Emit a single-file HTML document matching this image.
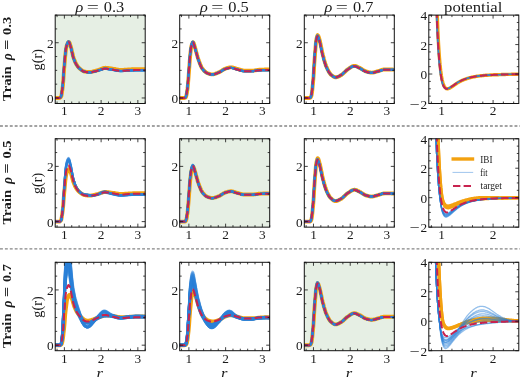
<!DOCTYPE html>
<html><head><meta charset="utf-8"><title>g(r) comparison</title><style>
html,body{margin:0;padding:0;background:#fff;}
body{width:520px;height:377px;overflow:hidden;}
svg{display:block;}
text{font-family:'Liberation Serif', 'DejaVu Serif', serif;fill:#1a1a1a;}
.tl{font-size:13px;}
.tt{font-size:13.5px;}
.rl{font-size:13px;font-weight:bold;}
.yl{font-size:12.5px;}
.xl{font-size:13.5px;font-style:italic;}
.lg{font-size:9px;}
</style></head><body>
<svg width="520" height="377" viewBox="0 0 520 377">
<defs>
<clipPath id="c00"><rect x="55.20" y="15.10" width="90.00" height="88.40"/></clipPath>
<clipPath id="c01"><rect x="179.70" y="15.10" width="90.00" height="88.40"/></clipPath>
<clipPath id="c02"><rect x="304.30" y="15.10" width="90.00" height="88.40"/></clipPath>
<clipPath id="c03"><rect x="428.80" y="15.10" width="90.00" height="88.40"/></clipPath>
<clipPath id="c10"><rect x="55.20" y="138.75" width="90.00" height="88.40"/></clipPath>
<clipPath id="c11"><rect x="179.70" y="138.75" width="90.00" height="88.40"/></clipPath>
<clipPath id="c12"><rect x="304.30" y="138.75" width="90.00" height="88.40"/></clipPath>
<clipPath id="c13"><rect x="428.80" y="138.75" width="90.00" height="88.40"/></clipPath>
<clipPath id="c20"><rect x="55.20" y="262.30" width="90.00" height="88.40"/></clipPath>
<clipPath id="c21"><rect x="179.70" y="262.30" width="90.00" height="88.40"/></clipPath>
<clipPath id="c22"><rect x="304.30" y="262.30" width="90.00" height="88.40"/></clipPath>
<clipPath id="c23"><rect x="428.80" y="262.30" width="90.00" height="88.40"/></clipPath>
</defs>
<rect width="520" height="377" fill="#fff"/>
<rect x="55.20" y="15.10" width="90.00" height="88.40" fill="#e6efe4"/>
<g clip-path="url(#c00)" fill="none" stroke-linejoin="round">
<path d="M53.4 98.0L53.9 98.0 54.5 98.0 55.1 98.0 55.6 98.0 56.2 98.0 56.8 98.0 57.3 98.0 57.9 98.0 58.4 98.0 59.0 98.0 59.6 97.9 60.1 97.7 60.7 97.3 61.3 96.3 61.8 93.4 62.4 89.4 63.0 84.7 63.5 77.5 64.1 69.3 64.7 62.4 65.2 56.2 65.8 50.6 66.4 47.0 66.9 45.1 67.5 43.6 68.1 42.5 68.6 41.9 69.2 42.2 69.8 43.4 70.3 45.1 70.9 46.8 71.4 48.9 72.0 51.4 72.6 54.0 73.1 56.3 73.7 58.1 74.3 59.7 74.8 61.1 75.4 62.5 76.0 63.6 76.5 64.6 77.1 65.5 77.7 66.3 78.2 67.0 78.8 67.7 79.4 68.2 79.9 68.7 80.5 69.2 81.1 69.6 81.6 70.1 82.2 70.5 82.8 70.8 83.3 71.1 83.9 71.4 84.4 71.5 85.0 71.6 85.6 71.7 86.1 71.8 86.7 71.9 87.3 71.9 87.8 72.0 88.4 72.0 89.0 72.0 89.5 72.0 90.1 72.0 90.7 72.0 91.2 71.9 91.8 71.8 92.4 71.7 92.9 71.5 93.5 71.4 94.1 71.2 94.6 71.1 95.2 70.9 95.7 70.7 96.3 70.6 96.9 70.4 97.4 70.3 98.0 70.1 98.6 69.9 99.1 69.7 99.7 69.5 100.3 69.2 100.8 69.0 101.4 68.8 102.0 68.6 102.5 68.4 103.1 68.2 103.7 68.0 104.2 67.9 104.8 67.9 105.4 67.8 105.9 67.8 106.5 67.9 107.1 67.9 107.6 67.9 108.2 68.0 108.7 68.1 109.3 68.1 109.9 68.2 110.4 68.3 111.0 68.4 111.6 68.5 112.1 68.6 112.7 68.7 113.3 68.8 113.8 68.9 114.4 68.9 115.0 69.0 115.5 69.2 116.1 69.3 116.7 69.4 117.2 69.5 117.8 69.6 118.4 69.7 118.9 69.8 119.5 69.9 120.1 69.9 120.6 70.0 121.2 70.0 121.7 69.9 122.3 69.9 122.9 69.9 123.4 69.9 124.0 69.8 124.6 69.8 125.1 69.8 125.7 69.7 126.3 69.7 126.8 69.6 127.4 69.6 128.0 69.5 128.5 69.5 129.1 69.4 129.7 69.4 130.2 69.4 130.8 69.4 131.4 69.3 131.9 69.3 132.5 69.3 133.0 69.2 133.6 69.2 134.2 69.2 134.7 69.2 135.3 69.1 135.9 69.1 136.4 69.1 137.0 69.1 137.6 69.1 138.1 69.1 138.7 69.1 139.3 69.1 139.8 69.1 140.4 69.1 141.0 69.1 141.5 69.1 142.1 69.1 142.7 69.1 143.2 69.2 143.8 69.2 144.4 69.2 144.9 69.2 145.5 69.2 146.0 69.3 146.6 69.3 147.2 69.3 147.7 69.3 148.3 69.4 148.9 69.4" stroke="#f3a10f" stroke-width="3.9"/>
<path d="M53.4 98.0L53.9 98.0 54.5 98.0 55.1 98.0 55.6 98.0 56.2 98.0 56.8 98.0 57.3 98.0 57.9 98.0 58.4 98.0 59.0 98.0 59.6 97.8 60.1 97.5 60.7 97.0 61.3 94.9 61.8 91.4 62.4 87.1 63.0 81.1 63.5 73.2 64.1 65.5 64.7 59.3 65.2 53.3 65.8 48.7 66.4 46.3 66.9 44.6 67.5 43.3 68.1 42.5 68.6 42.3 69.2 43.1 69.8 44.6 70.3 46.3 70.9 48.1 71.4 50.4 72.0 53.0 72.6 55.4 73.1 57.4 73.7 59.1 74.3 60.6 74.8 62.0 75.4 63.2 76.0 64.2 76.5 65.2 77.1 66.0 77.7 66.8 78.2 67.4 78.8 68.0 79.4 68.5 79.9 69.0 80.5 69.5 81.1 70.0 81.6 70.4 82.2 70.8 82.8 71.1 83.3 71.4 83.9 71.6 84.4 71.7 85.0 71.9 85.6 72.0 86.1 72.0 86.7 72.1 87.3 72.2 87.8 72.3 88.4 72.3 89.0 72.3 89.5 72.3 90.1 72.3 90.7 72.3 91.2 72.2 91.8 72.1 92.4 72.0 92.9 71.9 93.5 71.8 94.1 71.7 94.6 71.5 95.2 71.4 95.7 71.3 96.3 71.1 96.9 71.0 97.4 70.9 98.0 70.7 98.6 70.6 99.1 70.4 99.7 70.2 100.3 70.0 100.8 69.8 101.4 69.6 102.0 69.4 102.5 69.3 103.1 69.1 103.7 69.0 104.2 69.0 104.8 68.9 105.4 69.0 105.9 69.0 106.5 69.0 107.1 69.1 107.6 69.2 108.2 69.2 108.7 69.3 109.3 69.4 109.9 69.5 110.4 69.6 111.0 69.7 111.6 69.8 112.1 69.9 112.7 70.0 113.3 70.1 113.8 70.2 114.4 70.3 115.0 70.4 115.5 70.5 116.1 70.6 116.7 70.7 117.2 70.8 117.8 70.9 118.4 71.0 118.9 71.1 119.5 71.1 120.1 71.2 120.6 71.2 121.2 71.2 121.7 71.2 122.3 71.1 122.9 71.1 123.4 71.1 124.0 71.0 124.6 71.0 125.1 71.0 125.7 70.9 126.3 70.9 126.8 70.8 127.4 70.8 128.0 70.7 128.5 70.7 129.1 70.7 129.7 70.6 130.2 70.6 130.8 70.6 131.4 70.6 131.9 70.5 132.5 70.5 133.0 70.5 133.6 70.4 134.2 70.4 134.7 70.4 135.3 70.4 135.9 70.4 136.4 70.4 137.0 70.4 137.6 70.4 138.1 70.4 138.7 70.4 139.3 70.4 139.8 70.4 140.4 70.4 141.0 70.4 141.5 70.4 142.1 70.4 142.7 70.4 143.2 70.4 143.8 70.4 144.4 70.4 144.9 70.5 145.5 70.5 146.0 70.5 146.6 70.5 147.2 70.6 147.7 70.6 148.3 70.6 148.9 70.7" stroke="#2a7fd8" stroke-width="2.2" stroke-opacity="0.5"/>
<path d="M53.4 98.0L53.9 98.0 54.5 98.0 55.1 98.0 55.6 98.0 56.2 98.0 56.8 98.0 57.3 98.0 57.9 98.0 58.4 98.0 59.0 98.0 59.6 97.9 60.1 97.6 60.7 97.2 61.3 95.7 61.8 92.4 62.4 88.2 63.0 83.0 63.5 75.3 64.1 67.3 64.7 60.8 65.2 54.7 65.8 49.6 66.4 46.7 66.9 44.9 67.5 43.5 68.1 42.5 68.6 42.1 69.2 42.6 69.8 44.0 70.3 45.7 70.9 47.5 71.4 49.7 72.0 52.2 72.6 54.7 73.1 56.9 73.7 58.6 74.3 60.1 74.8 61.6 75.4 62.8 76.0 63.9 76.5 64.9 77.1 65.8 77.7 66.6 78.2 67.2 78.8 67.9 79.4 68.4 79.9 68.9 80.5 69.4 81.1 69.8 81.6 70.3 82.2 70.7 82.8 71.0 83.3 71.3 83.9 71.5 84.4 71.7 85.0 71.8 85.6 71.9 86.1 72.0 86.7 72.1 87.3 72.2 87.8 72.2 88.4 72.3 89.0 72.3 89.5 72.3 90.1 72.3 90.7 72.3 91.2 72.2 91.8 72.2 92.4 72.1 92.9 72.0 93.5 71.8 94.1 71.7 94.6 71.6 95.2 71.4 95.7 71.3 96.3 71.2 96.9 71.0 97.4 70.9 98.0 70.8 98.6 70.6 99.1 70.4 99.7 70.2 100.3 70.0 100.8 69.8 101.4 69.6 102.0 69.4 102.5 69.3 103.1 69.1 103.7 69.0 104.2 68.9 104.8 68.9 105.4 68.9 105.9 68.9 106.5 69.0 107.1 69.0 107.6 69.1 108.2 69.2 108.7 69.3 109.3 69.3 109.9 69.4 110.4 69.5 111.0 69.6 111.6 69.7 112.1 69.8 112.7 69.9 113.3 70.0 113.8 70.1 114.4 70.2 115.0 70.3 115.5 70.4 116.1 70.5 116.7 70.6 117.2 70.7 117.8 70.8 118.4 70.9 118.9 71.0 119.5 71.1 120.1 71.1 120.6 71.1 121.2 71.1 121.7 71.1 122.3 71.1 122.9 71.1 123.4 71.0 124.0 71.0 124.6 71.0 125.1 70.9 125.7 70.9 126.3 70.8 126.8 70.8 127.4 70.8 128.0 70.7 128.5 70.7 129.1 70.6 129.7 70.6 130.2 70.6 130.8 70.5 131.4 70.5 131.9 70.5 132.5 70.5 133.0 70.4 133.6 70.4 134.2 70.4 134.7 70.4 135.3 70.3 135.9 70.3 136.4 70.3 137.0 70.3 137.6 70.3 138.1 70.3 138.7 70.3 139.3 70.3 139.8 70.3 140.4 70.3 141.0 70.3 141.5 70.3 142.1 70.4 142.7 70.4 143.2 70.4 143.8 70.4 144.4 70.4 144.9 70.4 145.5 70.4 146.0 70.5 146.6 70.5 147.2 70.5 147.7 70.6 148.3 70.6 148.9 70.6" stroke="#2a7fd8" stroke-width="2.2" stroke-opacity="0.5"/>
<path d="M53.4 98.0L53.9 98.0 54.5 98.0 55.1 98.0 55.6 98.0 56.2 98.0 56.8 98.0 57.3 98.0 57.9 98.0 58.4 98.0 59.0 98.0 59.6 97.9 60.1 97.6 60.7 97.2 61.3 95.6 61.8 92.3 62.4 88.1 63.0 82.8 63.5 75.0 64.1 67.0 64.7 60.6 65.2 54.4 65.8 49.3 66.4 46.5 66.9 44.7 67.5 43.3 68.1 42.3 68.6 42.0 69.2 42.5 69.8 43.9 70.3 45.6 70.9 47.4 71.4 49.6 72.0 52.2 72.6 54.7 73.1 56.9 73.7 58.6 74.3 60.1 74.8 61.6 75.4 62.8 76.0 64.0 76.5 64.9 77.1 65.8 77.7 66.6 78.2 67.3 78.8 67.9 79.4 68.4 79.9 68.9 80.5 69.4 81.1 69.8 81.6 70.3 82.2 70.7 82.8 71.0 83.3 71.3 83.9 71.6 84.4 71.7 85.0 71.8 85.6 71.9 86.1 72.0 86.7 72.1 87.3 72.2 87.8 72.2 88.4 72.3 89.0 72.3 89.5 72.3 90.1 72.3 90.7 72.3 91.2 72.2 91.8 72.1 92.4 72.1 92.9 71.9 93.5 71.8 94.1 71.7 94.6 71.5 95.2 71.4 95.7 71.3 96.3 71.1 96.9 71.0 97.4 70.9 98.0 70.7 98.6 70.5 99.1 70.4 99.7 70.2 100.3 70.0 100.8 69.8 101.4 69.6 102.0 69.4 102.5 69.2 103.1 69.1 103.7 69.0 104.2 68.9 104.8 68.9 105.4 68.9 105.9 68.9 106.5 68.9 107.1 69.0 107.6 69.1 108.2 69.1 108.7 69.2 109.3 69.3 109.9 69.4 110.4 69.5 111.0 69.6 111.6 69.7 112.1 69.8 112.7 69.9 113.3 70.0 113.8 70.1 114.4 70.2 115.0 70.3 115.5 70.4 116.1 70.5 116.7 70.6 117.2 70.7 117.8 70.8 118.4 70.9 118.9 71.0 119.5 71.0 120.1 71.1 120.6 71.1 121.2 71.1 121.7 71.1 122.3 71.1 122.9 71.0 123.4 71.0 124.0 71.0 124.6 70.9 125.1 70.9 125.7 70.8 126.3 70.8 126.8 70.8 127.4 70.7 128.0 70.7 128.5 70.6 129.1 70.6 129.7 70.6 130.2 70.5 130.8 70.5 131.4 70.5 131.9 70.5 132.5 70.4 133.0 70.4 133.6 70.4 134.2 70.3 134.7 70.3 135.3 70.3 135.9 70.3 136.4 70.3 137.0 70.3 137.6 70.3 138.1 70.3 138.7 70.3 139.3 70.3 139.8 70.3 140.4 70.3 141.0 70.3 141.5 70.3 142.1 70.3 142.7 70.3 143.2 70.3 143.8 70.3 144.4 70.4 144.9 70.4 145.5 70.4 146.0 70.4 146.6 70.5 147.2 70.5 147.7 70.5 148.3 70.5 148.9 70.6" stroke="#2a7fd8" stroke-width="2.2" stroke-opacity="0.5"/>
<path d="M53.4 98.0L53.9 98.0 54.5 98.0 55.1 98.0 55.6 98.0 56.2 98.0 56.8 98.0 57.3 98.0 57.9 98.0 58.4 98.0 59.0 98.0 59.6 97.9 60.1 97.6 60.7 97.1 61.3 95.5 61.8 92.2 62.4 88.0 63.0 82.6 63.5 74.7 64.1 66.7 64.7 60.3 65.2 54.1 65.8 49.1 66.4 46.3 66.9 44.5 67.5 43.1 68.1 42.1 68.6 41.8 69.2 42.4 69.8 43.8 70.3 45.6 70.9 47.3 71.4 49.6 72.0 52.2 72.6 54.7 73.1 56.9 73.7 58.6 74.3 60.1 74.8 61.6 75.4 62.9 76.0 64.0 76.5 64.9 77.1 65.8 77.7 66.6 78.2 67.3 78.8 67.9 79.4 68.4 79.9 68.9 80.5 69.4 81.1 69.9 81.6 70.3 82.2 70.7 82.8 71.0 83.3 71.3 83.9 71.6 84.4 71.7 85.0 71.8 85.6 71.9 86.1 72.0 86.7 72.1 87.3 72.2 87.8 72.2 88.4 72.3 89.0 72.3 89.5 72.3 90.1 72.3 90.7 72.3 91.2 72.2 91.8 72.1 92.4 72.0 92.9 71.9 93.5 71.8 94.1 71.7 94.6 71.5 95.2 71.4 95.7 71.3 96.3 71.1 96.9 71.0 97.4 70.9 98.0 70.7 98.6 70.5 99.1 70.3 99.7 70.1 100.3 69.9 100.8 69.7 101.4 69.5 102.0 69.3 102.5 69.2 103.1 69.0 103.7 68.9 104.2 68.9 104.8 68.8 105.4 68.8 105.9 68.9 106.5 68.9 107.1 68.9 107.6 69.0 108.2 69.1 108.7 69.2 109.3 69.3 109.9 69.4 110.4 69.5 111.0 69.6 111.6 69.7 112.1 69.8 112.7 69.8 113.3 69.9 113.8 70.0 114.4 70.1 115.0 70.2 115.5 70.3 116.1 70.4 116.7 70.6 117.2 70.7 117.8 70.8 118.4 70.9 118.9 70.9 119.5 71.0 120.1 71.0 120.6 71.1 121.2 71.1 121.7 71.0 122.3 71.0 122.9 71.0 123.4 71.0 124.0 70.9 124.6 70.9 125.1 70.9 125.7 70.8 126.3 70.8 126.8 70.7 127.4 70.7 128.0 70.6 128.5 70.6 129.1 70.6 129.7 70.5 130.2 70.5 130.8 70.5 131.4 70.4 131.9 70.4 132.5 70.4 133.0 70.4 133.6 70.3 134.2 70.3 134.7 70.3 135.3 70.3 135.9 70.2 136.4 70.2 137.0 70.2 137.6 70.2 138.1 70.2 138.7 70.2 139.3 70.2 139.8 70.2 140.4 70.2 141.0 70.3 141.5 70.3 142.1 70.3 142.7 70.3 143.2 70.3 143.8 70.3 144.4 70.3 144.9 70.3 145.5 70.4 146.0 70.4 146.6 70.4 147.2 70.4 147.7 70.5 148.3 70.5 148.9 70.5" stroke="#2a7fd8" stroke-width="2.2" stroke-opacity="0.5"/>
<path d="M53.4 98.0L53.9 98.0 54.5 98.0 55.1 98.0 55.6 98.0 56.2 98.0 56.8 98.0 57.3 98.0 57.9 98.0 58.4 98.0 59.0 98.0 59.6 97.9 60.1 97.6 60.7 97.1 61.3 95.4 61.8 92.1 62.4 87.9 63.0 82.3 63.5 74.4 64.1 66.4 64.7 60.0 65.2 53.8 65.8 48.8 66.4 46.1 66.9 44.3 67.5 42.8 68.1 41.9 68.6 41.6 69.2 42.3 69.8 43.7 70.3 45.5 70.9 47.3 71.4 49.6 72.0 52.2 72.6 54.8 73.1 56.9 73.7 58.6 74.3 60.2 74.8 61.6 75.4 62.9 76.0 64.0 76.5 64.9 77.1 65.8 77.7 66.6 78.2 67.3 78.8 67.9 79.4 68.4 79.9 68.9 80.5 69.4 81.1 69.9 81.6 70.3 82.2 70.7 82.8 71.0 83.3 71.3 83.9 71.6 84.4 71.7 85.0 71.8 85.6 71.9 86.1 72.0 86.7 72.1 87.3 72.2 87.8 72.2 88.4 72.3 89.0 72.3 89.5 72.3 90.1 72.3 90.7 72.3 91.2 72.2 91.8 72.1 92.4 72.0 92.9 71.9 93.5 71.8 94.1 71.7 94.6 71.5 95.2 71.4 95.7 71.2 96.3 71.1 96.9 71.0 97.4 70.8 98.0 70.7 98.6 70.5 99.1 70.3 99.7 70.1 100.3 69.9 100.8 69.7 101.4 69.5 102.0 69.3 102.5 69.1 103.1 69.0 103.7 68.9 104.2 68.8 104.8 68.8 105.4 68.8 105.9 68.8 106.5 68.9 107.1 68.9 107.6 69.0 108.2 69.0 108.7 69.1 109.3 69.2 109.9 69.3 110.4 69.4 111.0 69.5 111.6 69.6 112.1 69.7 112.7 69.8 113.3 69.9 113.8 70.0 114.4 70.1 115.0 70.2 115.5 70.3 116.1 70.4 116.7 70.5 117.2 70.6 117.8 70.7 118.4 70.8 118.9 70.9 119.5 71.0 120.1 71.0 120.6 71.0 121.2 71.0 121.7 71.0 122.3 71.0 122.9 71.0 123.4 70.9 124.0 70.9 124.6 70.9 125.1 70.8 125.7 70.8 126.3 70.7 126.8 70.7 127.4 70.6 128.0 70.6 128.5 70.5 129.1 70.5 129.7 70.5 130.2 70.5 130.8 70.4 131.4 70.4 131.9 70.4 132.5 70.3 133.0 70.3 133.6 70.3 134.2 70.3 134.7 70.2 135.3 70.2 135.9 70.2 136.4 70.2 137.0 70.2 137.6 70.2 138.1 70.2 138.7 70.2 139.3 70.2 139.8 70.2 140.4 70.2 141.0 70.2 141.5 70.2 142.1 70.2 142.7 70.2 143.2 70.3 143.8 70.3 144.4 70.3 144.9 70.3 145.5 70.3 146.0 70.3 146.6 70.4 147.2 70.4 147.7 70.4 148.3 70.5 148.9 70.5" stroke="#2a7fd8" stroke-width="2.2" stroke-opacity="0.5"/>
<path d="M53.4 98.0L53.9 98.0 54.5 98.0 55.1 98.0 55.6 98.0 56.2 98.0 56.8 98.0 57.3 98.0 57.9 98.0 58.4 98.0 59.0 98.0 59.6 97.9 60.1 97.6 60.7 97.1 61.3 95.4 61.8 92.0 62.4 87.8 63.0 82.1 63.5 74.1 64.1 66.1 64.7 59.7 65.2 53.5 65.8 48.5 66.4 45.9 66.9 44.1 67.5 42.6 68.1 41.7 68.6 41.4 69.2 42.1 69.8 43.6 70.3 45.4 70.9 47.2 71.4 49.6 72.0 52.2 72.6 54.8 73.1 56.9 73.7 58.6 74.3 60.2 74.8 61.6 75.4 62.9 76.0 64.0 76.5 64.9 77.1 65.8 77.7 66.6 78.2 67.3 78.8 67.9 79.4 68.4 79.9 68.9 80.5 69.4 81.1 69.9 81.6 70.3 82.2 70.7 82.8 71.1 83.3 71.3 83.9 71.6 84.4 71.7 85.0 71.8 85.6 71.9 86.1 72.0 86.7 72.1 87.3 72.2 87.8 72.2 88.4 72.3 89.0 72.3 89.5 72.3 90.1 72.3 90.7 72.3 91.2 72.2 91.8 72.1 92.4 72.0 92.9 71.9 93.5 71.8 94.1 71.6 94.6 71.5 95.2 71.4 95.7 71.2 96.3 71.1 96.9 70.9 97.4 70.8 98.0 70.6 98.6 70.5 99.1 70.3 99.7 70.1 100.3 69.8 100.8 69.6 101.4 69.4 102.0 69.3 102.5 69.1 103.1 69.0 103.7 68.8 104.2 68.8 104.8 68.7 105.4 68.7 105.9 68.8 106.5 68.8 107.1 68.9 107.6 68.9 108.2 69.0 108.7 69.1 109.3 69.2 109.9 69.3 110.4 69.4 111.0 69.5 111.6 69.6 112.1 69.7 112.7 69.8 113.3 69.9 113.8 69.9 114.4 70.0 115.0 70.1 115.5 70.3 116.1 70.4 116.7 70.5 117.2 70.6 117.8 70.7 118.4 70.8 118.9 70.9 119.5 70.9 120.1 71.0 120.6 71.0 121.2 71.0 121.7 71.0 122.3 71.0 122.9 70.9 123.4 70.9 124.0 70.9 124.6 70.8 125.1 70.8 125.7 70.7 126.3 70.7 126.8 70.6 127.4 70.6 128.0 70.5 128.5 70.5 129.1 70.5 129.7 70.4 130.2 70.4 130.8 70.4 131.4 70.4 131.9 70.3 132.5 70.3 133.0 70.3 133.6 70.2 134.2 70.2 134.7 70.2 135.3 70.2 135.9 70.2 136.4 70.2 137.0 70.2 137.6 70.2 138.1 70.2 138.7 70.2 139.3 70.2 139.8 70.2 140.4 70.2 141.0 70.2 141.5 70.2 142.1 70.2 142.7 70.2 143.2 70.2 143.8 70.2 144.4 70.2 144.9 70.3 145.5 70.3 146.0 70.3 146.6 70.3 147.2 70.4 147.7 70.4 148.3 70.4 148.9 70.5" stroke="#2a7fd8" stroke-width="2.2" stroke-opacity="0.5"/>
<path d="M53.4 98.0L53.9 98.0 54.5 98.0 55.1 98.0 55.6 98.0 56.2 98.0 56.8 98.0 57.3 98.0 57.9 98.0 58.4 98.0 59.0 98.0 59.6 97.9 60.1 97.6 60.7 97.1 61.3 95.3 61.8 91.9 62.4 87.7 63.0 81.9 63.5 73.8 64.1 65.9 64.7 59.4 65.2 53.2 65.8 48.3 66.4 45.6 66.9 43.8 67.5 42.4 68.1 41.5 68.6 41.3 69.2 42.0 69.8 43.5 70.3 45.3 70.9 47.2 71.4 49.6 72.0 52.2 72.6 54.8 73.1 56.9 73.7 58.6 74.3 60.2 74.8 61.6 75.4 62.9 76.0 64.0 76.5 64.9 77.1 65.8 77.7 66.6 78.2 67.3 78.8 67.9 79.4 68.4 79.9 68.9 80.5 69.4 81.1 69.9 81.6 70.3 82.2 70.7 82.8 71.1 83.3 71.4 83.9 71.6 84.4 71.7 85.0 71.8 85.6 71.9 86.1 72.0 86.7 72.1 87.3 72.2 87.8 72.2 88.4 72.3 89.0 72.3 89.5 72.3 90.1 72.3 90.7 72.3 91.2 72.2 91.8 72.1 92.4 72.0 92.9 71.9 93.5 71.8 94.1 71.6 94.6 71.5 95.2 71.3 95.7 71.2 96.3 71.1 96.9 70.9 97.4 70.8 98.0 70.6 98.6 70.4 99.1 70.2 99.7 70.0 100.3 69.8 100.8 69.6 101.4 69.4 102.0 69.2 102.5 69.1 103.1 68.9 103.7 68.8 104.2 68.7 104.8 68.7 105.4 68.7 105.9 68.7 106.5 68.8 107.1 68.8 107.6 68.9 108.2 69.0 108.7 69.1 109.3 69.1 109.9 69.2 110.4 69.3 111.0 69.4 111.6 69.5 112.1 69.6 112.7 69.7 113.3 69.8 113.8 69.9 114.4 70.0 115.0 70.1 115.5 70.2 116.1 70.3 116.7 70.4 117.2 70.6 117.8 70.7 118.4 70.8 118.9 70.8 119.5 70.9 120.1 70.9 120.6 70.9 121.2 70.9 121.7 70.9 122.3 70.9 122.9 70.9 123.4 70.9 124.0 70.8 124.6 70.8 125.1 70.7 125.7 70.7 126.3 70.6 126.8 70.6 127.4 70.6 128.0 70.5 128.5 70.5 129.1 70.4 129.7 70.4 130.2 70.4 130.8 70.3 131.4 70.3 131.9 70.3 132.5 70.3 133.0 70.2 133.6 70.2 134.2 70.2 134.7 70.2 135.3 70.1 135.9 70.1 136.4 70.1 137.0 70.1 137.6 70.1 138.1 70.1 138.7 70.1 139.3 70.1 139.8 70.1 140.4 70.1 141.0 70.1 141.5 70.1 142.1 70.1 142.7 70.2 143.2 70.2 143.8 70.2 144.4 70.2 144.9 70.2 145.5 70.2 146.0 70.3 146.6 70.3 147.2 70.3 147.7 70.4 148.3 70.4 148.9 70.4" stroke="#2a7fd8" stroke-width="2.2" stroke-opacity="0.5"/>
<path d="M53.4 98.0L53.9 98.0 54.5 98.0 55.1 98.0 55.6 98.0 56.2 98.0 56.8 98.0 57.3 98.0 57.9 98.0 58.4 98.0 59.0 98.0 59.6 97.9 60.1 97.6 60.7 97.1 61.3 95.2 61.8 91.8 62.4 87.5 63.0 81.6 63.5 73.5 64.1 65.6 64.7 59.1 65.2 52.9 65.8 48.0 66.4 45.4 66.9 43.6 67.5 42.2 68.1 41.3 68.6 41.1 69.2 41.9 69.8 43.4 70.3 45.3 70.9 47.1 71.4 49.5 72.0 52.2 72.6 54.8 73.1 56.9 73.7 58.6 74.3 60.2 74.8 61.6 75.4 62.9 76.0 64.0 76.5 65.0 77.1 65.8 77.7 66.6 78.2 67.3 78.8 67.9 79.4 68.4 79.9 68.9 80.5 69.4 81.1 69.9 81.6 70.3 82.2 70.7 82.8 71.1 83.3 71.4 83.9 71.6 84.4 71.7 85.0 71.9 85.6 72.0 86.1 72.0 86.7 72.1 87.3 72.2 87.8 72.2 88.4 72.3 89.0 72.3 89.5 72.3 90.1 72.3 90.7 72.3 91.2 72.2 91.8 72.1 92.4 72.0 92.9 71.9 93.5 71.7 94.1 71.6 94.6 71.5 95.2 71.3 95.7 71.2 96.3 71.0 96.9 70.9 97.4 70.8 98.0 70.6 98.6 70.4 99.1 70.2 99.7 70.0 100.3 69.8 100.8 69.6 101.4 69.4 102.0 69.2 102.5 69.0 103.1 68.9 103.7 68.8 104.2 68.7 104.8 68.7 105.4 68.7 105.9 68.7 106.5 68.7 107.1 68.8 107.6 68.9 108.2 68.9 108.7 69.0 109.3 69.1 109.9 69.2 110.4 69.3 111.0 69.4 111.6 69.5 112.1 69.6 112.7 69.7 113.3 69.8 113.8 69.9 114.4 70.0 115.0 70.1 115.5 70.2 116.1 70.3 116.7 70.4 117.2 70.5 117.8 70.6 118.4 70.7 118.9 70.8 119.5 70.9 120.1 70.9 120.6 70.9 121.2 70.9 121.7 70.9 122.3 70.9 122.9 70.9 123.4 70.8 124.0 70.8 124.6 70.7 125.1 70.7 125.7 70.7 126.3 70.6 126.8 70.6 127.4 70.5 128.0 70.5 128.5 70.4 129.1 70.4 129.7 70.4 130.2 70.3 130.8 70.3 131.4 70.3 131.9 70.2 132.5 70.2 133.0 70.2 133.6 70.2 134.2 70.1 134.7 70.1 135.3 70.1 135.9 70.1 136.4 70.1 137.0 70.1 137.6 70.1 138.1 70.1 138.7 70.1 139.3 70.1 139.8 70.1 140.4 70.1 141.0 70.1 141.5 70.1 142.1 70.1 142.7 70.1 143.2 70.1 143.8 70.1 144.4 70.2 144.9 70.2 145.5 70.2 146.0 70.2 146.6 70.3 147.2 70.3 147.7 70.3 148.3 70.4 148.9 70.4" stroke="#2a7fd8" stroke-width="2.2" stroke-opacity="0.5"/>
<path d="M53.4 98.0L53.9 98.0 54.5 98.0 55.1 98.0 55.6 98.0 56.2 98.0 56.8 98.0 57.3 98.0 57.9 98.0 58.4 98.0 59.0 98.0 59.6 97.9 60.1 97.6 60.7 97.2 61.3 95.7 61.8 92.5 62.4 88.3 63.0 83.0 63.5 75.3 64.1 67.3 64.7 60.8 65.2 54.6 65.8 49.5 66.4 46.5 66.9 44.7 67.5 43.3 68.1 42.3 68.6 41.9 69.2 42.4 69.8 43.8 70.3 45.5 70.9 47.3 71.4 49.5 72.0 52.1 72.6 54.6 73.1 56.8 73.7 58.5 74.3 60.1 74.8 61.5 75.4 62.8 76.0 63.9 76.5 64.9 77.1 65.7 77.7 66.5 78.2 67.2 78.8 67.8 79.4 68.4 79.9 68.9 80.5 69.4 81.1 69.8 81.6 70.2 82.2 70.6 82.8 71.0 83.3 71.3 83.9 71.5 84.4 71.7 85.0 71.8 85.6 71.9 86.1 72.0 86.7 72.1 87.3 72.1 87.8 72.2 88.4 72.2 89.0 72.3 89.5 72.3 90.1 72.3 90.7 72.2 91.2 72.2 91.8 72.1 92.4 72.0 92.9 71.9 93.5 71.7 94.1 71.6 94.6 71.5 95.2 71.3 95.7 71.2 96.3 71.0 96.9 70.9 97.4 70.8 98.0 70.6 98.6 70.4 99.1 70.2 99.7 70.0 100.3 69.8 100.8 69.6 101.4 69.4 102.0 69.2 102.5 69.1 103.1 68.9 103.7 68.8 104.2 68.7 104.8 68.7 105.4 68.7 105.9 68.7 106.5 68.8 107.1 68.8 107.6 68.9 108.2 68.9 108.7 69.0 109.3 69.1 109.9 69.2 110.4 69.3 111.0 69.4 111.6 69.5 112.1 69.6 112.7 69.7 113.3 69.8 113.8 69.9 114.4 69.9 115.0 70.1 115.5 70.2 116.1 70.3 116.7 70.4 117.2 70.5 117.8 70.6 118.4 70.7 118.9 70.8 119.5 70.8 120.1 70.9 120.6 70.9 121.2 70.9 121.7 70.9 122.3 70.9 122.9 70.8 123.4 70.8 124.0 70.8 124.6 70.7 125.1 70.7 125.7 70.7 126.3 70.6 126.8 70.6 127.4 70.5 128.0 70.5 128.5 70.4 129.1 70.4 129.7 70.4 130.2 70.3 130.8 70.3 131.4 70.3 131.9 70.3 132.5 70.2 133.0 70.2 133.6 70.2 134.2 70.1 134.7 70.1 135.3 70.1 135.9 70.1 136.4 70.1 137.0 70.1 137.6 70.1 138.1 70.1 138.7 70.1 139.3 70.1 139.8 70.1 140.4 70.1 141.0 70.1 141.5 70.1 142.1 70.1 142.7 70.1 143.2 70.1 143.8 70.1 144.4 70.2 144.9 70.2 145.5 70.2 146.0 70.2 146.6 70.3 147.2 70.3 147.7 70.3 148.3 70.3 148.9 70.4" stroke="#c8234f" stroke-width="2" stroke-dasharray="7.4 3.2"/>
</g>
<path d="M64.38 103.50 v-3.50 M64.38 15.10 v3.50 M101.12 103.50 v-3.50 M101.12 15.10 v3.50 M137.85 103.50 v-3.50 M137.85 15.10 v3.50 M57.04 103.50 v-2.00 M57.04 15.10 v2.00 M71.73 103.50 v-2.00 M71.73 15.10 v2.00 M79.08 103.50 v-2.00 M79.08 15.10 v2.00 M86.42 103.50 v-2.00 M86.42 15.10 v2.00 M93.77 103.50 v-2.00 M93.77 15.10 v2.00 M108.47 103.50 v-2.00 M108.47 15.10 v2.00 M115.81 103.50 v-2.00 M115.81 15.10 v2.00 M123.16 103.50 v-2.00 M123.16 15.10 v2.00 M130.51 103.50 v-2.00 M130.51 15.10 v2.00 M145.20 103.50 v-2.00 M145.20 15.10 v2.00 M55.20 97.97 h3.50 M145.20 97.97 h-3.50 M55.20 42.73 h3.50 M145.20 42.73 h-3.50 M55.20 84.16 h2.00 M145.20 84.16 h-2.00 M55.20 70.35 h2.00 M145.20 70.35 h-2.00 M55.20 56.54 h2.00 M145.20 56.54 h-2.00 M55.20 28.91 h2.00 M145.20 28.91 h-2.00 M55.20 15.10 h2.00 M145.20 15.10 h-2.00" stroke="#111" stroke-width="0.8" fill="none"/>
<rect x="55.20" y="15.10" width="90.00" height="88.40" fill="none" stroke="#111" stroke-width="1"/>
<text x="64.38" y="115.30" text-anchor="middle" font-size="13.3">1</text>
<text x="101.12" y="115.30" text-anchor="middle" font-size="13.3">2</text>
<text x="137.85" y="115.30" text-anchor="middle" font-size="13.3">3</text>
<text x="53.60" y="102.97" text-anchor="end" font-size="13.3">0</text>
<text x="53.60" y="47.73" text-anchor="end" font-size="13.3">2</text>
<g clip-path="url(#c01)" fill="none" stroke-linejoin="round">
<path d="M177.9 98.0L178.4 98.0 179.0 98.0 179.6 98.0 180.1 98.0 180.7 98.0 181.3 98.0 181.8 98.0 182.4 98.0 182.9 98.0 183.5 98.0 184.1 98.0 184.6 97.9 185.2 97.7 185.8 97.2 186.3 95.9 186.9 92.9 187.5 88.8 188.0 83.8 188.6 76.4 189.2 68.3 189.7 61.3 190.3 54.4 190.9 49.1 191.4 46.3 192.0 44.1 192.6 42.6 193.1 42.2 193.7 43.1 194.3 44.9 194.8 46.9 195.4 48.7 195.9 50.7 196.5 52.9 197.1 55.0 197.6 57.0 198.2 58.9 198.8 60.5 199.3 62.0 199.9 63.5 200.5 65.0 201.0 66.3 201.6 67.4 202.2 68.4 202.7 69.1 203.3 69.8 203.9 70.5 204.4 71.1 205.0 71.6 205.6 72.1 206.1 72.5 206.7 72.8 207.3 73.1 207.8 73.3 208.4 73.5 208.9 73.7 209.5 73.9 210.1 74.1 210.6 74.2 211.2 74.3 211.8 74.4 212.3 74.4 212.9 74.4 213.5 74.3 214.0 74.2 214.6 74.0 215.2 73.8 215.7 73.6 216.3 73.4 216.9 73.2 217.4 73.0 218.0 72.7 218.6 72.5 219.1 72.2 219.7 72.0 220.2 71.7 220.8 71.3 221.4 71.0 221.9 70.6 222.5 70.2 223.1 69.8 223.6 69.5 224.2 69.1 224.8 68.9 225.3 68.6 225.9 68.5 226.5 68.3 227.0 68.1 227.6 67.9 228.2 67.8 228.7 67.6 229.3 67.5 229.9 67.4 230.4 67.4 231.0 67.3 231.6 67.4 232.1 67.4 232.7 67.5 233.2 67.7 233.8 67.8 234.4 68.0 234.9 68.2 235.5 68.4 236.1 68.6 236.6 68.8 237.2 68.9 237.8 69.1 238.3 69.2 238.9 69.4 239.5 69.6 240.0 69.7 240.6 69.9 241.2 70.1 241.7 70.2 242.3 70.4 242.9 70.5 243.4 70.6 244.0 70.6 244.6 70.6 245.1 70.6 245.7 70.6 246.2 70.6 246.8 70.6 247.4 70.6 247.9 70.6 248.5 70.6 249.1 70.6 249.6 70.6 250.2 70.6 250.8 70.6 251.3 70.6 251.9 70.6 252.5 70.6 253.0 70.6 253.6 70.6 254.2 70.5 254.7 70.4 255.3 70.3 255.9 70.2 256.4 70.2 257.0 70.1 257.5 70.0 258.1 69.9 258.7 69.8 259.2 69.8 259.8 69.8 260.4 69.7 260.9 69.7 261.5 69.7 262.1 69.6 262.6 69.6 263.2 69.6 263.8 69.6 264.3 69.6 264.9 69.5 265.5 69.5 266.0 69.5 266.6 69.5 267.2 69.5 267.7 69.5 268.3 69.5 268.9 69.5 269.4 69.6 270.0 69.6 270.5 69.6 271.1 69.6 271.7 69.6 272.2 69.7 272.8 69.7 273.4 69.7" stroke="#f3a10f" stroke-width="3.9"/>
<path d="M177.9 98.0L178.4 98.0 179.0 98.0 179.6 98.0 180.1 98.0 180.7 98.0 181.3 98.0 181.8 98.0 182.4 98.0 182.9 98.0 183.5 98.0 184.1 98.0 184.6 97.8 185.2 97.5 185.8 96.8 186.3 94.4 186.9 90.7 187.5 86.4 188.0 80.1 188.6 72.1 189.2 64.5 189.7 57.8 190.3 51.6 190.9 47.9 191.4 45.4 192.0 43.6 192.6 42.6 193.1 42.9 193.7 44.3 194.3 46.3 194.8 48.2 195.4 50.0 195.9 52.1 196.5 54.2 197.1 56.2 197.6 58.2 198.2 59.8 198.8 61.4 199.3 62.9 199.9 64.4 200.5 65.7 201.0 66.9 201.6 67.9 202.2 68.8 202.7 69.5 203.3 70.2 203.9 70.8 204.4 71.4 205.0 71.9 205.6 72.3 206.1 72.7 206.7 73.0 207.3 73.2 207.8 73.5 208.4 73.7 208.9 73.9 209.5 74.1 210.1 74.2 210.6 74.3 211.2 74.4 211.8 74.5 212.3 74.4 212.9 74.4 213.5 74.3 214.0 74.2 214.6 74.0 215.2 73.9 215.7 73.7 216.3 73.5 216.9 73.2 217.4 73.0 218.0 72.8 218.6 72.6 219.1 72.3 219.7 72.1 220.2 71.7 220.8 71.4 221.4 71.0 221.9 70.7 222.5 70.3 223.1 70.0 223.6 69.7 224.2 69.4 224.8 69.1 225.3 69.0 225.9 68.8 226.5 68.6 227.0 68.5 227.6 68.3 228.2 68.2 228.7 68.1 229.3 68.0 229.9 67.9 230.4 67.9 231.0 67.9 231.6 67.9 232.1 68.0 232.7 68.2 233.2 68.3 233.8 68.5 234.4 68.7 234.9 68.9 235.5 69.1 236.1 69.3 236.6 69.4 237.2 69.6 237.8 69.7 238.3 69.9 238.9 70.1 239.5 70.2 240.0 70.4 240.6 70.5 241.2 70.7 241.7 70.8 242.3 71.0 242.9 71.1 243.4 71.1 244.0 71.2 244.6 71.2 245.1 71.2 245.7 71.2 246.2 71.2 246.8 71.2 247.4 71.2 247.9 71.2 248.5 71.2 249.1 71.2 249.6 71.2 250.2 71.2 250.8 71.2 251.3 71.2 251.9 71.2 252.5 71.1 253.0 71.1 253.6 71.1 254.2 71.0 254.7 70.9 255.3 70.8 255.9 70.7 256.4 70.7 257.0 70.6 257.5 70.5 258.1 70.4 258.7 70.4 259.2 70.3 259.8 70.3 260.4 70.3 260.9 70.2 261.5 70.2 262.1 70.2 262.6 70.2 263.2 70.1 263.8 70.1 264.3 70.1 264.9 70.1 265.5 70.1 266.0 70.1 266.6 70.1 267.2 70.1 267.7 70.1 268.3 70.1 268.9 70.1 269.4 70.1 270.0 70.1 270.5 70.2 271.1 70.2 271.7 70.2 272.2 70.2 272.8 70.3 273.4 70.3" stroke="#2a7fd8" stroke-width="2.2" stroke-opacity="0.5"/>
<path d="M177.9 98.0L178.4 98.0 179.0 98.0 179.6 98.0 180.1 98.0 180.7 98.0 181.3 98.0 181.8 98.0 182.4 98.0 182.9 98.0 183.5 98.0 184.1 98.0 184.6 97.9 185.2 97.6 185.8 97.1 186.3 95.2 186.9 91.8 187.5 87.6 188.0 82.0 188.6 74.2 189.2 66.3 189.7 59.5 190.3 53.0 190.9 48.4 191.4 45.9 192.0 43.8 192.6 42.6 193.1 42.5 193.7 43.7 194.3 45.6 194.8 47.6 195.4 49.4 195.9 51.4 196.5 53.5 197.1 55.6 197.6 57.6 198.2 59.4 198.8 60.9 199.3 62.5 199.9 64.0 200.5 65.3 201.0 66.6 201.6 67.7 202.2 68.6 202.7 69.3 203.3 70.0 203.9 70.7 204.4 71.2 205.0 71.8 205.6 72.2 206.1 72.6 206.7 72.9 207.3 73.2 207.8 73.4 208.4 73.6 208.9 73.8 209.5 74.0 210.1 74.2 210.6 74.3 211.2 74.4 211.8 74.5 212.3 74.5 212.9 74.4 213.5 74.4 214.0 74.2 214.6 74.1 215.2 73.9 215.7 73.7 216.3 73.5 216.9 73.3 217.4 73.1 218.0 72.9 218.6 72.6 219.1 72.4 219.7 72.1 220.2 71.8 220.8 71.5 221.4 71.1 221.9 70.8 222.5 70.4 223.1 70.1 223.6 69.7 224.2 69.4 224.8 69.2 225.3 69.0 225.9 68.8 226.5 68.7 227.0 68.5 227.6 68.4 228.2 68.2 228.7 68.1 229.3 68.0 229.9 67.9 230.4 67.9 231.0 67.9 231.6 67.9 232.1 68.0 232.7 68.1 233.2 68.3 233.8 68.4 234.4 68.6 234.9 68.8 235.5 69.0 236.1 69.2 236.6 69.4 237.2 69.5 237.8 69.7 238.3 69.8 238.9 70.0 239.5 70.2 240.0 70.3 240.6 70.5 241.2 70.7 241.7 70.8 242.3 70.9 242.9 71.0 243.4 71.1 244.0 71.2 244.6 71.2 245.1 71.2 245.7 71.2 246.2 71.2 246.8 71.2 247.4 71.2 247.9 71.2 248.5 71.2 249.1 71.2 249.6 71.2 250.2 71.2 250.8 71.2 251.3 71.2 251.9 71.2 252.5 71.2 253.0 71.1 253.6 71.1 254.2 71.0 254.7 70.9 255.3 70.8 255.9 70.8 256.4 70.7 257.0 70.6 257.5 70.5 258.1 70.4 258.7 70.4 259.2 70.3 259.8 70.3 260.4 70.3 260.9 70.3 261.5 70.2 262.1 70.2 262.6 70.2 263.2 70.1 263.8 70.1 264.3 70.1 264.9 70.1 265.5 70.1 266.0 70.1 266.6 70.1 267.2 70.1 267.7 70.1 268.3 70.1 268.9 70.1 269.4 70.1 270.0 70.1 270.5 70.2 271.1 70.2 271.7 70.2 272.2 70.2 272.8 70.3 273.4 70.3" stroke="#2a7fd8" stroke-width="2.2" stroke-opacity="0.5"/>
<path d="M177.9 98.0L178.4 98.0 179.0 98.0 179.6 98.0 180.1 98.0 180.7 98.0 181.3 98.0 181.8 98.0 182.4 98.0 182.9 98.0 183.5 98.0 184.1 98.0 184.6 97.9 185.2 97.6 185.8 97.1 186.3 95.2 186.9 91.7 187.5 87.4 188.0 81.8 188.6 73.9 189.2 66.0 189.7 59.2 190.3 52.6 190.9 48.2 191.4 45.7 192.0 43.6 192.6 42.4 193.1 42.4 193.7 43.6 194.3 45.5 194.8 47.5 195.4 49.4 195.9 51.4 196.5 53.5 197.1 55.6 197.6 57.6 198.2 59.4 198.8 60.9 199.3 62.5 199.9 64.0 200.5 65.4 201.0 66.6 201.6 67.7 202.2 68.6 202.7 69.3 203.3 70.0 203.9 70.7 204.4 71.3 205.0 71.8 205.6 72.2 206.1 72.6 206.7 73.0 207.3 73.2 207.8 73.4 208.4 73.7 208.9 73.9 209.5 74.0 210.1 74.2 210.6 74.3 211.2 74.4 211.8 74.5 212.3 74.5 212.9 74.4 213.5 74.4 214.0 74.3 214.6 74.1 215.2 73.9 215.7 73.7 216.3 73.5 216.9 73.3 217.4 73.1 218.0 72.9 218.6 72.6 219.1 72.4 219.7 72.1 220.2 71.8 220.8 71.5 221.4 71.1 221.9 70.8 222.5 70.4 223.1 70.1 223.6 69.7 224.2 69.4 224.8 69.2 225.3 69.0 225.9 68.8 226.5 68.7 227.0 68.5 227.6 68.3 228.2 68.2 228.7 68.1 229.3 68.0 229.9 67.9 230.4 67.9 231.0 67.9 231.6 67.9 232.1 68.0 232.7 68.1 233.2 68.3 233.8 68.4 234.4 68.6 234.9 68.8 235.5 69.0 236.1 69.2 236.6 69.4 237.2 69.5 237.8 69.7 238.3 69.8 238.9 70.0 239.5 70.2 240.0 70.4 240.6 70.5 241.2 70.7 241.7 70.8 242.3 70.9 242.9 71.0 243.4 71.1 244.0 71.2 244.6 71.2 245.1 71.2 245.7 71.2 246.2 71.2 246.8 71.2 247.4 71.2 247.9 71.2 248.5 71.2 249.1 71.2 249.6 71.2 250.2 71.2 250.8 71.2 251.3 71.2 251.9 71.2 252.5 71.2 253.0 71.1 253.6 71.1 254.2 71.0 254.7 70.9 255.3 70.8 255.9 70.8 256.4 70.7 257.0 70.6 257.5 70.5 258.1 70.4 258.7 70.4 259.2 70.3 259.8 70.3 260.4 70.3 260.9 70.3 261.5 70.2 262.1 70.2 262.6 70.2 263.2 70.1 263.8 70.1 264.3 70.1 264.9 70.1 265.5 70.1 266.0 70.1 266.6 70.1 267.2 70.1 267.7 70.1 268.3 70.1 268.9 70.1 269.4 70.1 270.0 70.1 270.5 70.2 271.1 70.2 271.7 70.2 272.2 70.2 272.8 70.3 273.4 70.3" stroke="#2a7fd8" stroke-width="2.2" stroke-opacity="0.5"/>
<path d="M177.9 98.0L178.4 98.0 179.0 98.0 179.6 98.0 180.1 98.0 180.7 98.0 181.3 98.0 181.8 98.0 182.4 98.0 182.9 98.0 183.5 98.0 184.1 98.0 184.6 97.9 185.2 97.6 185.8 97.0 186.3 95.1 186.9 91.6 187.5 87.3 188.0 81.5 188.6 73.7 189.2 65.7 189.7 58.9 190.3 52.3 190.9 48.0 191.4 45.4 192.0 43.4 192.6 42.2 193.1 42.2 193.7 43.5 194.3 45.5 194.8 47.5 195.4 49.3 195.9 51.4 196.5 53.5 197.1 55.6 197.6 57.6 198.2 59.4 198.8 61.0 199.3 62.5 199.9 64.0 200.5 65.4 201.0 66.6 201.6 67.7 202.2 68.6 202.7 69.4 203.3 70.1 203.9 70.7 204.4 71.3 205.0 71.8 205.6 72.3 206.1 72.7 206.7 73.0 207.3 73.2 207.8 73.5 208.4 73.7 208.9 73.9 209.5 74.1 210.1 74.2 210.6 74.4 211.2 74.4 211.8 74.5 212.3 74.5 212.9 74.5 213.5 74.4 214.0 74.3 214.6 74.1 215.2 73.9 215.7 73.7 216.3 73.5 216.9 73.3 217.4 73.1 218.0 72.9 218.6 72.6 219.1 72.4 219.7 72.1 220.2 71.8 220.8 71.5 221.4 71.1 221.9 70.8 222.5 70.4 223.1 70.0 223.6 69.7 224.2 69.4 224.8 69.2 225.3 69.0 225.9 68.8 226.5 68.6 227.0 68.5 227.6 68.3 228.2 68.2 228.7 68.1 229.3 68.0 229.9 67.9 230.4 67.9 231.0 67.9 231.6 67.9 232.1 68.0 232.7 68.1 233.2 68.3 233.8 68.4 234.4 68.6 234.9 68.8 235.5 69.0 236.1 69.2 236.6 69.4 237.2 69.5 237.8 69.7 238.3 69.9 238.9 70.0 239.5 70.2 240.0 70.4 240.6 70.5 241.2 70.7 241.7 70.8 242.3 70.9 242.9 71.0 243.4 71.1 244.0 71.2 244.6 71.2 245.1 71.2 245.7 71.2 246.2 71.2 246.8 71.2 247.4 71.2 247.9 71.2 248.5 71.2 249.1 71.2 249.6 71.2 250.2 71.2 250.8 71.2 251.3 71.2 251.9 71.2 252.5 71.2 253.0 71.1 253.6 71.1 254.2 71.0 254.7 70.9 255.3 70.8 255.9 70.8 256.4 70.7 257.0 70.6 257.5 70.5 258.1 70.4 258.7 70.4 259.2 70.3 259.8 70.3 260.4 70.3 260.9 70.3 261.5 70.2 262.1 70.2 262.6 70.2 263.2 70.1 263.8 70.1 264.3 70.1 264.9 70.1 265.5 70.1 266.0 70.1 266.6 70.1 267.2 70.1 267.7 70.1 268.3 70.1 268.9 70.1 269.4 70.1 270.0 70.1 270.5 70.2 271.1 70.2 271.7 70.2 272.2 70.2 272.8 70.3 273.4 70.3" stroke="#2a7fd8" stroke-width="2.2" stroke-opacity="0.5"/>
<path d="M177.9 98.0L178.4 98.0 179.0 98.0 179.6 98.0 180.1 98.0 180.7 98.0 181.3 98.0 181.8 98.0 182.4 98.0 182.9 98.0 183.5 98.0 184.1 98.0 184.6 97.9 185.2 97.6 185.8 97.0 186.3 95.0 186.9 91.5 187.5 87.2 188.0 81.3 188.6 73.4 189.2 65.4 189.7 58.6 190.3 52.0 190.9 47.8 191.4 45.2 192.0 43.2 192.6 42.0 193.1 42.1 193.7 43.4 194.3 45.4 194.8 47.4 195.4 49.3 195.9 51.3 196.5 53.5 197.1 55.6 197.6 57.6 198.2 59.4 198.8 61.0 199.3 62.5 199.9 64.0 200.5 65.4 201.0 66.7 201.6 67.8 202.2 68.6 202.7 69.4 203.3 70.1 203.9 70.7 204.4 71.3 205.0 71.8 205.6 72.3 206.1 72.7 206.7 73.0 207.3 73.3 207.8 73.5 208.4 73.7 208.9 73.9 209.5 74.1 210.1 74.2 210.6 74.4 211.2 74.5 211.8 74.5 212.3 74.5 212.9 74.5 213.5 74.4 214.0 74.3 214.6 74.1 215.2 74.0 215.7 73.8 216.3 73.5 216.9 73.3 217.4 73.1 218.0 72.9 218.6 72.6 219.1 72.4 219.7 72.1 220.2 71.8 220.8 71.5 221.4 71.1 221.9 70.7 222.5 70.4 223.1 70.0 223.6 69.7 224.2 69.4 224.8 69.2 225.3 69.0 225.9 68.8 226.5 68.6 227.0 68.5 227.6 68.3 228.2 68.2 228.7 68.1 229.3 68.0 229.9 67.9 230.4 67.9 231.0 67.8 231.6 67.9 232.1 68.0 232.7 68.1 233.2 68.3 233.8 68.4 234.4 68.6 234.9 68.8 235.5 69.0 236.1 69.2 236.6 69.4 237.2 69.5 237.8 69.7 238.3 69.9 238.9 70.0 239.5 70.2 240.0 70.4 240.6 70.5 241.2 70.7 241.7 70.8 242.3 70.9 242.9 71.1 243.4 71.1 244.0 71.2 244.6 71.2 245.1 71.2 245.7 71.2 246.2 71.2 246.8 71.2 247.4 71.2 247.9 71.2 248.5 71.2 249.1 71.2 249.6 71.2 250.2 71.2 250.8 71.2 251.3 71.2 251.9 71.2 252.5 71.2 253.0 71.1 253.6 71.1 254.2 71.0 254.7 70.9 255.3 70.8 255.9 70.8 256.4 70.7 257.0 70.6 257.5 70.5 258.1 70.4 258.7 70.4 259.2 70.3 259.8 70.3 260.4 70.3 260.9 70.2 261.5 70.2 262.1 70.2 262.6 70.2 263.2 70.1 263.8 70.1 264.3 70.1 264.9 70.1 265.5 70.1 266.0 70.1 266.6 70.1 267.2 70.1 267.7 70.1 268.3 70.1 268.9 70.1 269.4 70.1 270.0 70.1 270.5 70.2 271.1 70.2 271.7 70.2 272.2 70.2 272.8 70.3 273.4 70.3" stroke="#2a7fd8" stroke-width="2.2" stroke-opacity="0.5"/>
<path d="M177.9 98.0L178.4 98.0 179.0 98.0 179.6 98.0 180.1 98.0 180.7 98.0 181.3 98.0 181.8 98.0 182.4 98.0 182.9 98.0 183.5 98.0 184.1 98.0 184.6 97.9 185.2 97.6 185.8 97.0 186.3 94.9 186.9 91.4 187.5 87.1 188.0 81.1 188.6 73.1 189.2 65.1 189.7 58.3 190.3 51.7 190.9 47.5 191.4 45.0 192.0 43.0 192.6 41.8 193.1 42.0 193.7 43.3 194.3 45.3 194.8 47.3 195.4 49.2 195.9 51.3 196.5 53.5 197.1 55.6 197.6 57.6 198.2 59.4 198.8 61.0 199.3 62.6 199.9 64.0 200.5 65.4 201.0 66.7 201.6 67.8 202.2 68.7 202.7 69.4 203.3 70.1 203.9 70.7 204.4 71.3 205.0 71.9 205.6 72.3 206.1 72.7 206.7 73.0 207.3 73.3 207.8 73.5 208.4 73.7 208.9 73.9 209.5 74.1 210.1 74.3 210.6 74.4 211.2 74.5 211.8 74.5 212.3 74.5 212.9 74.5 213.5 74.4 214.0 74.3 214.6 74.1 215.2 74.0 215.7 73.8 216.3 73.5 216.9 73.3 217.4 73.1 218.0 72.9 218.6 72.6 219.1 72.4 219.7 72.1 220.2 71.8 220.8 71.5 221.4 71.1 221.9 70.7 222.5 70.4 223.1 70.0 223.6 69.7 224.2 69.4 224.8 69.1 225.3 68.9 225.9 68.8 226.5 68.6 227.0 68.5 227.6 68.3 228.2 68.2 228.7 68.1 229.3 68.0 229.9 67.9 230.4 67.8 231.0 67.8 231.6 67.9 232.1 68.0 232.7 68.1 233.2 68.3 233.8 68.4 234.4 68.6 234.9 68.8 235.5 69.0 236.1 69.2 236.6 69.4 237.2 69.5 237.8 69.7 238.3 69.9 238.9 70.0 239.5 70.2 240.0 70.4 240.6 70.5 241.2 70.7 241.7 70.8 242.3 71.0 242.9 71.1 243.4 71.1 244.0 71.2 244.6 71.2 245.1 71.2 245.7 71.2 246.2 71.2 246.8 71.2 247.4 71.2 247.9 71.2 248.5 71.2 249.1 71.2 249.6 71.2 250.2 71.2 250.8 71.2 251.3 71.2 251.9 71.2 252.5 71.2 253.0 71.1 253.6 71.1 254.2 71.0 254.7 70.9 255.3 70.8 255.9 70.8 256.4 70.7 257.0 70.6 257.5 70.5 258.1 70.4 258.7 70.4 259.2 70.3 259.8 70.3 260.4 70.3 260.9 70.2 261.5 70.2 262.1 70.2 262.6 70.2 263.2 70.1 263.8 70.1 264.3 70.1 264.9 70.1 265.5 70.1 266.0 70.1 266.6 70.1 267.2 70.1 267.7 70.1 268.3 70.1 268.9 70.1 269.4 70.1 270.0 70.1 270.5 70.2 271.1 70.2 271.7 70.2 272.2 70.2 272.8 70.3 273.4 70.3" stroke="#2a7fd8" stroke-width="2.2" stroke-opacity="0.5"/>
<path d="M177.9 98.0L178.4 98.0 179.0 98.0 179.6 98.0 180.1 98.0 180.7 98.0 181.3 98.0 181.8 98.0 182.4 98.0 182.9 98.0 183.5 98.0 184.1 98.0 184.6 97.9 185.2 97.5 185.8 97.0 186.3 94.8 186.9 91.3 187.5 87.0 188.0 80.8 188.6 72.8 189.2 64.9 189.7 57.9 190.3 51.4 190.9 47.3 191.4 44.7 192.0 42.7 192.6 41.7 193.1 41.8 193.7 43.2 194.3 45.3 194.8 47.3 195.4 49.2 195.9 51.3 196.5 53.5 197.1 55.6 197.6 57.6 198.2 59.4 198.8 61.0 199.3 62.6 199.9 64.1 200.5 65.5 201.0 66.7 201.6 67.8 202.2 68.7 202.7 69.4 203.3 70.1 203.9 70.8 204.4 71.4 205.0 71.9 205.6 72.3 206.1 72.7 206.7 73.0 207.3 73.3 207.8 73.5 208.4 73.7 208.9 73.9 209.5 74.1 210.1 74.3 210.6 74.4 211.2 74.5 211.8 74.5 212.3 74.5 212.9 74.5 213.5 74.4 214.0 74.3 214.6 74.1 215.2 74.0 215.7 73.8 216.3 73.6 216.9 73.3 217.4 73.1 218.0 72.9 218.6 72.6 219.1 72.4 219.7 72.1 220.2 71.8 220.8 71.5 221.4 71.1 221.9 70.7 222.5 70.4 223.1 70.0 223.6 69.7 224.2 69.4 224.8 69.1 225.3 68.9 225.9 68.8 226.5 68.6 227.0 68.4 227.6 68.3 228.2 68.2 228.7 68.0 229.3 67.9 229.9 67.9 230.4 67.8 231.0 67.8 231.6 67.9 232.1 68.0 232.7 68.1 233.2 68.3 233.8 68.4 234.4 68.6 234.9 68.8 235.5 69.0 236.1 69.2 236.6 69.4 237.2 69.5 237.8 69.7 238.3 69.9 238.9 70.0 239.5 70.2 240.0 70.4 240.6 70.5 241.2 70.7 241.7 70.8 242.3 71.0 242.9 71.1 243.4 71.1 244.0 71.2 244.6 71.2 245.1 71.2 245.7 71.2 246.2 71.2 246.8 71.2 247.4 71.2 247.9 71.2 248.5 71.2 249.1 71.2 249.6 71.2 250.2 71.2 250.8 71.2 251.3 71.2 251.9 71.2 252.5 71.2 253.0 71.1 253.6 71.1 254.2 71.0 254.7 70.9 255.3 70.8 255.9 70.8 256.4 70.7 257.0 70.6 257.5 70.5 258.1 70.4 258.7 70.4 259.2 70.3 259.8 70.3 260.4 70.3 260.9 70.2 261.5 70.2 262.1 70.2 262.6 70.2 263.2 70.1 263.8 70.1 264.3 70.1 264.9 70.1 265.5 70.1 266.0 70.1 266.6 70.1 267.2 70.1 267.7 70.1 268.3 70.1 268.9 70.1 269.4 70.1 270.0 70.1 270.5 70.2 271.1 70.2 271.7 70.2 272.2 70.2 272.8 70.3 273.4 70.3" stroke="#2a7fd8" stroke-width="2.2" stroke-opacity="0.5"/>
<path d="M177.9 98.0L178.4 98.0 179.0 98.0 179.6 98.0 180.1 98.0 180.7 98.0 181.3 98.0 181.8 98.0 182.4 98.0 182.9 98.0 183.5 98.0 184.1 98.0 184.6 97.9 185.2 97.5 185.8 96.9 186.3 94.8 186.9 91.1 187.5 86.8 188.0 80.6 188.6 72.5 189.2 64.6 189.7 57.6 190.3 51.1 190.9 47.1 191.4 44.5 192.0 42.5 192.6 41.5 193.1 41.7 193.7 43.2 194.3 45.2 194.8 47.2 195.4 49.1 195.9 51.3 196.5 53.5 197.1 55.6 197.6 57.6 198.2 59.4 198.8 61.0 199.3 62.6 199.9 64.1 200.5 65.5 201.0 66.8 201.6 67.8 202.2 68.7 202.7 69.5 203.3 70.2 203.9 70.8 204.4 71.4 205.0 71.9 205.6 72.4 206.1 72.8 206.7 73.1 207.3 73.3 207.8 73.5 208.4 73.8 208.9 74.0 209.5 74.2 210.1 74.3 210.6 74.4 211.2 74.5 211.8 74.6 212.3 74.6 212.9 74.5 213.5 74.4 214.0 74.3 214.6 74.2 215.2 74.0 215.7 73.8 216.3 73.6 216.9 73.3 217.4 73.1 218.0 72.9 218.6 72.6 219.1 72.4 219.7 72.1 220.2 71.8 220.8 71.5 221.4 71.1 221.9 70.7 222.5 70.3 223.1 70.0 223.6 69.7 224.2 69.4 224.8 69.1 225.3 68.9 225.9 68.8 226.5 68.6 227.0 68.4 227.6 68.3 228.2 68.1 228.7 68.0 229.3 67.9 229.9 67.9 230.4 67.8 231.0 67.8 231.6 67.9 232.1 68.0 232.7 68.1 233.2 68.2 233.8 68.4 234.4 68.6 234.9 68.8 235.5 69.0 236.1 69.2 236.6 69.4 237.2 69.5 237.8 69.7 238.3 69.9 238.9 70.0 239.5 70.2 240.0 70.4 240.6 70.5 241.2 70.7 241.7 70.8 242.3 71.0 242.9 71.1 243.4 71.1 244.0 71.2 244.6 71.2 245.1 71.2 245.7 71.2 246.2 71.2 246.8 71.2 247.4 71.2 247.9 71.2 248.5 71.2 249.1 71.2 249.6 71.2 250.2 71.2 250.8 71.2 251.3 71.2 251.9 71.2 252.5 71.2 253.0 71.1 253.6 71.1 254.2 71.0 254.7 70.9 255.3 70.8 255.9 70.8 256.4 70.7 257.0 70.6 257.5 70.5 258.1 70.4 258.7 70.4 259.2 70.3 259.8 70.3 260.4 70.3 260.9 70.2 261.5 70.2 262.1 70.2 262.6 70.2 263.2 70.1 263.8 70.1 264.3 70.1 264.9 70.1 265.5 70.1 266.0 70.1 266.6 70.1 267.2 70.1 267.7 70.1 268.3 70.1 268.9 70.1 269.4 70.1 270.0 70.1 270.5 70.2 271.1 70.2 271.7 70.2 272.2 70.2 272.8 70.3 273.4 70.3" stroke="#2a7fd8" stroke-width="2.2" stroke-opacity="0.5"/>
<path d="M177.9 98.0L178.4 98.0 179.0 98.0 179.6 98.0 180.1 98.0 180.7 98.0 181.3 98.0 181.8 98.0 182.4 98.0 182.9 98.0 183.5 98.0 184.1 98.0 184.6 97.9 185.2 97.6 185.8 97.1 186.3 95.3 186.9 91.9 187.5 87.6 188.0 82.0 188.6 74.3 189.2 66.3 189.7 59.5 190.3 52.8 190.9 48.3 191.4 45.7 192.0 43.6 192.6 42.4 193.1 42.3 193.7 43.5 194.3 45.4 194.8 47.4 195.4 49.2 195.9 51.3 196.5 53.4 197.1 55.5 197.6 57.5 198.2 59.3 198.8 60.9 199.3 62.4 199.9 63.9 200.5 65.3 201.0 66.6 201.6 67.7 202.2 68.6 202.7 69.3 203.3 70.0 203.9 70.7 204.4 71.2 205.0 71.8 205.6 72.2 206.1 72.6 206.7 73.0 207.3 73.2 207.8 73.4 208.4 73.7 208.9 73.9 209.5 74.0 210.1 74.2 210.6 74.3 211.2 74.4 211.8 74.5 212.3 74.5 212.9 74.5 213.5 74.4 214.0 74.3 214.6 74.1 215.2 73.9 215.7 73.8 216.3 73.5 216.9 73.3 217.4 73.1 218.0 72.9 218.6 72.6 219.1 72.4 219.7 72.2 220.2 71.8 220.8 71.5 221.4 71.1 221.9 70.8 222.5 70.4 223.1 70.1 223.6 69.7 224.2 69.4 224.8 69.2 225.3 69.0 225.9 68.8 226.5 68.7 227.0 68.5 227.6 68.4 228.2 68.2 228.7 68.1 229.3 68.0 229.9 67.9 230.4 67.9 231.0 67.9 231.6 67.9 232.1 68.0 232.7 68.1 233.2 68.3 233.8 68.4 234.4 68.6 234.9 68.8 235.5 69.0 236.1 69.2 236.6 69.4 237.2 69.5 237.8 69.7 238.3 69.8 238.9 70.0 239.5 70.2 240.0 70.3 240.6 70.5 241.2 70.7 241.7 70.8 242.3 70.9 242.9 71.0 243.4 71.1 244.0 71.2 244.6 71.2 245.1 71.2 245.7 71.2 246.2 71.2 246.8 71.2 247.4 71.2 247.9 71.2 248.5 71.2 249.1 71.2 249.6 71.2 250.2 71.2 250.8 71.2 251.3 71.2 251.9 71.2 252.5 71.2 253.0 71.1 253.6 71.1 254.2 71.0 254.7 70.9 255.3 70.9 255.9 70.8 256.4 70.7 257.0 70.6 257.5 70.5 258.1 70.4 258.7 70.4 259.2 70.3 259.8 70.3 260.4 70.3 260.9 70.3 261.5 70.2 262.1 70.2 262.6 70.2 263.2 70.1 263.8 70.1 264.3 70.1 264.9 70.1 265.5 70.1 266.0 70.1 266.6 70.1 267.2 70.1 267.7 70.1 268.3 70.1 268.9 70.1 269.4 70.1 270.0 70.1 270.5 70.2 271.1 70.2 271.7 70.2 272.2 70.2 272.8 70.3 273.4 70.3" stroke="#c8234f" stroke-width="2" stroke-dasharray="7.4 3.2"/>
</g>
<path d="M188.88 103.50 v-3.50 M188.88 15.10 v3.50 M225.62 103.50 v-3.50 M225.62 15.10 v3.50 M262.35 103.50 v-3.50 M262.35 15.10 v3.50 M181.54 103.50 v-2.00 M181.54 15.10 v2.00 M196.23 103.50 v-2.00 M196.23 15.10 v2.00 M203.58 103.50 v-2.00 M203.58 15.10 v2.00 M210.92 103.50 v-2.00 M210.92 15.10 v2.00 M218.27 103.50 v-2.00 M218.27 15.10 v2.00 M232.97 103.50 v-2.00 M232.97 15.10 v2.00 M240.31 103.50 v-2.00 M240.31 15.10 v2.00 M247.66 103.50 v-2.00 M247.66 15.10 v2.00 M255.01 103.50 v-2.00 M255.01 15.10 v2.00 M269.70 103.50 v-2.00 M269.70 15.10 v2.00 M179.70 97.97 h3.50 M269.70 97.97 h-3.50 M179.70 42.73 h3.50 M269.70 42.73 h-3.50 M179.70 84.16 h2.00 M269.70 84.16 h-2.00 M179.70 70.35 h2.00 M269.70 70.35 h-2.00 M179.70 56.54 h2.00 M269.70 56.54 h-2.00 M179.70 28.91 h2.00 M269.70 28.91 h-2.00 M179.70 15.10 h2.00 M269.70 15.10 h-2.00" stroke="#111" stroke-width="0.8" fill="none"/>
<rect x="179.70" y="15.10" width="90.00" height="88.40" fill="none" stroke="#111" stroke-width="1"/>
<text x="188.88" y="115.30" text-anchor="middle" font-size="13.3">1</text>
<text x="225.62" y="115.30" text-anchor="middle" font-size="13.3">2</text>
<text x="262.35" y="115.30" text-anchor="middle" font-size="13.3">3</text>
<text x="178.10" y="102.97" text-anchor="end" font-size="13.3">0</text>
<text x="178.10" y="47.73" text-anchor="end" font-size="13.3">2</text>
<g clip-path="url(#c02)" fill="none" stroke-linejoin="round">
<path d="M302.5 98.0L303.0 98.0 303.6 98.0 304.2 98.0 304.7 98.0 305.3 98.0 305.9 98.0 306.4 98.0 307.0 98.0 307.5 98.0 308.1 98.0 308.7 98.0 309.2 98.0 309.8 97.9 310.4 97.7 310.9 97.1 311.5 95.5 312.1 91.8 312.6 86.8 313.2 80.9 313.8 72.6 314.3 63.4 314.9 55.5 315.5 47.8 316.0 41.7 316.6 38.4 317.2 36.0 317.7 35.1 318.3 35.9 318.9 37.5 319.4 39.4 320.0 41.4 320.5 43.9 321.1 46.7 321.7 49.6 322.2 52.3 322.8 54.8 323.4 56.9 323.9 59.0 324.5 61.1 325.1 63.0 325.6 64.7 326.2 66.3 326.8 67.6 327.3 68.8 327.9 70.0 328.5 71.1 329.0 72.1 329.6 73.0 330.2 73.8 330.7 74.4 331.3 74.9 331.9 75.4 332.4 75.8 333.0 76.3 333.5 76.6 334.1 76.9 334.7 77.2 335.2 77.3 335.8 77.3 336.4 77.3 336.9 77.1 337.5 77.0 338.1 76.7 338.6 76.5 339.2 76.2 339.8 75.9 340.3 75.5 340.9 75.2 341.5 74.9 342.0 74.5 342.6 74.1 343.2 73.6 343.7 73.0 344.3 72.5 344.8 71.9 345.4 71.4 346.0 70.8 346.5 70.3 347.1 69.8 347.7 69.4 348.2 69.0 348.8 68.6 349.4 68.2 349.9 67.8 350.5 67.4 351.1 67.1 351.6 66.7 352.2 66.4 352.8 66.2 353.3 66.0 353.9 65.9 354.5 65.9 355.0 65.9 355.6 66.0 356.2 66.2 356.7 66.4 357.3 66.7 357.8 67.0 358.4 67.3 359.0 67.5 359.5 67.8 360.1 68.1 360.7 68.4 361.2 68.7 361.8 69.1 362.4 69.5 362.9 69.8 363.5 70.2 364.1 70.5 364.6 70.8 365.2 71.1 365.8 71.4 366.3 71.5 366.9 71.7 367.5 71.9 368.0 72.0 368.6 72.2 369.2 72.3 369.7 72.4 370.3 72.5 370.8 72.6 371.4 72.6 372.0 72.6 372.5 72.6 373.1 72.5 373.7 72.4 374.2 72.3 374.8 72.1 375.4 71.9 375.9 71.8 376.5 71.6 377.1 71.4 377.6 71.3 378.2 71.1 378.8 71.0 379.3 70.8 379.9 70.6 380.5 70.4 381.0 70.2 381.6 70.0 382.1 69.9 382.7 69.7 383.3 69.6 383.8 69.5 384.4 69.5 385.0 69.5 385.5 69.5 386.1 69.5 386.7 69.5 387.2 69.5 387.8 69.5 388.4 69.5 388.9 69.5 389.5 69.5 390.1 69.5 390.6 69.5 391.2 69.5 391.8 69.5 392.3 69.5 392.9 69.6 393.5 69.6 394.0 69.6 394.6 69.7 395.1 69.7 395.7 69.8 396.3 69.8 396.8 69.8 397.4 69.9 398.0 70.0" stroke="#f3a10f" stroke-width="3.9"/>
<path d="M302.5 98.0L303.0 98.0 303.6 98.0 304.2 98.0 304.7 98.0 305.3 98.0 305.9 98.0 306.4 98.0 307.0 98.0 307.5 98.0 308.1 98.0 308.7 98.0 309.2 98.0 309.8 97.8 310.4 97.3 310.9 96.5 311.5 93.6 312.1 89.0 312.6 83.7 313.2 76.7 313.8 67.9 314.3 59.4 314.9 52.1 315.5 45.3 316.0 41.1 316.6 38.4 317.2 36.8 317.7 36.8 318.3 38.1 318.9 39.8 319.4 41.6 320.0 43.8 320.5 46.3 321.1 49.0 321.7 51.8 322.2 54.3 322.8 56.4 323.4 58.5 323.9 60.5 324.5 62.4 325.1 64.1 325.6 65.7 326.2 67.1 326.8 68.3 327.3 69.5 327.9 70.6 328.5 71.6 329.0 72.5 329.6 73.3 330.2 74.0 330.7 74.6 331.3 75.0 331.9 75.5 332.4 75.9 333.0 76.3 333.5 76.7 334.1 76.9 334.7 77.1 335.2 77.2 335.8 77.2 336.4 77.1 336.9 76.9 337.5 76.7 338.1 76.5 338.6 76.2 339.2 75.9 339.8 75.6 340.3 75.3 340.9 75.0 341.5 74.7 342.0 74.3 342.6 73.8 343.2 73.3 343.7 72.8 344.3 72.3 344.8 71.7 345.4 71.2 346.0 70.7 346.5 70.2 347.1 69.8 347.7 69.4 348.2 69.1 348.8 68.7 349.4 68.3 349.9 67.9 350.5 67.6 351.1 67.2 351.6 66.9 352.2 66.7 352.8 66.5 353.3 66.3 353.9 66.3 354.5 66.3 355.0 66.4 355.6 66.5 356.2 66.7 356.7 66.9 357.3 67.2 357.8 67.5 358.4 67.8 359.0 68.0 359.5 68.3 360.1 68.6 360.7 68.9 361.2 69.2 361.8 69.6 362.4 69.9 362.9 70.3 363.5 70.6 364.1 71.0 364.6 71.2 365.2 71.5 365.8 71.7 366.3 71.8 366.9 72.0 367.5 72.2 368.0 72.3 368.6 72.5 369.2 72.6 369.7 72.7 370.3 72.7 370.8 72.8 371.4 72.8 372.0 72.8 372.5 72.7 373.1 72.6 373.7 72.5 374.2 72.4 374.8 72.2 375.4 72.1 375.9 71.9 376.5 71.7 377.1 71.6 377.6 71.4 378.2 71.3 378.8 71.1 379.3 71.0 379.9 70.8 380.5 70.6 381.0 70.4 381.6 70.2 382.1 70.1 382.7 70.0 383.3 69.9 383.8 69.8 384.4 69.8 385.0 69.8 385.5 69.8 386.1 69.8 386.7 69.8 387.2 69.8 387.8 69.8 388.4 69.8 388.9 69.8 389.5 69.8 390.1 69.8 390.6 69.8 391.2 69.8 391.8 69.8 392.3 69.9 392.9 69.9 393.5 69.9 394.0 69.9 394.6 70.0 395.1 70.0 395.7 70.1 396.3 70.1 396.8 70.2 397.4 70.2 398.0 70.3" stroke="#2a7fd8" stroke-width="2.2" stroke-opacity="0.5"/>
<path d="M302.5 98.0L303.0 98.0 303.6 98.0 304.2 98.0 304.7 98.0 305.3 98.0 305.9 98.0 306.4 98.0 307.0 98.0 307.5 98.0 308.1 98.0 308.7 98.0 309.2 98.0 309.8 97.9 310.4 97.5 310.9 96.8 311.5 94.6 312.1 90.3 312.6 85.2 313.2 78.8 313.8 70.2 314.3 61.4 314.9 54.0 315.5 46.8 316.0 41.7 316.6 38.8 317.2 36.8 317.7 36.5 318.3 37.5 318.9 39.1 319.4 40.9 320.0 43.0 320.5 45.5 321.1 48.2 321.7 51.0 322.2 53.6 322.8 55.8 323.4 57.9 323.9 59.9 324.5 61.8 325.1 63.7 325.6 65.3 326.2 66.7 326.8 68.0 327.3 69.2 327.9 70.3 328.5 71.4 329.0 72.3 329.6 73.2 330.2 73.9 330.7 74.4 331.3 74.9 331.9 75.4 332.4 75.9 333.0 76.3 333.5 76.6 334.1 76.9 334.7 77.1 335.2 77.2 335.8 77.2 336.4 77.1 336.9 77.0 337.5 76.8 338.1 76.6 338.6 76.3 339.2 76.0 339.8 75.7 340.3 75.4 340.9 75.1 341.5 74.8 342.0 74.4 342.6 73.9 343.2 73.5 343.7 72.9 344.3 72.4 344.8 71.9 345.4 71.3 346.0 70.8 346.5 70.3 347.1 69.9 347.7 69.5 348.2 69.1 348.8 68.8 349.4 68.4 349.9 68.0 350.5 67.6 351.1 67.3 351.6 67.0 352.2 66.7 352.8 66.5 353.3 66.3 353.9 66.2 354.5 66.2 355.0 66.3 355.6 66.4 356.2 66.6 356.7 66.9 357.3 67.1 357.8 67.4 358.4 67.7 359.0 68.0 359.5 68.2 360.1 68.5 360.7 68.8 361.2 69.1 361.8 69.5 362.4 69.8 362.9 70.2 363.5 70.5 364.1 70.9 364.6 71.2 365.2 71.4 365.8 71.6 366.3 71.8 366.9 72.0 367.5 72.1 368.0 72.3 368.6 72.4 369.2 72.6 369.7 72.7 370.3 72.7 370.8 72.8 371.4 72.8 372.0 72.8 372.5 72.8 373.1 72.7 373.7 72.6 374.2 72.4 374.8 72.3 375.4 72.1 375.9 71.9 376.5 71.8 377.1 71.6 377.6 71.5 378.2 71.3 378.8 71.2 379.3 71.0 379.9 70.8 380.5 70.6 381.0 70.4 381.6 70.3 382.1 70.1 382.7 70.0 383.3 69.9 383.8 69.8 384.4 69.8 385.0 69.8 385.5 69.8 386.1 69.8 386.7 69.8 387.2 69.8 387.8 69.8 388.4 69.8 388.9 69.8 389.5 69.8 390.1 69.8 390.6 69.8 391.2 69.8 391.8 69.8 392.3 69.8 392.9 69.9 393.5 69.9 394.0 69.9 394.6 70.0 395.1 70.0 395.7 70.1 396.3 70.1 396.8 70.1 397.4 70.2 398.0 70.2" stroke="#2a7fd8" stroke-width="2.2" stroke-opacity="0.5"/>
<path d="M302.5 98.0L303.0 98.0 303.6 98.0 304.2 98.0 304.7 98.0 305.3 98.0 305.9 98.0 306.4 98.0 307.0 98.0 307.5 98.0 308.1 98.0 308.7 98.0 309.2 98.0 309.8 97.9 310.4 97.5 310.9 96.8 311.5 94.5 312.1 90.2 312.6 85.0 313.2 78.5 313.8 69.9 314.3 61.1 314.9 53.6 315.5 46.4 316.0 41.4 316.6 38.5 317.2 36.6 317.7 36.3 318.3 37.3 318.9 39.0 319.4 40.8 320.0 42.9 320.5 45.4 321.1 48.2 321.7 51.0 322.2 53.6 322.8 55.8 323.4 57.9 323.9 59.9 324.5 61.9 325.1 63.7 325.6 65.3 326.2 66.8 326.8 68.0 327.3 69.2 327.9 70.4 328.5 71.4 329.0 72.4 329.6 73.2 330.2 73.9 330.7 74.5 331.3 75.0 331.9 75.4 332.4 75.9 333.0 76.3 333.5 76.6 334.1 76.9 334.7 77.1 335.2 77.2 335.8 77.2 336.4 77.2 336.9 77.0 337.5 76.8 338.1 76.6 338.6 76.3 339.2 76.0 339.8 75.7 340.3 75.4 340.9 75.1 341.5 74.8 342.0 74.4 342.6 73.9 343.2 73.4 343.7 72.9 344.3 72.4 344.8 71.8 345.4 71.3 346.0 70.8 346.5 70.3 347.1 69.9 347.7 69.5 348.2 69.1 348.8 68.7 349.4 68.4 349.9 68.0 350.5 67.6 351.1 67.3 351.6 67.0 352.2 66.7 352.8 66.5 353.3 66.3 353.9 66.2 354.5 66.2 355.0 66.3 355.6 66.4 356.2 66.6 356.7 66.9 357.3 67.1 357.8 67.4 358.4 67.7 359.0 68.0 359.5 68.2 360.1 68.5 360.7 68.8 361.2 69.1 361.8 69.5 362.4 69.9 362.9 70.2 363.5 70.6 364.1 70.9 364.6 71.2 365.2 71.4 365.8 71.7 366.3 71.8 366.9 72.0 367.5 72.1 368.0 72.3 368.6 72.4 369.2 72.6 369.7 72.7 370.3 72.8 370.8 72.8 371.4 72.8 372.0 72.8 372.5 72.8 373.1 72.7 373.7 72.6 374.2 72.4 374.8 72.3 375.4 72.1 375.9 71.9 376.5 71.8 377.1 71.6 377.6 71.5 378.2 71.3 378.8 71.2 379.3 71.0 379.9 70.8 380.5 70.6 381.0 70.4 381.6 70.3 382.1 70.1 382.7 70.0 383.3 69.9 383.8 69.8 384.4 69.8 385.0 69.8 385.5 69.8 386.1 69.8 386.7 69.8 387.2 69.8 387.8 69.8 388.4 69.8 388.9 69.8 389.5 69.8 390.1 69.8 390.6 69.8 391.2 69.8 391.8 69.8 392.3 69.8 392.9 69.9 393.5 69.9 394.0 69.9 394.6 70.0 395.1 70.0 395.7 70.1 396.3 70.1 396.8 70.1 397.4 70.2 398.0 70.2" stroke="#2a7fd8" stroke-width="2.2" stroke-opacity="0.5"/>
<path d="M302.5 98.0L303.0 98.0 303.6 98.0 304.2 98.0 304.7 98.0 305.3 98.0 305.9 98.0 306.4 98.0 307.0 98.0 307.5 98.0 308.1 98.0 308.7 98.0 309.2 98.0 309.8 97.9 310.4 97.5 310.9 96.8 311.5 94.4 312.1 90.1 312.6 84.9 313.2 78.3 313.8 69.5 314.3 60.7 314.9 53.2 315.5 46.0 316.0 41.2 316.6 38.3 317.2 36.3 317.7 36.1 318.3 37.2 318.9 38.9 319.4 40.7 320.0 42.8 320.5 45.4 321.1 48.2 321.7 50.9 322.2 53.6 322.8 55.8 323.4 57.9 323.9 59.9 324.5 61.9 325.1 63.7 325.6 65.4 326.2 66.8 326.8 68.1 327.3 69.3 327.9 70.4 328.5 71.4 329.0 72.4 329.6 73.2 330.2 74.0 330.7 74.5 331.3 75.0 331.9 75.5 332.4 75.9 333.0 76.3 333.5 76.7 334.1 77.0 334.7 77.2 335.2 77.3 335.8 77.3 336.4 77.2 336.9 77.0 337.5 76.9 338.1 76.6 338.6 76.3 339.2 76.0 339.8 75.7 340.3 75.4 340.9 75.1 341.5 74.8 342.0 74.4 342.6 73.9 343.2 73.4 343.7 72.9 344.3 72.4 344.8 71.8 345.4 71.3 346.0 70.8 346.5 70.3 347.1 69.9 347.7 69.5 348.2 69.1 348.8 68.7 349.4 68.3 349.9 68.0 350.5 67.6 351.1 67.2 351.6 66.9 352.2 66.7 352.8 66.4 353.3 66.3 353.9 66.2 354.5 66.2 355.0 66.3 355.6 66.4 356.2 66.6 356.7 66.8 357.3 67.1 357.8 67.4 358.4 67.7 359.0 68.0 359.5 68.2 360.1 68.5 360.7 68.8 361.2 69.2 361.8 69.5 362.4 69.9 362.9 70.2 363.5 70.6 364.1 70.9 364.6 71.2 365.2 71.5 365.8 71.7 366.3 71.8 366.9 72.0 367.5 72.2 368.0 72.3 368.6 72.5 369.2 72.6 369.7 72.7 370.3 72.8 370.8 72.8 371.4 72.8 372.0 72.8 372.5 72.8 373.1 72.7 373.7 72.6 374.2 72.4 374.8 72.3 375.4 72.1 375.9 72.0 376.5 71.8 377.1 71.6 377.6 71.5 378.2 71.3 378.8 71.2 379.3 71.0 379.9 70.8 380.5 70.6 381.0 70.4 381.6 70.3 382.1 70.1 382.7 70.0 383.3 69.9 383.8 69.8 384.4 69.8 385.0 69.8 385.5 69.8 386.1 69.8 386.7 69.8 387.2 69.8 387.8 69.8 388.4 69.8 388.9 69.8 389.5 69.8 390.1 69.8 390.6 69.8 391.2 69.8 391.8 69.8 392.3 69.8 392.9 69.9 393.5 69.9 394.0 69.9 394.6 70.0 395.1 70.0 395.7 70.1 396.3 70.1 396.8 70.1 397.4 70.2 398.0 70.2" stroke="#2a7fd8" stroke-width="2.2" stroke-opacity="0.5"/>
<path d="M302.5 98.0L303.0 98.0 303.6 98.0 304.2 98.0 304.7 98.0 305.3 98.0 305.9 98.0 306.4 98.0 307.0 98.0 307.5 98.0 308.1 98.0 308.7 98.0 309.2 98.0 309.8 97.9 310.4 97.4 310.9 96.7 311.5 94.3 312.1 89.9 312.6 84.7 313.2 78.0 313.8 69.2 314.3 60.4 314.9 52.9 315.5 45.7 316.0 40.9 316.6 38.0 317.2 36.1 317.7 35.9 318.3 37.0 318.9 38.8 319.4 40.6 320.0 42.8 320.5 45.3 321.1 48.1 321.7 50.9 322.2 53.6 322.8 55.8 323.4 57.9 323.9 60.0 324.5 61.9 325.1 63.8 325.6 65.4 326.2 66.8 326.8 68.1 327.3 69.3 327.9 70.4 328.5 71.5 329.0 72.4 329.6 73.3 330.2 74.0 330.7 74.6 331.3 75.0 331.9 75.5 332.4 76.0 333.0 76.4 333.5 76.7 334.1 77.0 334.7 77.2 335.2 77.3 335.8 77.3 336.4 77.2 336.9 77.1 337.5 76.9 338.1 76.6 338.6 76.4 339.2 76.1 339.8 75.7 340.3 75.4 340.9 75.1 341.5 74.8 342.0 74.4 342.6 73.9 343.2 73.4 343.7 72.9 344.3 72.4 344.8 71.8 345.4 71.3 346.0 70.8 346.5 70.3 347.1 69.8 347.7 69.5 348.2 69.1 348.8 68.7 349.4 68.3 349.9 67.9 350.5 67.6 351.1 67.2 351.6 66.9 352.2 66.6 352.8 66.4 353.3 66.3 353.9 66.2 354.5 66.2 355.0 66.3 355.6 66.4 356.2 66.6 356.7 66.8 357.3 67.1 357.8 67.4 358.4 67.7 359.0 68.0 359.5 68.2 360.1 68.5 360.7 68.8 361.2 69.2 361.8 69.5 362.4 69.9 362.9 70.2 363.5 70.6 364.1 70.9 364.6 71.2 365.2 71.5 365.8 71.7 366.3 71.8 366.9 72.0 367.5 72.2 368.0 72.3 368.6 72.5 369.2 72.6 369.7 72.7 370.3 72.8 370.8 72.8 371.4 72.9 372.0 72.8 372.5 72.8 373.1 72.7 373.7 72.6 374.2 72.4 374.8 72.3 375.4 72.1 375.9 72.0 376.5 71.8 377.1 71.6 377.6 71.5 378.2 71.3 378.8 71.2 379.3 71.0 379.9 70.8 380.5 70.6 381.0 70.4 381.6 70.3 382.1 70.1 382.7 70.0 383.3 69.9 383.8 69.8 384.4 69.8 385.0 69.8 385.5 69.8 386.1 69.8 386.7 69.8 387.2 69.8 387.8 69.8 388.4 69.8 388.9 69.8 389.5 69.8 390.1 69.8 390.6 69.8 391.2 69.8 391.8 69.8 392.3 69.8 392.9 69.9 393.5 69.9 394.0 69.9 394.6 70.0 395.1 70.0 395.7 70.1 396.3 70.1 396.8 70.1 397.4 70.2 398.0 70.2" stroke="#2a7fd8" stroke-width="2.2" stroke-opacity="0.5"/>
<path d="M302.5 98.0L303.0 98.0 303.6 98.0 304.2 98.0 304.7 98.0 305.3 98.0 305.9 98.0 306.4 98.0 307.0 98.0 307.5 98.0 308.1 98.0 308.7 98.0 309.2 98.0 309.8 97.9 310.4 97.4 310.9 96.7 311.5 94.2 312.1 89.8 312.6 84.5 313.2 77.7 313.8 68.8 314.3 60.0 314.9 52.5 315.5 45.3 316.0 40.6 316.6 37.7 317.2 35.8 317.7 35.7 318.3 36.9 318.9 38.6 319.4 40.5 320.0 42.7 320.5 45.3 321.1 48.1 321.7 50.9 322.2 53.6 322.8 55.8 323.4 57.9 323.9 60.0 324.5 62.0 325.1 63.8 325.6 65.4 326.2 66.9 326.8 68.1 327.3 69.3 327.9 70.5 328.5 71.5 329.0 72.5 329.6 73.3 330.2 74.0 330.7 74.6 331.3 75.1 331.9 75.6 332.4 76.0 333.0 76.4 333.5 76.8 334.1 77.0 334.7 77.2 335.2 77.3 335.8 77.3 336.4 77.2 336.9 77.1 337.5 76.9 338.1 76.6 338.6 76.4 339.2 76.1 339.8 75.8 340.3 75.4 340.9 75.1 341.5 74.8 342.0 74.4 342.6 73.9 343.2 73.4 343.7 72.9 344.3 72.4 344.8 71.8 345.4 71.3 346.0 70.7 346.5 70.3 347.1 69.8 347.7 69.4 348.2 69.1 348.8 68.7 349.4 68.3 349.9 67.9 350.5 67.5 351.1 67.2 351.6 66.9 352.2 66.6 352.8 66.4 353.3 66.2 353.9 66.2 354.5 66.2 355.0 66.2 355.6 66.4 356.2 66.6 356.7 66.8 357.3 67.1 357.8 67.4 358.4 67.7 359.0 68.0 359.5 68.2 360.1 68.5 360.7 68.8 361.2 69.2 361.8 69.5 362.4 69.9 362.9 70.3 363.5 70.6 364.1 70.9 364.6 71.2 365.2 71.5 365.8 71.7 366.3 71.9 366.9 72.0 367.5 72.2 368.0 72.3 368.6 72.5 369.2 72.6 369.7 72.7 370.3 72.8 370.8 72.8 371.4 72.9 372.0 72.8 372.5 72.8 373.1 72.7 373.7 72.6 374.2 72.4 374.8 72.3 375.4 72.1 375.9 72.0 376.5 71.8 377.1 71.6 377.6 71.5 378.2 71.3 378.8 71.2 379.3 71.0 379.9 70.8 380.5 70.6 381.0 70.4 381.6 70.3 382.1 70.1 382.7 70.0 383.3 69.9 383.8 69.8 384.4 69.8 385.0 69.8 385.5 69.8 386.1 69.8 386.7 69.8 387.2 69.8 387.8 69.8 388.4 69.8 388.9 69.8 389.5 69.8 390.1 69.8 390.6 69.8 391.2 69.8 391.8 69.8 392.3 69.8 392.9 69.9 393.5 69.9 394.0 69.9 394.6 70.0 395.1 70.0 395.7 70.1 396.3 70.1 396.8 70.1 397.4 70.2 398.0 70.3" stroke="#2a7fd8" stroke-width="2.2" stroke-opacity="0.5"/>
<path d="M302.5 98.0L303.0 98.0 303.6 98.0 304.2 98.0 304.7 98.0 305.3 98.0 305.9 98.0 306.4 98.0 307.0 98.0 307.5 98.0 308.1 98.0 308.7 98.0 309.2 98.0 309.8 97.9 310.4 97.4 310.9 96.7 311.5 94.1 312.1 89.6 312.6 84.4 313.2 77.4 313.8 68.5 314.3 59.7 314.9 52.1 315.5 44.9 316.0 40.3 316.6 37.4 317.2 35.5 317.7 35.5 318.3 36.7 318.9 38.5 319.4 40.4 320.0 42.6 320.5 45.3 321.1 48.1 321.7 50.9 322.2 53.6 322.8 55.8 323.4 57.9 323.9 60.0 324.5 62.0 325.1 63.8 325.6 65.5 326.2 66.9 326.8 68.2 327.3 69.4 327.9 70.5 328.5 71.6 329.0 72.5 329.6 73.4 330.2 74.1 330.7 74.6 331.3 75.1 331.9 75.6 332.4 76.0 333.0 76.4 333.5 76.8 334.1 77.1 334.7 77.3 335.2 77.3 335.8 77.3 336.4 77.2 336.9 77.1 337.5 76.9 338.1 76.7 338.6 76.4 339.2 76.1 339.8 75.8 340.3 75.4 340.9 75.1 341.5 74.8 342.0 74.4 342.6 73.9 343.2 73.4 343.7 72.9 344.3 72.3 344.8 71.8 345.4 71.2 346.0 70.7 346.5 70.2 347.1 69.8 347.7 69.4 348.2 69.0 348.8 68.7 349.4 68.3 349.9 67.9 350.5 67.5 351.1 67.2 351.6 66.9 352.2 66.6 352.8 66.4 353.3 66.2 353.9 66.1 354.5 66.1 355.0 66.2 355.6 66.4 356.2 66.6 356.7 66.8 357.3 67.1 357.8 67.4 358.4 67.7 359.0 68.0 359.5 68.2 360.1 68.5 360.7 68.8 361.2 69.2 361.8 69.5 362.4 69.9 362.9 70.3 363.5 70.6 364.1 70.9 364.6 71.2 365.2 71.5 365.8 71.7 366.3 71.9 366.9 72.0 367.5 72.2 368.0 72.4 368.6 72.5 369.2 72.6 369.7 72.7 370.3 72.8 370.8 72.9 371.4 72.9 372.0 72.9 372.5 72.8 373.1 72.7 373.7 72.6 374.2 72.4 374.8 72.3 375.4 72.1 375.9 72.0 376.5 71.8 377.1 71.6 377.6 71.5 378.2 71.3 378.8 71.2 379.3 71.0 379.9 70.8 380.5 70.6 381.0 70.4 381.6 70.2 382.1 70.1 382.7 70.0 383.3 69.9 383.8 69.8 384.4 69.8 385.0 69.8 385.5 69.8 386.1 69.8 386.7 69.8 387.2 69.8 387.8 69.8 388.4 69.8 388.9 69.8 389.5 69.8 390.1 69.8 390.6 69.8 391.2 69.8 391.8 69.8 392.3 69.8 392.9 69.9 393.5 69.9 394.0 69.9 394.6 70.0 395.1 70.0 395.7 70.1 396.3 70.1 396.8 70.1 397.4 70.2 398.0 70.3" stroke="#2a7fd8" stroke-width="2.2" stroke-opacity="0.5"/>
<path d="M302.5 98.0L303.0 98.0 303.6 98.0 304.2 98.0 304.7 98.0 305.3 98.0 305.9 98.0 306.4 98.0 307.0 98.0 307.5 98.0 308.1 98.0 308.7 98.0 309.2 98.0 309.8 97.8 310.4 97.4 310.9 96.6 311.5 94.0 312.1 89.5 312.6 84.2 313.2 77.2 313.8 68.1 314.3 59.3 314.9 51.7 315.5 44.5 316.0 40.0 316.6 37.1 317.2 35.3 317.7 35.3 318.3 36.6 318.9 38.4 319.4 40.3 320.0 42.5 320.5 45.2 321.1 48.1 321.7 50.9 322.2 53.6 322.8 55.8 323.4 58.0 323.9 60.0 324.5 62.0 325.1 63.9 325.6 65.5 326.2 66.9 326.8 68.2 327.3 69.4 327.9 70.6 328.5 71.6 329.0 72.6 329.6 73.4 330.2 74.1 330.7 74.7 331.3 75.2 331.9 75.6 332.4 76.1 333.0 76.5 333.5 76.8 334.1 77.1 334.7 77.3 335.2 77.4 335.8 77.4 336.4 77.3 336.9 77.1 337.5 76.9 338.1 76.7 338.6 76.4 339.2 76.1 339.8 75.8 340.3 75.5 340.9 75.1 341.5 74.8 342.0 74.4 342.6 73.9 343.2 73.4 343.7 72.9 344.3 72.3 344.8 71.8 345.4 71.2 346.0 70.7 346.5 70.2 347.1 69.8 347.7 69.4 348.2 69.0 348.8 68.6 349.4 68.2 349.9 67.9 350.5 67.5 351.1 67.1 351.6 66.8 352.2 66.6 352.8 66.3 353.3 66.2 353.9 66.1 354.5 66.1 355.0 66.2 355.6 66.4 356.2 66.6 356.7 66.8 357.3 67.1 357.8 67.4 358.4 67.7 359.0 68.0 359.5 68.2 360.1 68.5 360.7 68.8 361.2 69.2 361.8 69.6 362.4 69.9 362.9 70.3 363.5 70.6 364.1 71.0 364.6 71.3 365.2 71.5 365.8 71.7 366.3 71.9 366.9 72.1 367.5 72.2 368.0 72.4 368.6 72.5 369.2 72.6 369.7 72.7 370.3 72.8 370.8 72.9 371.4 72.9 372.0 72.9 372.5 72.8 373.1 72.7 373.7 72.6 374.2 72.4 374.8 72.3 375.4 72.1 375.9 72.0 376.5 71.8 377.1 71.6 377.6 71.5 378.2 71.3 378.8 71.2 379.3 71.0 379.9 70.8 380.5 70.6 381.0 70.4 381.6 70.2 382.1 70.1 382.7 70.0 383.3 69.9 383.8 69.8 384.4 69.8 385.0 69.8 385.5 69.8 386.1 69.8 386.7 69.8 387.2 69.8 387.8 69.8 388.4 69.8 388.9 69.8 389.5 69.8 390.1 69.8 390.6 69.8 391.2 69.8 391.8 69.8 392.3 69.8 392.9 69.9 393.5 69.9 394.0 69.9 394.6 70.0 395.1 70.0 395.7 70.1 396.3 70.1 396.8 70.1 397.4 70.2 398.0 70.3" stroke="#2a7fd8" stroke-width="2.2" stroke-opacity="0.5"/>
<path d="M302.5 98.0L303.0 98.0 303.6 98.0 304.2 98.0 304.7 98.0 305.3 98.0 305.9 98.0 306.4 98.0 307.0 98.0 307.5 98.0 308.1 98.0 308.7 98.0 309.2 98.0 309.8 97.9 310.4 97.5 310.9 96.8 311.5 94.6 312.1 90.4 312.6 85.2 313.2 78.8 313.8 70.2 314.3 61.4 314.9 53.9 315.5 46.6 316.0 41.5 316.6 38.6 317.2 36.5 317.7 36.2 318.3 37.2 318.9 38.9 319.4 40.7 320.0 42.8 320.5 45.3 321.1 48.0 321.7 50.8 322.2 53.4 322.8 55.7 323.4 57.8 323.9 59.8 324.5 61.8 325.1 63.6 325.6 65.3 326.2 66.7 326.8 68.0 327.3 69.2 327.9 70.3 328.5 71.4 329.0 72.3 329.6 73.2 330.2 73.9 330.7 74.5 331.3 75.0 331.9 75.4 332.4 75.9 333.0 76.3 333.5 76.6 334.1 76.9 334.7 77.1 335.2 77.2 335.8 77.2 336.4 77.2 336.9 77.0 337.5 76.9 338.1 76.6 338.6 76.3 339.2 76.1 339.8 75.7 340.3 75.4 340.9 75.1 341.5 74.8 342.0 74.4 342.6 74.0 343.2 73.5 343.7 73.0 344.3 72.4 344.8 71.9 345.4 71.3 346.0 70.8 346.5 70.3 347.1 69.9 347.7 69.5 348.2 69.1 348.8 68.8 349.4 68.4 349.9 68.0 350.5 67.6 351.1 67.3 351.6 67.0 352.2 66.7 352.8 66.5 353.3 66.3 353.9 66.2 354.5 66.2 355.0 66.3 355.6 66.4 356.2 66.6 356.7 66.8 357.3 67.1 357.8 67.4 358.4 67.7 359.0 67.9 359.5 68.2 360.1 68.5 360.7 68.8 361.2 69.1 361.8 69.5 362.4 69.8 362.9 70.2 363.5 70.6 364.1 70.9 364.6 71.2 365.2 71.4 365.8 71.7 366.3 71.8 366.9 72.0 367.5 72.1 368.0 72.3 368.6 72.4 369.2 72.6 369.7 72.7 370.3 72.8 370.8 72.8 371.4 72.8 372.0 72.8 372.5 72.8 373.1 72.7 373.7 72.6 374.2 72.4 374.8 72.3 375.4 72.1 375.9 72.0 376.5 71.8 377.1 71.6 377.6 71.5 378.2 71.3 378.8 71.2 379.3 71.0 379.9 70.8 380.5 70.6 381.0 70.5 381.6 70.3 382.1 70.1 382.7 70.0 383.3 69.9 383.8 69.8 384.4 69.8 385.0 69.8 385.5 69.8 386.1 69.8 386.7 69.8 387.2 69.8 387.8 69.8 388.4 69.8 388.9 69.8 389.5 69.8 390.1 69.8 390.6 69.8 391.2 69.8 391.8 69.8 392.3 69.8 392.9 69.9 393.5 69.9 394.0 69.9 394.6 70.0 395.1 70.0 395.7 70.0 396.3 70.1 396.8 70.1 397.4 70.2 398.0 70.2" stroke="#c8234f" stroke-width="2" stroke-dasharray="7.4 3.2"/>
</g>
<path d="M313.48 103.50 v-3.50 M313.48 15.10 v3.50 M350.22 103.50 v-3.50 M350.22 15.10 v3.50 M386.95 103.50 v-3.50 M386.95 15.10 v3.50 M306.14 103.50 v-2.00 M306.14 15.10 v2.00 M320.83 103.50 v-2.00 M320.83 15.10 v2.00 M328.18 103.50 v-2.00 M328.18 15.10 v2.00 M335.52 103.50 v-2.00 M335.52 15.10 v2.00 M342.87 103.50 v-2.00 M342.87 15.10 v2.00 M357.57 103.50 v-2.00 M357.57 15.10 v2.00 M364.91 103.50 v-2.00 M364.91 15.10 v2.00 M372.26 103.50 v-2.00 M372.26 15.10 v2.00 M379.61 103.50 v-2.00 M379.61 15.10 v2.00 M394.30 103.50 v-2.00 M394.30 15.10 v2.00 M304.30 97.97 h3.50 M394.30 97.97 h-3.50 M304.30 42.73 h3.50 M394.30 42.73 h-3.50 M304.30 84.16 h2.00 M394.30 84.16 h-2.00 M304.30 70.35 h2.00 M394.30 70.35 h-2.00 M304.30 56.54 h2.00 M394.30 56.54 h-2.00 M304.30 28.91 h2.00 M394.30 28.91 h-2.00 M304.30 15.10 h2.00 M394.30 15.10 h-2.00" stroke="#111" stroke-width="0.8" fill="none"/>
<rect x="304.30" y="15.10" width="90.00" height="88.40" fill="none" stroke="#111" stroke-width="1"/>
<text x="313.48" y="115.30" text-anchor="middle" font-size="13.3">1</text>
<text x="350.22" y="115.30" text-anchor="middle" font-size="13.3">2</text>
<text x="386.95" y="115.30" text-anchor="middle" font-size="13.3">3</text>
<text x="302.70" y="102.97" text-anchor="end" font-size="13.3">0</text>
<text x="302.70" y="47.73" text-anchor="end" font-size="13.3">2</text>
<g clip-path="url(#c03)" fill="none" stroke-linejoin="round">
<path d="M434.5 -111.7L435.2 -68.5 435.8 -34.2 436.5 -7.0 437.2 14.6 437.9 31.7 438.6 45.2 439.3 55.8 440.0 64.2 440.7 70.7 441.4 75.7 442.1 79.6 442.8 82.5 443.5 84.7 444.2 86.3 444.9 87.4 445.6 88.1 446.2 88.5 446.9 88.7 447.6 88.8 448.3 88.6 449.0 88.4 449.7 88.1 450.4 87.7 451.1 87.2 451.8 86.8 452.5 86.3 453.2 85.8 453.9 85.4 454.6 84.9 455.3 84.4 456.0 83.9 456.7 83.5 457.3 83.0 458.0 82.6 458.7 82.2 459.4 81.8 460.1 81.4 460.8 81.1 461.5 80.7 462.2 80.4 462.9 80.1 463.6 79.8 464.3 79.5 465.0 79.3 465.7 79.0 466.4 78.8 467.1 78.5 467.8 78.3 468.4 78.1 469.1 77.9 469.8 77.7 470.5 77.6 471.2 77.4 471.9 77.2 472.6 77.1 473.3 76.9 474.0 76.8 474.7 76.7 475.4 76.6 476.1 76.4 476.8 76.3 477.5 76.2 478.2 76.1 478.9 76.0 479.5 75.9 480.2 75.9 480.9 75.8 481.6 75.7 482.3 75.6 483.0 75.6 483.7 75.5 484.4 75.4 485.1 75.4 485.8 75.3 486.5 75.3 487.2 75.2 487.9 75.2 488.6 75.1 489.3 75.1 490.0 75.0 490.6 75.0 491.3 75.0 492.0 74.9 492.7 74.9 493.4 74.9 494.1 74.8 494.8 74.8 495.5 74.8 496.2 74.7 496.9 74.7 497.6 74.7 498.3 74.7 499.0 74.6 499.7 74.6 500.4 74.6 501.1 74.6 501.7 74.5 502.4 74.5 503.1 74.5 503.8 74.5 504.5 74.5 505.2 74.5 505.9 74.4 506.6 74.4 507.3 74.4 508.0 74.4 508.7 74.4 509.4 74.4 510.1 74.4 510.8 74.4 511.5 74.3 512.2 74.3 512.8 74.3 513.5 74.3 514.2 74.3 514.9 74.3 515.6 74.3 516.3 74.3 517.0 74.3 517.7 74.3 518.4 74.3 519.1 74.3 519.8 74.2 520.5 74.2 521.2 74.2 521.9 74.2 522.6 74.2 523.2 74.2 523.9 74.2" stroke="#f3a10f" stroke-width="3.4"/>
<path d="M434.5 -56.1L435.2 -24.4 435.8 0.8 436.5 20.7 437.2 36.5 437.9 49.0 438.6 58.8 439.3 66.5 440.0 72.5 440.7 77.1 441.4 80.7 442.1 83.3 442.8 85.3 443.5 86.7 444.2 87.7 444.9 88.3 445.6 88.6 446.2 88.8 446.9 88.7 447.6 88.5 448.3 88.3 449.0 87.9 449.7 87.5 450.4 87.1 451.1 86.6 451.8 86.2 452.5 85.7 453.2 85.2 453.9 84.7 454.6 84.2 455.3 83.8 456.0 83.3 456.7 82.9 457.3 82.5 458.0 82.1 458.7 81.7 459.4 81.3 460.1 81.0 460.8 80.6 461.5 80.3 462.2 80.0 462.9 79.7 463.6 79.4 464.3 79.2 465.0 78.9 465.7 78.7 466.4 78.5 467.1 78.2 467.8 78.0 468.4 77.9 469.1 77.7 469.8 77.5 470.5 77.3 471.2 77.2 471.9 77.0 472.6 76.9 473.3 76.8 474.0 76.6 474.7 76.5 475.4 76.4 476.1 76.3 476.8 76.2 477.5 76.1 478.2 76.0 478.9 75.9 479.5 75.8 480.2 75.8 480.9 75.7 481.6 75.6 482.3 75.5 483.0 75.5 483.7 75.4 484.4 75.4 485.1 75.3 485.8 75.3 486.5 75.2 487.2 75.2 487.9 75.1 488.6 75.1 489.3 75.0 490.0 75.0 490.6 74.9 491.3 74.9 492.0 74.9 492.7 74.8 493.4 74.8 494.1 74.8 494.8 74.8 495.5 74.7 496.2 74.7 496.9 74.7 497.6 74.6 498.3 74.6 499.0 74.6 499.7 74.6 500.4 74.6 501.1 74.5 501.7 74.5 502.4 74.5 503.1 74.5 503.8 74.5 504.5 74.5 505.2 74.4 505.9 74.4 506.6 74.4 507.3 74.4 508.0 74.4 508.7 74.4 509.4 74.4 510.1 74.4 510.8 74.3 511.5 74.3 512.2 74.3 512.8 74.3 513.5 74.3 514.2 74.3 514.9 74.3 515.6 74.3 516.3 74.3 517.0 74.3 517.7 74.3 518.4 74.2 519.1 74.2 519.8 74.2 520.5 74.2 521.2 74.2 521.9 74.2 522.6 74.2 523.2 74.2 523.9 74.2" stroke="#2a7fd8" stroke-width="1.3" stroke-opacity="0.5"/>
<path d="M434.5 -64.2L435.2 -30.8 435.8 -4.3 436.5 16.7 437.2 33.3 437.9 46.5 438.6 56.8 439.3 65.0 440.0 71.3 440.7 76.2 441.4 80.0 442.1 82.8 442.8 84.9 443.5 86.4 444.2 87.5 444.9 88.2 445.6 88.6 446.2 88.8 446.9 88.7 447.6 88.6 448.3 88.3 449.0 88.0 449.7 87.6 450.4 87.2 451.1 86.7 451.8 86.3 452.5 85.8 453.2 85.3 453.9 84.8 454.6 84.3 455.3 83.9 456.0 83.4 456.7 83.0 457.3 82.6 458.0 82.2 458.7 81.8 459.4 81.4 460.1 81.0 460.8 80.7 461.5 80.4 462.2 80.1 462.9 79.8 463.6 79.5 464.3 79.2 465.0 79.0 465.7 78.7 466.4 78.5 467.1 78.3 467.8 78.1 468.4 77.9 469.1 77.7 469.8 77.5 470.5 77.4 471.2 77.2 471.9 77.1 472.6 76.9 473.3 76.8 474.0 76.7 474.7 76.5 475.4 76.4 476.1 76.3 476.8 76.2 477.5 76.1 478.2 76.0 478.9 75.9 479.5 75.9 480.2 75.8 480.9 75.7 481.6 75.6 482.3 75.6 483.0 75.5 483.7 75.4 484.4 75.4 485.1 75.3 485.8 75.3 486.5 75.2 487.2 75.2 487.9 75.1 488.6 75.1 489.3 75.0 490.0 75.0 490.6 75.0 491.3 74.9 492.0 74.9 492.7 74.8 493.4 74.8 494.1 74.8 494.8 74.8 495.5 74.7 496.2 74.7 496.9 74.7 497.6 74.7 498.3 74.6 499.0 74.6 499.7 74.6 500.4 74.6 501.1 74.5 501.7 74.5 502.4 74.5 503.1 74.5 503.8 74.5 504.5 74.5 505.2 74.4 505.9 74.4 506.6 74.4 507.3 74.4 508.0 74.4 508.7 74.4 509.4 74.4 510.1 74.4 510.8 74.3 511.5 74.3 512.2 74.3 512.8 74.3 513.5 74.3 514.2 74.3 514.9 74.3 515.6 74.3 516.3 74.3 517.0 74.3 517.7 74.3 518.4 74.2 519.1 74.2 519.8 74.2 520.5 74.2 521.2 74.2 521.9 74.2 522.6 74.2 523.2 74.2 523.9 74.2" stroke="#2a7fd8" stroke-width="1.3" stroke-opacity="0.5"/>
<path d="M434.5 -72.8L435.2 -37.6 435.8 -9.7 436.5 12.4 437.2 30.0 437.9 43.8 438.6 54.8 439.3 63.3 440.0 70.0 440.7 75.2 441.4 79.2 442.1 82.2 442.8 84.5 443.5 86.1 444.2 87.3 444.9 88.1 445.6 88.5 446.2 88.7 446.9 88.8 447.6 88.6 448.3 88.4 449.0 88.1 449.7 87.7 450.4 87.3 451.1 86.8 451.8 86.4 452.5 85.9 453.2 85.4 453.9 84.9 454.6 84.4 455.3 84.0 456.0 83.5 456.7 83.1 457.3 82.7 458.0 82.3 458.7 81.9 459.4 81.5 460.1 81.1 460.8 80.8 461.5 80.4 462.2 80.1 462.9 79.8 463.6 79.6 464.3 79.3 465.0 79.0 465.7 78.8 466.4 78.6 467.1 78.3 467.8 78.1 468.4 77.9 469.1 77.8 469.8 77.6 470.5 77.4 471.2 77.2 471.9 77.1 472.6 77.0 473.3 76.8 474.0 76.7 474.7 76.6 475.4 76.5 476.1 76.3 476.8 76.2 477.5 76.1 478.2 76.0 478.9 76.0 479.5 75.9 480.2 75.8 480.9 75.7 481.6 75.6 482.3 75.6 483.0 75.5 483.7 75.4 484.4 75.4 485.1 75.3 485.8 75.3 486.5 75.2 487.2 75.2 487.9 75.1 488.6 75.1 489.3 75.0 490.0 75.0 490.6 75.0 491.3 74.9 492.0 74.9 492.7 74.9 493.4 74.8 494.1 74.8 494.8 74.8 495.5 74.7 496.2 74.7 496.9 74.7 497.6 74.7 498.3 74.6 499.0 74.6 499.7 74.6 500.4 74.6 501.1 74.6 501.7 74.5 502.4 74.5 503.1 74.5 503.8 74.5 504.5 74.5 505.2 74.4 505.9 74.4 506.6 74.4 507.3 74.4 508.0 74.4 508.7 74.4 509.4 74.4 510.1 74.4 510.8 74.3 511.5 74.3 512.2 74.3 512.8 74.3 513.5 74.3 514.2 74.3 514.9 74.3 515.6 74.3 516.3 74.3 517.0 74.3 517.7 74.3 518.4 74.3 519.1 74.2 519.8 74.2 520.5 74.2 521.2 74.2 521.9 74.2 522.6 74.2 523.2 74.2 523.9 74.2" stroke="#2a7fd8" stroke-width="1.3" stroke-opacity="0.5"/>
<path d="M434.5 -81.8L435.2 -44.7 435.8 -15.4 436.5 8.0 437.2 26.4 437.9 41.0 438.6 52.5 439.3 61.6 440.0 68.7 440.7 74.2 441.4 78.4 442.1 81.6 442.8 84.0 443.5 85.8 444.2 87.1 444.9 87.9 445.6 88.4 446.2 88.7 446.9 88.8 447.6 88.7 448.3 88.5 449.0 88.2 449.7 87.8 450.4 87.4 451.1 86.9 451.8 86.5 452.5 86.0 453.2 85.5 453.9 85.0 454.6 84.6 455.3 84.1 456.0 83.6 456.7 83.2 457.3 82.8 458.0 82.3 458.7 81.9 459.4 81.6 460.1 81.2 460.8 80.9 461.5 80.5 462.2 80.2 462.9 79.9 463.6 79.6 464.3 79.3 465.0 79.1 465.7 78.8 466.4 78.6 467.1 78.4 467.8 78.2 468.4 78.0 469.1 77.8 469.8 77.6 470.5 77.4 471.2 77.3 471.9 77.1 472.6 77.0 473.3 76.8 474.0 76.7 474.7 76.6 475.4 76.5 476.1 76.4 476.8 76.3 477.5 76.2 478.2 76.1 478.9 76.0 479.5 75.9 480.2 75.8 480.9 75.7 481.6 75.7 482.3 75.6 483.0 75.5 483.7 75.5 484.4 75.4 485.1 75.3 485.8 75.3 486.5 75.2 487.2 75.2 487.9 75.1 488.6 75.1 489.3 75.0 490.0 75.0 490.6 75.0 491.3 74.9 492.0 74.9 492.7 74.9 493.4 74.8 494.1 74.8 494.8 74.8 495.5 74.7 496.2 74.7 496.9 74.7 497.6 74.7 498.3 74.6 499.0 74.6 499.7 74.6 500.4 74.6 501.1 74.6 501.7 74.5 502.4 74.5 503.1 74.5 503.8 74.5 504.5 74.5 505.2 74.5 505.9 74.4 506.6 74.4 507.3 74.4 508.0 74.4 508.7 74.4 509.4 74.4 510.1 74.4 510.8 74.3 511.5 74.3 512.2 74.3 512.8 74.3 513.5 74.3 514.2 74.3 514.9 74.3 515.6 74.3 516.3 74.3 517.0 74.3 517.7 74.3 518.4 74.3 519.1 74.2 519.8 74.2 520.5 74.2 521.2 74.2 521.9 74.2 522.6 74.2 523.2 74.2 523.9 74.2" stroke="#2a7fd8" stroke-width="1.3" stroke-opacity="0.5"/>
<path d="M434.5 -91.2L435.2 -52.3 435.8 -21.3 436.5 3.2 437.2 22.7 437.9 38.1 438.6 50.2 439.3 59.8 440.0 67.3 440.7 73.1 441.4 77.6 442.1 81.0 442.8 83.6 443.5 85.5 444.2 86.8 444.9 87.8 445.6 88.3 446.2 88.7 446.9 88.8 447.6 88.7 448.3 88.5 449.0 88.2 449.7 87.9 450.4 87.5 451.1 87.0 451.8 86.6 452.5 86.1 453.2 85.6 453.9 85.1 454.6 84.7 455.3 84.2 456.0 83.7 456.7 83.3 457.3 82.8 458.0 82.4 458.7 82.0 459.4 81.6 460.1 81.3 460.8 80.9 461.5 80.6 462.2 80.3 462.9 80.0 463.6 79.7 464.3 79.4 465.0 79.1 465.7 78.9 466.4 78.7 467.1 78.4 467.8 78.2 468.4 78.0 469.1 77.8 469.8 77.7 470.5 77.5 471.2 77.3 471.9 77.2 472.6 77.0 473.3 76.9 474.0 76.7 474.7 76.6 475.4 76.5 476.1 76.4 476.8 76.3 477.5 76.2 478.2 76.1 478.9 76.0 479.5 75.9 480.2 75.8 480.9 75.7 481.6 75.7 482.3 75.6 483.0 75.5 483.7 75.5 484.4 75.4 485.1 75.4 485.8 75.3 486.5 75.2 487.2 75.2 487.9 75.1 488.6 75.1 489.3 75.1 490.0 75.0 490.6 75.0 491.3 74.9 492.0 74.9 492.7 74.9 493.4 74.8 494.1 74.8 494.8 74.8 495.5 74.7 496.2 74.7 496.9 74.7 497.6 74.7 498.3 74.6 499.0 74.6 499.7 74.6 500.4 74.6 501.1 74.6 501.7 74.5 502.4 74.5 503.1 74.5 503.8 74.5 504.5 74.5 505.2 74.5 505.9 74.4 506.6 74.4 507.3 74.4 508.0 74.4 508.7 74.4 509.4 74.4 510.1 74.4 510.8 74.4 511.5 74.3 512.2 74.3 512.8 74.3 513.5 74.3 514.2 74.3 514.9 74.3 515.6 74.3 516.3 74.3 517.0 74.3 517.7 74.3 518.4 74.3 519.1 74.2 519.8 74.2 520.5 74.2 521.2 74.2 521.9 74.2 522.6 74.2 523.2 74.2 523.9 74.2" stroke="#2a7fd8" stroke-width="1.3" stroke-opacity="0.5"/>
<path d="M434.5 -84.9L435.2 -47.2 435.8 -17.3 436.5 6.4 437.2 25.2 437.9 40.1 438.6 51.8 439.3 61.0 440.0 68.2 440.7 73.8 441.4 78.1 442.1 81.4 442.8 83.9 443.5 85.7 444.2 87.0 444.9 87.9 445.6 88.4 446.2 88.7 446.9 88.8 447.6 88.7 448.3 88.5 449.0 88.2 449.7 87.8 450.4 87.4 451.1 87.0 451.8 86.5 452.5 86.0 453.2 85.6 453.9 85.1 454.6 84.6 455.3 84.1 456.0 83.7 456.7 83.2 457.3 82.8 458.0 82.4 458.7 82.0 459.4 81.6 460.1 81.2 460.8 80.9 461.5 80.5 462.2 80.2 462.9 79.9 463.6 79.6 464.3 79.4 465.0 79.1 465.7 78.9 466.4 78.6 467.1 78.4 467.8 78.2 468.4 78.0 469.1 77.8 469.8 77.6 470.5 77.5 471.2 77.3 471.9 77.1 472.6 77.0 473.3 76.9 474.0 76.7 474.7 76.6 475.4 76.5 476.1 76.4 476.8 76.3 477.5 76.2 478.2 76.1 478.9 76.0 479.5 75.9 480.2 75.8 480.9 75.7 481.6 75.7 482.3 75.6 483.0 75.5 483.7 75.5 484.4 75.4 485.1 75.3 485.8 75.3 486.5 75.2 487.2 75.2 487.9 75.1 488.6 75.1 489.3 75.1 490.0 75.0 490.6 75.0 491.3 74.9 492.0 74.9 492.7 74.9 493.4 74.8 494.1 74.8 494.8 74.8 495.5 74.7 496.2 74.7 496.9 74.7 497.6 74.7 498.3 74.6 499.0 74.6 499.7 74.6 500.4 74.6 501.1 74.6 501.7 74.5 502.4 74.5 503.1 74.5 503.8 74.5 504.5 74.5 505.2 74.5 505.9 74.4 506.6 74.4 507.3 74.4 508.0 74.4 508.7 74.4 509.4 74.4 510.1 74.4 510.8 74.4 511.5 74.3 512.2 74.3 512.8 74.3 513.5 74.3 514.2 74.3 514.9 74.3 515.6 74.3 516.3 74.3 517.0 74.3 517.7 74.3 518.4 74.3 519.1 74.2 519.8 74.2 520.5 74.2 521.2 74.2 521.9 74.2 522.6 74.2 523.2 74.2 523.9 74.2" stroke="#c8234f" stroke-width="2" stroke-dasharray="7.4 3.2"/>
</g>
<path d="M441.66 103.50 v-3.50 M441.66 15.10 v3.50 M493.09 103.50 v-3.50 M493.09 15.10 v3.50 M431.37 103.50 v-2.00 M431.37 15.10 v2.00 M451.94 103.50 v-2.00 M451.94 15.10 v2.00 M462.23 103.50 v-2.00 M462.23 15.10 v2.00 M472.51 103.50 v-2.00 M472.51 15.10 v2.00 M482.80 103.50 v-2.00 M482.80 15.10 v2.00 M503.37 103.50 v-2.00 M503.37 15.10 v2.00 M513.66 103.50 v-2.00 M513.66 15.10 v2.00 M428.80 103.50 h3.50 M518.80 103.50 h-3.50 M428.80 74.03 h3.50 M518.80 74.03 h-3.50 M428.80 44.57 h3.50 M518.80 44.57 h-3.50 M428.80 15.10 h3.50 M518.80 15.10 h-3.50 M428.80 96.13 h2.00 M518.80 96.13 h-2.00 M428.80 88.77 h2.00 M518.80 88.77 h-2.00 M428.80 81.40 h2.00 M518.80 81.40 h-2.00 M428.80 66.67 h2.00 M518.80 66.67 h-2.00 M428.80 59.30 h2.00 M518.80 59.30 h-2.00 M428.80 51.93 h2.00 M518.80 51.93 h-2.00 M428.80 37.20 h2.00 M518.80 37.20 h-2.00 M428.80 29.83 h2.00 M518.80 29.83 h-2.00 M428.80 22.47 h2.00 M518.80 22.47 h-2.00" stroke="#111" stroke-width="0.8" fill="none"/>
<rect x="428.80" y="15.10" width="90.00" height="88.40" fill="none" stroke="#111" stroke-width="1"/>
<text x="441.66" y="115.30" text-anchor="middle" font-size="13.3">1</text>
<text x="493.09" y="115.30" text-anchor="middle" font-size="13.3">2</text>
<text x="427.20" y="108.50" text-anchor="end" font-size="13.3">2</text>
<text x="409.41" y="108.50" font-size="13.30" textLength="10.07" lengthAdjust="spacingAndGlyphs">−</text>
<text x="427.20" y="79.03" text-anchor="end" font-size="13.3">0</text>
<text x="427.20" y="49.57" text-anchor="end" font-size="13.3">2</text>
<text x="427.20" y="20.10" text-anchor="end" font-size="13.3">4</text>
<g clip-path="url(#c10)" fill="none" stroke-linejoin="round">
<path d="M53.4 221.6L53.9 221.6 54.5 221.6 55.1 221.6 55.6 221.6 56.2 221.6 56.8 221.6 57.3 221.6 57.9 221.6 58.4 221.6 59.0 221.6 59.6 221.6 60.1 221.3 60.7 220.8 61.3 219.7 61.8 216.8 62.4 212.7 63.0 208.2 63.5 201.5 64.1 194.0 64.7 187.5 65.2 182.1 65.8 177.1 66.4 173.7 66.9 172.0 67.5 170.6 68.1 169.6 68.6 169.1 69.2 169.2 69.8 170.1 70.3 171.5 70.9 173.0 71.4 174.8 72.0 176.9 72.6 179.2 73.1 181.2 73.7 182.8 74.3 184.3 74.8 185.6 75.4 186.8 76.0 187.8 76.5 188.7 77.1 189.5 77.7 190.3 78.2 190.9 78.8 191.5 79.4 192.0 79.9 192.5 80.5 192.9 81.1 193.3 81.6 193.7 82.2 194.1 82.8 194.4 83.3 194.7 83.9 194.9 84.4 195.1 85.0 195.2 85.6 195.3 86.1 195.4 86.7 195.4 87.3 195.5 87.8 195.6 88.4 195.6 89.0 195.6 89.5 195.6 90.1 195.6 90.7 195.6 91.2 195.5 91.8 195.4 92.4 195.3 92.9 195.2 93.5 195.1 94.1 195.0 94.6 194.8 95.2 194.7 95.7 194.5 96.3 194.4 96.9 194.3 97.4 194.1 98.0 194.0 98.6 193.8 99.1 193.6 99.7 193.4 100.3 193.2 100.8 193.0 101.4 192.8 102.0 192.6 102.5 192.5 103.1 192.3 103.7 192.2 104.2 192.1 104.8 192.0 105.4 192.0 105.9 192.0 106.5 192.0 107.1 192.1 107.6 192.1 108.2 192.2 108.7 192.2 109.3 192.3 109.9 192.4 110.4 192.5 111.0 192.6 111.6 192.6 112.1 192.7 112.7 192.8 113.3 192.9 113.8 193.0 114.4 193.0 115.0 193.1 115.5 193.2 116.1 193.3 116.7 193.4 117.2 193.5 117.8 193.6 118.4 193.7 118.9 193.8 119.5 193.9 120.1 193.9 120.6 194.0 121.2 194.0 121.7 194.0 122.3 193.9 122.9 193.9 123.4 193.9 124.0 193.9 124.6 193.8 125.1 193.8 125.7 193.7 126.3 193.7 126.8 193.7 127.4 193.6 128.0 193.6 128.5 193.5 129.1 193.5 129.7 193.5 130.2 193.4 130.8 193.4 131.4 193.4 131.9 193.4 132.5 193.3 133.0 193.3 133.6 193.3 134.2 193.3 134.7 193.2 135.3 193.2 135.9 193.2 136.4 193.2 137.0 193.2 137.6 193.2 138.1 193.2 138.7 193.2 139.3 193.2 139.8 193.2 140.4 193.2 141.0 193.2 141.5 193.2 142.1 193.2 142.7 193.2 143.2 193.2 143.8 193.3 144.4 193.3 144.9 193.3 145.5 193.3 146.0 193.3 146.6 193.3 147.2 193.4 147.7 193.4 148.3 193.4 148.9 193.5" stroke="#f3a10f" stroke-width="3.9"/>
<path d="M53.4 221.6L53.9 221.6 54.5 221.6 55.1 221.6 55.6 221.6 56.2 221.6 56.8 221.6 57.3 221.6 57.9 221.6 58.4 221.6 59.0 221.6 59.6 221.5 60.1 221.3 60.7 221.0 61.3 219.3 61.8 216.1 62.4 211.9 63.0 205.8 63.5 197.1 64.1 188.5 64.7 181.3 65.2 174.3 65.8 168.8 66.4 165.9 66.9 163.9 67.5 162.3 68.1 161.3 68.6 161.0 69.2 162.0 69.8 163.8 70.3 165.9 70.9 168.1 71.4 170.8 72.0 173.9 72.6 176.8 73.1 179.1 73.7 181.1 74.3 182.8 74.8 184.4 75.4 185.8 76.0 187.0 76.5 188.1 77.1 189.0 77.7 189.9 78.2 190.6 78.8 191.2 79.4 191.8 79.9 192.3 80.5 192.8 81.1 193.3 81.6 193.7 82.2 194.1 82.8 194.4 83.3 194.7 83.9 194.9 84.4 195.0 85.0 195.1 85.6 195.2 86.1 195.3 86.7 195.4 87.3 195.4 87.8 195.5 88.4 195.6 89.0 195.7 89.5 195.8 90.1 195.8 90.7 195.8 91.2 195.8 91.8 195.8 92.4 195.8 92.9 195.7 93.5 195.7 94.1 195.6 94.6 195.5 95.2 195.4 95.7 195.3 96.3 195.2 96.9 195.0 97.4 194.9 98.0 194.8 98.6 194.6 99.1 194.4 99.7 194.1 100.3 193.9 100.8 193.7 101.4 193.5 102.0 193.3 102.5 193.1 103.1 193.0 103.7 192.9 104.2 192.8 104.8 192.8 105.4 192.9 105.9 192.9 106.5 193.0 107.1 193.1 107.6 193.2 108.2 193.4 108.7 193.5 109.3 193.6 109.9 193.8 110.4 193.9 111.0 194.0 111.6 194.1 112.1 194.3 112.7 194.4 113.3 194.5 113.8 194.6 114.4 194.7 115.0 194.8 115.5 194.9 116.1 195.1 116.7 195.2 117.2 195.3 117.8 195.4 118.4 195.5 118.9 195.6 119.5 195.6 120.1 195.7 120.6 195.7 121.2 195.7 121.7 195.7 122.3 195.7 122.9 195.6 123.4 195.6 124.0 195.6 124.6 195.5 125.1 195.5 125.7 195.4 126.3 195.4 126.8 195.3 127.4 195.3 128.0 195.2 128.5 195.2 129.1 195.1 129.7 195.1 130.2 195.1 130.8 195.1 131.4 195.0 131.9 195.0 132.5 195.0 133.0 194.9 133.6 194.9 134.2 194.9 134.7 194.9 135.3 194.8 135.9 194.8 136.4 194.8 137.0 194.8 137.6 194.8 138.1 194.8 138.7 194.8 139.3 194.8 139.8 194.8 140.4 194.8 141.0 194.8 141.5 194.8 142.1 194.9 142.7 194.9 143.2 194.9 143.8 194.9 144.4 194.9 144.9 194.9 145.5 195.0 146.0 195.0 146.6 195.0 147.2 195.0 147.7 195.1 148.3 195.1 148.9 195.2" stroke="#2a7fd8" stroke-width="2.2" stroke-opacity="0.5"/>
<path d="M53.4 221.6L53.9 221.6 54.5 221.6 55.1 221.6 55.6 221.6 56.2 221.6 56.8 221.6 57.3 221.6 57.9 221.6 58.4 221.6 59.0 221.6 59.6 221.6 60.1 221.4 60.7 221.1 61.3 219.9 61.8 217.1 62.4 213.1 63.0 207.8 63.5 199.5 64.1 190.5 64.7 183.1 65.2 175.9 65.8 169.7 66.4 166.2 66.9 164.0 67.5 162.2 68.1 161.0 68.6 160.6 69.2 161.2 69.8 162.9 70.3 165.0 70.9 167.1 71.4 169.8 72.0 172.8 72.6 175.9 73.1 178.4 73.7 180.4 74.3 182.2 74.8 183.9 75.4 185.4 76.0 186.6 76.5 187.7 77.1 188.7 77.7 189.5 78.2 190.3 78.8 190.9 79.4 191.4 79.9 191.8 80.5 192.3 81.1 192.7 81.6 193.1 82.2 193.4 82.8 193.7 83.3 193.9 83.9 194.0 84.4 194.1 85.0 194.1 85.6 194.2 86.1 194.2 86.7 194.3 87.3 194.4 87.8 194.5 88.4 194.6 89.0 194.8 89.5 194.9 90.1 195.0 90.7 195.1 91.2 195.2 91.8 195.2 92.4 195.3 92.9 195.3 93.5 195.3 94.1 195.2 94.6 195.2 95.2 195.1 95.7 195.0 96.3 194.9 96.9 194.7 97.4 194.5 98.0 194.3 98.6 194.1 99.1 193.8 99.7 193.5 100.3 193.1 100.8 192.8 101.4 192.5 102.0 192.2 102.5 192.0 103.1 191.8 103.7 191.7 104.2 191.6 104.8 191.6 105.4 191.7 105.9 191.8 106.5 192.0 107.1 192.2 107.6 192.4 108.2 192.6 108.7 192.9 109.3 193.1 109.9 193.3 110.4 193.5 111.0 193.7 111.6 193.9 112.1 194.0 112.7 194.2 113.3 194.3 113.8 194.4 114.4 194.6 115.0 194.7 115.5 194.8 116.1 194.9 116.7 195.1 117.2 195.2 117.8 195.3 118.4 195.4 118.9 195.5 119.5 195.5 120.1 195.6 120.6 195.6 121.2 195.6 121.7 195.6 122.3 195.6 122.9 195.6 123.4 195.5 124.0 195.5 124.6 195.4 125.1 195.4 125.7 195.4 126.3 195.3 126.8 195.3 127.4 195.2 128.0 195.2 128.5 195.1 129.1 195.1 129.7 195.0 130.2 195.0 130.8 195.0 131.4 195.0 131.9 194.9 132.5 194.9 133.0 194.9 133.6 194.8 134.2 194.8 134.7 194.8 135.3 194.8 135.9 194.7 136.4 194.7 137.0 194.7 137.6 194.7 138.1 194.7 138.7 194.7 139.3 194.7 139.8 194.7 140.4 194.7 141.0 194.7 141.5 194.8 142.1 194.8 142.7 194.8 143.2 194.8 143.8 194.8 144.4 194.8 144.9 194.8 145.5 194.9 146.0 194.9 146.6 194.9 147.2 195.0 147.7 195.0 148.3 195.0 148.9 195.1" stroke="#2a7fd8" stroke-width="2.2" stroke-opacity="0.5"/>
<path d="M53.4 221.6L53.9 221.6 54.5 221.6 55.1 221.6 55.6 221.6 56.2 221.6 56.8 221.6 57.3 221.6 57.9 221.6 58.4 221.6 59.0 221.6 59.6 221.6 60.1 221.4 60.7 221.1 61.3 219.9 61.8 217.0 62.4 213.0 63.0 207.6 63.5 199.2 64.1 190.2 64.7 182.7 65.2 175.4 65.8 169.2 66.4 165.7 66.9 163.5 67.5 161.8 68.1 160.6 68.6 160.1 69.2 160.8 69.8 162.5 70.3 164.7 70.9 166.9 71.4 169.6 72.0 172.7 72.6 175.8 73.1 178.3 73.7 180.3 74.3 182.2 74.8 183.9 75.4 185.3 76.0 186.6 76.5 187.7 77.1 188.7 77.7 189.5 78.2 190.3 78.8 190.9 79.4 191.4 79.9 191.9 80.5 192.3 81.1 192.8 81.6 193.2 82.2 193.5 82.8 193.8 83.3 194.0 83.9 194.2 84.4 194.2 85.0 194.3 85.6 194.3 86.1 194.4 86.7 194.5 87.3 194.6 87.8 194.7 88.4 194.8 89.0 194.9 89.5 195.0 90.1 195.1 90.7 195.2 91.2 195.3 91.8 195.3 92.4 195.3 92.9 195.3 93.5 195.3 94.1 195.3 94.6 195.2 95.2 195.1 95.7 195.0 96.3 194.9 96.9 194.7 97.4 194.6 98.0 194.3 98.6 194.1 99.1 193.8 99.7 193.5 100.3 193.2 100.8 192.9 101.4 192.6 102.0 192.3 102.5 192.1 103.1 191.9 103.7 191.7 104.2 191.7 104.8 191.7 105.4 191.8 105.9 191.9 106.5 192.1 107.1 192.2 107.6 192.4 108.2 192.6 108.7 192.9 109.3 193.1 109.9 193.3 110.4 193.5 111.0 193.7 111.6 193.8 112.1 194.0 112.7 194.1 113.3 194.2 113.8 194.4 114.4 194.5 115.0 194.6 115.5 194.7 116.1 194.9 116.7 195.0 117.2 195.1 117.8 195.2 118.4 195.3 118.9 195.4 119.5 195.5 120.1 195.5 120.6 195.5 121.2 195.5 121.7 195.5 122.3 195.5 122.9 195.5 123.4 195.5 124.0 195.4 124.6 195.4 125.1 195.3 125.7 195.3 126.3 195.2 126.8 195.2 127.4 195.1 128.0 195.1 128.5 195.0 129.1 195.0 129.7 195.0 130.2 194.9 130.8 194.9 131.4 194.9 131.9 194.8 132.5 194.8 133.0 194.8 133.6 194.8 134.2 194.7 134.7 194.7 135.3 194.7 135.9 194.7 136.4 194.7 137.0 194.6 137.6 194.6 138.1 194.6 138.7 194.6 139.3 194.7 139.8 194.7 140.4 194.7 141.0 194.7 141.5 194.7 142.1 194.7 142.7 194.7 143.2 194.7 143.8 194.7 144.4 194.7 144.9 194.8 145.5 194.8 146.0 194.8 146.6 194.8 147.2 194.9 147.7 194.9 148.3 194.9 148.9 195.0" stroke="#2a7fd8" stroke-width="2.2" stroke-opacity="0.5"/>
<path d="M53.4 221.6L53.9 221.6 54.5 221.6 55.1 221.6 55.6 221.6 56.2 221.6 56.8 221.6 57.3 221.6 57.9 221.6 58.4 221.6 59.0 221.6 59.6 221.6 60.1 221.4 60.7 221.1 61.3 219.9 61.8 217.0 62.4 213.0 63.0 207.4 63.5 198.9 64.1 189.8 64.7 182.3 65.2 174.9 65.8 168.7 66.4 165.3 66.9 163.1 67.5 161.3 68.1 160.1 68.6 159.7 69.2 160.5 69.8 162.2 70.3 164.4 70.9 166.6 71.4 169.4 72.0 172.6 72.6 175.7 73.1 178.2 73.7 180.3 74.3 182.1 74.8 183.8 75.4 185.3 76.0 186.6 76.5 187.7 77.1 188.7 77.7 189.5 78.2 190.3 78.8 190.9 79.4 191.4 79.9 191.9 80.5 192.4 81.1 192.8 81.6 193.2 82.2 193.6 82.8 193.9 83.3 194.1 83.9 194.3 84.4 194.4 85.0 194.4 85.6 194.5 86.1 194.5 86.7 194.6 87.3 194.7 87.8 194.8 88.4 194.9 89.0 195.0 89.5 195.1 90.1 195.2 90.7 195.3 91.2 195.3 91.8 195.4 92.4 195.4 92.9 195.4 93.5 195.3 94.1 195.3 94.6 195.2 95.2 195.1 95.7 195.0 96.3 194.9 96.9 194.7 97.4 194.6 98.0 194.4 98.6 194.1 99.1 193.8 99.7 193.5 100.3 193.2 100.8 192.9 101.4 192.6 102.0 192.4 102.5 192.1 103.1 191.9 103.7 191.8 104.2 191.8 104.8 191.8 105.4 191.8 105.9 192.0 106.5 192.1 107.1 192.3 107.6 192.4 108.2 192.6 108.7 192.8 109.3 193.0 109.9 193.2 110.4 193.4 111.0 193.6 111.6 193.8 112.1 193.9 112.7 194.0 113.3 194.2 113.8 194.3 114.4 194.4 115.0 194.5 115.5 194.7 116.1 194.8 116.7 194.9 117.2 195.0 117.8 195.1 118.4 195.3 118.9 195.3 119.5 195.4 120.1 195.5 120.6 195.5 121.2 195.5 121.7 195.5 122.3 195.4 122.9 195.4 123.4 195.4 124.0 195.3 124.6 195.3 125.1 195.3 125.7 195.2 126.3 195.2 126.8 195.1 127.4 195.1 128.0 195.0 128.5 195.0 129.1 194.9 129.7 194.9 130.2 194.9 130.8 194.8 131.4 194.8 131.9 194.8 132.5 194.7 133.0 194.7 133.6 194.7 134.2 194.6 134.7 194.6 135.3 194.6 135.9 194.6 136.4 194.6 137.0 194.6 137.6 194.6 138.1 194.6 138.7 194.6 139.3 194.6 139.8 194.6 140.4 194.6 141.0 194.6 141.5 194.6 142.1 194.6 142.7 194.6 143.2 194.6 143.8 194.6 144.4 194.7 144.9 194.7 145.5 194.7 146.0 194.7 146.6 194.8 147.2 194.8 147.7 194.8 148.3 194.9 148.9 194.9" stroke="#2a7fd8" stroke-width="2.2" stroke-opacity="0.5"/>
<path d="M53.4 221.6L53.9 221.6 54.5 221.6 55.1 221.6 55.6 221.6 56.2 221.6 56.8 221.6 57.3 221.6 57.9 221.6 58.4 221.6 59.0 221.6 59.6 221.6 60.1 221.4 60.7 221.1 61.3 219.8 61.8 216.9 62.4 212.9 63.0 207.2 63.5 198.6 64.1 189.5 64.7 181.9 65.2 174.4 65.8 168.3 66.4 164.9 66.9 162.6 67.5 160.8 68.1 159.6 68.6 159.3 69.2 160.1 69.8 161.9 70.3 164.1 70.9 166.4 71.4 169.3 72.0 172.5 72.6 175.6 73.1 178.1 73.7 180.2 74.3 182.1 74.8 183.8 75.4 185.3 76.0 186.6 76.5 187.7 77.1 188.7 77.7 189.5 78.2 190.3 78.8 190.9 79.4 191.5 79.9 192.0 80.5 192.5 81.1 192.9 81.6 193.3 82.2 193.7 82.8 194.0 83.3 194.2 83.9 194.4 84.4 194.5 85.0 194.6 85.6 194.6 86.1 194.7 86.7 194.8 87.3 194.9 87.8 195.0 88.4 195.1 89.0 195.2 89.5 195.3 90.1 195.3 90.7 195.4 91.2 195.4 91.8 195.5 92.4 195.4 92.9 195.4 93.5 195.4 94.1 195.3 94.6 195.2 95.2 195.1 95.7 195.0 96.3 194.9 96.9 194.7 97.4 194.6 98.0 194.4 98.6 194.1 99.1 193.8 99.7 193.6 100.3 193.3 100.8 193.0 101.4 192.7 102.0 192.4 102.5 192.2 103.1 192.0 103.7 191.9 104.2 191.8 104.8 191.8 105.4 191.9 105.9 192.0 106.5 192.1 107.1 192.3 107.6 192.5 108.2 192.6 108.7 192.8 109.3 193.0 109.9 193.2 110.4 193.4 111.0 193.5 111.6 193.7 112.1 193.8 112.7 194.0 113.3 194.1 113.8 194.2 114.4 194.3 115.0 194.5 115.5 194.6 116.1 194.7 116.7 194.8 117.2 195.0 117.8 195.1 118.4 195.2 118.9 195.3 119.5 195.3 120.1 195.4 120.6 195.4 121.2 195.4 121.7 195.4 122.3 195.4 122.9 195.3 123.4 195.3 124.0 195.3 124.6 195.2 125.1 195.2 125.7 195.1 126.3 195.1 126.8 195.0 127.4 195.0 128.0 194.9 128.5 194.9 129.1 194.8 129.7 194.8 130.2 194.8 130.8 194.7 131.4 194.7 131.9 194.7 132.5 194.6 133.0 194.6 133.6 194.6 134.2 194.6 134.7 194.5 135.3 194.5 135.9 194.5 136.4 194.5 137.0 194.5 137.6 194.5 138.1 194.5 138.7 194.5 139.3 194.5 139.8 194.5 140.4 194.5 141.0 194.5 141.5 194.5 142.1 194.5 142.7 194.5 143.2 194.5 143.8 194.6 144.4 194.6 144.9 194.6 145.5 194.6 146.0 194.7 146.6 194.7 147.2 194.7 147.7 194.8 148.3 194.8 148.9 194.8" stroke="#2a7fd8" stroke-width="2.2" stroke-opacity="0.5"/>
<path d="M53.4 221.6L53.9 221.6 54.5 221.6 55.1 221.6 55.6 221.6 56.2 221.6 56.8 221.6 57.3 221.6 57.9 221.6 58.4 221.6 59.0 221.6 59.6 221.6 60.1 221.4 60.7 221.1 61.3 219.8 61.8 216.9 62.4 212.8 63.0 207.0 63.5 198.3 64.1 189.1 64.7 181.5 65.2 174.0 65.8 167.8 66.4 164.4 66.9 162.1 67.5 160.3 68.1 159.2 68.6 158.8 69.2 159.7 69.8 161.6 70.3 163.8 70.9 166.1 71.4 169.1 72.0 172.3 72.6 175.5 73.1 178.1 73.7 180.1 74.3 182.0 74.8 183.7 75.4 185.2 76.0 186.5 76.5 187.7 77.1 188.7 77.7 189.5 78.2 190.3 78.8 191.0 79.4 191.5 79.9 192.0 80.5 192.5 81.1 193.0 81.6 193.4 82.2 193.8 82.8 194.1 83.3 194.3 83.9 194.5 84.4 194.6 85.0 194.7 85.6 194.8 86.1 194.8 86.7 194.9 87.3 195.0 87.8 195.1 88.4 195.2 89.0 195.3 89.5 195.4 90.1 195.4 90.7 195.5 91.2 195.5 91.8 195.5 92.4 195.5 92.9 195.5 93.5 195.4 94.1 195.3 94.6 195.2 95.2 195.1 95.7 195.0 96.3 194.9 96.9 194.7 97.4 194.6 98.0 194.4 98.6 194.1 99.1 193.9 99.7 193.6 100.3 193.3 100.8 193.0 101.4 192.7 102.0 192.5 102.5 192.3 103.1 192.1 103.7 192.0 104.2 191.9 104.8 191.9 105.4 192.0 105.9 192.1 106.5 192.2 107.1 192.3 107.6 192.5 108.2 192.6 108.7 192.8 109.3 193.0 109.9 193.2 110.4 193.3 111.0 193.5 111.6 193.6 112.1 193.8 112.7 193.9 113.3 194.0 113.8 194.1 114.4 194.3 115.0 194.4 115.5 194.5 116.1 194.6 116.7 194.8 117.2 194.9 117.8 195.0 118.4 195.1 118.9 195.2 119.5 195.3 120.1 195.3 120.6 195.3 121.2 195.3 121.7 195.3 122.3 195.3 122.9 195.3 123.4 195.2 124.0 195.2 124.6 195.1 125.1 195.1 125.7 195.0 126.3 195.0 126.8 194.9 127.4 194.9 128.0 194.8 128.5 194.8 129.1 194.8 129.7 194.7 130.2 194.7 130.8 194.7 131.4 194.6 131.9 194.6 132.5 194.6 133.0 194.5 133.6 194.5 134.2 194.5 134.7 194.5 135.3 194.4 135.9 194.4 136.4 194.4 137.0 194.4 137.6 194.4 138.1 194.4 138.7 194.4 139.3 194.4 139.8 194.4 140.4 194.4 141.0 194.4 141.5 194.4 142.1 194.4 142.7 194.5 143.2 194.5 143.8 194.5 144.4 194.5 144.9 194.5 145.5 194.6 146.0 194.6 146.6 194.6 147.2 194.6 147.7 194.7 148.3 194.7 148.9 194.8" stroke="#2a7fd8" stroke-width="2.2" stroke-opacity="0.5"/>
<path d="M53.4 221.6L53.9 221.6 54.5 221.6 55.1 221.6 55.6 221.6 56.2 221.6 56.8 221.6 57.3 221.6 57.9 221.6 58.4 221.6 59.0 221.6 59.6 221.6 60.1 221.4 60.7 221.1 61.3 219.7 61.8 216.8 62.4 212.7 63.0 206.8 63.5 198.0 64.1 188.8 64.7 181.1 65.2 173.5 65.8 167.3 66.4 164.0 66.9 161.7 67.5 159.9 68.1 158.7 68.6 158.4 69.2 159.3 69.8 161.3 70.3 163.6 70.9 165.9 71.4 168.9 72.0 172.2 72.6 175.4 73.1 178.0 73.7 180.1 74.3 182.0 74.8 183.7 75.4 185.2 76.0 186.5 76.5 187.6 77.1 188.7 77.7 189.6 78.2 190.3 78.8 191.0 79.4 191.5 79.9 192.1 80.5 192.6 81.1 193.1 81.6 193.5 82.2 193.9 82.8 194.2 83.3 194.5 83.9 194.7 84.4 194.8 85.0 194.8 85.6 194.9 86.1 195.0 86.7 195.1 87.3 195.2 87.8 195.3 88.4 195.3 89.0 195.4 89.5 195.5 90.1 195.6 90.7 195.6 91.2 195.6 91.8 195.6 92.4 195.6 92.9 195.5 93.5 195.4 94.1 195.4 94.6 195.3 95.2 195.1 95.7 195.0 96.3 194.9 96.9 194.7 97.4 194.6 98.0 194.4 98.6 194.2 99.1 193.9 99.7 193.6 100.3 193.3 100.8 193.1 101.4 192.8 102.0 192.6 102.5 192.4 103.1 192.2 103.7 192.1 104.2 192.0 104.8 192.0 105.4 192.0 105.9 192.1 106.5 192.2 107.1 192.4 107.6 192.5 108.2 192.6 108.7 192.8 109.3 193.0 109.9 193.1 110.4 193.3 111.0 193.4 111.6 193.6 112.1 193.7 112.7 193.8 113.3 193.9 113.8 194.1 114.4 194.2 115.0 194.3 115.5 194.4 116.1 194.6 116.7 194.7 117.2 194.8 117.8 194.9 118.4 195.0 118.9 195.1 119.5 195.2 120.1 195.2 120.6 195.3 121.2 195.3 121.7 195.2 122.3 195.2 122.9 195.2 123.4 195.2 124.0 195.1 124.6 195.1 125.1 195.0 125.7 195.0 126.3 194.9 126.8 194.9 127.4 194.8 128.0 194.8 128.5 194.7 129.1 194.7 129.7 194.6 130.2 194.6 130.8 194.6 131.4 194.5 131.9 194.5 132.5 194.5 133.0 194.5 133.6 194.4 134.2 194.4 134.7 194.4 135.3 194.3 135.9 194.3 136.4 194.3 137.0 194.3 137.6 194.3 138.1 194.3 138.7 194.3 139.3 194.3 139.8 194.3 140.4 194.3 141.0 194.3 141.5 194.3 142.1 194.4 142.7 194.4 143.2 194.4 143.8 194.4 144.4 194.4 144.9 194.4 145.5 194.5 146.0 194.5 146.6 194.5 147.2 194.6 147.7 194.6 148.3 194.6 148.9 194.7" stroke="#2a7fd8" stroke-width="2.2" stroke-opacity="0.5"/>
<path d="M53.4 221.6L53.9 221.6 54.5 221.6 55.1 221.6 55.6 221.6 56.2 221.6 56.8 221.6 57.3 221.6 57.9 221.6 58.4 221.6 59.0 221.6 59.6 221.6 60.1 221.4 60.7 221.1 61.3 219.7 61.8 216.7 62.4 212.7 63.0 206.6 63.5 197.7 64.1 188.4 64.7 180.6 65.2 173.0 65.8 166.8 66.4 163.5 66.9 161.2 67.5 159.4 68.1 158.2 68.6 158.0 69.2 159.0 69.8 160.9 70.3 163.3 70.9 165.7 71.4 168.7 72.0 172.1 72.6 175.3 73.1 177.9 73.7 180.0 74.3 181.9 74.8 183.7 75.4 185.2 76.0 186.5 76.5 187.6 77.1 188.7 77.7 189.6 78.2 190.3 78.8 191.0 79.4 191.6 79.9 192.1 80.5 192.6 81.1 193.1 81.6 193.6 82.2 194.0 82.8 194.3 83.3 194.6 83.9 194.8 84.4 194.9 85.0 195.0 85.6 195.1 86.1 195.1 86.7 195.2 87.3 195.3 87.8 195.4 88.4 195.5 89.0 195.6 89.5 195.6 90.1 195.7 90.7 195.7 91.2 195.7 91.8 195.7 92.4 195.6 92.9 195.6 93.5 195.5 94.1 195.4 94.6 195.3 95.2 195.1 95.7 195.0 96.3 194.9 96.9 194.7 97.4 194.6 98.0 194.4 98.6 194.2 99.1 193.9 99.7 193.7 100.3 193.4 100.8 193.1 101.4 192.9 102.0 192.6 102.5 192.4 103.1 192.3 103.7 192.2 104.2 192.1 104.8 192.1 105.4 192.1 105.9 192.2 106.5 192.3 107.1 192.4 107.6 192.5 108.2 192.6 108.7 192.8 109.3 192.9 109.9 193.1 110.4 193.2 111.0 193.4 111.6 193.5 112.1 193.6 112.7 193.8 113.3 193.9 113.8 194.0 114.4 194.1 115.0 194.2 115.5 194.4 116.1 194.5 116.7 194.6 117.2 194.7 117.8 194.9 118.4 195.0 118.9 195.1 119.5 195.1 120.1 195.2 120.6 195.2 121.2 195.2 121.7 195.2 122.3 195.1 122.9 195.1 123.4 195.1 124.0 195.0 124.6 195.0 125.1 194.9 125.7 194.9 126.3 194.8 126.8 194.8 127.4 194.7 128.0 194.7 128.5 194.6 129.1 194.6 129.7 194.6 130.2 194.5 130.8 194.5 131.4 194.5 131.9 194.4 132.5 194.4 133.0 194.4 133.6 194.3 134.2 194.3 134.7 194.3 135.3 194.3 135.9 194.3 136.4 194.2 137.0 194.2 137.6 194.2 138.1 194.2 138.7 194.2 139.3 194.2 139.8 194.2 140.4 194.2 141.0 194.3 141.5 194.3 142.1 194.3 142.7 194.3 143.2 194.3 143.8 194.3 144.4 194.3 144.9 194.4 145.5 194.4 146.0 194.4 146.6 194.4 147.2 194.5 147.7 194.5 148.3 194.6 148.9 194.6" stroke="#2a7fd8" stroke-width="2.2" stroke-opacity="0.5"/>
<path d="M53.4 221.6L53.9 221.6 54.5 221.6 55.1 221.6 55.6 221.6 56.2 221.6 56.8 221.6 57.3 221.6 57.9 221.6 58.4 221.6 59.0 221.6 59.6 221.5 60.1 221.3 60.7 220.8 61.3 219.3 61.8 216.1 62.4 212.0 63.0 206.7 63.5 199.0 64.1 190.9 64.7 184.4 65.2 178.3 65.8 173.1 66.4 170.2 66.9 168.4 67.5 166.9 68.1 165.9 68.6 165.5 69.2 166.1 69.8 167.4 70.3 169.2 70.9 170.9 71.4 173.2 72.0 175.7 72.6 178.3 73.1 180.4 73.7 182.1 74.3 183.7 74.8 185.2 75.4 186.4 76.0 187.6 76.5 188.5 77.1 189.4 77.7 190.2 78.2 190.9 78.8 191.5 79.4 192.0 79.9 192.5 80.5 193.0 81.1 193.5 81.6 193.9 82.2 194.3 82.8 194.6 83.3 194.9 83.9 195.2 84.4 195.3 85.0 195.5 85.6 195.6 86.1 195.6 86.7 195.7 87.3 195.8 87.8 195.9 88.4 195.9 89.0 195.9 89.5 195.9 90.1 195.9 90.7 195.9 91.2 195.8 91.8 195.7 92.4 195.6 92.9 195.5 93.5 195.4 94.1 195.3 94.6 195.1 95.2 195.0 95.7 194.8 96.3 194.7 96.9 194.6 97.4 194.4 98.0 194.3 98.6 194.1 99.1 193.9 99.7 193.7 100.3 193.5 100.8 193.3 101.4 193.1 102.0 192.9 102.5 192.7 103.1 192.6 103.7 192.5 104.2 192.4 104.8 192.3 105.4 192.3 105.9 192.4 106.5 192.4 107.1 192.5 107.6 192.5 108.2 192.6 108.7 192.7 109.3 192.8 109.9 192.9 110.4 193.0 111.0 193.0 111.6 193.1 112.1 193.2 112.7 193.3 113.3 193.4 113.8 193.5 114.4 193.6 115.0 193.7 115.5 193.8 116.1 193.9 116.7 194.0 117.2 194.1 117.8 194.2 118.4 194.3 118.9 194.4 119.5 194.5 120.1 194.5 120.6 194.6 121.2 194.6 121.7 194.5 122.3 194.5 122.9 194.5 123.4 194.5 124.0 194.4 124.6 194.4 125.1 194.3 125.7 194.3 126.3 194.3 126.8 194.2 127.4 194.2 128.0 194.1 128.5 194.1 129.1 194.0 129.7 194.0 130.2 194.0 130.8 194.0 131.4 193.9 131.9 193.9 132.5 193.9 133.0 193.8 133.6 193.8 134.2 193.8 134.7 193.8 135.3 193.8 135.9 193.7 136.4 193.7 137.0 193.7 137.6 193.7 138.1 193.7 138.7 193.7 139.3 193.7 139.8 193.7 140.4 193.7 141.0 193.7 141.5 193.8 142.1 193.8 142.7 193.8 143.2 193.8 143.8 193.8 144.4 193.8 144.9 193.8 145.5 193.9 146.0 193.9 146.6 193.9 147.2 193.9 147.7 194.0 148.3 194.0 148.9 194.0" stroke="#c8234f" stroke-width="2" stroke-dasharray="7.4 3.2"/>
</g>
<path d="M64.38 227.15 v-3.50 M64.38 138.75 v3.50 M101.12 227.15 v-3.50 M101.12 138.75 v3.50 M137.85 227.15 v-3.50 M137.85 138.75 v3.50 M57.04 227.15 v-2.00 M57.04 138.75 v2.00 M71.73 227.15 v-2.00 M71.73 138.75 v2.00 M79.08 227.15 v-2.00 M79.08 138.75 v2.00 M86.42 227.15 v-2.00 M86.42 138.75 v2.00 M93.77 227.15 v-2.00 M93.77 138.75 v2.00 M108.47 227.15 v-2.00 M108.47 138.75 v2.00 M115.81 227.15 v-2.00 M115.81 138.75 v2.00 M123.16 227.15 v-2.00 M123.16 138.75 v2.00 M130.51 227.15 v-2.00 M130.51 138.75 v2.00 M145.20 227.15 v-2.00 M145.20 138.75 v2.00 M55.20 221.62 h3.50 M145.20 221.62 h-3.50 M55.20 166.38 h3.50 M145.20 166.38 h-3.50 M55.20 207.81 h2.00 M145.20 207.81 h-2.00 M55.20 194.00 h2.00 M145.20 194.00 h-2.00 M55.20 180.19 h2.00 M145.20 180.19 h-2.00 M55.20 152.56 h2.00 M145.20 152.56 h-2.00 M55.20 138.75 h2.00 M145.20 138.75 h-2.00" stroke="#111" stroke-width="0.8" fill="none"/>
<rect x="55.20" y="138.75" width="90.00" height="88.40" fill="none" stroke="#111" stroke-width="1"/>
<text x="64.38" y="238.95" text-anchor="middle" font-size="13.3">1</text>
<text x="101.12" y="238.95" text-anchor="middle" font-size="13.3">2</text>
<text x="137.85" y="238.95" text-anchor="middle" font-size="13.3">3</text>
<text x="53.60" y="226.62" text-anchor="end" font-size="13.3">0</text>
<text x="53.60" y="171.38" text-anchor="end" font-size="13.3">2</text>
<rect x="179.70" y="138.75" width="90.00" height="88.40" fill="#e6efe4"/>
<g clip-path="url(#c11)" fill="none" stroke-linejoin="round">
<path d="M177.9 221.6L178.4 221.6 179.0 221.6 179.6 221.6 180.1 221.6 180.7 221.6 181.3 221.6 181.8 221.6 182.4 221.6 182.9 221.6 183.5 221.6 184.1 221.6 184.6 221.6 185.2 221.4 185.8 220.9 186.3 219.8 186.9 216.8 187.5 212.8 188.0 208.0 188.6 201.0 189.2 193.0 189.7 186.0 190.3 179.3 190.9 173.8 191.4 170.9 192.0 168.7 192.6 167.2 193.1 166.6 193.7 167.3 194.3 169.0 194.8 170.9 195.4 172.7 195.9 174.6 196.5 176.7 197.1 178.8 197.6 180.8 198.2 182.6 198.8 184.1 199.3 185.7 199.9 187.1 200.5 188.5 201.0 189.8 201.6 191.0 202.2 191.9 202.7 192.7 203.3 193.4 203.9 194.0 204.4 194.6 205.0 195.2 205.6 195.7 206.1 196.1 206.7 196.4 207.3 196.7 207.8 196.9 208.4 197.1 208.9 197.3 209.5 197.5 210.1 197.7 210.6 197.8 211.2 197.9 211.8 198.0 212.3 198.0 212.9 198.0 213.5 197.9 214.0 197.8 214.6 197.7 215.2 197.5 215.7 197.3 216.3 197.1 216.9 196.9 217.4 196.7 218.0 196.5 218.6 196.2 219.1 196.0 219.7 195.8 220.2 195.5 220.8 195.1 221.4 194.8 221.9 194.4 222.5 194.0 223.1 193.7 223.6 193.3 224.2 193.0 224.8 192.8 225.3 192.5 225.9 192.4 226.5 192.2 227.0 192.0 227.6 191.9 228.2 191.7 228.7 191.6 229.3 191.5 229.9 191.4 230.4 191.3 231.0 191.3 231.6 191.3 232.1 191.4 232.7 191.5 233.2 191.6 233.8 191.8 234.4 192.0 234.9 192.1 235.5 192.3 236.1 192.5 236.6 192.7 237.2 192.9 237.8 193.0 238.3 193.2 238.9 193.3 239.5 193.5 240.0 193.7 240.6 193.8 241.2 194.0 241.7 194.1 242.3 194.3 242.9 194.4 243.4 194.5 244.0 194.5 244.6 194.5 245.1 194.5 245.7 194.5 246.2 194.5 246.8 194.5 247.4 194.5 247.9 194.5 248.5 194.5 249.1 194.5 249.6 194.5 250.2 194.5 250.8 194.5 251.3 194.5 251.9 194.5 252.5 194.5 253.0 194.5 253.6 194.5 254.2 194.4 254.7 194.3 255.3 194.3 255.9 194.2 256.4 194.1 257.0 194.0 257.5 193.9 258.1 193.8 258.7 193.8 259.2 193.7 259.8 193.7 260.4 193.7 260.9 193.6 261.5 193.6 262.1 193.6 262.6 193.6 263.2 193.5 263.8 193.5 264.3 193.5 264.9 193.5 265.5 193.5 266.0 193.5 266.6 193.5 267.2 193.5 267.7 193.5 268.3 193.5 268.9 193.5 269.4 193.5 270.0 193.5 270.5 193.5 271.1 193.5 271.7 193.6 272.2 193.6 272.8 193.6 273.4 193.7" stroke="#f3a10f" stroke-width="3.9"/>
<path d="M177.9 221.6L178.4 221.6 179.0 221.6 179.6 221.6 180.1 221.6 180.7 221.6 181.3 221.6 181.8 221.6 182.4 221.6 182.9 221.6 183.5 221.6 184.1 221.6 184.6 221.5 185.2 221.1 185.8 220.4 186.3 218.1 186.9 214.4 187.5 210.0 188.0 203.7 188.6 195.8 189.2 188.2 189.7 181.5 190.3 175.2 190.9 171.5 191.4 169.1 192.0 167.2 192.6 166.3 193.1 166.5 193.7 168.0 194.3 169.9 194.8 171.8 195.4 173.7 195.9 175.7 196.5 177.8 197.1 179.9 197.6 181.8 198.2 183.5 198.8 185.0 199.3 186.6 199.9 188.0 200.5 189.3 201.0 190.6 201.6 191.6 202.2 192.4 202.7 193.2 203.3 193.8 203.9 194.5 204.4 195.0 205.0 195.5 205.6 196.0 206.1 196.3 206.7 196.6 207.3 196.9 207.8 197.1 208.4 197.3 208.9 197.5 209.5 197.7 210.1 197.9 210.6 198.0 211.2 198.1 211.8 198.1 212.3 198.1 212.9 198.1 213.5 198.0 214.0 197.8 214.6 197.7 215.2 197.5 215.7 197.3 216.3 197.1 216.9 196.9 217.4 196.7 218.0 196.4 218.6 196.2 219.1 196.0 219.7 195.7 220.2 195.4 220.8 195.1 221.4 194.7 221.9 194.3 222.5 194.0 223.1 193.6 223.6 193.3 224.2 193.0 224.8 192.8 225.3 192.6 225.9 192.4 226.5 192.3 227.0 192.1 227.6 192.0 228.2 191.9 228.7 191.7 229.3 191.6 229.9 191.6 230.4 191.5 231.0 191.5 231.6 191.6 232.1 191.7 232.7 191.8 233.2 192.0 233.8 192.1 234.4 192.3 234.9 192.5 235.5 192.7 236.1 192.9 236.6 193.1 237.2 193.2 237.8 193.4 238.3 193.5 238.9 193.7 239.5 193.9 240.0 194.0 240.6 194.2 241.2 194.3 241.7 194.5 242.3 194.6 242.9 194.7 243.4 194.8 244.0 194.8 244.6 194.8 245.1 194.8 245.7 194.8 246.2 194.8 246.8 194.8 247.4 194.8 247.9 194.8 248.5 194.8 249.1 194.8 249.6 194.8 250.2 194.8 250.8 194.8 251.3 194.8 251.9 194.8 252.5 194.8 253.0 194.8 253.6 194.7 254.2 194.6 254.7 194.6 255.3 194.5 255.9 194.4 256.4 194.3 257.0 194.2 257.5 194.1 258.1 194.1 258.7 194.0 259.2 194.0 259.8 194.0 260.4 193.9 260.9 193.9 261.5 193.9 262.1 193.8 262.6 193.8 263.2 193.8 263.8 193.8 264.3 193.8 264.9 193.7 265.5 193.7 266.0 193.7 266.6 193.7 267.2 193.7 267.7 193.7 268.3 193.7 268.9 193.8 269.4 193.8 270.0 193.8 270.5 193.8 271.1 193.8 271.7 193.9 272.2 193.9 272.8 193.9 273.4 194.0" stroke="#2a7fd8" stroke-width="2.2" stroke-opacity="0.5"/>
<path d="M177.9 221.6L178.4 221.6 179.0 221.6 179.6 221.6 180.1 221.6 180.7 221.6 181.3 221.6 181.8 221.6 182.4 221.6 182.9 221.6 183.5 221.6 184.1 221.6 184.6 221.6 185.2 221.2 185.8 220.7 186.3 218.9 186.9 215.5 187.5 211.2 188.0 205.7 188.6 197.9 189.2 190.0 189.7 183.2 190.3 176.6 190.9 172.1 191.4 169.5 192.0 167.4 192.6 166.2 193.1 166.1 193.7 167.3 194.3 169.2 194.8 171.2 195.4 173.0 195.9 175.0 196.5 177.2 197.1 179.3 197.6 181.2 198.2 183.0 198.8 184.6 199.3 186.1 199.9 187.6 200.5 189.0 201.0 190.2 201.6 191.3 202.2 192.2 202.7 193.0 203.3 193.7 203.9 194.3 204.4 194.9 205.0 195.4 205.6 195.9 206.1 196.3 206.7 196.6 207.3 196.8 207.8 197.1 208.4 197.3 208.9 197.5 209.5 197.7 210.1 197.8 210.6 198.0 211.2 198.1 211.8 198.1 212.3 198.1 212.9 198.1 213.5 198.0 214.0 197.9 214.6 197.8 215.2 197.6 215.7 197.4 216.3 197.2 216.9 197.0 217.4 196.7 218.0 196.5 218.6 196.3 219.1 196.1 219.7 195.8 220.2 195.5 220.8 195.2 221.4 194.8 221.9 194.4 222.5 194.1 223.1 193.7 223.6 193.4 224.2 193.1 224.8 192.8 225.3 192.6 225.9 192.5 226.5 192.3 227.0 192.2 227.6 192.0 228.2 191.9 228.7 191.8 229.3 191.7 229.9 191.6 230.4 191.5 231.0 191.5 231.6 191.6 232.1 191.6 232.7 191.8 233.2 191.9 233.8 192.1 234.4 192.3 234.9 192.5 235.5 192.7 236.1 192.9 236.6 193.0 237.2 193.2 237.8 193.3 238.3 193.5 238.9 193.7 239.5 193.8 240.0 194.0 240.6 194.2 241.2 194.3 241.7 194.5 242.3 194.6 242.9 194.7 243.4 194.8 244.0 194.8 244.6 194.8 245.1 194.8 245.7 194.8 246.2 194.8 246.8 194.8 247.4 194.8 247.9 194.8 248.5 194.8 249.1 194.8 249.6 194.8 250.2 194.8 250.8 194.8 251.3 194.8 251.9 194.8 252.5 194.8 253.0 194.8 253.6 194.7 254.2 194.7 254.7 194.6 255.3 194.5 255.9 194.4 256.4 194.3 257.0 194.2 257.5 194.2 258.1 194.1 258.7 194.0 259.2 194.0 259.8 194.0 260.4 193.9 260.9 193.9 261.5 193.9 262.1 193.8 262.6 193.8 263.2 193.8 263.8 193.8 264.3 193.8 264.9 193.7 265.5 193.7 266.0 193.7 266.6 193.7 267.2 193.7 267.7 193.7 268.3 193.7 268.9 193.8 269.4 193.8 270.0 193.8 270.5 193.8 271.1 193.8 271.7 193.9 272.2 193.9 272.8 193.9 273.4 194.0" stroke="#2a7fd8" stroke-width="2.2" stroke-opacity="0.5"/>
<path d="M177.9 221.6L178.4 221.6 179.0 221.6 179.6 221.6 180.1 221.6 180.7 221.6 181.3 221.6 181.8 221.6 182.4 221.6 182.9 221.6 183.5 221.6 184.1 221.6 184.6 221.5 185.2 221.2 185.8 220.7 186.3 218.8 186.9 215.4 187.5 211.1 188.0 205.4 188.6 197.6 189.2 189.7 189.7 182.8 190.3 176.2 190.9 171.8 191.4 169.2 192.0 167.2 192.6 166.0 193.1 165.9 193.7 167.2 194.3 169.1 194.8 171.1 195.4 172.9 195.9 175.0 196.5 177.1 197.1 179.2 197.6 181.2 198.2 183.0 198.8 184.6 199.3 186.1 199.9 187.6 200.5 189.0 201.0 190.3 201.6 191.3 202.2 192.2 202.7 193.0 203.3 193.7 203.9 194.3 204.4 194.9 205.0 195.4 205.6 195.9 206.1 196.3 206.7 196.6 207.3 196.9 207.8 197.1 208.4 197.3 208.9 197.5 209.5 197.7 210.1 197.9 210.6 198.0 211.2 198.1 211.8 198.1 212.3 198.1 212.9 198.1 213.5 198.0 214.0 197.9 214.6 197.8 215.2 197.6 215.7 197.4 216.3 197.2 216.9 197.0 217.4 196.7 218.0 196.5 218.6 196.3 219.1 196.1 219.7 195.8 220.2 195.5 220.8 195.1 221.4 194.8 221.9 194.4 222.5 194.1 223.1 193.7 223.6 193.4 224.2 193.1 224.8 192.8 225.3 192.6 225.9 192.5 226.5 192.3 227.0 192.1 227.6 192.0 228.2 191.9 228.7 191.7 229.3 191.6 229.9 191.6 230.4 191.5 231.0 191.5 231.6 191.5 232.1 191.6 232.7 191.8 233.2 191.9 233.8 192.1 234.4 192.3 234.9 192.5 235.5 192.7 236.1 192.9 236.6 193.0 237.2 193.2 237.8 193.3 238.3 193.5 238.9 193.7 239.5 193.8 240.0 194.0 240.6 194.2 241.2 194.3 241.7 194.5 242.3 194.6 242.9 194.7 243.4 194.8 244.0 194.8 244.6 194.8 245.1 194.8 245.7 194.8 246.2 194.8 246.8 194.8 247.4 194.8 247.9 194.8 248.5 194.8 249.1 194.8 249.6 194.8 250.2 194.8 250.8 194.8 251.3 194.8 251.9 194.8 252.5 194.8 253.0 194.8 253.6 194.7 254.2 194.7 254.7 194.6 255.3 194.5 255.9 194.4 256.4 194.3 257.0 194.2 257.5 194.2 258.1 194.1 258.7 194.0 259.2 194.0 259.8 194.0 260.4 193.9 260.9 193.9 261.5 193.9 262.1 193.8 262.6 193.8 263.2 193.8 263.8 193.8 264.3 193.8 264.9 193.7 265.5 193.7 266.0 193.7 266.6 193.7 267.2 193.7 267.7 193.7 268.3 193.7 268.9 193.8 269.4 193.8 270.0 193.8 270.5 193.8 271.1 193.8 271.7 193.9 272.2 193.9 272.8 193.9 273.4 194.0" stroke="#2a7fd8" stroke-width="2.2" stroke-opacity="0.5"/>
<path d="M177.9 221.6L178.4 221.6 179.0 221.6 179.6 221.6 180.1 221.6 180.7 221.6 181.3 221.6 181.8 221.6 182.4 221.6 182.9 221.6 183.5 221.6 184.1 221.6 184.6 221.5 185.2 221.2 185.8 220.7 186.3 218.8 186.9 215.3 187.5 211.0 188.0 205.2 188.6 197.3 189.2 189.4 189.7 182.5 190.3 175.9 190.9 171.5 191.4 168.9 192.0 166.9 192.6 165.7 193.1 165.7 193.7 167.0 194.3 169.0 194.8 171.0 195.4 172.8 195.9 174.9 196.5 177.1 197.1 179.2 197.6 181.2 198.2 183.0 198.8 184.6 199.3 186.1 199.9 187.6 200.5 189.0 201.0 190.3 201.6 191.4 202.2 192.3 202.7 193.0 203.3 193.7 203.9 194.4 204.4 194.9 205.0 195.5 205.6 195.9 206.1 196.3 206.7 196.6 207.3 196.9 207.8 197.1 208.4 197.3 208.9 197.5 209.5 197.7 210.1 197.9 210.6 198.0 211.2 198.1 211.8 198.2 212.3 198.2 212.9 198.1 213.5 198.0 214.0 197.9 214.6 197.8 215.2 197.6 215.7 197.4 216.3 197.2 216.9 197.0 217.4 196.8 218.0 196.5 218.6 196.3 219.1 196.1 219.7 195.8 220.2 195.5 220.8 195.1 221.4 194.8 221.9 194.4 222.5 194.0 223.1 193.7 223.6 193.4 224.2 193.1 224.8 192.8 225.3 192.6 225.9 192.4 226.5 192.3 227.0 192.1 227.6 192.0 228.2 191.8 228.7 191.7 229.3 191.6 229.9 191.5 230.4 191.5 231.0 191.5 231.6 191.5 232.1 191.6 232.7 191.7 233.2 191.9 233.8 192.1 234.4 192.3 234.9 192.5 235.5 192.7 236.1 192.9 236.6 193.0 237.2 193.2 237.8 193.3 238.3 193.5 238.9 193.7 239.5 193.8 240.0 194.0 240.6 194.2 241.2 194.3 241.7 194.5 242.3 194.6 242.9 194.7 243.4 194.8 244.0 194.8 244.6 194.8 245.1 194.8 245.7 194.8 246.2 194.8 246.8 194.8 247.4 194.8 247.9 194.8 248.5 194.8 249.1 194.8 249.6 194.8 250.2 194.8 250.8 194.8 251.3 194.8 251.9 194.8 252.5 194.8 253.0 194.8 253.6 194.7 254.2 194.7 254.7 194.6 255.3 194.5 255.9 194.4 256.4 194.3 257.0 194.2 257.5 194.2 258.1 194.1 258.7 194.0 259.2 194.0 259.8 194.0 260.4 193.9 260.9 193.9 261.5 193.9 262.1 193.8 262.6 193.8 263.2 193.8 263.8 193.8 264.3 193.8 264.9 193.7 265.5 193.7 266.0 193.7 266.6 193.7 267.2 193.7 267.7 193.7 268.3 193.7 268.9 193.8 269.4 193.8 270.0 193.8 270.5 193.8 271.1 193.8 271.7 193.9 272.2 193.9 272.8 193.9 273.4 194.0" stroke="#2a7fd8" stroke-width="2.2" stroke-opacity="0.5"/>
<path d="M177.9 221.6L178.4 221.6 179.0 221.6 179.6 221.6 180.1 221.6 180.7 221.6 181.3 221.6 181.8 221.6 182.4 221.6 182.9 221.6 183.5 221.6 184.1 221.6 184.6 221.5 185.2 221.2 185.8 220.7 186.3 218.7 186.9 215.2 187.5 210.9 188.0 205.0 188.6 197.0 189.2 189.1 189.7 182.2 190.3 175.5 190.9 171.2 191.4 168.7 192.0 166.6 192.6 165.5 193.1 165.5 193.7 166.9 194.3 168.9 194.8 170.9 195.4 172.8 195.9 174.8 196.5 177.0 197.1 179.2 197.6 181.2 198.2 182.9 198.8 184.6 199.3 186.1 199.9 187.6 200.5 189.0 201.0 190.3 201.6 191.4 202.2 192.3 202.7 193.0 203.3 193.7 203.9 194.4 204.4 195.0 205.0 195.5 205.6 196.0 206.1 196.3 206.7 196.7 207.3 196.9 207.8 197.1 208.4 197.4 208.9 197.6 209.5 197.8 210.1 197.9 210.6 198.0 211.2 198.1 211.8 198.2 212.3 198.2 212.9 198.1 213.5 198.1 214.0 197.9 214.6 197.8 215.2 197.6 215.7 197.4 216.3 197.2 216.9 197.0 217.4 196.8 218.0 196.5 218.6 196.3 219.1 196.1 219.7 195.8 220.2 195.5 220.8 195.1 221.4 194.8 221.9 194.4 222.5 194.0 223.1 193.7 223.6 193.3 224.2 193.0 224.8 192.8 225.3 192.6 225.9 192.4 226.5 192.3 227.0 192.1 227.6 192.0 228.2 191.8 228.7 191.7 229.3 191.6 229.9 191.5 230.4 191.5 231.0 191.5 231.6 191.5 232.1 191.6 232.7 191.7 233.2 191.9 233.8 192.1 234.4 192.3 234.9 192.5 235.5 192.7 236.1 192.9 236.6 193.0 237.2 193.2 237.8 193.3 238.3 193.5 238.9 193.7 239.5 193.8 240.0 194.0 240.6 194.2 241.2 194.3 241.7 194.5 242.3 194.6 242.9 194.7 243.4 194.8 244.0 194.8 244.6 194.8 245.1 194.8 245.7 194.8 246.2 194.8 246.8 194.8 247.4 194.8 247.9 194.8 248.5 194.8 249.1 194.8 249.6 194.8 250.2 194.8 250.8 194.8 251.3 194.8 251.9 194.8 252.5 194.8 253.0 194.8 253.6 194.7 254.2 194.7 254.7 194.6 255.3 194.5 255.9 194.4 256.4 194.3 257.0 194.2 257.5 194.2 258.1 194.1 258.7 194.0 259.2 194.0 259.8 194.0 260.4 193.9 260.9 193.9 261.5 193.9 262.1 193.8 262.6 193.8 263.2 193.8 263.8 193.8 264.3 193.8 264.9 193.7 265.5 193.7 266.0 193.7 266.6 193.7 267.2 193.7 267.7 193.7 268.3 193.7 268.9 193.7 269.4 193.8 270.0 193.8 270.5 193.8 271.1 193.8 271.7 193.9 272.2 193.9 272.8 193.9 273.4 194.0" stroke="#2a7fd8" stroke-width="2.2" stroke-opacity="0.5"/>
<path d="M177.9 221.6L178.4 221.6 179.0 221.6 179.6 221.6 180.1 221.6 180.7 221.6 181.3 221.6 181.8 221.6 182.4 221.6 182.9 221.6 183.5 221.6 184.1 221.6 184.6 221.5 185.2 221.2 185.8 220.7 186.3 218.6 186.9 215.1 187.5 210.8 188.0 204.8 188.6 196.7 189.2 188.8 189.7 181.8 190.3 175.2 190.9 171.0 191.4 168.4 192.0 166.3 192.6 165.2 193.1 165.3 193.7 166.7 194.3 168.8 194.8 170.8 195.4 172.7 195.9 174.8 196.5 177.0 197.1 179.2 197.6 181.2 198.2 182.9 198.8 184.6 199.3 186.1 199.9 187.6 200.5 189.1 201.0 190.3 201.6 191.4 202.2 192.3 202.7 193.1 203.3 193.8 203.9 194.4 204.4 195.0 205.0 195.5 205.6 196.0 206.1 196.4 206.7 196.7 207.3 196.9 207.8 197.2 208.4 197.4 208.9 197.6 209.5 197.8 210.1 197.9 210.6 198.1 211.2 198.2 211.8 198.2 212.3 198.2 212.9 198.2 213.5 198.1 214.0 198.0 214.6 197.8 215.2 197.6 215.7 197.4 216.3 197.2 216.9 197.0 217.4 196.8 218.0 196.5 218.6 196.3 219.1 196.1 219.7 195.8 220.2 195.5 220.8 195.1 221.4 194.8 221.9 194.4 222.5 194.0 223.1 193.7 223.6 193.3 224.2 193.0 224.8 192.8 225.3 192.6 225.9 192.4 226.5 192.3 227.0 192.1 227.6 191.9 228.2 191.8 228.7 191.7 229.3 191.6 229.9 191.5 230.4 191.5 231.0 191.5 231.6 191.5 232.1 191.6 232.7 191.7 233.2 191.9 233.8 192.1 234.4 192.3 234.9 192.5 235.5 192.7 236.1 192.9 236.6 193.0 237.2 193.2 237.8 193.3 238.3 193.5 238.9 193.7 239.5 193.8 240.0 194.0 240.6 194.2 241.2 194.3 241.7 194.5 242.3 194.6 242.9 194.7 243.4 194.8 244.0 194.8 244.6 194.8 245.1 194.8 245.7 194.8 246.2 194.8 246.8 194.8 247.4 194.8 247.9 194.8 248.5 194.8 249.1 194.8 249.6 194.8 250.2 194.8 250.8 194.8 251.3 194.8 251.9 194.8 252.5 194.8 253.0 194.8 253.6 194.7 254.2 194.7 254.7 194.6 255.3 194.5 255.9 194.4 256.4 194.3 257.0 194.2 257.5 194.2 258.1 194.1 258.7 194.0 259.2 194.0 259.8 194.0 260.4 193.9 260.9 193.9 261.5 193.9 262.1 193.8 262.6 193.8 263.2 193.8 263.8 193.8 264.3 193.8 264.9 193.7 265.5 193.7 266.0 193.7 266.6 193.7 267.2 193.7 267.7 193.7 268.3 193.7 268.9 193.7 269.4 193.8 270.0 193.8 270.5 193.8 271.1 193.8 271.7 193.9 272.2 193.9 272.8 193.9 273.4 194.0" stroke="#2a7fd8" stroke-width="2.2" stroke-opacity="0.5"/>
<path d="M177.9 221.6L178.4 221.6 179.0 221.6 179.6 221.6 180.1 221.6 180.7 221.6 181.3 221.6 181.8 221.6 182.4 221.6 182.9 221.6 183.5 221.6 184.1 221.6 184.6 221.5 185.2 221.2 185.8 220.6 186.3 218.5 186.9 215.0 187.5 210.7 188.0 204.6 188.6 196.4 189.2 188.5 189.7 181.5 190.3 174.8 190.9 170.7 191.4 168.1 192.0 166.1 192.6 165.0 193.1 165.1 193.7 166.6 194.3 168.6 194.8 170.7 195.4 172.6 195.9 174.7 196.5 177.0 197.1 179.1 197.6 181.2 198.2 182.9 198.8 184.6 199.3 186.1 199.9 187.7 200.5 189.1 201.0 190.3 201.6 191.4 202.2 192.3 202.7 193.1 203.3 193.8 203.9 194.4 204.4 195.0 205.0 195.5 205.6 196.0 206.1 196.4 206.7 196.7 207.3 197.0 207.8 197.2 208.4 197.4 208.9 197.6 209.5 197.8 210.1 198.0 210.6 198.1 211.2 198.2 211.8 198.2 212.3 198.2 212.9 198.2 213.5 198.1 214.0 198.0 214.6 197.8 215.2 197.6 215.7 197.4 216.3 197.2 216.9 197.0 217.4 196.8 218.0 196.5 218.6 196.3 219.1 196.1 219.7 195.8 220.2 195.5 220.8 195.1 221.4 194.7 221.9 194.4 222.5 194.0 223.1 193.6 223.6 193.3 224.2 193.0 224.8 192.8 225.3 192.6 225.9 192.4 226.5 192.2 227.0 192.1 227.6 191.9 228.2 191.8 228.7 191.7 229.3 191.6 229.9 191.5 230.4 191.5 231.0 191.5 231.6 191.5 232.1 191.6 232.7 191.7 233.2 191.9 233.8 192.1 234.4 192.3 234.9 192.5 235.5 192.7 236.1 192.9 236.6 193.0 237.2 193.2 237.8 193.3 238.3 193.5 238.9 193.7 239.5 193.9 240.0 194.0 240.6 194.2 241.2 194.4 241.7 194.5 242.3 194.6 242.9 194.7 243.4 194.8 244.0 194.8 244.6 194.8 245.1 194.8 245.7 194.8 246.2 194.8 246.8 194.8 247.4 194.8 247.9 194.8 248.5 194.8 249.1 194.8 249.6 194.8 250.2 194.8 250.8 194.8 251.3 194.8 251.9 194.8 252.5 194.8 253.0 194.8 253.6 194.7 254.2 194.7 254.7 194.6 255.3 194.5 255.9 194.4 256.4 194.3 257.0 194.2 257.5 194.2 258.1 194.1 258.7 194.0 259.2 194.0 259.8 194.0 260.4 193.9 260.9 193.9 261.5 193.9 262.1 193.8 262.6 193.8 263.2 193.8 263.8 193.8 264.3 193.7 264.9 193.7 265.5 193.7 266.0 193.7 266.6 193.7 267.2 193.7 267.7 193.7 268.3 193.7 268.9 193.7 269.4 193.8 270.0 193.8 270.5 193.8 271.1 193.8 271.7 193.9 272.2 193.9 272.8 193.9 273.4 194.0" stroke="#2a7fd8" stroke-width="2.2" stroke-opacity="0.5"/>
<path d="M177.9 221.6L178.4 221.6 179.0 221.6 179.6 221.6 180.1 221.6 180.7 221.6 181.3 221.6 181.8 221.6 182.4 221.6 182.9 221.6 183.5 221.6 184.1 221.6 184.6 221.5 185.2 221.2 185.8 220.6 186.3 218.5 186.9 214.9 187.5 210.6 188.0 204.3 188.6 196.1 189.2 188.2 189.7 181.1 190.3 174.5 190.9 170.4 191.4 167.8 192.0 165.8 192.6 164.7 193.1 165.0 193.7 166.4 194.3 168.5 194.8 170.6 195.4 172.5 195.9 174.7 196.5 176.9 197.1 179.1 197.6 181.1 198.2 182.9 198.8 184.6 199.3 186.2 199.9 187.7 200.5 189.1 201.0 190.4 201.6 191.5 202.2 192.3 202.7 193.1 203.3 193.8 203.9 194.5 204.4 195.0 205.0 195.6 205.6 196.0 206.1 196.4 206.7 196.7 207.3 197.0 207.8 197.2 208.4 197.4 208.9 197.7 209.5 197.8 210.1 198.0 210.6 198.1 211.2 198.2 211.8 198.3 212.3 198.3 212.9 198.2 213.5 198.1 214.0 198.0 214.6 197.8 215.2 197.7 215.7 197.5 216.3 197.2 216.9 197.0 217.4 196.8 218.0 196.5 218.6 196.3 219.1 196.1 219.7 195.8 220.2 195.5 220.8 195.1 221.4 194.7 221.9 194.4 222.5 194.0 223.1 193.6 223.6 193.3 224.2 193.0 224.8 192.8 225.3 192.6 225.9 192.4 226.5 192.2 227.0 192.1 227.6 191.9 228.2 191.8 228.7 191.7 229.3 191.6 229.9 191.5 230.4 191.4 231.0 191.4 231.6 191.5 232.1 191.6 232.7 191.7 233.2 191.9 233.8 192.1 234.4 192.3 234.9 192.5 235.5 192.7 236.1 192.9 236.6 193.0 237.2 193.2 237.8 193.3 238.3 193.5 238.9 193.7 239.5 193.9 240.0 194.0 240.6 194.2 241.2 194.4 241.7 194.5 242.3 194.6 242.9 194.7 243.4 194.8 244.0 194.8 244.6 194.9 245.1 194.9 245.7 194.9 246.2 194.9 246.8 194.9 247.4 194.9 247.9 194.9 248.5 194.9 249.1 194.9 249.6 194.9 250.2 194.9 250.8 194.9 251.3 194.9 251.9 194.9 252.5 194.8 253.0 194.8 253.6 194.7 254.2 194.7 254.7 194.6 255.3 194.5 255.9 194.4 256.4 194.3 257.0 194.2 257.5 194.1 258.1 194.1 258.7 194.0 259.2 194.0 259.8 194.0 260.4 193.9 260.9 193.9 261.5 193.9 262.1 193.8 262.6 193.8 263.2 193.8 263.8 193.8 264.3 193.7 264.9 193.7 265.5 193.7 266.0 193.7 266.6 193.7 267.2 193.7 267.7 193.7 268.3 193.7 268.9 193.7 269.4 193.8 270.0 193.8 270.5 193.8 271.1 193.8 271.7 193.9 272.2 193.9 272.8 193.9 273.4 194.0" stroke="#2a7fd8" stroke-width="2.2" stroke-opacity="0.5"/>
<path d="M177.9 221.6L178.4 221.6 179.0 221.6 179.6 221.6 180.1 221.6 180.7 221.6 181.3 221.6 181.8 221.6 182.4 221.6 182.9 221.6 183.5 221.6 184.1 221.6 184.6 221.6 185.2 221.2 185.8 220.7 186.3 218.9 186.9 215.5 187.5 211.3 188.0 205.7 188.6 197.9 189.2 189.9 189.7 183.1 190.3 176.5 190.9 171.9 191.4 169.4 192.0 167.3 192.6 166.0 193.1 166.0 193.7 167.2 194.3 169.1 194.8 171.1 195.4 172.9 195.9 174.9 196.5 177.1 197.1 179.2 197.6 181.2 198.2 182.9 198.8 184.5 199.3 186.1 199.9 187.6 200.5 189.0 201.0 190.2 201.6 191.3 202.2 192.2 202.7 193.0 203.3 193.7 203.9 194.3 204.4 194.9 205.0 195.4 205.6 195.9 206.1 196.3 206.7 196.6 207.3 196.9 207.8 197.1 208.4 197.3 208.9 197.5 209.5 197.7 210.1 197.9 210.6 198.0 211.2 198.1 211.8 198.1 212.3 198.1 212.9 198.1 213.5 198.0 214.0 197.9 214.6 197.8 215.2 197.6 215.7 197.4 216.3 197.2 216.9 197.0 217.4 196.7 218.0 196.5 218.6 196.3 219.1 196.1 219.7 195.8 220.2 195.5 220.8 195.2 221.4 194.8 221.9 194.4 222.5 194.1 223.1 193.7 223.6 193.4 224.2 193.1 224.8 192.8 225.3 192.6 225.9 192.5 226.5 192.3 227.0 192.2 227.6 192.0 228.2 191.9 228.7 191.7 229.3 191.6 229.9 191.6 230.4 191.5 231.0 191.5 231.6 191.5 232.1 191.6 232.7 191.8 233.2 191.9 233.8 192.1 234.4 192.3 234.9 192.5 235.5 192.7 236.1 192.9 236.6 193.0 237.2 193.2 237.8 193.3 238.3 193.5 238.9 193.7 239.5 193.8 240.0 194.0 240.6 194.2 241.2 194.3 241.7 194.5 242.3 194.6 242.9 194.7 243.4 194.8 244.0 194.8 244.6 194.8 245.1 194.8 245.7 194.8 246.2 194.8 246.8 194.8 247.4 194.8 247.9 194.8 248.5 194.8 249.1 194.8 249.6 194.8 250.2 194.8 250.8 194.8 251.3 194.8 251.9 194.8 252.5 194.8 253.0 194.8 253.6 194.7 254.2 194.7 254.7 194.6 255.3 194.5 255.9 194.4 256.4 194.3 257.0 194.2 257.5 194.2 258.1 194.1 258.7 194.0 259.2 194.0 259.8 194.0 260.4 193.9 260.9 193.9 261.5 193.9 262.1 193.8 262.6 193.8 263.2 193.8 263.8 193.8 264.3 193.8 264.9 193.7 265.5 193.7 266.0 193.7 266.6 193.7 267.2 193.7 267.7 193.7 268.3 193.7 268.9 193.8 269.4 193.8 270.0 193.8 270.5 193.8 271.1 193.8 271.7 193.9 272.2 193.9 272.8 193.9 273.4 194.0" stroke="#c8234f" stroke-width="2" stroke-dasharray="7.4 3.2"/>
</g>
<path d="M188.88 227.15 v-3.50 M188.88 138.75 v3.50 M225.62 227.15 v-3.50 M225.62 138.75 v3.50 M262.35 227.15 v-3.50 M262.35 138.75 v3.50 M181.54 227.15 v-2.00 M181.54 138.75 v2.00 M196.23 227.15 v-2.00 M196.23 138.75 v2.00 M203.58 227.15 v-2.00 M203.58 138.75 v2.00 M210.92 227.15 v-2.00 M210.92 138.75 v2.00 M218.27 227.15 v-2.00 M218.27 138.75 v2.00 M232.97 227.15 v-2.00 M232.97 138.75 v2.00 M240.31 227.15 v-2.00 M240.31 138.75 v2.00 M247.66 227.15 v-2.00 M247.66 138.75 v2.00 M255.01 227.15 v-2.00 M255.01 138.75 v2.00 M269.70 227.15 v-2.00 M269.70 138.75 v2.00 M179.70 221.62 h3.50 M269.70 221.62 h-3.50 M179.70 166.38 h3.50 M269.70 166.38 h-3.50 M179.70 207.81 h2.00 M269.70 207.81 h-2.00 M179.70 194.00 h2.00 M269.70 194.00 h-2.00 M179.70 180.19 h2.00 M269.70 180.19 h-2.00 M179.70 152.56 h2.00 M269.70 152.56 h-2.00 M179.70 138.75 h2.00 M269.70 138.75 h-2.00" stroke="#111" stroke-width="0.8" fill="none"/>
<rect x="179.70" y="138.75" width="90.00" height="88.40" fill="none" stroke="#111" stroke-width="1"/>
<text x="188.88" y="238.95" text-anchor="middle" font-size="13.3">1</text>
<text x="225.62" y="238.95" text-anchor="middle" font-size="13.3">2</text>
<text x="262.35" y="238.95" text-anchor="middle" font-size="13.3">3</text>
<text x="178.10" y="226.62" text-anchor="end" font-size="13.3">0</text>
<text x="178.10" y="171.38" text-anchor="end" font-size="13.3">2</text>
<g clip-path="url(#c12)" fill="none" stroke-linejoin="round">
<path d="M302.5 221.6L303.0 221.6 303.6 221.6 304.2 221.6 304.7 221.6 305.3 221.6 305.9 221.6 306.4 221.6 307.0 221.6 307.5 221.6 308.1 221.6 308.7 221.6 309.2 221.6 309.8 221.6 310.4 221.3 310.9 220.8 311.5 219.2 312.1 215.5 312.6 210.5 313.2 204.7 313.8 196.3 314.3 187.0 314.9 178.9 315.5 171.2 316.0 165.0 316.6 161.6 317.2 159.1 317.7 158.2 318.3 159.0 318.9 160.7 319.4 162.6 320.0 164.6 320.5 167.2 321.1 170.0 321.7 173.0 322.2 175.8 322.8 178.2 323.4 180.4 323.9 182.6 324.5 184.6 325.1 186.6 325.6 188.3 326.2 189.9 326.8 191.2 327.3 192.5 327.9 193.7 328.5 194.8 329.0 195.8 329.6 196.7 330.2 197.5 330.7 198.1 331.3 198.6 331.9 199.1 332.4 199.6 333.0 200.0 333.5 200.4 334.1 200.7 334.7 200.9 335.2 201.1 335.8 201.1 336.4 201.0 336.9 200.9 337.5 200.7 338.1 200.5 338.6 200.2 339.2 199.9 339.8 199.6 340.3 199.3 340.9 199.0 341.5 198.7 342.0 198.3 342.6 197.8 343.2 197.3 343.7 196.8 344.3 196.3 344.8 195.7 345.4 195.2 346.0 194.6 346.5 194.1 347.1 193.6 347.7 193.2 348.2 192.9 348.8 192.5 349.4 192.1 349.9 191.7 350.5 191.3 351.1 190.9 351.6 190.6 352.2 190.3 352.8 190.1 353.3 189.9 353.9 189.8 354.5 189.7 355.0 189.8 355.6 189.9 356.2 190.1 356.7 190.3 357.3 190.6 357.8 190.9 358.4 191.2 359.0 191.4 359.5 191.7 360.1 192.0 360.7 192.3 361.2 192.7 361.8 193.0 362.4 193.4 362.9 193.8 363.5 194.1 364.1 194.5 364.6 194.8 365.2 195.1 365.8 195.3 366.3 195.5 366.9 195.6 367.5 195.8 368.0 196.0 368.6 196.1 369.2 196.2 369.7 196.4 370.3 196.5 370.8 196.5 371.4 196.6 372.0 196.6 372.5 196.5 373.1 196.4 373.7 196.3 374.2 196.2 374.8 196.0 375.4 195.9 375.9 195.7 376.5 195.5 377.1 195.4 377.6 195.2 378.2 195.1 378.8 194.9 379.3 194.7 379.9 194.5 380.5 194.3 381.0 194.2 381.6 194.0 382.1 193.8 382.7 193.7 383.3 193.5 383.8 193.5 384.4 193.4 385.0 193.4 385.5 193.4 386.1 193.4 386.7 193.4 387.2 193.4 387.8 193.4 388.4 193.4 388.9 193.4 389.5 193.4 390.1 193.4 390.6 193.4 391.2 193.4 391.8 193.5 392.3 193.5 392.9 193.5 393.5 193.5 394.0 193.6 394.6 193.6 395.1 193.6 395.7 193.7 396.3 193.7 396.8 193.8 397.4 193.8 398.0 193.9" stroke="#f3a10f" stroke-width="3.9"/>
<path d="M302.5 221.6L303.0 221.6 303.6 221.6 304.2 221.6 304.7 221.6 305.3 221.6 305.9 221.6 306.4 221.6 307.0 221.6 307.5 221.6 308.1 221.6 308.7 221.6 309.2 221.6 309.8 221.5 310.4 220.9 310.9 220.1 311.5 217.1 312.1 212.5 312.6 207.3 313.2 200.3 313.8 191.5 314.3 183.2 314.9 176.0 315.5 169.3 316.0 165.2 316.6 162.5 317.2 160.9 317.7 161.0 318.3 162.2 318.9 163.9 319.4 165.6 320.0 167.8 320.5 170.3 321.1 173.0 321.7 175.7 322.2 178.1 322.8 180.2 323.4 182.3 323.9 184.2 324.5 186.1 325.1 187.8 325.6 189.4 326.2 190.8 326.8 192.0 327.3 193.1 327.9 194.2 328.5 195.3 329.0 196.2 329.6 197.0 330.2 197.6 330.7 198.2 331.3 198.6 331.9 199.1 332.4 199.5 333.0 199.9 333.5 200.3 334.1 200.5 334.7 200.7 335.2 200.8 335.8 200.8 336.4 200.7 336.9 200.5 337.5 200.3 338.1 200.1 338.6 199.8 339.2 199.5 339.8 199.2 340.3 198.9 340.9 198.6 341.5 198.3 342.0 197.9 342.6 197.4 343.2 196.9 343.7 196.4 344.3 195.9 344.8 195.4 345.4 194.8 346.0 194.3 346.5 193.9 347.1 193.4 347.7 193.1 348.2 192.7 348.8 192.3 349.4 192.0 349.9 191.6 350.5 191.2 351.1 190.9 351.6 190.6 352.2 190.4 352.8 190.2 353.3 190.0 353.9 190.0 354.5 190.0 355.0 190.0 355.6 190.2 356.2 190.4 356.7 190.6 357.3 190.9 357.8 191.2 358.4 191.4 359.0 191.7 359.5 192.0 360.1 192.2 360.7 192.6 361.2 192.9 361.8 193.2 362.4 193.6 362.9 193.9 363.5 194.3 364.1 194.6 364.6 194.9 365.2 195.1 365.8 195.3 366.3 195.5 366.9 195.6 367.5 195.8 368.0 195.9 368.6 196.1 369.2 196.2 369.7 196.3 370.3 196.4 370.8 196.4 371.4 196.4 372.0 196.4 372.5 196.4 373.1 196.3 373.7 196.1 374.2 196.0 374.8 195.9 375.4 195.7 375.9 195.5 376.5 195.4 377.1 195.2 377.6 195.1 378.2 194.9 378.8 194.8 379.3 194.6 379.9 194.4 380.5 194.2 381.0 194.1 381.6 193.9 382.1 193.7 382.7 193.6 383.3 193.5 383.8 193.5 384.4 193.5 385.0 193.5 385.5 193.5 386.1 193.5 386.7 193.5 387.2 193.5 387.8 193.5 388.4 193.5 388.9 193.5 389.5 193.5 390.1 193.5 390.6 193.5 391.2 193.5 391.8 193.5 392.3 193.5 392.9 193.5 393.5 193.6 394.0 193.6 394.6 193.6 395.1 193.7 395.7 193.7 396.3 193.8 396.8 193.8 397.4 193.9 398.0 193.9" stroke="#2a7fd8" stroke-width="2.2" stroke-opacity="0.5"/>
<path d="M302.5 221.6L303.0 221.6 303.6 221.6 304.2 221.6 304.7 221.6 305.3 221.6 305.9 221.6 306.4 221.6 307.0 221.6 307.5 221.6 308.1 221.6 308.7 221.6 309.2 221.6 309.8 221.5 310.4 221.1 310.9 220.4 311.5 218.1 312.1 213.9 312.6 208.7 313.2 202.4 313.8 193.8 314.3 185.2 314.9 177.8 315.5 170.7 316.0 165.7 316.6 162.9 317.2 160.9 317.7 160.5 318.3 161.5 318.9 163.2 319.4 164.9 320.0 167.0 320.5 169.4 321.1 172.1 321.7 174.8 322.2 177.4 322.8 179.6 323.4 181.7 323.9 183.7 324.5 185.6 325.1 187.4 325.6 189.0 326.2 190.4 326.8 191.7 327.3 192.8 327.9 194.0 328.5 195.0 329.0 196.0 329.6 196.8 330.2 197.5 330.7 198.1 331.3 198.5 331.9 199.0 332.4 199.5 333.0 199.9 333.5 200.2 334.1 200.5 334.7 200.7 335.2 200.8 335.8 200.8 336.4 200.7 336.9 200.6 337.5 200.4 338.1 200.2 338.6 199.9 339.2 199.6 339.8 199.3 340.3 199.0 340.9 198.7 341.5 198.4 342.0 198.0 342.6 197.6 343.2 197.1 343.7 196.6 344.3 196.0 344.8 195.5 345.4 195.0 346.0 194.5 346.5 194.0 347.1 193.5 347.7 193.2 348.2 192.8 348.8 192.4 349.4 192.1 349.9 191.7 350.5 191.3 351.1 191.0 351.6 190.7 352.2 190.4 352.8 190.2 353.3 190.0 353.9 189.9 354.5 189.9 355.0 190.0 355.6 190.1 356.2 190.3 356.7 190.5 357.3 190.8 357.8 191.1 358.4 191.4 359.0 191.6 359.5 191.9 360.1 192.2 360.7 192.5 361.2 192.8 361.8 193.1 362.4 193.5 362.9 193.9 363.5 194.2 364.1 194.5 364.6 194.8 365.2 195.1 365.8 195.3 366.3 195.5 366.9 195.6 367.5 195.8 368.0 195.9 368.6 196.1 369.2 196.2 369.7 196.3 370.3 196.4 370.8 196.4 371.4 196.5 372.0 196.4 372.5 196.4 373.1 196.3 373.7 196.2 374.2 196.1 374.8 195.9 375.4 195.7 375.9 195.6 376.5 195.4 377.1 195.3 377.6 195.1 378.2 195.0 378.8 194.8 379.3 194.7 379.9 194.5 380.5 194.3 381.0 194.1 381.6 193.9 382.1 193.8 382.7 193.6 383.3 193.5 383.8 193.5 384.4 193.5 385.0 193.5 385.5 193.5 386.1 193.5 386.7 193.5 387.2 193.5 387.8 193.5 388.4 193.5 388.9 193.5 389.5 193.5 390.1 193.5 390.6 193.5 391.2 193.5 391.8 193.5 392.3 193.5 392.9 193.5 393.5 193.6 394.0 193.6 394.6 193.6 395.1 193.7 395.7 193.7 396.3 193.7 396.8 193.8 397.4 193.8 398.0 193.9" stroke="#2a7fd8" stroke-width="2.2" stroke-opacity="0.5"/>
<path d="M302.5 221.6L303.0 221.6 303.6 221.6 304.2 221.6 304.7 221.6 305.3 221.6 305.9 221.6 306.4 221.6 307.0 221.6 307.5 221.6 308.1 221.6 308.7 221.6 309.2 221.6 309.8 221.5 310.4 221.1 310.9 220.4 311.5 218.1 312.1 213.8 312.6 208.6 313.2 202.1 313.8 193.5 314.3 184.8 314.9 177.4 315.5 170.3 316.0 165.4 316.6 162.5 317.2 160.6 317.7 160.3 318.3 161.3 318.9 163.0 319.4 164.8 320.0 166.8 320.5 169.3 321.1 172.0 321.7 174.8 322.2 177.4 322.8 179.6 323.4 181.6 323.9 183.7 324.5 185.6 325.1 187.4 325.6 189.0 326.2 190.4 326.8 191.7 327.3 192.9 327.9 194.0 328.5 195.1 329.0 196.0 329.6 196.8 330.2 197.5 330.7 198.1 331.3 198.6 331.9 199.1 332.4 199.5 333.0 199.9 333.5 200.3 334.1 200.5 334.7 200.7 335.2 200.8 335.8 200.8 336.4 200.8 336.9 200.6 337.5 200.4 338.1 200.2 338.6 199.9 339.2 199.7 339.8 199.3 340.3 199.0 340.9 198.7 341.5 198.4 342.0 198.0 342.6 197.6 343.2 197.1 343.7 196.6 344.3 196.0 344.8 195.5 345.4 195.0 346.0 194.4 346.5 194.0 347.1 193.5 347.7 193.1 348.2 192.8 348.8 192.4 349.4 192.0 349.9 191.6 350.5 191.3 351.1 190.9 351.6 190.6 352.2 190.4 352.8 190.2 353.3 190.0 353.9 189.9 354.5 189.9 355.0 190.0 355.6 190.1 356.2 190.3 356.7 190.5 357.3 190.8 357.8 191.1 358.4 191.4 359.0 191.6 359.5 191.9 360.1 192.2 360.7 192.5 361.2 192.8 361.8 193.2 362.4 193.5 362.9 193.9 363.5 194.2 364.1 194.5 364.6 194.8 365.2 195.1 365.8 195.3 366.3 195.5 366.9 195.6 367.5 195.8 368.0 195.9 368.6 196.1 369.2 196.2 369.7 196.3 370.3 196.4 370.8 196.4 371.4 196.5 372.0 196.5 372.5 196.4 373.1 196.3 373.7 196.2 374.2 196.1 374.8 195.9 375.4 195.8 375.9 195.6 376.5 195.4 377.1 195.3 377.6 195.1 378.2 195.0 378.8 194.8 379.3 194.6 379.9 194.5 380.5 194.3 381.0 194.1 381.6 193.9 382.1 193.8 382.7 193.6 383.3 193.5 383.8 193.5 384.4 193.5 385.0 193.5 385.5 193.5 386.1 193.5 386.7 193.5 387.2 193.5 387.8 193.5 388.4 193.5 388.9 193.5 389.5 193.5 390.1 193.5 390.6 193.5 391.2 193.5 391.8 193.5 392.3 193.5 392.9 193.5 393.5 193.6 394.0 193.6 394.6 193.6 395.1 193.7 395.7 193.7 396.3 193.7 396.8 193.8 397.4 193.8 398.0 193.9" stroke="#2a7fd8" stroke-width="2.2" stroke-opacity="0.5"/>
<path d="M302.5 221.6L303.0 221.6 303.6 221.6 304.2 221.6 304.7 221.6 305.3 221.6 305.9 221.6 306.4 221.6 307.0 221.6 307.5 221.6 308.1 221.6 308.7 221.6 309.2 221.6 309.8 221.5 310.4 221.1 310.9 220.4 311.5 218.0 312.1 213.6 312.6 208.4 313.2 201.9 313.8 193.2 314.3 184.5 314.9 177.0 315.5 169.9 316.0 165.0 316.6 162.2 317.2 160.2 317.7 160.0 318.3 161.1 318.9 162.8 319.4 164.6 320.0 166.7 320.5 169.2 321.1 172.0 321.7 174.7 322.2 177.3 322.8 179.5 323.4 181.6 323.9 183.7 324.5 185.6 325.1 187.4 325.6 189.0 326.2 190.5 326.8 191.7 327.3 192.9 327.9 194.0 328.5 195.1 329.0 196.0 329.6 196.9 330.2 197.6 330.7 198.1 331.3 198.6 331.9 199.1 332.4 199.5 333.0 200.0 333.5 200.3 334.1 200.6 334.7 200.8 335.2 200.9 335.8 200.9 336.4 200.8 336.9 200.7 337.5 200.5 338.1 200.2 338.6 200.0 339.2 199.7 339.8 199.4 340.3 199.0 340.9 198.7 341.5 198.4 342.0 198.0 342.6 197.6 343.2 197.1 343.7 196.6 344.3 196.0 344.8 195.5 345.4 194.9 346.0 194.4 346.5 193.9 347.1 193.5 347.7 193.1 348.2 192.8 348.8 192.4 349.4 192.0 349.9 191.6 350.5 191.3 351.1 190.9 351.6 190.6 352.2 190.3 352.8 190.1 353.3 190.0 353.9 189.9 354.5 189.9 355.0 189.9 355.6 190.1 356.2 190.3 356.7 190.5 357.3 190.8 357.8 191.1 358.4 191.3 359.0 191.6 359.5 191.9 360.1 192.2 360.7 192.5 361.2 192.8 361.8 193.2 362.4 193.5 362.9 193.9 363.5 194.2 364.1 194.5 364.6 194.8 365.2 195.1 365.8 195.3 366.3 195.5 366.9 195.6 367.5 195.8 368.0 196.0 368.6 196.1 369.2 196.2 369.7 196.3 370.3 196.4 370.8 196.5 371.4 196.5 372.0 196.5 372.5 196.4 373.1 196.3 373.7 196.2 374.2 196.1 374.8 195.9 375.4 195.8 375.9 195.6 376.5 195.4 377.1 195.3 377.6 195.1 378.2 195.0 378.8 194.8 379.3 194.6 379.9 194.5 380.5 194.3 381.0 194.1 381.6 193.9 382.1 193.8 382.7 193.6 383.3 193.5 383.8 193.5 384.4 193.4 385.0 193.4 385.5 193.4 386.1 193.4 386.7 193.4 387.2 193.4 387.8 193.4 388.4 193.4 388.9 193.4 389.5 193.4 390.1 193.4 390.6 193.5 391.2 193.5 391.8 193.5 392.3 193.5 392.9 193.5 393.5 193.6 394.0 193.6 394.6 193.6 395.1 193.7 395.7 193.7 396.3 193.7 396.8 193.8 397.4 193.8 398.0 193.9" stroke="#2a7fd8" stroke-width="2.2" stroke-opacity="0.5"/>
<path d="M302.5 221.6L303.0 221.6 303.6 221.6 304.2 221.6 304.7 221.6 305.3 221.6 305.9 221.6 306.4 221.6 307.0 221.6 307.5 221.6 308.1 221.6 308.7 221.6 309.2 221.6 309.8 221.5 310.4 221.1 310.9 220.4 311.5 217.9 312.1 213.5 312.6 208.3 313.2 201.6 313.8 192.8 314.3 184.1 314.9 176.6 315.5 169.5 316.0 164.7 316.6 161.8 317.2 159.9 317.7 159.7 318.3 160.9 318.9 162.6 319.4 164.4 320.0 166.6 320.5 169.1 321.1 171.9 321.7 174.7 322.2 177.3 322.8 179.5 323.4 181.6 323.9 183.7 324.5 185.6 325.1 187.4 325.6 189.1 326.2 190.5 326.8 191.8 327.3 193.0 327.9 194.1 328.5 195.1 329.0 196.1 329.6 196.9 330.2 197.6 330.7 198.2 331.3 198.7 331.9 199.1 332.4 199.6 333.0 200.0 333.5 200.3 334.1 200.6 334.7 200.8 335.2 200.9 335.8 200.9 336.4 200.8 336.9 200.7 337.5 200.5 338.1 200.3 338.6 200.0 339.2 199.7 339.8 199.4 340.3 199.1 340.9 198.8 341.5 198.4 342.0 198.0 342.6 197.6 343.2 197.1 343.7 196.5 344.3 196.0 344.8 195.5 345.4 194.9 346.0 194.4 346.5 193.9 347.1 193.5 347.7 193.1 348.2 192.7 348.8 192.4 349.4 192.0 349.9 191.6 350.5 191.2 351.1 190.9 351.6 190.6 352.2 190.3 352.8 190.1 353.3 189.9 353.9 189.9 354.5 189.9 355.0 189.9 355.6 190.1 356.2 190.3 356.7 190.5 357.3 190.8 357.8 191.1 358.4 191.3 359.0 191.6 359.5 191.9 360.1 192.2 360.7 192.5 361.2 192.8 361.8 193.2 362.4 193.5 362.9 193.9 363.5 194.2 364.1 194.6 364.6 194.9 365.2 195.1 365.8 195.3 366.3 195.5 366.9 195.7 367.5 195.8 368.0 196.0 368.6 196.1 369.2 196.2 369.7 196.3 370.3 196.4 370.8 196.5 371.4 196.5 372.0 196.5 372.5 196.4 373.1 196.3 373.7 196.2 374.2 196.1 374.8 195.9 375.4 195.8 375.9 195.6 376.5 195.4 377.1 195.3 377.6 195.1 378.2 195.0 378.8 194.8 379.3 194.6 379.9 194.5 380.5 194.3 381.0 194.1 381.6 193.9 382.1 193.8 382.7 193.6 383.3 193.5 383.8 193.5 384.4 193.4 385.0 193.4 385.5 193.4 386.1 193.4 386.7 193.4 387.2 193.4 387.8 193.4 388.4 193.4 388.9 193.4 389.5 193.4 390.1 193.4 390.6 193.5 391.2 193.5 391.8 193.5 392.3 193.5 392.9 193.5 393.5 193.6 394.0 193.6 394.6 193.6 395.1 193.7 395.7 193.7 396.3 193.7 396.8 193.8 397.4 193.8 398.0 193.9" stroke="#2a7fd8" stroke-width="2.2" stroke-opacity="0.5"/>
<path d="M302.5 221.6L303.0 221.6 303.6 221.6 304.2 221.6 304.7 221.6 305.3 221.6 305.9 221.6 306.4 221.6 307.0 221.6 307.5 221.6 308.1 221.6 308.7 221.6 309.2 221.6 309.8 221.5 310.4 221.1 310.9 220.3 311.5 217.8 312.1 213.4 312.6 208.2 313.2 201.3 313.8 192.5 314.3 183.7 314.9 176.2 315.5 169.0 316.0 164.3 316.6 161.5 317.2 159.6 317.7 159.5 318.3 160.7 318.9 162.4 319.4 164.3 320.0 166.4 320.5 169.0 321.1 171.8 321.7 174.7 322.2 177.3 322.8 179.5 323.4 181.6 323.9 183.7 324.5 185.6 325.1 187.5 325.6 189.1 326.2 190.5 326.8 191.8 327.3 193.0 327.9 194.1 328.5 195.2 329.0 196.1 329.6 197.0 330.2 197.7 330.7 198.2 331.3 198.7 331.9 199.2 332.4 199.6 333.0 200.0 333.5 200.4 334.1 200.7 334.7 200.9 335.2 201.0 335.8 200.9 336.4 200.9 336.9 200.7 337.5 200.5 338.1 200.3 338.6 200.0 339.2 199.7 339.8 199.4 340.3 199.1 340.9 198.8 341.5 198.4 342.0 198.0 342.6 197.6 343.2 197.1 343.7 196.5 344.3 196.0 344.8 195.5 345.4 194.9 346.0 194.4 346.5 193.9 347.1 193.5 347.7 193.1 348.2 192.7 348.8 192.3 349.4 191.9 349.9 191.6 350.5 191.2 351.1 190.9 351.6 190.5 352.2 190.3 352.8 190.1 353.3 189.9 353.9 189.8 354.5 189.8 355.0 189.9 355.6 190.1 356.2 190.3 356.7 190.5 357.3 190.8 357.8 191.0 358.4 191.3 359.0 191.6 359.5 191.9 360.1 192.2 360.7 192.5 361.2 192.8 361.8 193.2 362.4 193.5 362.9 193.9 363.5 194.3 364.1 194.6 364.6 194.9 365.2 195.1 365.8 195.3 366.3 195.5 366.9 195.7 367.5 195.8 368.0 196.0 368.6 196.1 369.2 196.3 369.7 196.4 370.3 196.4 370.8 196.5 371.4 196.5 372.0 196.5 372.5 196.4 373.1 196.3 373.7 196.2 374.2 196.1 374.8 195.9 375.4 195.8 375.9 195.6 376.5 195.4 377.1 195.3 377.6 195.1 378.2 195.0 378.8 194.8 379.3 194.6 379.9 194.4 380.5 194.3 381.0 194.1 381.6 193.9 382.1 193.7 382.7 193.6 383.3 193.5 383.8 193.5 384.4 193.4 385.0 193.4 385.5 193.4 386.1 193.4 386.7 193.4 387.2 193.4 387.8 193.4 388.4 193.4 388.9 193.4 389.5 193.4 390.1 193.4 390.6 193.4 391.2 193.5 391.8 193.5 392.3 193.5 392.9 193.5 393.5 193.6 394.0 193.6 394.6 193.6 395.1 193.7 395.7 193.7 396.3 193.7 396.8 193.8 397.4 193.8 398.0 193.9" stroke="#2a7fd8" stroke-width="2.2" stroke-opacity="0.5"/>
<path d="M302.5 221.6L303.0 221.6 303.6 221.6 304.2 221.6 304.7 221.6 305.3 221.6 305.9 221.6 306.4 221.6 307.0 221.6 307.5 221.6 308.1 221.6 308.7 221.6 309.2 221.6 309.8 221.5 310.4 221.1 310.9 220.3 311.5 217.7 312.1 213.3 312.6 208.0 313.2 201.1 313.8 192.1 314.3 183.4 314.9 175.8 315.5 168.6 316.0 164.0 316.6 161.1 317.2 159.3 317.7 159.2 318.3 160.4 318.9 162.2 319.4 164.1 320.0 166.3 320.5 168.9 321.1 171.8 321.7 174.6 322.2 177.2 322.8 179.5 323.4 181.6 323.9 183.7 324.5 185.7 325.1 187.5 325.6 189.1 326.2 190.6 326.8 191.8 327.3 193.0 327.9 194.2 328.5 195.2 329.0 196.2 329.6 197.0 330.2 197.7 330.7 198.3 331.3 198.8 331.9 199.2 332.4 199.7 333.0 200.1 333.5 200.4 334.1 200.7 334.7 200.9 335.2 201.0 335.8 201.0 336.4 200.9 336.9 200.7 337.5 200.5 338.1 200.3 338.6 200.0 339.2 199.7 339.8 199.4 340.3 199.1 340.9 198.8 341.5 198.4 342.0 198.0 342.6 197.6 343.2 197.1 343.7 196.5 344.3 196.0 344.8 195.4 345.4 194.9 346.0 194.4 346.5 193.9 347.1 193.5 347.7 193.1 348.2 192.7 348.8 192.3 349.4 191.9 349.9 191.5 350.5 191.2 351.1 190.8 351.6 190.5 352.2 190.2 352.8 190.0 353.3 189.9 353.9 189.8 354.5 189.8 355.0 189.9 355.6 190.0 356.2 190.2 356.7 190.5 357.3 190.8 357.8 191.0 358.4 191.3 359.0 191.6 359.5 191.9 360.1 192.2 360.7 192.5 361.2 192.8 361.8 193.2 362.4 193.6 362.9 193.9 363.5 194.3 364.1 194.6 364.6 194.9 365.2 195.1 365.8 195.4 366.3 195.5 366.9 195.7 367.5 195.8 368.0 196.0 368.6 196.1 369.2 196.3 369.7 196.4 370.3 196.5 370.8 196.5 371.4 196.5 372.0 196.5 372.5 196.4 373.1 196.3 373.7 196.2 374.2 196.1 374.8 195.9 375.4 195.8 375.9 195.6 376.5 195.4 377.1 195.3 377.6 195.1 378.2 195.0 378.8 194.8 379.3 194.6 379.9 194.4 380.5 194.3 381.0 194.1 381.6 193.9 382.1 193.7 382.7 193.6 383.3 193.5 383.8 193.5 384.4 193.4 385.0 193.4 385.5 193.4 386.1 193.4 386.7 193.4 387.2 193.4 387.8 193.4 388.4 193.4 388.9 193.4 389.5 193.4 390.1 193.4 390.6 193.4 391.2 193.5 391.8 193.5 392.3 193.5 392.9 193.5 393.5 193.5 394.0 193.6 394.6 193.6 395.1 193.7 395.7 193.7 396.3 193.8 396.8 193.8 397.4 193.9 398.0 193.9" stroke="#2a7fd8" stroke-width="2.2" stroke-opacity="0.5"/>
<path d="M302.5 221.6L303.0 221.6 303.6 221.6 304.2 221.6 304.7 221.6 305.3 221.6 305.9 221.6 306.4 221.6 307.0 221.6 307.5 221.6 308.1 221.6 308.7 221.6 309.2 221.6 309.8 221.5 310.4 221.1 310.9 220.3 311.5 217.6 312.1 213.1 312.6 207.9 313.2 200.8 313.8 191.8 314.3 183.0 314.9 175.4 315.5 168.2 316.0 163.6 316.6 160.7 317.2 158.9 317.7 159.0 318.3 160.2 318.9 162.1 319.4 163.9 320.0 166.2 320.5 168.9 321.1 171.7 321.7 174.6 322.2 177.2 322.8 179.5 323.4 181.6 323.9 183.7 324.5 185.7 325.1 187.5 325.6 189.2 326.2 190.6 326.8 191.9 327.3 193.1 327.9 194.2 328.5 195.3 329.0 196.2 329.6 197.1 330.2 197.8 330.7 198.3 331.3 198.8 331.9 199.3 332.4 199.7 333.0 200.1 333.5 200.5 334.1 200.7 334.7 200.9 335.2 201.0 335.8 201.0 336.4 200.9 336.9 200.8 337.5 200.6 338.1 200.3 338.6 200.0 339.2 199.7 339.8 199.4 340.3 199.1 340.9 198.8 341.5 198.4 342.0 198.0 342.6 197.6 343.2 197.1 343.7 196.5 344.3 196.0 344.8 195.4 345.4 194.9 346.0 194.4 346.5 193.9 347.1 193.4 347.7 193.1 348.2 192.7 348.8 192.3 349.4 191.9 349.9 191.5 350.5 191.1 351.1 190.8 351.6 190.5 352.2 190.2 352.8 190.0 353.3 189.9 353.9 189.8 354.5 189.8 355.0 189.9 355.6 190.0 356.2 190.2 356.7 190.5 357.3 190.7 357.8 191.0 358.4 191.3 359.0 191.6 359.5 191.9 360.1 192.2 360.7 192.5 361.2 192.8 361.8 193.2 362.4 193.6 362.9 193.9 363.5 194.3 364.1 194.6 364.6 194.9 365.2 195.2 365.8 195.4 366.3 195.5 366.9 195.7 367.5 195.9 368.0 196.0 368.6 196.2 369.2 196.3 369.7 196.4 370.3 196.5 370.8 196.5 371.4 196.5 372.0 196.5 372.5 196.5 373.1 196.4 373.7 196.2 374.2 196.1 374.8 195.9 375.4 195.8 375.9 195.6 376.5 195.4 377.1 195.3 377.6 195.1 378.2 195.0 378.8 194.8 379.3 194.6 379.9 194.4 380.5 194.2 381.0 194.1 381.6 193.9 382.1 193.7 382.7 193.6 383.3 193.5 383.8 193.4 384.4 193.4 385.0 193.4 385.5 193.4 386.1 193.4 386.7 193.4 387.2 193.4 387.8 193.4 388.4 193.4 388.9 193.4 389.5 193.4 390.1 193.4 390.6 193.4 391.2 193.5 391.8 193.5 392.3 193.5 392.9 193.5 393.5 193.5 394.0 193.6 394.6 193.6 395.1 193.7 395.7 193.7 396.3 193.8 396.8 193.8 397.4 193.9 398.0 193.9" stroke="#2a7fd8" stroke-width="2.2" stroke-opacity="0.5"/>
<path d="M302.5 221.6L303.0 221.6 303.6 221.6 304.2 221.6 304.7 221.6 305.3 221.6 305.9 221.6 306.4 221.6 307.0 221.6 307.5 221.6 308.1 221.6 308.7 221.6 309.2 221.6 309.8 221.5 310.4 221.1 310.9 220.5 311.5 218.2 312.1 214.0 312.6 208.9 313.2 202.5 313.8 193.8 314.3 185.0 314.9 177.5 315.5 170.3 316.0 165.2 316.6 162.2 317.2 160.2 317.7 159.8 318.3 160.8 318.9 162.5 319.4 164.3 320.0 166.4 320.5 168.9 321.1 171.7 321.7 174.5 322.2 177.1 322.8 179.3 323.4 181.4 323.9 183.5 324.5 185.4 325.1 187.3 325.6 188.9 326.2 190.4 326.8 191.6 327.3 192.8 327.9 194.0 328.5 195.0 329.0 196.0 329.6 196.8 330.2 197.5 330.7 198.1 331.3 198.6 331.9 199.1 332.4 199.5 333.0 199.9 333.5 200.3 334.1 200.6 334.7 200.8 335.2 200.9 335.8 200.9 336.4 200.8 336.9 200.7 337.5 200.5 338.1 200.3 338.6 200.0 339.2 199.7 339.8 199.4 340.3 199.1 340.9 198.8 341.5 198.4 342.0 198.1 342.6 197.6 343.2 197.1 343.7 196.6 344.3 196.1 344.8 195.5 345.4 195.0 346.0 194.5 346.5 194.0 347.1 193.5 347.7 193.2 348.2 192.8 348.8 192.4 349.4 192.0 349.9 191.6 350.5 191.3 351.1 190.9 351.6 190.6 352.2 190.3 352.8 190.1 353.3 190.0 353.9 189.9 354.5 189.9 355.0 189.9 355.6 190.1 356.2 190.3 356.7 190.5 357.3 190.8 357.8 191.0 358.4 191.3 359.0 191.6 359.5 191.9 360.1 192.1 360.7 192.4 361.2 192.8 361.8 193.1 362.4 193.5 362.9 193.9 363.5 194.2 364.1 194.5 364.6 194.8 365.2 195.1 365.8 195.3 366.3 195.5 366.9 195.6 367.5 195.8 368.0 195.9 368.6 196.1 369.2 196.2 369.7 196.3 370.3 196.4 370.8 196.5 371.4 196.5 372.0 196.5 372.5 196.4 373.1 196.3 373.7 196.2 374.2 196.1 374.8 195.9 375.4 195.8 375.9 195.6 376.5 195.4 377.1 195.3 377.6 195.1 378.2 195.0 378.8 194.8 379.3 194.7 379.9 194.5 380.5 194.3 381.0 194.1 381.6 193.9 382.1 193.8 382.7 193.6 383.3 193.5 383.8 193.5 384.4 193.4 385.0 193.4 385.5 193.4 386.1 193.4 386.7 193.4 387.2 193.4 387.8 193.4 388.4 193.4 388.9 193.4 389.5 193.4 390.1 193.4 390.6 193.5 391.2 193.5 391.8 193.5 392.3 193.5 392.9 193.5 393.5 193.5 394.0 193.6 394.6 193.6 395.1 193.7 395.7 193.7 396.3 193.7 396.8 193.8 397.4 193.8 398.0 193.9" stroke="#c8234f" stroke-width="2" stroke-dasharray="7.4 3.2"/>
</g>
<path d="M313.48 227.15 v-3.50 M313.48 138.75 v3.50 M350.22 227.15 v-3.50 M350.22 138.75 v3.50 M386.95 227.15 v-3.50 M386.95 138.75 v3.50 M306.14 227.15 v-2.00 M306.14 138.75 v2.00 M320.83 227.15 v-2.00 M320.83 138.75 v2.00 M328.18 227.15 v-2.00 M328.18 138.75 v2.00 M335.52 227.15 v-2.00 M335.52 138.75 v2.00 M342.87 227.15 v-2.00 M342.87 138.75 v2.00 M357.57 227.15 v-2.00 M357.57 138.75 v2.00 M364.91 227.15 v-2.00 M364.91 138.75 v2.00 M372.26 227.15 v-2.00 M372.26 138.75 v2.00 M379.61 227.15 v-2.00 M379.61 138.75 v2.00 M394.30 227.15 v-2.00 M394.30 138.75 v2.00 M304.30 221.62 h3.50 M394.30 221.62 h-3.50 M304.30 166.38 h3.50 M394.30 166.38 h-3.50 M304.30 207.81 h2.00 M394.30 207.81 h-2.00 M304.30 194.00 h2.00 M394.30 194.00 h-2.00 M304.30 180.19 h2.00 M394.30 180.19 h-2.00 M304.30 152.56 h2.00 M394.30 152.56 h-2.00 M304.30 138.75 h2.00 M394.30 138.75 h-2.00" stroke="#111" stroke-width="0.8" fill="none"/>
<rect x="304.30" y="138.75" width="90.00" height="88.40" fill="none" stroke="#111" stroke-width="1"/>
<text x="313.48" y="238.95" text-anchor="middle" font-size="13.3">1</text>
<text x="350.22" y="238.95" text-anchor="middle" font-size="13.3">2</text>
<text x="386.95" y="238.95" text-anchor="middle" font-size="13.3">3</text>
<text x="302.70" y="226.62" text-anchor="end" font-size="13.3">0</text>
<text x="302.70" y="171.38" text-anchor="end" font-size="13.3">2</text>
<g clip-path="url(#c13)" fill="none" stroke-linejoin="round">
<path d="M434.5 -44.9L435.2 10.1 435.8 53.7 436.5 88.3 437.2 115.7 437.9 137.5 438.6 154.7 439.3 168.4 440.0 179.1 440.7 187.5 441.4 194.1 442.1 198.7 442.8 201.4 443.5 203.4 444.2 204.9 444.9 206.0 445.6 206.7 446.2 207.2 446.9 207.5 447.6 207.7 448.3 207.7 449.0 207.6 449.7 207.4 450.4 207.2 451.1 207.0 451.8 206.7 452.5 206.4 453.2 206.1 453.9 205.7 454.6 205.4 455.3 205.1 456.0 204.7 456.7 204.4 457.3 204.1 458.0 203.8 458.7 203.5 459.4 203.3 460.1 203.0 460.8 202.7 461.5 202.5 462.2 202.3 462.9 202.0 463.6 201.8 464.3 201.6 465.0 201.4 465.7 201.2 466.4 201.1 467.1 200.9 467.8 200.7 468.4 200.6 469.1 200.5 469.8 200.3 470.5 200.2 471.2 200.1 471.9 200.0 472.6 199.9 473.3 199.8 474.0 199.7 474.7 199.6 475.4 199.5 476.1 199.4 476.8 199.3 477.5 199.2 478.2 199.2 478.9 199.1 479.5 199.0 480.2 199.0 480.9 198.9 481.6 198.9 482.3 198.8 483.0 198.8 483.7 198.7 484.4 198.7 485.1 198.6 485.8 198.6 486.5 198.6 487.2 198.5 487.9 198.5 488.6 198.5 489.3 198.4 490.0 198.4 490.6 198.4 491.3 198.3 492.0 198.3 492.7 198.3 493.4 198.3 494.1 198.2 494.8 198.2 495.5 198.2 496.2 198.2 496.9 198.2 497.6 198.1 498.3 198.1 499.0 198.1 499.7 198.1 500.4 198.1 501.1 198.1 501.7 198.0 502.4 198.0 503.1 198.0 503.8 198.0 504.5 198.0 505.2 198.0 505.9 198.0 506.6 198.0 507.3 198.0 508.0 197.9 508.7 197.9 509.4 197.9 510.1 197.9 510.8 197.9 511.5 197.9 512.2 197.9 512.8 197.9 513.5 197.9 514.2 197.9 514.9 197.9 515.6 197.9 516.3 197.9 517.0 197.9 517.7 197.8 518.4 197.8 519.1 197.8 519.8 197.8 520.5 197.8 521.2 197.8 521.9 197.8 522.6 197.8 523.2 197.8 523.9 197.8" stroke="#f3a10f" stroke-width="3.4"/>
<path d="M434.5 -44.9L435.2 10.1 435.8 53.7 436.5 88.3 437.2 115.7 437.9 137.5 438.6 154.7 439.3 168.4 440.0 179.1 440.7 187.5 441.4 194.1 442.1 198.5 442.8 200.8 443.5 202.5 444.2 203.7 444.9 204.6 445.6 205.3 446.2 205.7 446.9 205.9 447.6 206.1 448.3 206.1 449.0 206.0 449.7 205.9 450.4 205.7 451.1 205.5 451.8 205.2 452.5 205.0 453.2 204.7 453.9 204.4 454.6 204.1 455.3 203.8 456.0 203.6 456.7 203.3 457.3 203.0 458.0 202.7 458.7 202.5 459.4 202.2 460.1 202.0 460.8 201.7 461.5 201.5 462.2 201.2 462.9 201.0 463.6 200.8 464.3 200.6 465.0 200.4 465.7 200.2 466.4 200.0 467.1 199.8 467.8 199.6 468.4 199.5 469.1 199.3 469.8 199.2 470.5 199.0 471.2 198.9 471.9 198.7 472.6 198.6 473.3 198.5 474.0 198.4 474.7 198.3 475.4 198.2 476.1 198.1 476.8 198.0 477.5 198.0 478.2 197.9 478.9 197.8 479.5 197.8 480.2 197.8 480.9 197.7 481.6 197.7 482.3 197.7 483.0 197.6 483.7 197.6 484.4 197.6 485.1 197.6 485.8 197.6 486.5 197.6 487.2 197.6 487.9 197.6 488.6 197.6 489.3 197.7 490.0 197.7 490.6 197.7 491.3 197.7 492.0 197.7 492.7 197.7 493.4 197.8 494.1 197.8 494.8 197.8 495.5 197.8 496.2 197.8 496.9 197.8 497.6 197.8 498.3 197.8 499.0 197.9 499.7 197.9 500.4 197.9 501.1 197.9 501.7 197.9 502.4 197.9 503.1 197.9 503.8 197.9 504.5 197.9 505.2 197.9 505.9 197.9 506.6 197.9 507.3 197.9 508.0 197.9 508.7 197.9 509.4 197.9 510.1 197.9 510.8 197.9 511.5 197.9 512.2 197.9 512.8 197.8 513.5 197.8 514.2 197.8 514.9 197.8 515.6 197.8 516.3 197.8 517.0 197.8 517.7 197.8 518.4 197.8 519.1 197.8 519.8 197.8 520.5 197.8 521.2 197.8 521.9 197.8 522.6 197.8 523.2 197.8 523.9 197.8" stroke="#f3a10f" stroke-width="3.4"/>
<path d="M434.5 82.5L435.2 111.2 435.8 133.9 436.5 151.9 437.2 166.1 437.9 177.3 438.6 186.1 439.3 193.0 440.0 198.4 440.7 202.8 441.4 206.2 442.1 208.7 442.8 210.6 443.5 211.9 444.2 212.8 444.9 213.3 445.6 213.5 446.2 213.6 446.9 213.5 447.6 213.2 448.3 212.9 449.0 212.5 449.7 212.1 450.4 211.6 451.1 211.1 451.8 210.5 452.5 210.0 453.2 209.5 453.9 209.0 454.6 208.5 455.3 208.0 456.0 207.5 456.7 207.1 457.3 206.6 458.0 206.2 458.7 205.8 459.4 205.4 460.1 205.0 460.8 204.6 461.5 204.3 462.2 204.0 462.9 203.7 463.6 203.4 464.3 203.1 465.0 202.8 465.7 202.6 466.4 202.4 467.1 202.1 467.8 201.9 468.4 201.7 469.1 201.5 469.8 201.3 470.5 201.2 471.2 201.0 471.9 200.9 472.6 200.7 473.3 200.6 474.0 200.4 474.7 200.3 475.4 200.2 476.1 200.1 476.8 200.0 477.5 199.9 478.2 199.8 478.9 199.7 479.5 199.6 480.2 199.5 480.9 199.4 481.6 199.4 482.3 199.3 483.0 199.2 483.7 199.1 484.4 199.1 485.1 199.0 485.8 199.0 486.5 198.9 487.2 198.9 487.9 198.8 488.6 198.8 489.3 198.7 490.0 198.7 490.6 198.6 491.3 198.6 492.0 198.6 492.7 198.5 493.4 198.5 494.1 198.5 494.8 198.4 495.5 198.4 496.2 198.4 496.9 198.4 497.6 198.3 498.3 198.3 499.0 198.3 499.7 198.3 500.4 198.2 501.1 198.2 501.7 198.2 502.4 198.2 503.1 198.2 503.8 198.2 504.5 198.1 505.2 198.1 505.9 198.1 506.6 198.1 507.3 198.1 508.0 198.1 508.7 198.0 509.4 198.0 510.1 198.0 510.8 198.0 511.5 198.0 512.2 198.0 512.8 198.0 513.5 198.0 514.2 198.0 514.9 198.0 515.6 197.9 516.3 197.9 517.0 197.9 517.7 197.9 518.4 197.9 519.1 197.9 519.8 197.9 520.5 197.9 521.2 197.9 521.9 197.9 522.6 197.9 523.2 197.9 523.9 197.9" stroke="#2a7fd8" stroke-width="1.3" stroke-opacity="0.5"/>
<path d="M434.5 82.5L435.2 111.2 435.8 133.9 436.5 151.9 437.2 166.1 437.9 177.3 438.6 186.1 439.3 193.0 440.0 198.4 440.7 203.0 441.4 206.5 442.1 209.1 442.8 211.0 443.5 212.3 444.2 213.2 444.9 213.8 445.6 214.0 446.2 214.1 446.9 214.0 447.6 213.7 448.3 213.4 449.0 213.0 449.7 212.5 450.4 212.0 451.1 211.5 451.8 211.0 452.5 210.4 453.2 209.9 453.9 209.3 454.6 208.8 455.3 208.3 456.0 207.8 456.7 207.3 457.3 206.9 458.0 206.5 458.7 206.0 459.4 205.6 460.1 205.2 460.8 204.9 461.5 204.5 462.2 204.2 462.9 203.9 463.6 203.6 464.3 203.3 465.0 203.0 465.7 202.8 466.4 202.5 467.1 202.3 467.8 202.1 468.4 201.8 469.1 201.6 469.8 201.5 470.5 201.3 471.2 201.1 471.9 201.0 472.6 200.8 473.3 200.7 474.0 200.5 474.7 200.4 475.4 200.3 476.1 200.2 476.8 200.0 477.5 199.9 478.2 199.8 478.9 199.7 479.5 199.7 480.2 199.6 480.9 199.5 481.6 199.4 482.3 199.3 483.0 199.3 483.7 199.2 484.4 199.1 485.1 199.1 485.8 199.0 486.5 199.0 487.2 198.9 487.9 198.9 488.6 198.8 489.3 198.8 490.0 198.7 490.6 198.7 491.3 198.6 492.0 198.6 492.7 198.6 493.4 198.5 494.1 198.5 494.8 198.5 495.5 198.4 496.2 198.4 496.9 198.4 497.6 198.4 498.3 198.3 499.0 198.3 499.7 198.3 500.4 198.3 501.1 198.2 501.7 198.2 502.4 198.2 503.1 198.2 503.8 198.2 504.5 198.1 505.2 198.1 505.9 198.1 506.6 198.1 507.3 198.1 508.0 198.1 508.7 198.1 509.4 198.0 510.1 198.0 510.8 198.0 511.5 198.0 512.2 198.0 512.8 198.0 513.5 198.0 514.2 198.0 514.9 198.0 515.6 198.0 516.3 197.9 517.0 197.9 517.7 197.9 518.4 197.9 519.1 197.9 519.8 197.9 520.5 197.9 521.2 197.9 521.9 197.9 522.6 197.9 523.2 197.9 523.9 197.9" stroke="#2a7fd8" stroke-width="1.3" stroke-opacity="0.5"/>
<path d="M434.5 82.5L435.2 111.2 435.8 133.9 436.5 151.9 437.2 166.1 437.9 177.3 438.6 186.1 439.3 193.0 440.0 198.5 440.7 203.2 441.4 206.8 442.1 209.4 442.8 211.4 443.5 212.8 444.2 213.7 444.9 214.3 445.6 214.5 446.2 214.6 446.9 214.5 447.6 214.2 448.3 213.9 449.0 213.5 449.7 213.0 450.4 212.5 451.1 211.9 451.8 211.4 452.5 210.8 453.2 210.3 453.9 209.7 454.6 209.2 455.3 208.6 456.0 208.1 456.7 207.6 457.3 207.2 458.0 206.7 458.7 206.3 459.4 205.9 460.1 205.5 460.8 205.1 461.5 204.7 462.2 204.4 462.9 204.1 463.6 203.7 464.3 203.5 465.0 203.2 465.7 202.9 466.4 202.7 467.1 202.4 467.8 202.2 468.4 202.0 469.1 201.8 469.8 201.6 470.5 201.4 471.2 201.2 471.9 201.1 472.6 200.9 473.3 200.8 474.0 200.6 474.7 200.5 475.4 200.3 476.1 200.2 476.8 200.1 477.5 200.0 478.2 199.9 478.9 199.8 479.5 199.7 480.2 199.6 480.9 199.5 481.6 199.5 482.3 199.4 483.0 199.3 483.7 199.2 484.4 199.2 485.1 199.1 485.8 199.1 486.5 199.0 487.2 198.9 487.9 198.9 488.6 198.8 489.3 198.8 490.0 198.8 490.6 198.7 491.3 198.7 492.0 198.6 492.7 198.6 493.4 198.6 494.1 198.5 494.8 198.5 495.5 198.5 496.2 198.4 496.9 198.4 497.6 198.4 498.3 198.4 499.0 198.3 499.7 198.3 500.4 198.3 501.1 198.3 501.7 198.2 502.4 198.2 503.1 198.2 503.8 198.2 504.5 198.2 505.2 198.1 505.9 198.1 506.6 198.1 507.3 198.1 508.0 198.1 508.7 198.1 509.4 198.1 510.1 198.0 510.8 198.0 511.5 198.0 512.2 198.0 512.8 198.0 513.5 198.0 514.2 198.0 514.9 198.0 515.6 198.0 516.3 198.0 517.0 197.9 517.7 197.9 518.4 197.9 519.1 197.9 519.8 197.9 520.5 197.9 521.2 197.9 521.9 197.9 522.6 197.9 523.2 197.9 523.9 197.9" stroke="#2a7fd8" stroke-width="1.3" stroke-opacity="0.5"/>
<path d="M434.5 82.5L435.2 111.2 435.8 133.9 436.5 151.9 437.2 166.1 437.9 177.3 438.6 186.1 439.3 193.0 440.0 198.5 440.7 203.3 441.4 207.0 442.1 209.8 442.8 211.8 443.5 213.2 444.2 214.2 444.9 214.8 445.6 215.1 446.2 215.1 446.9 215.0 447.6 214.7 448.3 214.4 449.0 213.9 449.7 213.4 450.4 212.9 451.1 212.3 451.8 211.8 452.5 211.2 453.2 210.6 453.9 210.1 454.6 209.5 455.3 209.0 456.0 208.5 456.7 207.9 457.3 207.5 458.0 207.0 458.7 206.5 459.4 206.1 460.1 205.7 460.8 205.3 461.5 204.9 462.2 204.6 462.9 204.3 463.6 203.9 464.3 203.6 465.0 203.3 465.7 203.1 466.4 202.8 467.1 202.6 467.8 202.3 468.4 202.1 469.1 201.9 469.8 201.7 470.5 201.5 471.2 201.3 471.9 201.2 472.6 201.0 473.3 200.8 474.0 200.7 474.7 200.6 475.4 200.4 476.1 200.3 476.8 200.2 477.5 200.1 478.2 200.0 478.9 199.9 479.5 199.8 480.2 199.7 480.9 199.6 481.6 199.5 482.3 199.4 483.0 199.4 483.7 199.3 484.4 199.2 485.1 199.2 485.8 199.1 486.5 199.0 487.2 199.0 487.9 198.9 488.6 198.9 489.3 198.8 490.0 198.8 490.6 198.7 491.3 198.7 492.0 198.7 492.7 198.6 493.4 198.6 494.1 198.5 494.8 198.5 495.5 198.5 496.2 198.5 496.9 198.4 497.6 198.4 498.3 198.4 499.0 198.3 499.7 198.3 500.4 198.3 501.1 198.3 501.7 198.3 502.4 198.2 503.1 198.2 503.8 198.2 504.5 198.2 505.2 198.2 505.9 198.1 506.6 198.1 507.3 198.1 508.0 198.1 508.7 198.1 509.4 198.1 510.1 198.1 510.8 198.0 511.5 198.0 512.2 198.0 512.8 198.0 513.5 198.0 514.2 198.0 514.9 198.0 515.6 198.0 516.3 198.0 517.0 198.0 517.7 197.9 518.4 197.9 519.1 197.9 519.8 197.9 520.5 197.9 521.2 197.9 521.9 197.9 522.6 197.9 523.2 197.9 523.9 197.9" stroke="#2a7fd8" stroke-width="1.3" stroke-opacity="0.5"/>
<path d="M434.5 82.5L435.2 111.2 435.8 133.9 436.5 151.9 437.2 166.1 437.9 177.3 438.6 186.1 439.3 193.0 440.0 198.5 440.7 203.5 441.4 207.3 442.1 210.1 442.8 212.2 443.5 213.7 444.2 214.7 444.9 215.3 445.6 215.6 446.2 215.6 446.9 215.5 447.6 215.2 448.3 214.8 449.0 214.4 449.7 213.9 450.4 213.3 451.1 212.8 451.8 212.2 452.5 211.6 453.2 211.0 453.9 210.4 454.6 209.9 455.3 209.3 456.0 208.8 456.7 208.2 457.3 207.7 458.0 207.3 458.7 206.8 459.4 206.4 460.1 205.9 460.8 205.5 461.5 205.2 462.2 204.8 462.9 204.4 463.6 204.1 464.3 203.8 465.0 203.5 465.7 203.2 466.4 203.0 467.1 202.7 467.8 202.5 468.4 202.2 469.1 202.0 469.8 201.8 470.5 201.6 471.2 201.4 471.9 201.3 472.6 201.1 473.3 200.9 474.0 200.8 474.7 200.6 475.4 200.5 476.1 200.4 476.8 200.3 477.5 200.1 478.2 200.0 478.9 199.9 479.5 199.8 480.2 199.7 480.9 199.7 481.6 199.6 482.3 199.5 483.0 199.4 483.7 199.3 484.4 199.3 485.1 199.2 485.8 199.1 486.5 199.1 487.2 199.0 487.9 199.0 488.6 198.9 489.3 198.9 490.0 198.8 490.6 198.8 491.3 198.7 492.0 198.7 492.7 198.6 493.4 198.6 494.1 198.6 494.8 198.5 495.5 198.5 496.2 198.5 496.9 198.4 497.6 198.4 498.3 198.4 499.0 198.4 499.7 198.3 500.4 198.3 501.1 198.3 501.7 198.3 502.4 198.2 503.1 198.2 503.8 198.2 504.5 198.2 505.2 198.2 505.9 198.2 506.6 198.1 507.3 198.1 508.0 198.1 508.7 198.1 509.4 198.1 510.1 198.1 510.8 198.1 511.5 198.0 512.2 198.0 512.8 198.0 513.5 198.0 514.2 198.0 514.9 198.0 515.6 198.0 516.3 198.0 517.0 198.0 517.7 197.9 518.4 197.9 519.1 197.9 519.8 197.9 520.5 197.9 521.2 197.9 521.9 197.9 522.6 197.9 523.2 197.9 523.9 197.9" stroke="#2a7fd8" stroke-width="1.3" stroke-opacity="0.5"/>
<path d="M434.5 82.5L435.2 111.2 435.8 133.9 436.5 151.9 437.2 166.1 437.9 177.3 438.6 186.1 439.3 193.0 440.0 198.5 440.7 203.7 441.4 207.6 442.1 210.5 442.8 212.6 443.5 214.1 444.2 215.1 444.9 215.8 445.6 216.1 446.2 216.1 446.9 216.0 447.6 215.7 448.3 215.3 449.0 214.9 449.7 214.3 450.4 213.8 451.1 213.2 451.8 212.6 452.5 212.0 453.2 211.4 453.9 210.8 454.6 210.2 455.3 209.6 456.0 209.1 456.7 208.5 457.3 208.0 458.0 207.5 458.7 207.1 459.4 206.6 460.1 206.2 460.8 205.8 461.5 205.4 462.2 205.0 462.9 204.6 463.6 204.3 464.3 204.0 465.0 203.7 465.7 203.4 466.4 203.1 467.1 202.8 467.8 202.6 468.4 202.4 469.1 202.1 469.8 201.9 470.5 201.7 471.2 201.5 471.9 201.4 472.6 201.2 473.3 201.0 474.0 200.9 474.7 200.7 475.4 200.6 476.1 200.5 476.8 200.3 477.5 200.2 478.2 200.1 478.9 200.0 479.5 199.9 480.2 199.8 480.9 199.7 481.6 199.6 482.3 199.5 483.0 199.5 483.7 199.4 484.4 199.3 485.1 199.2 485.8 199.2 486.5 199.1 487.2 199.1 487.9 199.0 488.6 198.9 489.3 198.9 490.0 198.8 490.6 198.8 491.3 198.8 492.0 198.7 492.7 198.7 493.4 198.6 494.1 198.6 494.8 198.6 495.5 198.5 496.2 198.5 496.9 198.5 497.6 198.4 498.3 198.4 499.0 198.4 499.7 198.4 500.4 198.3 501.1 198.3 501.7 198.3 502.4 198.3 503.1 198.2 503.8 198.2 504.5 198.2 505.2 198.2 505.9 198.2 506.6 198.2 507.3 198.1 508.0 198.1 508.7 198.1 509.4 198.1 510.1 198.1 510.8 198.1 511.5 198.1 512.2 198.0 512.8 198.0 513.5 198.0 514.2 198.0 514.9 198.0 515.6 198.0 516.3 198.0 517.0 198.0 517.7 198.0 518.4 197.9 519.1 197.9 519.8 197.9 520.5 197.9 521.2 197.9 521.9 197.9 522.6 197.9 523.2 197.9 523.9 197.9" stroke="#2a7fd8" stroke-width="1.3" stroke-opacity="0.5"/>
<path d="M434.5 82.5L435.2 111.2 435.8 133.9 436.5 151.9 437.2 166.1 437.9 177.3 438.6 186.1 439.3 193.0 440.0 198.6 440.7 203.8 441.4 207.8 442.1 210.8 442.8 213.0 443.5 214.6 444.2 215.6 444.9 216.3 445.6 216.6 446.2 216.6 446.9 216.5 447.6 216.2 448.3 215.8 449.0 215.3 449.7 214.8 450.4 214.2 451.1 213.6 451.8 213.0 452.5 212.4 453.2 211.8 453.9 211.1 454.6 210.5 455.3 210.0 456.0 209.4 456.7 208.8 457.3 208.3 458.0 207.8 458.7 207.3 459.4 206.8 460.1 206.4 460.8 206.0 461.5 205.6 462.2 205.2 462.9 204.8 463.6 204.5 464.3 204.1 465.0 203.8 465.7 203.5 466.4 203.3 467.1 203.0 467.8 202.7 468.4 202.5 469.1 202.3 469.8 202.0 470.5 201.8 471.2 201.6 471.9 201.5 472.6 201.3 473.3 201.1 474.0 201.0 474.7 200.8 475.4 200.7 476.1 200.5 476.8 200.4 477.5 200.3 478.2 200.2 478.9 200.1 479.5 200.0 480.2 199.9 480.9 199.8 481.6 199.7 482.3 199.6 483.0 199.5 483.7 199.4 484.4 199.4 485.1 199.3 485.8 199.2 486.5 199.2 487.2 199.1 487.9 199.0 488.6 199.0 489.3 198.9 490.0 198.9 490.6 198.8 491.3 198.8 492.0 198.7 492.7 198.7 493.4 198.7 494.1 198.6 494.8 198.6 495.5 198.6 496.2 198.5 496.9 198.5 497.6 198.5 498.3 198.4 499.0 198.4 499.7 198.4 500.4 198.4 501.1 198.3 501.7 198.3 502.4 198.3 503.1 198.3 503.8 198.2 504.5 198.2 505.2 198.2 505.9 198.2 506.6 198.2 507.3 198.1 508.0 198.1 508.7 198.1 509.4 198.1 510.1 198.1 510.8 198.1 511.5 198.1 512.2 198.0 512.8 198.0 513.5 198.0 514.2 198.0 514.9 198.0 515.6 198.0 516.3 198.0 517.0 198.0 517.7 198.0 518.4 198.0 519.1 197.9 519.8 197.9 520.5 197.9 521.2 197.9 521.9 197.9 522.6 197.9 523.2 197.9 523.9 197.9" stroke="#2a7fd8" stroke-width="1.3" stroke-opacity="0.5"/>
<path d="M434.5 82.5L435.2 111.2 435.8 133.9 436.5 151.9 437.2 166.1 437.9 177.3 438.6 186.1 439.3 193.0 440.0 198.6 440.7 204.0 441.4 208.1 442.1 211.2 442.8 213.5 443.5 215.0 444.2 216.1 444.9 216.7 445.6 217.1 446.2 217.1 446.9 217.0 447.6 216.7 448.3 216.3 449.0 215.8 449.7 215.3 450.4 214.7 451.1 214.0 451.8 213.4 452.5 212.8 453.2 212.1 453.9 211.5 454.6 210.9 455.3 210.3 456.0 209.7 456.7 209.1 457.3 208.6 458.0 208.1 458.7 207.6 459.4 207.1 460.1 206.6 460.8 206.2 461.5 205.8 462.2 205.4 462.9 205.0 463.6 204.7 464.3 204.3 465.0 204.0 465.7 203.7 466.4 203.4 467.1 203.1 467.8 202.9 468.4 202.6 469.1 202.4 469.8 202.2 470.5 201.9 471.2 201.7 471.9 201.6 472.6 201.4 473.3 201.2 474.0 201.0 474.7 200.9 475.4 200.7 476.1 200.6 476.8 200.5 477.5 200.4 478.2 200.2 478.9 200.1 479.5 200.0 480.2 199.9 480.9 199.8 481.6 199.7 482.3 199.6 483.0 199.6 483.7 199.5 484.4 199.4 485.1 199.3 485.8 199.3 486.5 199.2 487.2 199.1 487.9 199.1 488.6 199.0 489.3 199.0 490.0 198.9 490.6 198.9 491.3 198.8 492.0 198.8 492.7 198.7 493.4 198.7 494.1 198.7 494.8 198.6 495.5 198.6 496.2 198.5 496.9 198.5 497.6 198.5 498.3 198.5 499.0 198.4 499.7 198.4 500.4 198.4 501.1 198.3 501.7 198.3 502.4 198.3 503.1 198.3 503.8 198.3 504.5 198.2 505.2 198.2 505.9 198.2 506.6 198.2 507.3 198.2 508.0 198.1 508.7 198.1 509.4 198.1 510.1 198.1 510.8 198.1 511.5 198.1 512.2 198.1 512.8 198.0 513.5 198.0 514.2 198.0 514.9 198.0 515.6 198.0 516.3 198.0 517.0 198.0 517.7 198.0 518.4 198.0 519.1 198.0 519.8 197.9 520.5 197.9 521.2 197.9 521.9 197.9 522.6 197.9 523.2 197.9 523.9 197.9" stroke="#2a7fd8" stroke-width="1.3" stroke-opacity="0.5"/>
<path d="M434.5 38.8L435.2 76.4 435.8 106.3 436.5 130.1 437.2 148.8 437.9 163.7 438.6 175.4 439.3 184.6 440.0 191.9 440.7 197.5 441.4 201.8 442.1 205.1 442.8 207.5 443.5 209.4 444.2 210.6 444.9 211.5 445.6 212.1 446.2 212.3 446.9 212.4 447.6 212.3 448.3 212.1 449.0 211.8 449.7 211.5 450.4 211.1 451.1 210.6 451.8 210.2 452.5 209.7 453.2 209.2 453.9 208.7 454.6 208.2 455.3 207.8 456.0 207.3 456.7 206.9 457.3 206.4 458.0 206.0 458.7 205.6 459.4 205.2 460.1 204.9 460.8 204.5 461.5 204.2 462.2 203.9 462.9 203.6 463.6 203.3 464.3 203.0 465.0 202.8 465.7 202.5 466.4 202.3 467.1 202.1 467.8 201.8 468.4 201.6 469.1 201.5 469.8 201.3 470.5 201.1 471.2 200.9 471.9 200.8 472.6 200.6 473.3 200.5 474.0 200.4 474.7 200.3 475.4 200.1 476.1 200.0 476.8 199.9 477.5 199.8 478.2 199.7 478.9 199.6 479.5 199.5 480.2 199.5 480.9 199.4 481.6 199.3 482.3 199.2 483.0 199.2 483.7 199.1 484.4 199.1 485.1 199.0 485.8 198.9 486.5 198.9 487.2 198.8 487.9 198.8 488.6 198.7 489.3 198.7 490.0 198.7 490.6 198.6 491.3 198.6 492.0 198.5 492.7 198.5 493.4 198.5 494.1 198.5 494.8 198.4 495.5 198.4 496.2 198.4 496.9 198.3 497.6 198.3 498.3 198.3 499.0 198.3 499.7 198.2 500.4 198.2 501.1 198.2 501.7 198.2 502.4 198.2 503.1 198.2 503.8 198.1 504.5 198.1 505.2 198.1 505.9 198.1 506.6 198.1 507.3 198.1 508.0 198.0 508.7 198.0 509.4 198.0 510.1 198.0 510.8 198.0 511.5 198.0 512.2 198.0 512.8 198.0 513.5 198.0 514.2 198.0 514.9 197.9 515.6 197.9 516.3 197.9 517.0 197.9 517.7 197.9 518.4 197.9 519.1 197.9 519.8 197.9 520.5 197.9 521.2 197.9 521.9 197.9 522.6 197.9 523.2 197.9 523.9 197.9" stroke="#c8234f" stroke-width="2" stroke-dasharray="7.4 3.2"/>
</g>
<path d="M441.66 227.15 v-3.50 M441.66 138.75 v3.50 M493.09 227.15 v-3.50 M493.09 138.75 v3.50 M431.37 227.15 v-2.00 M431.37 138.75 v2.00 M451.94 227.15 v-2.00 M451.94 138.75 v2.00 M462.23 227.15 v-2.00 M462.23 138.75 v2.00 M472.51 227.15 v-2.00 M472.51 138.75 v2.00 M482.80 227.15 v-2.00 M482.80 138.75 v2.00 M503.37 227.15 v-2.00 M503.37 138.75 v2.00 M513.66 227.15 v-2.00 M513.66 138.75 v2.00 M428.80 227.15 h3.50 M518.80 227.15 h-3.50 M428.80 197.68 h3.50 M518.80 197.68 h-3.50 M428.80 168.22 h3.50 M518.80 168.22 h-3.50 M428.80 138.75 h3.50 M518.80 138.75 h-3.50 M428.80 219.78 h2.00 M518.80 219.78 h-2.00 M428.80 212.42 h2.00 M518.80 212.42 h-2.00 M428.80 205.05 h2.00 M518.80 205.05 h-2.00 M428.80 190.32 h2.00 M518.80 190.32 h-2.00 M428.80 182.95 h2.00 M518.80 182.95 h-2.00 M428.80 175.58 h2.00 M518.80 175.58 h-2.00 M428.80 160.85 h2.00 M518.80 160.85 h-2.00 M428.80 153.48 h2.00 M518.80 153.48 h-2.00 M428.80 146.12 h2.00 M518.80 146.12 h-2.00" stroke="#111" stroke-width="0.8" fill="none"/>
<rect x="428.80" y="138.75" width="90.00" height="88.40" fill="none" stroke="#111" stroke-width="1"/>
<text x="441.66" y="238.95" text-anchor="middle" font-size="13.3">1</text>
<text x="493.09" y="238.95" text-anchor="middle" font-size="13.3">2</text>
<text x="427.20" y="232.15" text-anchor="end" font-size="13.3">2</text>
<text x="409.41" y="232.15" font-size="13.30" textLength="10.07" lengthAdjust="spacingAndGlyphs">−</text>
<text x="427.20" y="202.68" text-anchor="end" font-size="13.3">0</text>
<text x="427.20" y="173.22" text-anchor="end" font-size="13.3">2</text>
<text x="427.20" y="143.75" text-anchor="end" font-size="13.3">4</text>
<g clip-path="url(#c20)" fill="none" stroke-linejoin="round">
<path d="M53.4 345.2L53.9 345.2 54.5 345.2 55.1 345.2 55.6 345.2 56.2 345.2 56.8 345.2 57.3 345.2 57.9 345.2 58.4 345.2 59.0 345.2 59.6 345.2 60.1 345.2 60.7 345.0 61.3 344.5 61.8 343.8 62.4 341.7 63.0 338.0 63.5 333.6 64.1 328.5 64.7 321.5 65.2 314.6 65.8 309.4 66.4 304.4 66.9 300.4 67.5 298.2 68.1 296.8 68.6 295.7 69.2 295.0 69.8 294.7 70.3 295.2 70.9 296.3 71.4 297.6 72.0 299.0 72.6 300.7 73.1 302.8 73.7 304.8 74.3 306.5 74.8 307.8 75.4 309.1 76.0 310.3 76.5 311.4 77.1 312.3 77.7 313.1 78.2 313.9 78.8 314.7 79.4 315.3 79.9 315.9 80.5 316.5 81.1 317.0 81.6 317.6 82.2 318.1 82.8 318.6 83.3 319.0 83.9 319.5 84.4 319.8 85.0 320.1 85.6 320.3 86.1 320.5 86.7 320.6 87.3 320.6 87.8 320.7 88.4 320.6 89.0 320.6 89.5 320.5 90.1 320.4 90.7 320.3 91.2 320.1 91.8 319.9 92.4 319.7 92.9 319.5 93.5 319.3 94.1 319.0 94.6 318.8 95.2 318.6 95.7 318.4 96.3 318.2 96.9 318.0 97.4 317.8 98.0 317.6 98.6 317.5 99.1 317.3 99.7 317.1 100.3 316.9 100.8 316.7 101.4 316.5 102.0 316.3 102.5 316.1 103.1 315.9 103.7 315.8 104.2 315.7 104.8 315.5 105.4 315.5 105.9 315.4 106.5 315.4 107.1 315.4 107.6 315.4 108.2 315.5 108.7 315.5 109.3 315.6 109.9 315.6 110.4 315.7 111.0 315.8 111.6 315.8 112.1 315.9 112.7 316.0 113.3 316.1 113.8 316.1 114.4 316.2 115.0 316.3 115.5 316.4 116.1 316.5 116.7 316.6 117.2 316.7 117.8 316.8 118.4 316.9 118.9 316.9 119.5 317.0 120.1 317.1 120.6 317.1 121.2 317.2 121.7 317.2 122.3 317.2 122.9 317.2 123.4 317.2 124.0 317.2 124.6 317.1 125.1 317.1 125.7 317.1 126.3 317.0 126.8 317.0 127.4 316.9 128.0 316.9 128.5 316.9 129.1 316.8 129.7 316.8 130.2 316.8 130.8 316.7 131.4 316.7 131.9 316.7 132.5 316.7 133.0 316.6 133.6 316.6 134.2 316.6 134.7 316.6 135.3 316.5 135.9 316.5 136.4 316.5 137.0 316.5 137.6 316.5 138.1 316.5 138.7 316.5 139.3 316.5 139.8 316.5 140.4 316.5 141.0 316.5 141.5 316.5 142.1 316.5 142.7 316.5 143.2 316.5 143.8 316.5 144.4 316.5 144.9 316.5 145.5 316.6 146.0 316.6 146.6 316.6 147.2 316.6 147.7 316.6 148.3 316.7 148.9 316.7" stroke="#f3a10f" stroke-width="3.9"/>
<path d="M53.4 345.2L53.9 345.2 54.5 345.2 55.1 345.2 55.6 345.2 56.2 345.2 56.8 345.2 57.3 345.2 57.9 345.2 58.4 345.2 59.0 345.2 59.6 345.1 60.1 345.0 60.7 344.3 61.3 342.2 61.8 338.7 62.4 333.2 63.0 323.8 63.5 312.7 64.1 302.9 64.7 292.9 65.2 284.1 65.8 279.0 66.4 275.8 66.9 273.2 67.5 271.4 68.1 270.7 68.6 271.8 69.2 274.3 69.8 277.5 70.3 280.7 70.9 284.7 71.4 289.1 72.0 293.4 72.6 297.0 73.1 299.8 73.7 302.3 74.3 304.5 74.8 306.5 75.4 308.3 76.0 309.8 76.5 311.2 77.1 312.5 77.7 313.7 78.2 314.9 78.8 315.9 79.4 317.0 79.9 318.1 80.5 319.3 81.1 320.3 81.6 321.3 82.2 322.3 82.8 323.2 83.3 324.0 83.9 324.7 84.4 325.3 85.0 325.8 85.6 326.2 86.1 326.6 86.7 326.8 87.3 326.9 87.8 326.8 88.4 326.7 89.0 326.4 89.5 326.0 90.1 325.6 90.7 325.0 91.2 324.4 91.8 323.8 92.4 323.1 92.9 322.5 93.5 321.8 94.1 321.2 94.6 320.7 95.2 320.2 95.7 319.7 96.3 319.4 96.9 319.0 97.4 318.7 98.0 318.4 98.6 318.1 99.1 317.9 99.7 317.6 100.3 317.4 100.8 317.2 101.4 317.0 102.0 316.8 102.5 316.7 103.1 316.6 103.7 316.5 104.2 316.4 104.8 316.4 105.4 316.3 105.9 316.3 106.5 316.3 107.1 316.3 107.6 316.3 108.2 316.3 108.7 316.3 109.3 316.3 109.9 316.4 110.4 316.5 111.0 316.6 111.6 316.6 112.1 316.7 112.7 316.8 113.3 316.9 113.8 317.0 114.4 317.2 115.0 317.3 115.5 317.5 116.1 317.6 116.7 317.8 117.2 317.9 117.8 318.0 118.4 318.1 118.9 318.2 119.5 318.3 120.1 318.3 120.6 318.3 121.2 318.3 121.7 318.3 122.3 318.2 122.9 318.2 123.4 318.2 124.0 318.1 124.6 318.0 125.1 318.0 125.7 317.9 126.3 317.8 126.8 317.8 127.4 317.7 128.0 317.7 128.5 317.6 129.1 317.6 129.7 317.5 130.2 317.5 130.8 317.5 131.4 317.4 131.9 317.4 132.5 317.3 133.0 317.3 133.6 317.3 134.2 317.2 134.7 317.2 135.3 317.2 135.9 317.2 136.4 317.2 137.0 317.2 137.6 317.2 138.1 317.2 138.7 317.2 139.3 317.2 139.8 317.2 140.4 317.2 141.0 317.2 141.5 317.2 142.1 317.2 142.7 317.2 143.2 317.3 143.8 317.3 144.4 317.3 144.9 317.3 145.5 317.4 146.0 317.4 146.6 317.5 147.2 317.5 147.7 317.5 148.3 317.6 148.9 317.7" stroke="#2a7fd8" stroke-width="2.8" stroke-opacity="0.5"/>
<path d="M53.4 345.2L53.9 345.2 54.5 345.2 55.1 345.2 55.6 345.2 56.2 345.2 56.8 345.2 57.3 345.2 57.9 345.2 58.4 345.2 59.0 345.2 59.6 345.1 60.1 345.0 60.7 344.6 61.3 342.9 61.8 339.7 62.4 334.9 63.0 326.2 63.5 315.0 64.1 304.6 64.7 294.3 65.2 284.8 65.8 278.6 66.4 275.1 66.9 272.2 67.5 270.1 68.1 269.2 68.6 269.8 69.2 272.2 69.8 275.4 70.3 278.7 70.9 282.6 71.4 287.1 72.0 291.6 72.6 295.5 73.1 298.4 73.7 301.0 74.3 303.3 74.8 305.4 75.4 307.2 76.0 308.8 76.5 310.2 77.1 311.5 77.7 312.7 78.2 313.7 78.8 314.7 79.4 315.6 79.9 316.6 80.5 317.5 81.1 318.3 81.6 319.1 82.2 319.8 82.8 320.5 83.3 321.0 83.9 321.5 84.4 321.8 85.0 322.1 85.6 322.4 86.1 322.6 86.7 322.8 87.3 322.8 87.8 322.9 88.4 322.8 89.0 322.7 89.5 322.6 90.1 322.4 90.7 322.1 91.2 321.8 91.8 321.4 92.4 321.0 92.9 320.7 93.5 320.3 94.1 319.9 94.6 319.5 95.2 319.1 95.7 318.7 96.3 318.3 96.9 317.9 97.4 317.4 98.0 317.0 98.6 316.4 99.1 315.9 99.7 315.3 100.3 314.8 100.8 314.3 101.4 313.8 102.0 313.3 102.5 312.9 103.1 312.7 103.7 312.5 104.2 312.4 104.8 312.5 105.4 312.7 105.9 312.9 106.5 313.2 107.1 313.5 107.6 313.8 108.2 314.2 108.7 314.5 109.3 314.9 109.9 315.2 110.4 315.5 111.0 315.8 111.6 316.0 112.1 316.2 112.7 316.4 113.3 316.6 113.8 316.8 114.4 317.0 115.0 317.1 115.5 317.3 116.1 317.5 116.7 317.6 117.2 317.8 117.8 317.9 118.4 318.0 118.9 318.1 119.5 318.2 120.1 318.2 120.6 318.3 121.2 318.2 121.7 318.2 122.3 318.2 122.9 318.1 123.4 318.1 124.0 318.0 124.6 318.0 125.1 317.9 125.7 317.8 126.3 317.8 126.8 317.7 127.4 317.7 128.0 317.6 128.5 317.5 129.1 317.5 129.7 317.5 130.2 317.4 130.8 317.4 131.4 317.3 131.9 317.3 132.5 317.3 133.0 317.2 133.6 317.2 134.2 317.1 134.7 317.1 135.3 317.1 135.9 317.1 136.4 317.1 137.0 317.1 137.6 317.1 138.1 317.1 138.7 317.1 139.3 317.1 139.8 317.1 140.4 317.1 141.0 317.1 141.5 317.1 142.1 317.1 142.7 317.2 143.2 317.2 143.8 317.2 144.4 317.2 144.9 317.3 145.5 317.3 146.0 317.3 146.6 317.4 147.2 317.4 147.7 317.5 148.3 317.5 148.9 317.6" stroke="#2a7fd8" stroke-width="2.8" stroke-opacity="0.5"/>
<path d="M53.4 345.2L53.9 345.2 54.5 345.2 55.1 345.2 55.6 345.2 56.2 345.2 56.8 345.2 57.3 345.2 57.9 345.2 58.4 345.2 59.0 345.2 59.6 345.1 60.1 345.0 60.7 344.4 61.3 342.4 61.8 339.0 62.4 333.6 63.0 324.1 63.5 312.5 64.1 302.1 64.7 291.5 65.2 282.0 65.8 276.6 66.4 273.1 66.9 270.2 67.5 268.3 68.1 267.5 68.6 268.6 69.2 271.4 69.8 274.8 70.3 278.1 70.9 282.3 71.4 287.1 72.0 291.6 72.6 295.3 73.1 298.2 73.7 300.8 74.3 303.1 74.8 305.2 75.4 307.0 76.0 308.6 76.5 310.1 77.1 311.5 77.7 312.8 78.2 314.0 78.8 315.2 79.4 316.4 79.9 317.6 80.5 318.8 81.1 320.0 81.6 321.1 82.2 322.1 82.8 323.1 83.3 323.9 83.9 324.7 84.4 325.3 85.0 325.8 85.6 326.3 86.1 326.6 86.7 326.8 87.3 326.9 87.8 326.9 88.4 326.7 89.0 326.5 89.5 326.1 90.1 325.6 90.7 325.0 91.2 324.4 91.8 323.8 92.4 323.1 92.9 322.5 93.5 321.8 94.1 321.2 94.6 320.6 95.2 320.1 95.7 319.7 96.3 319.3 96.9 319.0 97.4 318.6 98.0 318.3 98.6 318.0 99.1 317.7 99.7 317.5 100.3 317.2 100.8 317.0 101.4 316.8 102.0 316.6 102.5 316.5 103.1 316.3 103.7 316.2 104.2 316.2 104.8 316.1 105.4 316.1 105.9 316.1 106.5 316.0 107.1 316.0 107.6 316.0 108.2 316.0 108.7 316.1 109.3 316.1 109.9 316.2 110.4 316.2 111.0 316.3 111.6 316.4 112.1 316.5 112.7 316.6 113.3 316.7 113.8 316.8 114.4 317.0 115.0 317.1 115.5 317.3 116.1 317.4 116.7 317.6 117.2 317.8 117.8 317.9 118.4 318.0 118.9 318.1 119.5 318.2 120.1 318.2 120.6 318.2 121.2 318.2 121.7 318.1 122.3 318.1 122.9 318.1 123.4 318.0 124.0 318.0 124.6 317.9 125.1 317.8 125.7 317.8 126.3 317.7 126.8 317.6 127.4 317.6 128.0 317.5 128.5 317.4 129.1 317.4 129.7 317.4 130.2 317.3 130.8 317.3 131.4 317.2 131.9 317.2 132.5 317.2 133.0 317.1 133.6 317.1 134.2 317.0 134.7 317.0 135.3 317.0 135.9 317.0 136.4 317.0 137.0 317.0 137.6 317.0 138.1 317.0 138.7 317.0 139.3 317.0 139.8 317.0 140.4 317.0 141.0 317.0 141.5 317.0 142.1 317.0 142.7 317.1 143.2 317.1 143.8 317.1 144.4 317.1 144.9 317.2 145.5 317.2 146.0 317.2 146.6 317.3 147.2 317.3 147.7 317.4 148.3 317.4 148.9 317.5" stroke="#2a7fd8" stroke-width="2.8" stroke-opacity="0.5"/>
<path d="M53.4 345.2L53.9 345.2 54.5 345.2 55.1 345.2 55.6 345.2 56.2 345.2 56.8 345.2 57.3 345.2 57.9 345.2 58.4 345.2 59.0 345.2 59.6 345.1 60.1 345.1 60.7 344.7 61.3 343.1 61.8 340.0 62.4 335.3 63.0 326.5 63.5 314.9 64.1 304.0 64.7 293.0 65.2 282.8 65.8 276.1 66.4 272.4 66.9 269.2 67.5 267.0 68.1 265.9 68.6 266.6 69.2 269.1 69.8 272.6 70.3 276.0 70.9 280.1 71.4 284.9 72.0 289.7 72.6 293.7 73.1 296.7 73.7 299.4 74.3 301.9 74.8 304.0 75.4 305.9 76.0 307.5 76.5 309.0 77.1 310.4 77.7 311.7 78.2 312.9 78.8 313.9 79.4 315.0 79.9 316.0 80.5 317.0 81.1 318.0 81.6 318.8 82.2 319.7 82.8 320.4 83.3 321.0 83.9 321.5 84.4 321.8 85.0 322.2 85.6 322.4 86.1 322.6 86.7 322.8 87.3 322.9 87.8 322.9 88.4 322.9 89.0 322.8 89.5 322.6 90.1 322.4 90.7 322.1 91.2 321.8 91.8 321.4 92.4 321.1 92.9 320.7 93.5 320.3 94.1 319.8 94.6 319.4 95.2 319.0 95.7 318.6 96.3 318.2 96.9 317.8 97.4 317.4 98.0 316.9 98.6 316.3 99.1 315.8 99.7 315.2 100.3 314.6 100.8 314.1 101.4 313.6 102.0 313.1 102.5 312.7 103.1 312.4 103.7 312.2 104.2 312.2 104.8 312.2 105.4 312.4 105.9 312.6 106.5 312.9 107.1 313.2 107.6 313.6 108.2 313.9 108.7 314.3 109.3 314.6 109.9 315.0 110.4 315.3 111.0 315.5 111.6 315.8 112.1 316.0 112.7 316.2 113.3 316.4 113.8 316.6 114.4 316.8 115.0 316.9 115.5 317.1 116.1 317.3 116.7 317.5 117.2 317.6 117.8 317.8 118.4 317.9 118.9 318.0 119.5 318.1 120.1 318.1 120.6 318.1 121.2 318.1 121.7 318.1 122.3 318.0 122.9 318.0 123.4 317.9 124.0 317.9 124.6 317.8 125.1 317.8 125.7 317.7 126.3 317.6 126.8 317.6 127.4 317.5 128.0 317.4 128.5 317.4 129.1 317.3 129.7 317.3 130.2 317.2 130.8 317.2 131.4 317.2 131.9 317.1 132.5 317.1 133.0 317.0 133.6 317.0 134.2 317.0 134.7 316.9 135.3 316.9 135.9 316.9 136.4 316.9 137.0 316.9 137.6 316.9 138.1 316.9 138.7 316.9 139.3 316.9 139.8 316.9 140.4 316.9 141.0 316.9 141.5 316.9 142.1 316.9 142.7 317.0 143.2 317.0 143.8 317.0 144.4 317.0 144.9 317.1 145.5 317.1 146.0 317.1 146.6 317.2 147.2 317.2 147.7 317.3 148.3 317.3 148.9 317.4" stroke="#2a7fd8" stroke-width="2.8" stroke-opacity="0.5"/>
<path d="M53.4 345.2L53.9 345.2 54.5 345.2 55.1 345.2 55.6 345.2 56.2 345.2 56.8 345.2 57.3 345.2 57.9 345.2 58.4 345.2 59.0 345.2 59.6 345.1 60.1 345.0 60.7 344.5 61.3 342.7 61.8 339.4 62.4 334.0 63.0 324.3 63.5 312.3 64.1 301.4 64.7 290.0 65.2 279.9 65.8 274.0 66.4 270.2 66.9 267.1 67.5 265.0 68.1 264.2 68.6 265.3 69.2 268.3 69.8 271.9 70.3 275.5 70.9 279.9 71.4 284.9 72.0 289.7 72.6 293.6 73.1 296.6 73.7 299.2 74.3 301.7 74.8 303.8 75.4 305.7 76.0 307.3 76.5 308.9 77.1 310.4 77.7 311.8 78.2 313.1 78.8 314.4 79.4 315.7 79.9 317.1 80.5 318.4 81.1 319.7 81.6 320.8 82.2 321.9 82.8 323.0 83.3 323.9 83.9 324.6 84.4 325.3 85.0 325.8 85.6 326.3 86.1 326.6 86.7 326.9 87.3 326.9 87.8 326.9 88.4 326.8 89.0 326.5 89.5 326.1 90.1 325.6 90.7 325.1 91.2 324.5 91.8 323.8 92.4 323.1 92.9 322.5 93.5 321.8 94.1 321.2 94.6 320.6 95.2 320.1 95.7 319.6 96.3 319.2 96.9 318.9 97.4 318.5 98.0 318.2 98.6 317.9 99.1 317.6 99.7 317.3 100.3 317.1 100.8 316.8 101.4 316.6 102.0 316.4 102.5 316.2 103.1 316.1 103.7 316.0 104.2 315.9 104.8 315.9 105.4 315.8 105.9 315.8 106.5 315.8 107.1 315.8 107.6 315.8 108.2 315.8 108.7 315.8 109.3 315.9 109.9 315.9 110.4 316.0 111.0 316.1 111.6 316.2 112.1 316.3 112.7 316.4 113.3 316.5 113.8 316.6 114.4 316.8 115.0 316.9 115.5 317.1 116.1 317.3 116.7 317.4 117.2 317.6 117.8 317.7 118.4 317.9 118.9 318.0 119.5 318.0 120.1 318.1 120.6 318.1 121.2 318.0 121.7 318.0 122.3 318.0 122.9 317.9 123.4 317.9 124.0 317.8 124.6 317.7 125.1 317.7 125.7 317.6 126.3 317.5 126.8 317.5 127.4 317.4 128.0 317.3 128.5 317.3 129.1 317.2 129.7 317.2 130.2 317.1 130.8 317.1 131.4 317.1 131.9 317.0 132.5 317.0 133.0 316.9 133.6 316.9 134.2 316.9 134.7 316.8 135.3 316.8 135.9 316.8 136.4 316.8 137.0 316.8 137.6 316.8 138.1 316.8 138.7 316.8 139.3 316.8 139.8 316.8 140.4 316.8 141.0 316.8 141.5 316.8 142.1 316.9 142.7 316.9 143.2 316.9 143.8 316.9 144.4 317.0 144.9 317.0 145.5 317.0 146.0 317.1 146.6 317.1 147.2 317.2 147.7 317.2 148.3 317.3 148.9 317.3" stroke="#2a7fd8" stroke-width="2.8" stroke-opacity="0.5"/>
<path d="M53.4 345.2L53.9 345.2 54.5 345.2 55.1 345.2 55.6 345.2 56.2 345.2 56.8 345.2 57.3 345.2 57.9 345.2 58.4 345.2 59.0 345.2 59.6 345.1 60.1 345.1 60.7 344.7 61.3 343.3 61.8 340.4 62.4 335.7 63.0 326.8 63.5 314.8 64.1 303.3 64.7 291.7 65.2 280.7 65.8 273.6 66.4 269.5 66.9 266.1 67.5 263.7 68.1 262.5 68.6 263.2 69.2 265.9 69.8 269.6 70.3 273.2 70.9 277.6 71.4 282.7 72.0 287.7 72.6 291.9 73.1 295.1 73.7 297.8 74.3 300.4 74.8 302.6 75.4 304.6 76.0 306.2 76.5 307.8 77.1 309.3 77.7 310.7 78.2 312.0 78.8 313.1 79.4 314.3 79.9 315.5 80.5 316.6 81.1 317.6 81.6 318.6 82.2 319.5 82.8 320.3 83.3 320.9 83.9 321.4 84.4 321.8 85.0 322.2 85.6 322.5 86.1 322.7 86.7 322.9 87.3 322.9 87.8 323.0 88.4 322.9 89.0 322.8 89.5 322.7 90.1 322.5 90.7 322.2 91.2 321.8 91.8 321.5 92.4 321.1 92.9 320.7 93.5 320.3 94.1 319.8 94.6 319.4 95.2 319.0 95.7 318.6 96.3 318.2 96.9 317.8 97.4 317.3 98.0 316.8 98.6 316.2 99.1 315.7 99.7 315.1 100.3 314.5 100.8 313.9 101.4 313.4 102.0 312.9 102.5 312.5 103.1 312.2 103.7 312.0 104.2 311.9 104.8 312.0 105.4 312.1 105.9 312.4 106.5 312.6 107.1 313.0 107.6 313.3 108.2 313.7 108.7 314.0 109.3 314.4 109.9 314.7 110.4 315.0 111.0 315.3 111.6 315.6 112.1 315.8 112.7 316.0 113.3 316.2 113.8 316.4 114.4 316.6 115.0 316.8 115.5 317.0 116.1 317.1 116.7 317.3 117.2 317.5 117.8 317.6 118.4 317.8 118.9 317.9 119.5 317.9 120.1 318.0 120.6 318.0 121.2 318.0 121.7 317.9 122.3 317.9 122.9 317.9 123.4 317.8 124.0 317.7 124.6 317.7 125.1 317.6 125.7 317.5 126.3 317.5 126.8 317.4 127.4 317.3 128.0 317.3 128.5 317.2 129.1 317.2 129.7 317.1 130.2 317.1 130.8 317.0 131.4 317.0 131.9 316.9 132.5 316.9 133.0 316.9 133.6 316.8 134.2 316.8 134.7 316.7 135.3 316.7 135.9 316.7 136.4 316.7 137.0 316.7 137.6 316.7 138.1 316.7 138.7 316.7 139.3 316.7 139.8 316.7 140.4 316.7 141.0 316.7 141.5 316.7 142.1 316.8 142.7 316.8 143.2 316.8 143.8 316.8 144.4 316.9 144.9 316.9 145.5 316.9 146.0 317.0 146.6 317.0 147.2 317.1 147.7 317.1 148.3 317.2 148.9 317.2" stroke="#2a7fd8" stroke-width="2.8" stroke-opacity="0.5"/>
<path d="M53.4 345.2L53.9 345.2 54.5 345.2 55.1 345.2 55.6 345.2 56.2 345.2 56.8 345.2 57.3 345.2 57.9 345.2 58.4 345.2 59.0 345.2 59.6 345.1 60.1 345.1 60.7 344.6 61.3 342.9 61.8 339.7 62.4 334.4 63.0 324.5 63.5 312.1 64.1 300.6 64.7 288.5 65.2 277.7 65.8 271.4 66.4 267.3 66.9 263.9 67.5 261.6 68.1 260.7 68.6 261.9 69.2 265.0 69.8 268.9 70.3 272.7 70.9 277.4 71.4 282.7 72.0 287.7 72.6 291.8 73.1 294.9 73.7 297.7 74.3 300.2 74.8 302.4 75.4 304.3 76.0 306.1 76.5 307.7 77.1 309.3 77.7 310.8 78.2 312.2 78.8 313.6 79.4 315.1 79.9 316.5 80.5 318.0 81.1 319.3 81.6 320.6 82.2 321.8 82.8 322.9 83.3 323.8 83.9 324.6 84.4 325.3 85.0 325.8 85.6 326.3 86.1 326.7 86.7 326.9 87.3 327.0 87.8 327.0 88.4 326.8 89.0 326.5 89.5 326.1 90.1 325.7 90.7 325.1 91.2 324.5 91.8 323.8 92.4 323.1 92.9 322.5 93.5 321.8 94.1 321.2 94.6 320.6 95.2 320.1 95.7 319.6 96.3 319.2 96.9 318.8 97.4 318.5 98.0 318.1 98.6 317.8 99.1 317.5 99.7 317.2 100.3 316.9 100.8 316.6 101.4 316.4 102.0 316.2 102.5 316.0 103.1 315.9 103.7 315.7 104.2 315.7 104.8 315.6 105.4 315.6 105.9 315.5 106.5 315.5 107.1 315.5 107.6 315.5 108.2 315.5 108.7 315.6 109.3 315.6 109.9 315.7 110.4 315.8 111.0 315.9 111.6 316.0 112.1 316.1 112.7 316.2 113.3 316.3 113.8 316.4 114.4 316.6 115.0 316.8 115.5 316.9 116.1 317.1 116.7 317.3 117.2 317.4 117.8 317.6 118.4 317.7 118.9 317.8 119.5 317.9 120.1 317.9 120.6 317.9 121.2 317.9 121.7 317.9 122.3 317.8 122.9 317.8 123.4 317.7 124.0 317.7 124.6 317.6 125.1 317.5 125.7 317.5 126.3 317.4 126.8 317.3 127.4 317.2 128.0 317.2 128.5 317.1 129.1 317.1 129.7 317.0 130.2 317.0 130.8 316.9 131.4 316.9 131.9 316.8 132.5 316.8 133.0 316.8 133.6 316.7 134.2 316.7 134.7 316.6 135.3 316.6 135.9 316.6 136.4 316.6 137.0 316.6 137.6 316.6 138.1 316.6 138.7 316.6 139.3 316.6 139.8 316.6 140.4 316.6 141.0 316.6 141.5 316.7 142.1 316.7 142.7 316.7 143.2 316.7 143.8 316.7 144.4 316.8 144.9 316.8 145.5 316.8 146.0 316.9 146.6 316.9 147.2 317.0 147.7 317.0 148.3 317.1 148.9 317.2" stroke="#2a7fd8" stroke-width="2.8" stroke-opacity="0.5"/>
<path d="M53.4 345.2L53.9 345.2 54.5 345.2 55.1 345.2 55.6 345.2 56.2 345.2 56.8 345.2 57.3 345.2 57.9 345.2 58.4 345.2 59.0 345.2 59.6 345.2 60.1 345.1 60.7 344.8 61.3 343.5 61.8 340.7 62.4 336.1 63.0 327.1 63.5 314.6 64.1 302.7 64.7 290.4 65.2 278.6 65.8 270.9 66.4 266.6 66.9 262.9 67.5 260.2 68.1 258.9 68.6 259.6 69.2 262.5 69.8 266.4 70.3 270.3 70.9 274.9 71.4 280.3 72.0 285.6 72.6 290.0 73.1 293.3 73.7 296.2 74.3 298.8 74.8 301.1 75.4 303.2 76.0 304.9 76.5 306.6 77.1 308.2 77.7 309.7 78.2 311.1 78.8 312.3 79.4 313.6 79.9 314.9 80.5 316.1 81.1 317.3 81.6 318.4 82.2 319.3 82.8 320.2 83.3 320.9 83.9 321.4 84.4 321.8 85.0 322.2 85.6 322.5 86.1 322.7 86.7 322.9 87.3 323.0 87.8 323.0 88.4 323.0 89.0 322.9 89.5 322.7 90.1 322.5 90.7 322.2 91.2 321.9 91.8 321.5 92.4 321.1 92.9 320.7 93.5 320.3 94.1 319.8 94.6 319.4 95.2 319.0 95.7 318.5 96.3 318.1 96.9 317.7 97.4 317.2 98.0 316.7 98.6 316.1 99.1 315.5 99.7 314.9 100.3 314.3 100.8 313.7 101.4 313.2 102.0 312.7 102.5 312.2 103.1 311.9 103.7 311.7 104.2 311.7 104.8 311.7 105.4 311.9 105.9 312.1 106.5 312.4 107.1 312.7 107.6 313.0 108.2 313.4 108.7 313.8 109.3 314.1 109.9 314.5 110.4 314.8 111.0 315.1 111.6 315.4 112.1 315.6 112.7 315.8 113.3 316.0 113.8 316.2 114.4 316.4 115.0 316.6 115.5 316.8 116.1 317.0 116.7 317.2 117.2 317.3 117.8 317.5 118.4 317.6 118.9 317.7 119.5 317.8 120.1 317.8 120.6 317.9 121.2 317.8 121.7 317.8 122.3 317.8 122.9 317.7 123.4 317.7 124.0 317.6 124.6 317.5 125.1 317.5 125.7 317.4 126.3 317.3 126.8 317.2 127.4 317.2 128.0 317.1 128.5 317.0 129.1 317.0 129.7 316.9 130.2 316.9 130.8 316.9 131.4 316.8 131.9 316.8 132.5 316.7 133.0 316.7 133.6 316.6 134.2 316.6 134.7 316.6 135.3 316.5 135.9 316.5 136.4 316.5 137.0 316.5 137.6 316.5 138.1 316.5 138.7 316.5 139.3 316.5 139.8 316.5 140.4 316.5 141.0 316.5 141.5 316.6 142.1 316.6 142.7 316.6 143.2 316.6 143.8 316.6 144.4 316.7 144.9 316.7 145.5 316.7 146.0 316.8 146.6 316.8 147.2 316.9 147.7 316.9 148.3 317.0 148.9 317.1" stroke="#2a7fd8" stroke-width="2.8" stroke-opacity="0.5"/>
<path d="M53.4 345.2L53.9 345.2 54.5 345.2 55.1 345.2 55.6 345.2 56.2 345.2 56.8 345.2 57.3 345.2 57.9 345.2 58.4 345.2 59.0 345.2 59.6 345.2 60.1 345.1 60.7 344.7 61.3 343.1 61.8 340.1 62.4 334.8 63.0 324.7 63.5 311.8 64.1 299.8 64.7 287.0 65.2 275.4 65.8 268.6 66.4 264.2 66.9 260.5 67.5 258.0 68.1 257.0 68.6 258.3 69.2 261.7 69.8 265.8 70.3 269.8 70.9 274.8 71.4 280.4 72.0 285.7 72.6 290.0 73.1 293.2 73.7 296.1 74.3 298.6 74.8 300.9 75.4 303.0 76.0 304.8 76.5 306.5 77.1 308.2 77.7 309.8 78.2 311.3 78.8 312.9 79.4 314.4 79.9 316.0 80.5 317.5 81.1 319.0 81.6 320.4 82.2 321.6 82.8 322.7 83.3 323.7 83.9 324.6 84.4 325.3 85.0 325.8 85.6 326.3 86.1 326.7 86.7 326.9 87.3 327.0 87.8 327.0 88.4 326.8 89.0 326.6 89.5 326.2 90.1 325.7 90.7 325.1 91.2 324.5 91.8 323.8 92.4 323.2 92.9 322.5 93.5 321.8 94.1 321.2 94.6 320.6 95.2 320.0 95.7 319.5 96.3 319.1 96.9 318.7 97.4 318.4 98.0 318.0 98.6 317.7 99.1 317.3 99.7 317.0 100.3 316.7 100.8 316.5 101.4 316.2 102.0 316.0 102.5 315.8 103.1 315.6 103.7 315.5 104.2 315.4 104.8 315.4 105.4 315.3 105.9 315.3 106.5 315.3 107.1 315.3 107.6 315.3 108.2 315.3 108.7 315.3 109.3 315.4 109.9 315.5 110.4 315.6 111.0 315.7 111.6 315.8 112.1 315.9 112.7 316.0 113.3 316.1 113.8 316.2 114.4 316.4 115.0 316.6 115.5 316.8 116.1 316.9 116.7 317.1 117.2 317.3 117.8 317.4 118.4 317.6 118.9 317.7 119.5 317.8 120.1 317.8 120.6 317.8 121.2 317.8 121.7 317.7 122.3 317.7 122.9 317.6 123.4 317.6 124.0 317.5 124.6 317.4 125.1 317.4 125.7 317.3 126.3 317.2 126.8 317.1 127.4 317.1 128.0 317.0 128.5 316.9 129.1 316.9 129.7 316.9 130.2 316.8 130.8 316.8 131.4 316.7 131.9 316.7 132.5 316.6 133.0 316.6 133.6 316.5 134.2 316.5 134.7 316.5 135.3 316.4 135.9 316.4 136.4 316.4 137.0 316.4 137.6 316.4 138.1 316.4 138.7 316.4 139.3 316.4 139.8 316.4 140.4 316.4 141.0 316.5 141.5 316.5 142.1 316.5 142.7 316.5 143.2 316.5 143.8 316.6 144.4 316.6 144.9 316.6 145.5 316.7 146.0 316.7 146.6 316.8 147.2 316.8 147.7 316.9 148.3 316.9 148.9 317.0" stroke="#2a7fd8" stroke-width="2.8" stroke-opacity="0.5"/>
<path d="M53.4 345.2L53.9 345.2 54.5 345.2 55.1 345.2 55.6 345.2 56.2 345.2 56.8 345.2 57.3 345.2 57.9 345.2 58.4 345.2 59.0 345.2 59.6 345.2 60.1 345.1 60.7 344.9 61.3 343.6 61.8 341.0 62.4 336.4 63.0 327.3 63.5 314.5 64.1 302.0 64.7 289.0 65.2 276.5 65.8 268.2 66.4 263.5 66.9 259.5 67.5 256.6 68.1 255.2 68.6 256.0 69.2 259.0 69.8 263.2 70.3 267.3 70.9 272.2 71.4 277.9 72.0 283.5 72.6 288.1 73.1 291.5 73.7 294.5 74.3 297.2 74.8 299.6 75.4 301.8 76.0 303.6 76.5 305.4 77.1 307.0 77.7 308.6 78.2 310.1 78.8 311.5 79.4 312.9 79.9 314.3 80.5 315.7 81.1 317.0 81.6 318.1 82.2 319.1 82.8 320.0 83.3 320.8 83.9 321.4 84.4 321.8 85.0 322.2 85.6 322.5 86.1 322.8 86.7 322.9 87.3 323.1 87.8 323.1 88.4 323.0 89.0 322.9 89.5 322.8 90.1 322.5 90.7 322.3 91.2 321.9 91.8 321.5 92.4 321.1 92.9 320.7 93.5 320.3 94.1 319.8 94.6 319.4 95.2 318.9 95.7 318.5 96.3 318.1 96.9 317.6 97.4 317.1 98.0 316.6 98.6 316.0 99.1 315.4 99.7 314.8 100.3 314.1 100.8 313.5 101.4 313.0 102.0 312.4 102.5 312.0 103.1 311.7 103.7 311.5 104.2 311.4 104.8 311.4 105.4 311.6 105.9 311.8 106.5 312.1 107.1 312.4 107.6 312.8 108.2 313.2 108.7 313.5 109.3 313.9 109.9 314.2 110.4 314.6 111.0 314.9 111.6 315.1 112.1 315.4 112.7 315.6 113.3 315.8 113.8 316.0 114.4 316.2 115.0 316.4 115.5 316.6 116.1 316.8 116.7 317.0 117.2 317.2 117.8 317.3 118.4 317.5 118.9 317.6 119.5 317.7 120.1 317.7 120.6 317.7 121.2 317.7 121.7 317.7 122.3 317.6 122.9 317.6 123.4 317.5 124.0 317.5 124.6 317.4 125.1 317.3 125.7 317.2 126.3 317.2 126.8 317.1 127.4 317.0 128.0 316.9 128.5 316.9 129.1 316.8 129.7 316.8 130.2 316.7 130.8 316.7 131.4 316.6 131.9 316.6 132.5 316.5 133.0 316.5 133.6 316.4 134.2 316.4 134.7 316.4 135.3 316.3 135.9 316.3 136.4 316.3 137.0 316.3 137.6 316.3 138.1 316.3 138.7 316.3 139.3 316.3 139.8 316.3 140.4 316.3 141.0 316.4 141.5 316.4 142.1 316.4 142.7 316.4 143.2 316.4 143.8 316.5 144.4 316.5 144.9 316.5 145.5 316.6 146.0 316.6 146.6 316.7 147.2 316.7 147.7 316.8 148.3 316.8 148.9 316.9" stroke="#2a7fd8" stroke-width="2.8" stroke-opacity="0.5"/>
<path d="M53.4 345.2L53.9 345.2 54.5 345.2 55.1 345.2 55.6 345.2 56.2 345.2 56.8 345.2 57.3 345.2 57.9 345.2 58.4 345.2 59.0 345.2 59.6 345.2 60.1 345.1 60.7 344.7 61.3 343.3 61.8 340.4 62.4 335.1 63.0 325.0 63.5 311.6 64.1 299.0 64.7 285.4 65.2 273.1 65.8 265.8 66.4 261.0 66.9 257.1 67.5 254.3 68.1 253.2 68.6 254.6 69.2 258.1 69.8 262.5 70.3 266.8 70.9 272.1 71.4 278.0 72.0 283.6 72.6 288.1 73.1 291.4 73.7 294.4 74.3 297.1 74.8 299.5 75.4 301.6 76.0 303.5 76.5 305.3 77.1 307.0 77.7 308.8 78.2 310.5 78.8 312.1 79.4 313.8 79.9 315.4 80.5 317.1 81.1 318.7 81.6 320.1 82.2 321.4 82.8 322.6 83.3 323.7 83.9 324.5 84.4 325.3 85.0 325.9 85.6 326.3 86.1 326.7 86.7 327.0 87.3 327.1 87.8 327.0 88.4 326.9 89.0 326.6 89.5 326.2 90.1 325.7 90.7 325.2 91.2 324.5 91.8 323.9 92.4 323.2 92.9 322.5 93.5 321.8 94.1 321.2 94.6 320.6 95.2 320.0 95.7 319.5 96.3 319.1 96.9 318.7 97.4 318.3 98.0 317.9 98.6 317.6 99.1 317.2 99.7 316.9 100.3 316.6 100.8 316.3 101.4 316.0 102.0 315.8 102.5 315.6 103.1 315.4 103.7 315.3 104.2 315.2 104.8 315.1 105.4 315.1 105.9 315.0 106.5 315.0 107.1 315.0 107.6 315.0 108.2 315.0 108.7 315.1 109.3 315.2 109.9 315.2 110.4 315.3 111.0 315.4 111.6 315.6 112.1 315.7 112.7 315.8 113.3 315.9 113.8 316.0 114.4 316.2 115.0 316.4 115.5 316.6 116.1 316.8 116.7 317.0 117.2 317.1 117.8 317.3 118.4 317.4 118.9 317.5 119.5 317.6 120.1 317.7 120.6 317.7 121.2 317.6 121.7 317.6 122.3 317.6 122.9 317.5 123.4 317.4 124.0 317.4 124.6 317.3 125.1 317.2 125.7 317.1 126.3 317.1 126.8 317.0 127.4 316.9 128.0 316.8 128.5 316.8 129.1 316.7 129.7 316.7 130.2 316.6 130.8 316.6 131.4 316.5 131.9 316.5 132.5 316.4 133.0 316.4 133.6 316.3 134.2 316.3 134.7 316.3 135.3 316.2 135.9 316.2 136.4 316.2 137.0 316.2 137.6 316.2 138.1 316.2 138.7 316.2 139.3 316.2 139.8 316.2 140.4 316.3 141.0 316.3 141.5 316.3 142.1 316.3 142.7 316.3 143.2 316.3 143.8 316.4 144.4 316.4 144.9 316.4 145.5 316.5 146.0 316.5 146.6 316.6 147.2 316.6 147.7 316.7 148.3 316.8 148.9 316.8" stroke="#2a7fd8" stroke-width="2.8" stroke-opacity="0.5"/>
<path d="M53.4 345.2L53.9 345.2 54.5 345.2 55.1 345.2 55.6 345.2 56.2 345.2 56.8 345.2 57.3 345.2 57.9 345.2 58.4 345.2 59.0 345.2 59.6 345.2 60.1 345.1 60.7 344.9 61.3 343.8 61.8 341.2 62.4 336.8 63.0 327.6 63.5 314.4 64.1 301.3 64.7 287.5 65.2 274.2 65.8 265.4 66.4 260.3 66.9 256.0 67.5 252.9 68.1 251.3 68.6 252.1 69.2 255.4 69.8 259.8 70.3 264.1 70.9 269.4 71.4 275.4 72.0 281.2 72.6 286.1 73.1 289.7 73.7 292.8 74.3 295.6 74.8 298.1 75.4 300.3 76.0 302.3 76.5 304.1 77.1 305.9 77.7 307.6 78.2 309.2 78.8 310.7 79.4 312.3 79.9 313.8 80.5 315.2 81.1 316.6 81.6 317.9 82.2 319.0 82.8 319.9 83.3 320.7 83.9 321.4 84.4 321.9 85.0 322.2 85.6 322.6 86.1 322.8 86.7 323.0 87.3 323.1 87.8 323.1 88.4 323.1 89.0 323.0 89.5 322.8 90.1 322.6 90.7 322.3 91.2 322.0 91.8 321.6 92.4 321.2 92.9 320.7 93.5 320.3 94.1 319.8 94.6 319.4 95.2 318.9 95.7 318.5 96.3 318.0 96.9 317.6 97.4 317.1 98.0 316.5 98.6 315.9 99.1 315.3 99.7 314.6 100.3 314.0 100.8 313.3 101.4 312.8 102.0 312.2 102.5 311.8 103.1 311.4 103.7 311.2 104.2 311.1 104.8 311.2 105.4 311.3 105.9 311.5 106.5 311.8 107.1 312.2 107.6 312.5 108.2 312.9 108.7 313.3 109.3 313.6 109.9 314.0 110.4 314.3 111.0 314.6 111.6 314.9 112.1 315.2 112.7 315.4 113.3 315.6 113.8 315.8 114.4 316.0 115.0 316.2 115.5 316.4 116.1 316.6 116.7 316.8 117.2 317.0 117.8 317.2 118.4 317.3 118.9 317.5 119.5 317.5 120.1 317.6 120.6 317.6 121.2 317.6 121.7 317.5 122.3 317.5 122.9 317.5 123.4 317.4 124.0 317.3 124.6 317.2 125.1 317.2 125.7 317.1 126.3 317.0 126.8 316.9 127.4 316.9 128.0 316.8 128.5 316.7 129.1 316.7 129.7 316.6 130.2 316.6 130.8 316.5 131.4 316.5 131.9 316.4 132.5 316.4 133.0 316.3 133.6 316.3 134.2 316.2 134.7 316.2 135.3 316.2 135.9 316.1 136.4 316.1 137.0 316.1 137.6 316.1 138.1 316.1 138.7 316.1 139.3 316.1 139.8 316.1 140.4 316.2 141.0 316.2 141.5 316.2 142.1 316.2 142.7 316.2 143.2 316.3 143.8 316.3 144.4 316.3 144.9 316.3 145.5 316.4 146.0 316.4 146.6 316.5 147.2 316.5 147.7 316.6 148.3 316.7 148.9 316.7" stroke="#2a7fd8" stroke-width="2.8" stroke-opacity="0.5"/>
<path d="M53.4 345.2L53.9 345.2 54.5 345.2 55.1 345.2 55.6 345.2 56.2 345.2 56.8 345.2 57.3 345.2 57.9 345.2 58.4 345.2 59.0 345.2 59.6 345.2 60.1 345.1 60.7 344.8 61.3 343.5 61.8 340.6 62.4 335.5 63.0 325.2 63.5 311.4 64.1 298.1 64.7 283.8 65.2 270.6 65.8 262.8 66.4 257.7 66.9 253.4 67.5 250.5 68.1 249.3 68.6 250.7 69.2 254.5 69.8 259.1 70.3 263.7 70.9 269.3 71.4 275.5 72.0 281.4 72.6 286.1 73.1 289.6 73.7 292.7 74.3 295.5 74.8 298.0 75.4 300.1 76.0 302.1 76.5 304.0 77.1 305.9 77.7 307.8 78.2 309.5 78.8 311.3 79.4 313.1 79.9 314.9 80.5 316.7 81.1 318.3 81.6 319.9 82.2 321.3 82.8 322.5 83.3 323.6 83.9 324.5 84.4 325.2 85.0 325.9 85.6 326.4 86.1 326.7 86.7 327.0 87.3 327.1 87.8 327.1 88.4 326.9 89.0 326.6 89.5 326.3 90.1 325.8 90.7 325.2 91.2 324.6 91.8 323.9 92.4 323.2 92.9 322.5 93.5 321.8 94.1 321.1 94.6 320.5 95.2 320.0 95.7 319.5 96.3 319.0 96.9 318.6 97.4 318.2 98.0 317.8 98.6 317.4 99.1 317.1 99.7 316.7 100.3 316.4 100.8 316.1 101.4 315.8 102.0 315.6 102.5 315.3 103.1 315.2 103.7 315.0 104.2 314.9 104.8 314.8 105.4 314.8 105.9 314.8 106.5 314.8 107.1 314.8 107.6 314.8 108.2 314.8 108.7 314.8 109.3 314.9 109.9 315.0 110.4 315.1 111.0 315.2 111.6 315.3 112.1 315.5 112.7 315.6 113.3 315.7 113.8 315.8 114.4 316.0 115.0 316.2 115.5 316.4 116.1 316.6 116.7 316.8 117.2 317.0 117.8 317.2 118.4 317.3 118.9 317.4 119.5 317.5 120.1 317.5 120.6 317.5 121.2 317.5 121.7 317.5 122.3 317.4 122.9 317.4 123.4 317.3 124.0 317.2 124.6 317.2 125.1 317.1 125.7 317.0 126.3 316.9 126.8 316.8 127.4 316.8 128.0 316.7 128.5 316.6 129.1 316.6 129.7 316.5 130.2 316.5 130.8 316.4 131.4 316.4 131.9 316.3 132.5 316.3 133.0 316.2 133.6 316.2 134.2 316.1 134.7 316.1 135.3 316.1 135.9 316.0 136.4 316.0 137.0 316.0 137.6 316.0 138.1 316.0 138.7 316.0 139.3 316.0 139.8 316.1 140.4 316.1 141.0 316.1 141.5 316.1 142.1 316.1 142.7 316.1 143.2 316.2 143.8 316.2 144.4 316.2 144.9 316.3 145.5 316.3 146.0 316.4 146.6 316.4 147.2 316.5 147.7 316.5 148.3 316.6 148.9 316.7" stroke="#2a7fd8" stroke-width="2.8" stroke-opacity="0.5"/>
<path d="M53.4 345.2L53.9 345.2 54.5 345.2 55.1 345.2 55.6 345.2 56.2 345.2 56.8 345.2 57.3 345.2 57.9 345.2 58.4 345.2 59.0 345.2 59.6 345.2 60.1 345.1 60.7 344.9 61.3 343.9 61.8 341.5 62.4 337.1 63.0 327.9 63.5 314.3 64.1 300.6 64.7 286.1 65.2 271.9 65.8 262.5 66.4 257.0 66.9 252.4 67.5 249.0 68.1 247.3 68.6 248.1 69.2 251.6 69.8 256.3 70.3 260.9 70.9 266.4 71.4 272.8 72.0 279.0 72.6 284.1 73.1 287.8 73.7 291.0 74.3 293.9 74.8 296.5 75.4 298.8 76.0 300.9 76.5 302.8 77.1 304.7 77.7 306.5 78.2 308.3 78.8 309.9 79.4 311.6 79.9 313.2 80.5 314.8 81.1 316.3 81.6 317.6 82.2 318.8 82.8 319.8 83.3 320.7 83.9 321.4 84.4 321.9 85.0 322.3 85.6 322.6 86.1 322.9 86.7 323.0 87.3 323.2 87.8 323.2 88.4 323.2 89.0 323.1 89.5 322.9 90.1 322.6 90.7 322.3 91.2 322.0 91.8 321.6 92.4 321.2 92.9 320.7 93.5 320.3 94.1 319.8 94.6 319.3 95.2 318.9 95.7 318.4 96.3 318.0 96.9 317.5 97.4 317.0 98.0 316.4 98.6 315.8 99.1 315.1 99.7 314.5 100.3 313.8 100.8 313.2 101.4 312.6 102.0 312.0 102.5 311.5 103.1 311.2 103.7 311.0 104.2 310.9 104.8 310.9 105.4 311.1 105.9 311.3 106.5 311.6 107.1 311.9 107.6 312.3 108.2 312.6 108.7 313.0 109.3 313.4 109.9 313.8 110.4 314.1 111.0 314.4 111.6 314.7 112.1 315.0 112.7 315.2 113.3 315.4 113.8 315.6 114.4 315.8 115.0 316.0 115.5 316.2 116.1 316.5 116.7 316.7 117.2 316.9 117.8 317.0 118.4 317.2 118.9 317.3 119.5 317.4 120.1 317.5 120.6 317.5 121.2 317.4 121.7 317.4 122.3 317.4 122.9 317.3 123.4 317.3 124.0 317.2 124.6 317.1 125.1 317.0 125.7 316.9 126.3 316.9 126.8 316.8 127.4 316.7 128.0 316.6 128.5 316.5 129.1 316.5 129.7 316.4 130.2 316.4 130.8 316.3 131.4 316.3 131.9 316.2 132.5 316.2 133.0 316.1 133.6 316.1 134.2 316.0 134.7 316.0 135.3 316.0 135.9 315.9 136.4 315.9 137.0 315.9 137.6 315.9 138.1 315.9 138.7 315.9 139.3 315.9 139.8 316.0 140.4 316.0 141.0 316.0 141.5 316.0 142.1 316.0 142.7 316.0 143.2 316.1 143.8 316.1 144.4 316.1 144.9 316.2 145.5 316.2 146.0 316.3 146.6 316.3 147.2 316.4 147.7 316.4 148.3 316.5 148.9 316.6" stroke="#2a7fd8" stroke-width="2.8" stroke-opacity="0.5"/>
<path d="M53.4 345.2L53.9 345.2 54.5 345.2 55.1 345.2 55.6 345.2 56.2 345.2 56.8 345.2 57.3 345.2 57.9 345.2 58.4 345.2 59.0 345.2 59.6 345.1 60.1 344.9 60.7 344.6 61.3 343.4 61.8 340.5 62.4 336.5 63.0 331.1 63.5 323.0 64.1 314.2 64.7 306.9 65.2 299.8 65.8 293.8 66.4 290.4 66.9 288.3 67.5 286.6 68.1 285.4 68.6 285.0 69.2 285.6 69.8 287.2 70.3 289.3 70.9 291.3 71.4 293.9 72.0 296.9 72.6 299.8 73.1 302.3 73.7 304.3 74.3 306.1 74.8 307.7 75.4 309.2 76.0 310.4 76.5 311.5 77.1 312.6 77.7 313.5 78.2 314.4 78.8 315.1 79.4 315.8 79.9 316.5 80.5 317.2 81.1 317.8 81.6 318.4 82.2 319.0 82.8 319.6 83.3 320.0 83.9 320.4 84.4 320.8 85.0 321.0 85.6 321.2 86.1 321.4 86.7 321.5 87.3 321.6 87.8 321.6 88.4 321.6 89.0 321.5 89.5 321.4 90.1 321.3 90.7 321.1 91.2 320.9 91.8 320.6 92.4 320.4 92.9 320.1 93.5 319.8 94.1 319.5 94.6 319.2 95.2 319.0 95.7 318.7 96.3 318.4 96.9 318.2 97.4 317.9 98.0 317.7 98.6 317.4 99.1 317.1 99.7 316.7 100.3 316.4 100.8 316.1 101.4 315.8 102.0 315.5 102.5 315.3 103.1 315.1 103.7 315.0 104.2 314.9 104.8 314.9 105.4 314.9 105.9 315.0 106.5 315.1 107.1 315.2 107.6 315.4 108.2 315.5 108.7 315.7 109.3 315.9 109.9 316.0 110.4 316.2 111.0 316.4 111.6 316.5 112.1 316.6 112.7 316.8 113.3 316.9 113.8 317.0 114.4 317.1 115.0 317.2 115.5 317.3 116.1 317.5 116.7 317.6 117.2 317.7 117.8 317.8 118.4 317.9 118.9 318.0 119.5 318.1 120.1 318.1 120.6 318.2 121.2 318.2 121.7 318.1 122.3 318.1 122.9 318.1 123.4 318.1 124.0 318.0 124.6 318.0 125.1 317.9 125.7 317.9 126.3 317.8 126.8 317.8 127.4 317.7 128.0 317.7 128.5 317.6 129.1 317.6 129.7 317.6 130.2 317.5 130.8 317.5 131.4 317.5 131.9 317.4 132.5 317.4 133.0 317.4 133.6 317.4 134.2 317.3 134.7 317.3 135.3 317.3 135.9 317.3 136.4 317.3 137.0 317.2 137.6 317.2 138.1 317.2 138.7 317.2 139.3 317.3 139.8 317.3 140.4 317.3 141.0 317.3 141.5 317.3 142.1 317.3 142.7 317.3 143.2 317.3 143.8 317.3 144.4 317.3 144.9 317.4 145.5 317.4 146.0 317.4 146.6 317.4 147.2 317.5 147.7 317.5 148.3 317.5 148.9 317.6" stroke="#c8234f" stroke-width="2" stroke-dasharray="7.4 3.2"/>
</g>
<path d="M64.38 350.70 v-3.50 M64.38 262.30 v3.50 M101.12 350.70 v-3.50 M101.12 262.30 v3.50 M137.85 350.70 v-3.50 M137.85 262.30 v3.50 M57.04 350.70 v-2.00 M57.04 262.30 v2.00 M71.73 350.70 v-2.00 M71.73 262.30 v2.00 M79.08 350.70 v-2.00 M79.08 262.30 v2.00 M86.42 350.70 v-2.00 M86.42 262.30 v2.00 M93.77 350.70 v-2.00 M93.77 262.30 v2.00 M108.47 350.70 v-2.00 M108.47 262.30 v2.00 M115.81 350.70 v-2.00 M115.81 262.30 v2.00 M123.16 350.70 v-2.00 M123.16 262.30 v2.00 M130.51 350.70 v-2.00 M130.51 262.30 v2.00 M145.20 350.70 v-2.00 M145.20 262.30 v2.00 M55.20 345.18 h3.50 M145.20 345.18 h-3.50 M55.20 289.93 h3.50 M145.20 289.93 h-3.50 M55.20 331.36 h2.00 M145.20 331.36 h-2.00 M55.20 317.55 h2.00 M145.20 317.55 h-2.00 M55.20 303.74 h2.00 M145.20 303.74 h-2.00 M55.20 276.11 h2.00 M145.20 276.11 h-2.00 M55.20 262.30 h2.00 M145.20 262.30 h-2.00" stroke="#111" stroke-width="0.8" fill="none"/>
<rect x="55.20" y="262.30" width="90.00" height="88.40" fill="none" stroke="#111" stroke-width="1"/>
<text x="64.38" y="362.50" text-anchor="middle" font-size="13.3">1</text>
<text x="101.12" y="362.50" text-anchor="middle" font-size="13.3">2</text>
<text x="137.85" y="362.50" text-anchor="middle" font-size="13.3">3</text>
<text x="53.60" y="350.18" text-anchor="end" font-size="13.3">0</text>
<text x="53.60" y="294.93" text-anchor="end" font-size="13.3">2</text>
<g clip-path="url(#c21)" fill="none" stroke-linejoin="round">
<path d="M177.9 345.2L178.4 345.2 179.0 345.2 179.6 345.2 180.1 345.2 180.7 345.2 181.3 345.2 181.8 345.2 182.4 345.2 182.9 345.2 183.5 345.2 184.1 345.2 184.6 345.2 185.2 345.1 185.8 344.9 186.3 344.3 186.9 343.0 187.5 339.8 188.0 335.7 188.6 330.8 189.2 323.7 189.7 315.8 190.3 309.1 190.9 302.7 191.4 297.6 192.0 294.9 192.6 292.8 193.1 291.4 193.7 290.9 194.3 291.7 194.8 293.4 195.4 295.3 195.9 297.0 196.5 298.9 197.1 300.8 197.6 302.9 198.2 304.8 198.8 306.5 199.3 308.1 199.9 309.5 200.5 311.0 201.0 312.3 201.6 313.6 202.2 314.7 202.7 315.6 203.3 316.3 203.9 317.0 204.4 317.7 205.0 318.2 205.6 318.8 206.1 319.2 206.7 319.6 207.3 320.0 207.8 320.2 208.4 320.5 208.9 320.7 209.5 320.9 210.1 321.1 210.6 321.2 211.2 321.4 211.8 321.5 212.3 321.5 212.9 321.5 213.5 321.5 214.0 321.5 214.6 321.4 215.2 321.2 215.7 321.1 216.3 320.9 216.9 320.7 217.4 320.5 218.0 320.3 218.6 320.0 219.1 319.8 219.7 319.6 220.2 319.4 220.8 319.1 221.4 318.8 221.9 318.4 222.5 318.1 223.1 317.7 223.6 317.4 224.2 317.1 224.8 316.8 225.3 316.5 225.9 316.3 226.5 316.1 227.0 316.0 227.6 315.8 228.2 315.7 228.7 315.5 229.3 315.4 229.9 315.3 230.4 315.2 231.0 315.2 231.6 315.2 232.1 315.2 232.7 315.3 233.2 315.4 233.8 315.5 234.4 315.7 234.9 315.8 235.5 316.0 236.1 316.2 236.6 316.4 237.2 316.6 237.8 316.7 238.3 316.9 238.9 317.0 239.5 317.2 240.0 317.3 240.6 317.5 241.2 317.7 241.7 317.8 242.3 317.9 242.9 318.1 243.4 318.2 244.0 318.3 244.6 318.3 245.1 318.3 245.7 318.3 246.2 318.3 246.8 318.3 247.4 318.3 247.9 318.3 248.5 318.3 249.1 318.3 249.6 318.3 250.2 318.3 250.8 318.3 251.3 318.3 251.9 318.3 252.5 318.3 253.0 318.3 253.6 318.3 254.2 318.3 254.7 318.2 255.3 318.1 255.9 318.1 256.4 318.0 257.0 317.9 257.5 317.8 258.1 317.7 258.7 317.7 259.2 317.6 259.8 317.6 260.4 317.5 260.9 317.5 261.5 317.5 262.1 317.4 262.6 317.4 263.2 317.4 263.8 317.4 264.3 317.3 264.9 317.3 265.5 317.3 266.0 317.3 266.6 317.3 267.2 317.3 267.7 317.3 268.3 317.3 268.9 317.3 269.4 317.3 270.0 317.3 270.5 317.3 271.1 317.4 271.7 317.4 272.2 317.4 272.8 317.4 273.4 317.5" stroke="#f3a10f" stroke-width="3.9"/>
<path d="M177.9 345.2L178.4 345.2 179.0 345.2 179.6 345.2 180.1 345.2 180.7 345.2 181.3 345.2 181.8 345.2 182.4 345.2 182.9 345.2 183.5 345.2 184.1 345.2 184.6 345.0 185.2 344.7 185.8 343.8 186.3 341.2 186.9 337.3 187.5 332.5 188.0 324.9 188.6 316.0 189.2 308.1 189.7 300.3 190.3 293.9 190.9 290.5 191.4 287.8 192.0 285.9 192.6 285.3 193.1 286.2 193.7 288.3 194.3 290.7 194.8 292.8 195.4 295.1 195.9 297.6 196.5 300.0 197.1 302.4 197.6 304.5 198.2 306.3 198.8 308.1 199.3 309.9 199.9 311.5 200.5 313.0 201.0 314.4 201.6 315.6 202.2 316.6 202.7 317.6 203.3 318.5 203.9 319.5 204.4 320.4 205.0 321.3 205.6 322.1 206.1 322.8 206.7 323.5 207.3 324.2 207.8 324.8 208.4 325.4 208.9 325.9 209.5 326.4 210.1 326.8 210.6 327.1 211.2 327.2 211.8 327.3 212.3 327.2 212.9 327.1 213.5 326.8 214.0 326.4 214.6 325.9 215.2 325.4 215.7 324.8 216.3 324.2 216.9 323.6 217.4 323.0 218.0 322.4 218.6 321.9 219.1 321.3 219.7 320.8 220.2 320.2 220.8 319.7 221.4 319.1 221.9 318.6 222.5 318.2 223.1 317.7 223.6 317.4 224.2 317.0 224.8 316.8 225.3 316.6 225.9 316.4 226.5 316.2 227.0 316.1 227.6 315.9 228.2 315.8 228.7 315.7 229.3 315.6 229.9 315.6 230.4 315.6 231.0 315.6 231.6 315.7 232.1 315.8 232.7 316.0 233.2 316.2 233.8 316.4 234.4 316.6 234.9 316.8 235.5 317.1 236.1 317.3 236.6 317.4 237.2 317.6 237.8 317.8 238.3 317.9 238.9 318.1 239.5 318.3 240.0 318.5 240.6 318.7 241.2 318.8 241.7 319.0 242.3 319.1 242.9 319.2 243.4 319.2 244.0 319.3 244.6 319.3 245.1 319.3 245.7 319.3 246.2 319.3 246.8 319.3 247.4 319.3 247.9 319.3 248.5 319.3 249.1 319.3 249.6 319.3 250.2 319.3 250.8 319.3 251.3 319.3 251.9 319.3 252.5 319.2 253.0 319.2 253.6 319.1 254.2 319.0 254.7 318.9 255.3 318.9 255.9 318.8 256.4 318.7 257.0 318.6 257.5 318.5 258.1 318.4 258.7 318.4 259.2 318.4 259.8 318.3 260.4 318.3 260.9 318.3 261.5 318.2 262.1 318.2 262.6 318.2 263.2 318.1 263.8 318.1 264.3 318.1 264.9 318.1 265.5 318.1 266.0 318.1 266.6 318.1 267.2 318.1 267.7 318.1 268.3 318.1 268.9 318.1 269.4 318.1 270.0 318.2 270.5 318.2 271.1 318.2 271.7 318.2 272.2 318.3 272.8 318.3 273.4 318.4" stroke="#2a7fd8" stroke-width="2.8" stroke-opacity="0.5"/>
<path d="M177.9 345.2L178.4 345.2 179.0 345.2 179.6 345.2 180.1 345.2 180.7 345.2 181.3 345.2 181.8 345.2 182.4 345.2 182.9 345.2 183.5 345.2 184.1 345.2 184.6 345.1 185.2 344.8 185.8 344.2 186.3 342.1 186.9 338.5 187.5 334.1 188.0 327.1 188.6 318.2 189.2 309.7 189.7 301.8 190.3 294.6 190.9 290.5 191.4 287.6 192.0 285.4 192.6 284.4 193.1 285.0 193.7 286.9 194.3 289.3 194.8 291.5 195.4 293.8 195.9 296.3 196.5 298.8 197.1 301.3 197.6 303.5 198.2 305.4 198.8 307.2 199.3 309.0 199.9 310.6 200.5 312.2 201.0 313.6 201.6 314.8 202.2 315.8 202.7 316.7 203.3 317.6 203.9 318.4 204.4 319.2 205.0 320.0 205.6 320.6 206.1 321.2 206.7 321.7 207.3 322.1 207.8 322.5 208.4 322.9 208.9 323.3 209.5 323.6 210.1 323.9 210.6 324.1 211.2 324.2 211.8 324.2 212.3 324.2 212.9 324.1 213.5 324.0 214.0 323.7 214.6 323.5 215.2 323.1 215.7 322.8 216.3 322.4 216.9 322.0 217.4 321.6 218.0 321.2 218.6 320.8 219.1 320.4 219.7 319.9 220.2 319.4 220.8 318.9 221.4 318.3 221.9 317.6 222.5 317.0 223.1 316.4 223.6 315.7 224.2 315.1 224.8 314.6 225.3 314.1 225.9 313.7 226.5 313.3 227.0 313.0 227.6 312.7 228.2 312.5 228.7 312.4 229.3 312.4 229.9 312.5 230.4 312.7 231.0 313.0 231.6 313.3 232.1 313.7 232.7 314.2 233.2 314.6 233.8 315.1 234.4 315.6 234.9 316.0 235.5 316.4 236.1 316.7 236.6 317.0 237.2 317.3 237.8 317.5 238.3 317.7 238.9 317.9 239.5 318.2 240.0 318.4 240.6 318.5 241.2 318.7 241.7 318.9 242.3 319.0 242.9 319.1 243.4 319.2 244.0 319.2 244.6 319.2 245.1 319.2 245.7 319.2 246.2 319.2 246.8 319.2 247.4 319.2 247.9 319.2 248.5 319.2 249.1 319.2 249.6 319.2 250.2 319.2 250.8 319.2 251.3 319.2 251.9 319.2 252.5 319.2 253.0 319.1 253.6 319.1 254.2 319.0 254.7 318.9 255.3 318.8 255.9 318.7 256.4 318.6 257.0 318.5 257.5 318.5 258.1 318.4 258.7 318.3 259.2 318.3 259.8 318.3 260.4 318.2 260.9 318.2 261.5 318.2 262.1 318.1 262.6 318.1 263.2 318.1 263.8 318.1 264.3 318.0 264.9 318.0 265.5 318.0 266.0 318.0 266.6 318.0 267.2 318.0 267.7 318.0 268.3 318.0 268.9 318.0 269.4 318.1 270.0 318.1 270.5 318.1 271.1 318.1 271.7 318.2 272.2 318.2 272.8 318.2 273.4 318.3" stroke="#2a7fd8" stroke-width="2.8" stroke-opacity="0.5"/>
<path d="M177.9 345.2L178.4 345.2 179.0 345.2 179.6 345.2 180.1 345.2 180.7 345.2 181.3 345.2 181.8 345.2 182.4 345.2 182.9 345.2 183.5 345.2 184.1 345.2 184.6 345.1 185.2 344.8 185.8 343.9 186.3 341.4 186.9 337.7 187.5 332.8 188.0 325.1 188.6 316.0 189.2 307.6 189.7 299.4 190.3 292.6 190.9 289.0 191.4 286.1 192.0 284.1 192.6 283.4 193.1 284.4 193.7 286.6 194.3 289.1 194.8 291.3 195.4 293.7 195.9 296.3 196.5 298.8 197.1 301.3 197.6 303.5 198.2 305.4 198.8 307.2 199.3 309.0 199.9 310.7 200.5 312.2 201.0 313.7 201.6 314.9 202.2 316.0 202.7 317.1 203.3 318.1 203.9 319.1 204.4 320.1 205.0 321.1 205.6 321.9 206.1 322.7 206.7 323.5 207.3 324.2 207.8 324.8 208.4 325.4 208.9 326.0 209.5 326.5 210.1 326.9 210.6 327.2 211.2 327.3 211.8 327.4 212.3 327.3 212.9 327.2 213.5 326.9 214.0 326.5 214.6 326.0 215.2 325.5 215.7 324.9 216.3 324.3 216.9 323.7 217.4 323.1 218.0 322.5 218.6 321.9 219.1 321.4 219.7 320.8 220.2 320.2 220.8 319.6 221.4 319.1 221.9 318.6 222.5 318.1 223.1 317.6 223.6 317.2 224.2 316.9 224.8 316.6 225.3 316.4 225.9 316.2 226.5 316.1 227.0 315.9 227.6 315.7 228.2 315.6 228.7 315.5 229.3 315.4 229.9 315.4 230.4 315.3 231.0 315.4 231.6 315.5 232.1 315.6 232.7 315.8 233.2 316.0 233.8 316.2 234.4 316.4 234.9 316.6 235.5 316.9 236.1 317.1 236.6 317.3 237.2 317.4 237.8 317.6 238.3 317.8 238.9 318.0 239.5 318.2 240.0 318.4 240.6 318.5 241.2 318.7 241.7 318.9 242.3 319.0 242.9 319.1 243.4 319.1 244.0 319.2 244.6 319.2 245.1 319.2 245.7 319.2 246.2 319.2 246.8 319.2 247.4 319.2 247.9 319.2 248.5 319.2 249.1 319.2 249.6 319.2 250.2 319.2 250.8 319.2 251.3 319.2 251.9 319.2 252.5 319.1 253.0 319.1 253.6 319.0 254.2 318.9 254.7 318.8 255.3 318.7 255.9 318.6 256.4 318.6 257.0 318.5 257.5 318.4 258.1 318.3 258.7 318.3 259.2 318.2 259.8 318.2 260.4 318.2 260.9 318.1 261.5 318.1 262.1 318.1 262.6 318.0 263.2 318.0 263.8 318.0 264.3 318.0 264.9 318.0 265.5 317.9 266.0 317.9 266.6 317.9 267.2 317.9 267.7 318.0 268.3 318.0 268.9 318.0 269.4 318.0 270.0 318.0 270.5 318.1 271.1 318.1 271.7 318.1 272.2 318.2 272.8 318.2 273.4 318.2" stroke="#2a7fd8" stroke-width="2.8" stroke-opacity="0.5"/>
<path d="M177.9 345.2L178.4 345.2 179.0 345.2 179.6 345.2 180.1 345.2 180.7 345.2 181.3 345.2 181.8 345.2 182.4 345.2 182.9 345.2 183.5 345.2 184.1 345.2 184.6 345.1 185.2 344.9 185.8 344.3 186.3 342.3 186.9 338.9 187.5 334.5 188.0 327.4 188.6 318.2 189.2 309.4 189.7 301.0 190.3 293.4 190.9 289.0 191.4 285.9 192.0 283.6 192.6 282.5 193.1 283.1 193.7 285.1 194.3 287.7 194.8 290.0 195.4 292.4 195.9 295.0 196.5 297.6 197.1 300.1 197.6 302.4 198.2 304.4 198.8 306.2 199.3 308.0 199.9 309.8 200.5 311.4 201.0 312.9 201.6 314.1 202.2 315.2 202.7 316.2 203.3 317.2 203.9 318.1 204.4 318.9 205.0 319.7 205.6 320.5 206.1 321.1 206.7 321.6 207.3 322.1 207.8 322.6 208.4 323.0 208.9 323.4 209.5 323.7 210.1 324.0 210.6 324.2 211.2 324.3 211.8 324.4 212.3 324.3 212.9 324.2 213.5 324.1 214.0 323.8 214.6 323.6 215.2 323.2 215.7 322.9 216.3 322.5 216.9 322.1 217.4 321.7 218.0 321.3 218.6 320.9 219.1 320.4 219.7 320.0 220.2 319.4 220.8 318.8 221.4 318.2 221.9 317.6 222.5 316.9 223.1 316.3 223.6 315.6 224.2 315.0 224.8 314.4 225.3 314.0 225.9 313.5 226.5 313.1 227.0 312.8 227.6 312.5 228.2 312.3 228.7 312.2 229.3 312.2 229.9 312.3 230.4 312.4 231.0 312.7 231.6 313.1 232.1 313.5 232.7 313.9 233.2 314.4 233.8 314.9 234.4 315.4 234.9 315.8 235.5 316.2 236.1 316.5 236.6 316.8 237.2 317.1 237.8 317.3 238.3 317.6 238.9 317.8 239.5 318.0 240.0 318.2 240.6 318.4 241.2 318.6 241.7 318.8 242.3 318.9 242.9 319.0 243.4 319.1 244.0 319.1 244.6 319.1 245.1 319.1 245.7 319.1 246.2 319.1 246.8 319.1 247.4 319.1 247.9 319.1 248.5 319.1 249.1 319.1 249.6 319.1 250.2 319.1 250.8 319.1 251.3 319.1 251.9 319.1 252.5 319.1 253.0 319.1 253.6 319.0 254.2 318.9 254.7 318.8 255.3 318.7 255.9 318.6 256.4 318.5 257.0 318.4 257.5 318.3 258.1 318.3 258.7 318.2 259.2 318.2 259.8 318.1 260.4 318.1 260.9 318.1 261.5 318.0 262.1 318.0 262.6 318.0 263.2 317.9 263.8 317.9 264.3 317.9 264.9 317.9 265.5 317.9 266.0 317.9 266.6 317.9 267.2 317.9 267.7 317.9 268.3 317.9 268.9 317.9 269.4 317.9 270.0 318.0 270.5 318.0 271.1 318.0 271.7 318.0 272.2 318.1 272.8 318.1 273.4 318.2" stroke="#2a7fd8" stroke-width="2.8" stroke-opacity="0.5"/>
<path d="M177.9 345.2L178.4 345.2 179.0 345.2 179.6 345.2 180.1 345.2 180.7 345.2 181.3 345.2 181.8 345.2 182.4 345.2 182.9 345.2 183.5 345.2 184.1 345.2 184.6 345.1 185.2 344.8 185.8 344.1 186.3 341.7 186.9 338.0 187.5 333.2 188.0 325.4 188.6 315.9 189.2 307.2 189.7 298.5 190.3 291.3 190.9 287.4 191.4 284.4 192.0 282.2 192.6 281.5 193.1 282.5 193.7 284.8 194.3 287.5 194.8 289.8 195.4 292.3 195.9 295.0 196.5 297.6 197.1 300.2 197.6 302.4 198.2 304.3 198.8 306.2 199.3 308.1 199.9 309.8 200.5 311.5 201.0 313.0 201.6 314.3 202.2 315.4 202.7 316.5 203.3 317.7 203.9 318.8 204.4 319.8 205.0 320.9 205.6 321.8 206.1 322.7 206.7 323.4 207.3 324.1 207.8 324.8 208.4 325.5 208.9 326.1 209.5 326.6 210.1 327.0 210.6 327.3 211.2 327.4 211.8 327.5 212.3 327.4 212.9 327.2 213.5 327.0 214.0 326.6 214.6 326.1 215.2 325.6 215.7 325.0 216.3 324.4 216.9 323.7 217.4 323.1 218.0 322.5 218.6 322.0 219.1 321.4 219.7 320.8 220.2 320.2 220.8 319.6 221.4 319.0 221.9 318.5 222.5 318.0 223.1 317.5 223.6 317.1 224.2 316.8 224.8 316.5 225.3 316.3 225.9 316.1 226.5 315.9 227.0 315.7 227.6 315.5 228.2 315.4 228.7 315.3 229.3 315.2 229.9 315.1 230.4 315.1 231.0 315.1 231.6 315.2 232.1 315.4 232.7 315.5 233.2 315.8 233.8 316.0 234.4 316.2 234.9 316.5 235.5 316.7 236.1 316.9 236.6 317.1 237.2 317.3 237.8 317.5 238.3 317.7 238.9 317.8 239.5 318.0 240.0 318.2 240.6 318.4 241.2 318.6 241.7 318.8 242.3 318.9 242.9 319.0 243.4 319.1 244.0 319.1 244.6 319.1 245.1 319.1 245.7 319.1 246.2 319.1 246.8 319.1 247.4 319.1 247.9 319.1 248.5 319.1 249.1 319.1 249.6 319.1 250.2 319.1 250.8 319.1 251.3 319.1 251.9 319.1 252.5 319.0 253.0 319.0 253.6 318.9 254.2 318.8 254.7 318.7 255.3 318.6 255.9 318.5 256.4 318.4 257.0 318.3 257.5 318.3 258.1 318.2 258.7 318.1 259.2 318.1 259.8 318.1 260.4 318.0 260.9 318.0 261.5 318.0 262.1 317.9 262.6 317.9 263.2 317.9 263.8 317.8 264.3 317.8 264.9 317.8 265.5 317.8 266.0 317.8 266.6 317.8 267.2 317.8 267.7 317.8 268.3 317.8 268.9 317.8 269.4 317.9 270.0 317.9 270.5 317.9 271.1 317.9 271.7 318.0 272.2 318.0 272.8 318.1 273.4 318.1" stroke="#2a7fd8" stroke-width="2.8" stroke-opacity="0.5"/>
<path d="M177.9 345.2L178.4 345.2 179.0 345.2 179.6 345.2 180.1 345.2 180.7 345.2 181.3 345.2 181.8 345.2 182.4 345.2 182.9 345.2 183.5 345.2 184.1 345.2 184.6 345.1 185.2 344.9 185.8 344.4 186.3 342.5 186.9 339.2 187.5 334.8 188.0 327.7 188.6 318.3 189.2 309.0 189.7 300.3 190.3 292.2 190.9 287.5 191.4 284.2 192.0 281.7 192.6 280.5 193.1 281.1 193.7 283.2 194.3 286.0 194.8 288.4 195.4 290.9 195.9 293.6 196.5 296.3 197.1 298.9 197.6 301.3 198.2 303.3 198.8 305.2 199.3 307.1 199.9 308.9 200.5 310.6 201.0 312.1 201.6 313.5 202.2 314.6 202.7 315.7 203.3 316.7 203.9 317.7 204.4 318.7 205.0 319.5 205.6 320.3 206.1 321.0 206.7 321.6 207.3 322.1 207.8 322.6 208.4 323.0 208.9 323.4 209.5 323.8 210.1 324.1 210.6 324.3 211.2 324.4 211.8 324.5 212.3 324.5 212.9 324.4 213.5 324.2 214.0 324.0 214.6 323.7 215.2 323.3 215.7 323.0 216.3 322.6 216.9 322.2 217.4 321.7 218.0 321.3 218.6 320.9 219.1 320.5 219.7 320.0 220.2 319.4 220.8 318.8 221.4 318.2 221.9 317.5 222.5 316.8 223.1 316.2 223.6 315.5 224.2 314.9 224.8 314.3 225.3 313.8 225.9 313.3 226.5 312.9 227.0 312.6 227.6 312.3 228.2 312.1 228.7 312.0 229.3 311.9 229.9 312.0 230.4 312.2 231.0 312.5 231.6 312.8 232.1 313.2 232.7 313.7 233.2 314.2 233.8 314.7 234.4 315.2 234.9 315.6 235.5 316.0 236.1 316.4 236.6 316.7 237.2 316.9 237.8 317.2 238.3 317.4 238.9 317.7 239.5 317.9 240.0 318.1 240.6 318.3 241.2 318.5 241.7 318.7 242.3 318.8 242.9 318.9 243.4 319.0 244.0 319.0 244.6 319.0 245.1 319.0 245.7 319.0 246.2 319.0 246.8 319.0 247.4 319.0 247.9 319.0 248.5 319.0 249.1 319.0 249.6 319.0 250.2 319.0 250.8 319.0 251.3 319.0 251.9 319.0 252.5 319.0 253.0 319.0 253.6 318.9 254.2 318.8 254.7 318.7 255.3 318.6 255.9 318.5 256.4 318.4 257.0 318.3 257.5 318.2 258.1 318.1 258.7 318.1 259.2 318.0 259.8 318.0 260.4 318.0 260.9 317.9 261.5 317.9 262.1 317.9 262.6 317.8 263.2 317.8 263.8 317.8 264.3 317.8 264.9 317.7 265.5 317.7 266.0 317.7 266.6 317.7 267.2 317.7 267.7 317.7 268.3 317.8 268.9 317.8 269.4 317.8 270.0 317.8 270.5 317.8 271.1 317.9 271.7 317.9 272.2 317.9 272.8 318.0 273.4 318.0" stroke="#2a7fd8" stroke-width="2.8" stroke-opacity="0.5"/>
<path d="M177.9 345.2L178.4 345.2 179.0 345.2 179.6 345.2 180.1 345.2 180.7 345.2 181.3 345.2 181.8 345.2 182.4 345.2 182.9 345.2 183.5 345.2 184.1 345.2 184.6 345.1 185.2 344.9 185.8 344.2 186.3 342.0 186.9 338.4 187.5 333.6 188.0 325.6 188.6 315.8 189.2 306.8 189.7 297.6 190.3 290.0 190.9 285.9 191.4 282.6 192.0 280.3 192.6 279.5 193.1 280.6 193.7 283.0 194.3 285.8 194.8 288.3 195.4 290.9 195.9 293.6 196.5 296.4 197.1 299.0 197.6 301.3 198.2 303.3 198.8 305.2 199.3 307.1 199.9 309.0 200.5 310.7 201.0 312.2 201.6 313.6 202.2 314.8 202.7 316.0 203.3 317.2 203.9 318.4 204.4 319.6 205.0 320.7 205.6 321.7 206.1 322.6 206.7 323.4 207.3 324.1 207.8 324.9 208.4 325.5 208.9 326.1 209.5 326.6 210.1 327.0 210.6 327.3 211.2 327.5 211.8 327.6 212.3 327.5 212.9 327.3 213.5 327.0 214.0 326.7 214.6 326.2 215.2 325.6 215.7 325.0 216.3 324.4 216.9 323.8 217.4 323.2 218.0 322.6 218.6 322.0 219.1 321.4 219.7 320.8 220.2 320.2 220.8 319.6 221.4 319.0 221.9 318.4 222.5 317.9 223.1 317.4 223.6 317.0 224.2 316.6 224.8 316.3 225.3 316.1 225.9 315.9 226.5 315.7 227.0 315.5 227.6 315.3 228.2 315.2 228.7 315.1 229.3 315.0 229.9 314.9 230.4 314.9 231.0 314.9 231.6 315.0 232.1 315.1 232.7 315.3 233.2 315.5 233.8 315.8 234.4 316.0 234.9 316.3 235.5 316.5 236.1 316.7 236.6 316.9 237.2 317.1 237.8 317.3 238.3 317.5 238.9 317.7 239.5 317.9 240.0 318.1 240.6 318.3 241.2 318.5 241.7 318.6 242.3 318.8 242.9 318.9 243.4 319.0 244.0 319.0 244.6 319.0 245.1 319.0 245.7 319.0 246.2 319.0 246.8 319.0 247.4 319.0 247.9 319.0 248.5 319.0 249.1 319.0 249.6 319.0 250.2 319.0 250.8 319.0 251.3 319.0 251.9 319.0 252.5 319.0 253.0 318.9 253.6 318.8 254.2 318.7 254.7 318.6 255.3 318.5 255.9 318.4 256.4 318.3 257.0 318.2 257.5 318.1 258.1 318.1 258.7 318.0 259.2 318.0 259.8 317.9 260.4 317.9 260.9 317.9 261.5 317.8 262.1 317.8 262.6 317.8 263.2 317.7 263.8 317.7 264.3 317.7 264.9 317.7 265.5 317.7 266.0 317.7 266.6 317.7 267.2 317.7 267.7 317.7 268.3 317.7 268.9 317.7 269.4 317.7 270.0 317.8 270.5 317.8 271.1 317.8 271.7 317.8 272.2 317.9 272.8 317.9 273.4 318.0" stroke="#2a7fd8" stroke-width="2.8" stroke-opacity="0.5"/>
<path d="M177.9 345.2L178.4 345.2 179.0 345.2 179.6 345.2 180.1 345.2 180.7 345.2 181.3 345.2 181.8 345.2 182.4 345.2 182.9 345.2 183.5 345.2 184.1 345.2 184.6 345.1 185.2 345.0 185.8 344.5 186.3 342.8 186.9 339.5 187.5 335.2 188.0 328.0 188.6 318.3 189.2 308.7 189.7 299.5 190.3 290.9 190.9 286.0 191.4 282.4 192.0 279.8 192.6 278.5 193.1 279.1 193.7 281.4 194.3 284.2 194.8 286.8 195.4 289.4 195.9 292.2 196.5 295.0 197.1 297.7 197.6 300.2 198.2 302.2 198.8 304.2 199.3 306.1 199.9 308.0 200.5 309.8 201.0 311.4 201.6 312.8 202.2 314.0 202.7 315.2 203.3 316.3 203.9 317.4 204.4 318.4 205.0 319.3 205.6 320.2 206.1 320.9 206.7 321.6 207.3 322.1 207.8 322.6 208.4 323.1 208.9 323.5 209.5 323.9 210.1 324.2 210.6 324.4 211.2 324.5 211.8 324.6 212.3 324.6 212.9 324.5 213.5 324.3 214.0 324.1 214.6 323.8 215.2 323.4 215.7 323.0 216.3 322.6 216.9 322.2 217.4 321.8 218.0 321.4 218.6 320.9 219.1 320.5 219.7 320.0 220.2 319.4 220.8 318.8 221.4 318.1 221.9 317.5 222.5 316.8 223.1 316.1 223.6 315.4 224.2 314.7 224.8 314.1 225.3 313.6 225.9 313.2 226.5 312.7 227.0 312.4 227.6 312.1 228.2 311.8 228.7 311.7 229.3 311.7 229.9 311.8 230.4 312.0 231.0 312.2 231.6 312.6 232.1 313.0 232.7 313.5 233.2 314.0 233.8 314.5 234.4 315.0 234.9 315.4 235.5 315.8 236.1 316.2 236.6 316.5 237.2 316.8 237.8 317.0 238.3 317.3 238.9 317.5 239.5 317.8 240.0 318.0 240.6 318.2 241.2 318.4 241.7 318.6 242.3 318.7 242.9 318.8 243.4 318.9 244.0 318.9 244.6 319.0 245.1 319.0 245.7 319.0 246.2 319.0 246.8 319.0 247.4 319.0 247.9 319.0 248.5 319.0 249.1 319.0 249.6 319.0 250.2 319.0 250.8 319.0 251.3 319.0 251.9 318.9 252.5 318.9 253.0 318.9 253.6 318.8 254.2 318.7 254.7 318.6 255.3 318.5 255.9 318.4 256.4 318.3 257.0 318.2 257.5 318.1 258.1 318.0 258.7 318.0 259.2 317.9 259.8 317.9 260.4 317.8 260.9 317.8 261.5 317.8 262.1 317.7 262.6 317.7 263.2 317.7 263.8 317.6 264.3 317.6 264.9 317.6 265.5 317.6 266.0 317.6 266.6 317.6 267.2 317.6 267.7 317.6 268.3 317.6 268.9 317.6 269.4 317.7 270.0 317.7 270.5 317.7 271.1 317.7 271.7 317.8 272.2 317.8 272.8 317.9 273.4 317.9" stroke="#2a7fd8" stroke-width="2.8" stroke-opacity="0.5"/>
<path d="M177.9 345.2L178.4 345.2 179.0 345.2 179.6 345.2 180.1 345.2 180.7 345.2 181.3 345.2 181.8 345.2 182.4 345.2 182.9 345.2 183.5 345.2 184.1 345.2 184.6 345.1 185.2 344.9 185.8 344.3 186.3 342.2 186.9 338.7 187.5 333.9 188.0 325.8 188.6 315.8 189.2 306.3 189.7 296.7 190.3 288.6 190.9 284.3 191.4 280.8 192.0 278.3 192.6 277.4 193.1 278.6 193.7 281.1 194.3 284.1 194.8 286.7 195.4 289.4 195.9 292.3 196.5 295.1 197.1 297.8 197.6 300.2 198.2 302.3 198.8 304.3 199.3 306.2 199.9 308.1 200.5 309.9 201.0 311.5 201.6 313.0 202.2 314.2 202.7 315.5 203.3 316.8 203.9 318.1 204.4 319.3 205.0 320.5 205.6 321.5 206.1 322.5 206.7 323.3 207.3 324.1 207.8 324.9 208.4 325.6 208.9 326.2 209.5 326.7 210.1 327.1 210.6 327.4 211.2 327.6 211.8 327.7 212.3 327.6 212.9 327.4 213.5 327.1 214.0 326.7 214.6 326.3 215.2 325.7 215.7 325.1 216.3 324.5 216.9 323.9 217.4 323.2 218.0 322.6 218.6 322.0 219.1 321.4 219.7 320.8 220.2 320.2 220.8 319.6 221.4 319.0 221.9 318.4 222.5 317.8 223.1 317.3 223.6 316.9 224.2 316.5 224.8 316.2 225.3 316.0 225.9 315.7 226.5 315.5 227.0 315.3 227.6 315.1 228.2 315.0 228.7 314.8 229.3 314.7 229.9 314.7 230.4 314.7 231.0 314.7 231.6 314.8 232.1 314.9 232.7 315.1 233.2 315.3 233.8 315.6 234.4 315.8 234.9 316.1 235.5 316.3 236.1 316.6 236.6 316.8 237.2 317.0 237.8 317.1 238.3 317.4 238.9 317.6 239.5 317.8 240.0 318.0 240.6 318.2 241.2 318.4 241.7 318.5 242.3 318.7 242.9 318.8 243.4 318.9 244.0 318.9 244.6 318.9 245.1 318.9 245.7 318.9 246.2 318.9 246.8 318.9 247.4 318.9 247.9 318.9 248.5 318.9 249.1 318.9 249.6 318.9 250.2 318.9 250.8 318.9 251.3 318.9 251.9 318.9 252.5 318.9 253.0 318.8 253.6 318.7 254.2 318.6 254.7 318.5 255.3 318.4 255.9 318.3 256.4 318.2 257.0 318.1 257.5 318.0 258.1 317.9 258.7 317.9 259.2 317.8 259.8 317.8 260.4 317.8 260.9 317.7 261.5 317.7 262.1 317.7 262.6 317.6 263.2 317.6 263.8 317.6 264.3 317.6 264.9 317.5 265.5 317.5 266.0 317.5 266.6 317.5 267.2 317.5 267.7 317.5 268.3 317.5 268.9 317.6 269.4 317.6 270.0 317.6 270.5 317.6 271.1 317.7 271.7 317.7 272.2 317.8 272.8 317.8 273.4 317.9" stroke="#2a7fd8" stroke-width="2.8" stroke-opacity="0.5"/>
<path d="M177.9 345.2L178.4 345.2 179.0 345.2 179.6 345.2 180.1 345.2 180.7 345.2 181.3 345.2 181.8 345.2 182.4 345.2 182.9 345.2 183.5 345.2 184.1 345.2 184.6 345.1 185.2 345.0 185.8 344.6 186.3 342.9 186.9 339.8 187.5 335.5 188.0 328.2 188.6 318.3 189.2 308.3 189.7 298.7 190.3 289.7 190.9 284.4 191.4 280.6 192.0 277.8 192.6 276.4 193.1 277.1 193.7 279.4 194.3 282.4 194.8 285.1 195.4 287.9 195.9 290.8 196.5 293.7 197.1 296.5 197.6 299.0 198.2 301.1 198.8 303.2 199.3 305.2 199.9 307.1 200.5 308.9 201.0 310.6 201.6 312.1 202.2 313.4 202.7 314.6 203.3 315.8 203.9 317.0 204.4 318.1 205.0 319.1 205.6 320.0 206.1 320.8 206.7 321.5 207.3 322.1 207.8 322.7 208.4 323.2 208.9 323.6 209.5 324.0 210.1 324.3 210.6 324.5 211.2 324.7 211.8 324.7 212.3 324.7 212.9 324.6 213.5 324.4 214.0 324.2 214.6 323.9 215.2 323.5 215.7 323.1 216.3 322.7 216.9 322.3 217.4 321.9 218.0 321.4 218.6 321.0 219.1 320.5 219.7 320.0 220.2 319.4 220.8 318.8 221.4 318.1 221.9 317.4 222.5 316.7 223.1 316.0 223.6 315.3 224.2 314.6 224.8 314.0 225.3 313.5 225.9 313.0 226.5 312.5 227.0 312.2 227.6 311.9 228.2 311.6 228.7 311.5 229.3 311.5 229.9 311.5 230.4 311.7 231.0 312.0 231.6 312.3 232.1 312.8 232.7 313.2 233.2 313.8 233.8 314.3 234.4 314.7 234.9 315.2 235.5 315.6 236.1 316.0 236.6 316.3 237.2 316.6 237.8 316.9 238.3 317.1 238.9 317.4 239.5 317.6 240.0 317.9 240.6 318.1 241.2 318.3 241.7 318.5 242.3 318.6 242.9 318.7 243.4 318.8 244.0 318.9 244.6 318.9 245.1 318.9 245.7 318.9 246.2 318.9 246.8 318.9 247.4 318.9 247.9 318.9 248.5 318.9 249.1 318.9 249.6 318.9 250.2 318.9 250.8 318.9 251.3 318.9 251.9 318.9 252.5 318.8 253.0 318.8 253.6 318.7 254.2 318.6 254.7 318.5 255.3 318.4 255.9 318.3 256.4 318.2 257.0 318.1 257.5 318.0 258.1 317.9 258.7 317.8 259.2 317.8 259.8 317.7 260.4 317.7 260.9 317.7 261.5 317.6 262.1 317.6 262.6 317.6 263.2 317.5 263.8 317.5 264.3 317.5 264.9 317.5 265.5 317.5 266.0 317.5 266.6 317.5 267.2 317.5 267.7 317.5 268.3 317.5 268.9 317.5 269.4 317.5 270.0 317.5 270.5 317.6 271.1 317.6 271.7 317.6 272.2 317.7 272.8 317.7 273.4 317.8" stroke="#2a7fd8" stroke-width="2.8" stroke-opacity="0.5"/>
<path d="M177.9 345.2L178.4 345.2 179.0 345.2 179.6 345.2 180.1 345.2 180.7 345.2 181.3 345.2 181.8 345.2 182.4 345.2 182.9 345.2 183.5 345.2 184.1 345.2 184.6 345.1 185.2 345.0 185.8 344.4 186.3 342.4 186.9 339.0 187.5 334.3 188.0 326.1 188.6 315.7 189.2 305.9 189.7 295.8 190.3 287.3 190.9 282.6 191.4 278.9 192.0 276.3 192.6 275.3 193.1 276.5 193.7 279.2 194.3 282.3 194.8 285.0 195.4 287.9 195.9 290.9 196.5 293.8 197.1 296.6 197.6 299.1 198.2 301.2 198.8 303.2 199.3 305.3 199.9 307.2 200.5 309.1 201.0 310.8 201.6 312.3 202.2 313.7 202.7 315.0 203.3 316.4 203.9 317.7 204.4 319.0 205.0 320.3 205.6 321.4 206.1 322.4 206.7 323.3 207.3 324.1 207.8 324.9 208.4 325.6 208.9 326.3 209.5 326.8 210.1 327.2 210.6 327.5 211.2 327.7 211.8 327.8 212.3 327.7 212.9 327.5 213.5 327.2 214.0 326.8 214.6 326.3 215.2 325.8 215.7 325.2 216.3 324.6 216.9 323.9 217.4 323.3 218.0 322.6 218.6 322.0 219.1 321.4 219.7 320.8 220.2 320.2 220.8 319.5 221.4 318.9 221.9 318.3 222.5 317.8 223.1 317.2 223.6 316.8 224.2 316.4 224.8 316.0 225.3 315.8 225.9 315.6 226.5 315.3 227.0 315.1 227.6 314.9 228.2 314.8 228.7 314.6 229.3 314.5 229.9 314.4 230.4 314.4 231.0 314.4 231.6 314.5 232.1 314.7 232.7 314.9 233.2 315.1 233.8 315.4 234.4 315.6 234.9 315.9 235.5 316.1 236.1 316.4 236.6 316.6 237.2 316.8 237.8 317.0 238.3 317.2 238.9 317.4 239.5 317.7 240.0 317.9 240.6 318.1 241.2 318.3 241.7 318.4 242.3 318.6 242.9 318.7 243.4 318.8 244.0 318.8 244.6 318.8 245.1 318.8 245.7 318.8 246.2 318.8 246.8 318.8 247.4 318.8 247.9 318.8 248.5 318.8 249.1 318.8 249.6 318.8 250.2 318.8 250.8 318.8 251.3 318.8 251.9 318.8 252.5 318.8 253.0 318.7 253.6 318.6 254.2 318.5 254.7 318.4 255.3 318.3 255.9 318.2 256.4 318.1 257.0 318.0 257.5 317.9 258.1 317.8 258.7 317.8 259.2 317.7 259.8 317.7 260.4 317.6 260.9 317.6 261.5 317.6 262.1 317.5 262.6 317.5 263.2 317.5 263.8 317.4 264.3 317.4 264.9 317.4 265.5 317.4 266.0 317.4 266.6 317.4 267.2 317.4 267.7 317.4 268.3 317.4 268.9 317.4 269.4 317.5 270.0 317.5 270.5 317.5 271.1 317.5 271.7 317.6 272.2 317.6 272.8 317.7 273.4 317.7" stroke="#2a7fd8" stroke-width="2.8" stroke-opacity="0.5"/>
<path d="M177.9 345.2L178.4 345.2 179.0 345.2 179.6 345.2 180.1 345.2 180.7 345.2 181.3 345.2 181.8 345.2 182.4 345.2 182.9 345.2 183.5 345.2 184.1 345.2 184.6 345.1 185.2 345.0 185.8 344.7 186.3 343.1 186.9 340.1 187.5 335.9 188.0 328.5 188.6 318.3 189.2 308.0 189.7 297.9 190.3 288.3 190.9 282.8 191.4 278.8 192.0 275.7 192.6 274.3 193.1 274.9 193.7 277.4 194.3 280.6 194.8 283.4 195.4 286.3 195.9 289.3 196.5 292.3 197.1 295.2 197.6 297.8 198.2 300.0 198.8 302.1 199.3 304.2 199.9 306.2 200.5 308.1 201.0 309.9 201.6 311.5 202.2 312.8 202.7 314.1 203.3 315.4 203.9 316.6 204.4 317.8 205.0 318.9 205.6 319.9 206.1 320.8 206.7 321.5 207.3 322.1 207.8 322.7 208.4 323.2 208.9 323.7 209.5 324.1 210.1 324.4 210.6 324.6 211.2 324.8 211.8 324.8 212.3 324.8 212.9 324.7 213.5 324.5 214.0 324.3 214.6 324.0 215.2 323.6 215.7 323.2 216.3 322.8 216.9 322.4 217.4 321.9 218.0 321.5 218.6 321.0 219.1 320.5 219.7 320.0 220.2 319.4 220.8 318.8 221.4 318.1 221.9 317.3 222.5 316.6 223.1 315.9 223.6 315.1 224.2 314.5 224.8 313.8 225.3 313.3 225.9 312.8 226.5 312.4 227.0 312.0 227.6 311.6 228.2 311.4 228.7 311.3 229.3 311.2 229.9 311.3 230.4 311.5 231.0 311.7 231.6 312.1 232.1 312.5 232.7 313.0 233.2 313.5 233.8 314.0 234.4 314.5 234.9 315.0 235.5 315.5 236.1 315.8 236.6 316.2 237.2 316.4 237.8 316.7 238.3 317.0 238.9 317.2 239.5 317.5 240.0 317.7 240.6 318.0 241.2 318.2 241.7 318.3 242.3 318.5 242.9 318.6 243.4 318.7 244.0 318.8 244.6 318.8 245.1 318.8 245.7 318.8 246.2 318.8 246.8 318.8 247.4 318.8 247.9 318.8 248.5 318.8 249.1 318.8 249.6 318.8 250.2 318.8 250.8 318.8 251.3 318.8 251.9 318.8 252.5 318.7 253.0 318.7 253.6 318.6 254.2 318.5 254.7 318.4 255.3 318.3 255.9 318.2 256.4 318.1 257.0 318.0 257.5 317.9 258.1 317.8 258.7 317.7 259.2 317.7 259.8 317.6 260.4 317.6 260.9 317.5 261.5 317.5 262.1 317.5 262.6 317.4 263.2 317.4 263.8 317.4 264.3 317.3 264.9 317.3 265.5 317.3 266.0 317.3 266.6 317.3 267.2 317.3 267.7 317.3 268.3 317.3 268.9 317.4 269.4 317.4 270.0 317.4 270.5 317.4 271.1 317.5 271.7 317.5 272.2 317.5 272.8 317.6 273.4 317.6" stroke="#2a7fd8" stroke-width="2.8" stroke-opacity="0.5"/>
<path d="M177.9 345.2L178.4 345.2 179.0 345.2 179.6 345.2 180.1 345.2 180.7 345.2 181.3 345.2 181.8 345.2 182.4 345.2 182.9 345.2 183.5 345.2 184.1 345.2 184.6 345.1 185.2 345.0 185.8 344.5 186.3 342.6 186.9 339.3 187.5 334.6 188.0 326.3 188.6 315.7 189.2 305.4 189.7 294.9 190.3 285.8 190.9 280.9 191.4 276.9 192.0 274.2 192.6 273.1 193.1 274.4 193.7 277.2 194.3 280.5 194.8 283.3 195.4 286.3 195.9 289.4 196.5 292.5 197.1 295.4 197.6 298.0 198.2 300.1 198.8 302.2 199.3 304.3 199.9 306.3 200.5 308.2 201.0 310.0 201.6 311.6 202.2 313.1 202.7 314.5 203.3 315.9 203.9 317.4 204.4 318.8 205.0 320.1 205.6 321.3 206.1 322.3 206.7 323.3 207.3 324.1 207.8 324.9 208.4 325.7 208.9 326.3 209.5 326.9 210.1 327.3 210.6 327.6 211.2 327.8 211.8 327.9 212.3 327.8 212.9 327.6 213.5 327.3 214.0 326.9 214.6 326.4 215.2 325.9 215.7 325.3 216.3 324.6 216.9 324.0 217.4 323.3 218.0 322.7 218.6 322.1 219.1 321.5 219.7 320.8 220.2 320.2 220.8 319.5 221.4 318.9 221.9 318.3 222.5 317.7 223.1 317.1 223.6 316.6 224.2 316.2 224.8 315.9 225.3 315.6 225.9 315.4 226.5 315.2 227.0 314.9 227.6 314.7 228.2 314.6 228.7 314.4 229.3 314.3 229.9 314.2 230.4 314.2 231.0 314.2 231.6 314.3 232.1 314.4 232.7 314.6 233.2 314.9 233.8 315.1 234.4 315.4 234.9 315.7 235.5 316.0 236.1 316.2 236.6 316.4 237.2 316.6 237.8 316.8 238.3 317.1 238.9 317.3 239.5 317.5 240.0 317.8 240.6 318.0 241.2 318.2 241.7 318.3 242.3 318.5 242.9 318.6 243.4 318.7 244.0 318.7 244.6 318.7 245.1 318.7 245.7 318.7 246.2 318.7 246.8 318.7 247.4 318.7 247.9 318.7 248.5 318.7 249.1 318.7 249.6 318.7 250.2 318.7 250.8 318.7 251.3 318.7 251.9 318.7 252.5 318.7 253.0 318.6 253.6 318.5 254.2 318.4 254.7 318.3 255.3 318.2 255.9 318.1 256.4 318.0 257.0 317.9 257.5 317.8 258.1 317.7 258.7 317.6 259.2 317.6 259.8 317.5 260.4 317.5 260.9 317.5 261.5 317.4 262.1 317.4 262.6 317.3 263.2 317.3 263.8 317.3 264.3 317.3 264.9 317.3 265.5 317.2 266.0 317.2 266.6 317.2 267.2 317.2 267.7 317.3 268.3 317.3 268.9 317.3 269.4 317.3 270.0 317.3 270.5 317.4 271.1 317.4 271.7 317.4 272.2 317.5 272.8 317.5 273.4 317.6" stroke="#2a7fd8" stroke-width="2.8" stroke-opacity="0.5"/>
<path d="M177.9 345.2L178.4 345.2 179.0 345.2 179.6 345.2 180.1 345.2 180.7 345.2 181.3 345.2 181.8 345.2 182.4 345.2 182.9 345.2 183.5 345.2 184.1 345.2 184.6 345.2 185.2 345.0 185.8 344.7 186.3 343.3 186.9 340.4 187.5 336.2 188.0 328.8 188.6 318.4 189.2 307.6 189.7 297.0 190.3 287.0 190.9 281.1 191.4 276.8 192.0 273.6 192.6 272.0 193.1 272.7 193.7 275.3 194.3 278.7 194.8 281.7 195.4 284.6 195.9 287.8 196.5 290.9 197.1 294.0 197.6 296.6 198.2 298.9 198.8 301.0 199.3 303.2 199.9 305.3 200.5 307.2 201.0 309.1 201.6 310.8 202.2 312.2 202.7 313.6 203.3 315.0 203.9 316.3 204.4 317.6 205.0 318.7 205.6 319.8 206.1 320.7 206.7 321.5 207.3 322.1 207.8 322.7 208.4 323.3 208.9 323.8 209.5 324.2 210.1 324.5 210.6 324.7 211.2 324.9 211.8 325.0 212.3 324.9 212.9 324.8 213.5 324.6 214.0 324.4 214.6 324.1 215.2 323.7 215.7 323.3 216.3 322.9 216.9 322.4 217.4 322.0 218.0 321.5 218.6 321.1 219.1 320.6 219.7 320.0 220.2 319.4 220.8 318.7 221.4 318.0 221.9 317.3 222.5 316.5 223.1 315.8 223.6 315.0 224.2 314.3 224.8 313.7 225.3 313.1 225.9 312.6 226.5 312.2 227.0 311.8 227.6 311.4 228.2 311.2 228.7 311.0 229.3 311.0 229.9 311.1 230.4 311.2 231.0 311.5 231.6 311.8 232.1 312.3 232.7 312.8 233.2 313.3 233.8 313.8 234.4 314.3 234.9 314.8 235.5 315.3 236.1 315.7 236.6 316.0 237.2 316.3 237.8 316.6 238.3 316.8 238.9 317.1 239.5 317.4 240.0 317.6 240.6 317.8 241.2 318.1 241.7 318.2 242.3 318.4 242.9 318.5 243.4 318.6 244.0 318.7 244.6 318.7 245.1 318.7 245.7 318.7 246.2 318.7 246.8 318.7 247.4 318.7 247.9 318.7 248.5 318.7 249.1 318.7 249.6 318.7 250.2 318.7 250.8 318.7 251.3 318.7 251.9 318.7 252.5 318.7 253.0 318.6 253.6 318.5 254.2 318.4 254.7 318.3 255.3 318.2 255.9 318.1 256.4 318.0 257.0 317.8 257.5 317.7 258.1 317.6 258.7 317.6 259.2 317.5 259.8 317.5 260.4 317.4 260.9 317.4 261.5 317.4 262.1 317.3 262.6 317.3 263.2 317.3 263.8 317.2 264.3 317.2 264.9 317.2 265.5 317.2 266.0 317.2 266.6 317.2 267.2 317.2 267.7 317.2 268.3 317.2 268.9 317.2 269.4 317.2 270.0 317.3 270.5 317.3 271.1 317.3 271.7 317.4 272.2 317.4 272.8 317.5 273.4 317.5" stroke="#2a7fd8" stroke-width="2.8" stroke-opacity="0.5"/>
<path d="M177.9 345.2L178.4 345.2 179.0 345.2 179.6 345.2 180.1 345.2 180.7 345.2 181.3 345.2 181.8 345.2 182.4 345.2 182.9 345.2 183.5 345.2 184.1 345.2 184.6 345.1 185.2 344.8 185.8 344.3 186.3 342.5 186.9 339.1 187.5 334.8 188.0 329.2 188.6 321.5 189.2 313.5 189.7 306.7 190.3 300.0 190.9 295.5 191.4 292.9 192.0 290.8 192.6 289.6 193.1 289.5 193.7 290.7 194.3 292.6 194.8 294.6 195.4 296.4 195.9 298.5 196.5 300.6 197.1 302.7 197.6 304.7 198.2 306.5 198.8 308.1 199.3 309.6 199.9 311.1 200.5 312.5 201.0 313.8 201.6 314.9 202.2 315.8 202.7 316.5 203.3 317.2 203.9 317.9 204.4 318.4 205.0 319.0 205.6 319.4 206.1 319.8 206.7 320.2 207.3 320.4 207.8 320.6 208.4 320.9 208.9 321.1 209.5 321.2 210.1 321.4 210.6 321.5 211.2 321.6 211.8 321.7 212.3 321.7 212.9 321.7 213.5 321.6 214.0 321.5 214.6 321.3 215.2 321.1 215.7 321.0 216.3 320.7 216.9 320.5 217.4 320.3 218.0 320.1 218.6 319.8 219.1 319.6 219.7 319.4 220.2 319.0 220.8 318.7 221.4 318.3 221.9 318.0 222.5 317.6 223.1 317.3 223.6 316.9 224.2 316.6 224.8 316.4 225.3 316.2 225.9 316.0 226.5 315.9 227.0 315.7 227.6 315.6 228.2 315.4 228.7 315.3 229.3 315.2 229.9 315.1 230.4 315.1 231.0 315.1 231.6 315.1 232.1 315.2 232.7 315.3 233.2 315.5 233.8 315.6 234.4 315.8 234.9 316.0 235.5 316.2 236.1 316.4 236.6 316.6 237.2 316.7 237.8 316.9 238.3 317.0 238.9 317.2 239.5 317.4 240.0 317.5 240.6 317.7 241.2 317.9 241.7 318.0 242.3 318.1 242.9 318.2 243.4 318.3 244.0 318.4 244.6 318.4 245.1 318.4 245.7 318.4 246.2 318.4 246.8 318.4 247.4 318.4 247.9 318.4 248.5 318.4 249.1 318.4 249.6 318.4 250.2 318.4 250.8 318.4 251.3 318.4 251.9 318.4 252.5 318.4 253.0 318.3 253.6 318.3 254.2 318.2 254.7 318.1 255.3 318.1 255.9 318.0 256.4 317.9 257.0 317.8 257.5 317.7 258.1 317.6 258.7 317.6 259.2 317.5 259.8 317.5 260.4 317.5 260.9 317.5 261.5 317.4 262.1 317.4 262.6 317.4 263.2 317.3 263.8 317.3 264.3 317.3 264.9 317.3 265.5 317.3 266.0 317.3 266.6 317.3 267.2 317.3 267.7 317.3 268.3 317.3 268.9 317.3 269.4 317.3 270.0 317.3 270.5 317.4 271.1 317.4 271.7 317.4 272.2 317.4 272.8 317.5 273.4 317.5" stroke="#c8234f" stroke-width="2" stroke-dasharray="7.4 3.2"/>
</g>
<path d="M188.88 350.70 v-3.50 M188.88 262.30 v3.50 M225.62 350.70 v-3.50 M225.62 262.30 v3.50 M262.35 350.70 v-3.50 M262.35 262.30 v3.50 M181.54 350.70 v-2.00 M181.54 262.30 v2.00 M196.23 350.70 v-2.00 M196.23 262.30 v2.00 M203.58 350.70 v-2.00 M203.58 262.30 v2.00 M210.92 350.70 v-2.00 M210.92 262.30 v2.00 M218.27 350.70 v-2.00 M218.27 262.30 v2.00 M232.97 350.70 v-2.00 M232.97 262.30 v2.00 M240.31 350.70 v-2.00 M240.31 262.30 v2.00 M247.66 350.70 v-2.00 M247.66 262.30 v2.00 M255.01 350.70 v-2.00 M255.01 262.30 v2.00 M269.70 350.70 v-2.00 M269.70 262.30 v2.00 M179.70 345.18 h3.50 M269.70 345.18 h-3.50 M179.70 289.93 h3.50 M269.70 289.93 h-3.50 M179.70 331.36 h2.00 M269.70 331.36 h-2.00 M179.70 317.55 h2.00 M269.70 317.55 h-2.00 M179.70 303.74 h2.00 M269.70 303.74 h-2.00 M179.70 276.11 h2.00 M269.70 276.11 h-2.00 M179.70 262.30 h2.00 M269.70 262.30 h-2.00" stroke="#111" stroke-width="0.8" fill="none"/>
<rect x="179.70" y="262.30" width="90.00" height="88.40" fill="none" stroke="#111" stroke-width="1"/>
<text x="188.88" y="362.50" text-anchor="middle" font-size="13.3">1</text>
<text x="225.62" y="362.50" text-anchor="middle" font-size="13.3">2</text>
<text x="262.35" y="362.50" text-anchor="middle" font-size="13.3">3</text>
<text x="178.10" y="350.18" text-anchor="end" font-size="13.3">0</text>
<text x="178.10" y="294.93" text-anchor="end" font-size="13.3">2</text>
<rect x="304.30" y="262.30" width="90.00" height="88.40" fill="#e6efe4"/>
<g clip-path="url(#c22)" fill="none" stroke-linejoin="round">
<path d="M302.5 345.2L303.0 345.2 303.6 345.2 304.2 345.2 304.7 345.2 305.3 345.2 305.9 345.2 306.4 345.2 307.0 345.2 307.5 345.2 308.1 345.2 308.7 345.2 309.2 345.2 309.8 345.1 310.4 344.8 310.9 344.2 311.5 342.6 312.1 338.8 312.6 333.8 313.2 328.0 313.8 319.7 314.3 310.8 314.9 303.0 315.5 295.6 316.0 289.7 316.6 286.5 317.2 284.1 317.7 283.3 318.3 284.0 318.9 285.6 319.4 287.4 320.0 289.4 320.5 291.8 321.1 294.5 321.7 297.3 322.2 300.0 322.8 302.3 323.4 304.4 323.9 306.5 324.5 308.5 325.1 310.4 325.6 312.1 326.2 313.6 326.8 314.8 327.3 316.1 327.9 317.2 328.5 318.3 329.0 319.3 329.6 320.2 330.2 320.9 330.7 321.5 331.3 322.0 331.9 322.5 332.4 322.9 333.0 323.4 333.5 323.7 334.1 324.0 334.7 324.3 335.2 324.4 335.8 324.4 336.4 324.4 336.9 324.2 337.5 324.1 338.1 323.8 338.6 323.6 339.2 323.3 339.8 323.0 340.3 322.6 340.9 322.3 341.5 322.0 342.0 321.6 342.6 321.2 343.2 320.7 343.7 320.2 344.3 319.6 344.8 319.1 345.4 318.5 346.0 318.0 346.5 317.5 347.1 317.0 347.7 316.6 348.2 316.3 348.8 315.9 349.4 315.5 349.9 315.1 350.5 314.7 351.1 314.3 351.6 314.0 352.2 313.7 352.8 313.5 353.3 313.3 353.9 313.2 354.5 313.1 355.0 313.2 355.6 313.3 356.2 313.5 356.7 313.7 357.3 314.0 357.8 314.2 358.4 314.5 359.0 314.8 359.5 315.1 360.1 315.3 360.7 315.6 361.2 316.0 361.8 316.3 362.4 316.7 362.9 317.0 363.5 317.4 364.1 317.7 364.6 318.0 365.2 318.3 365.8 318.5 366.3 318.7 366.9 318.9 367.5 319.0 368.0 319.2 368.6 319.3 369.2 319.5 369.7 319.6 370.3 319.7 370.8 319.7 371.4 319.8 372.0 319.8 372.5 319.7 373.1 319.7 373.7 319.6 374.2 319.4 374.8 319.3 375.4 319.1 375.9 318.9 376.5 318.8 377.1 318.6 377.6 318.5 378.2 318.3 378.8 318.2 379.3 318.0 379.9 317.8 380.5 317.6 381.0 317.4 381.6 317.2 382.1 317.1 382.7 316.9 383.3 316.8 383.8 316.8 384.4 316.7 385.0 316.7 385.5 316.7 386.1 316.7 386.7 316.7 387.2 316.7 387.8 316.7 388.4 316.7 388.9 316.7 389.5 316.7 390.1 316.7 390.6 316.7 391.2 316.7 391.8 316.7 392.3 316.8 392.9 316.8 393.5 316.8 394.0 316.8 394.6 316.9 395.1 316.9 395.7 317.0 396.3 317.0 396.8 317.1 397.4 317.1 398.0 317.2" stroke="#f3a10f" stroke-width="3.9"/>
<path d="M302.5 345.2L303.0 345.2 303.6 345.2 304.2 345.2 304.7 345.2 305.3 345.2 305.9 345.2 306.4 345.2 307.0 345.2 307.5 345.2 308.1 345.2 308.7 345.2 309.2 345.2 309.8 345.0 310.4 344.5 310.9 343.7 311.5 340.8 312.1 336.2 312.6 330.9 313.2 323.9 313.8 315.1 314.3 306.6 314.9 299.3 315.5 292.5 316.0 288.3 316.6 285.6 317.2 284.0 317.7 284.0 318.3 285.3 318.9 287.0 319.4 288.8 320.0 291.0 320.5 293.5 321.1 296.2 321.7 299.0 322.2 301.5 322.8 303.6 323.4 305.7 323.9 307.7 324.5 309.6 325.1 311.3 325.6 312.9 326.2 314.3 326.8 315.5 327.3 316.7 327.9 317.8 328.5 318.8 329.0 319.7 329.6 320.5 330.2 321.2 330.7 321.8 331.3 322.2 331.9 322.7 332.4 323.1 333.0 323.5 333.5 323.9 334.1 324.1 334.7 324.3 335.2 324.4 335.8 324.4 336.4 324.3 336.9 324.1 337.5 323.9 338.1 323.7 338.6 323.4 339.2 323.1 339.8 322.8 340.3 322.5 340.9 322.2 341.5 321.9 342.0 321.5 342.6 321.0 343.2 320.5 343.7 320.0 344.3 319.5 344.8 318.9 345.4 318.4 346.0 317.9 346.5 317.4 347.1 317.0 347.7 316.6 348.2 316.3 348.8 315.9 349.4 315.5 349.9 315.1 350.5 314.8 351.1 314.4 351.6 314.1 352.2 313.9 352.8 313.7 353.3 313.5 353.9 313.5 354.5 313.5 355.0 313.6 355.6 313.7 356.2 313.9 356.7 314.1 357.3 314.4 357.8 314.7 358.4 315.0 359.0 315.2 359.5 315.5 360.1 315.8 360.7 316.1 361.2 316.4 361.8 316.8 362.4 317.1 362.9 317.5 363.5 317.8 364.1 318.2 364.6 318.4 365.2 318.7 365.8 318.9 366.3 319.0 366.9 319.2 367.5 319.4 368.0 319.5 368.6 319.7 369.2 319.8 369.7 319.9 370.3 319.9 370.8 320.0 371.4 320.0 372.0 320.0 372.5 319.9 373.1 319.8 373.7 319.7 374.2 319.6 374.8 319.4 375.4 319.3 375.9 319.1 376.5 318.9 377.1 318.8 377.6 318.6 378.2 318.5 378.8 318.3 379.3 318.2 379.9 318.0 380.5 317.8 381.0 317.6 381.6 317.4 382.1 317.3 382.7 317.2 383.3 317.1 383.8 317.0 384.4 317.0 385.0 317.0 385.5 317.0 386.1 317.0 386.7 317.0 387.2 317.0 387.8 317.0 388.4 317.0 388.9 317.0 389.5 317.0 390.1 317.0 390.6 317.0 391.2 317.0 391.8 317.0 392.3 317.1 392.9 317.1 393.5 317.1 394.0 317.1 394.6 317.2 395.1 317.2 395.7 317.3 396.3 317.3 396.8 317.4 397.4 317.4 398.0 317.5" stroke="#2a7fd8" stroke-width="2.2" stroke-opacity="0.5"/>
<path d="M302.5 345.2L303.0 345.2 303.6 345.2 304.2 345.2 304.7 345.2 305.3 345.2 305.9 345.2 306.4 345.2 307.0 345.2 307.5 345.2 308.1 345.2 308.7 345.2 309.2 345.2 309.8 345.1 310.4 344.7 310.9 344.0 311.5 341.8 312.1 337.5 312.6 332.4 313.2 326.0 313.8 317.4 314.3 308.6 314.9 301.2 315.5 294.0 316.0 288.9 316.6 286.0 317.2 284.0 317.7 283.6 318.3 284.6 318.9 286.3 319.4 288.1 320.0 290.1 320.5 292.6 321.1 295.4 321.7 298.1 322.2 300.7 322.8 303.0 323.4 305.1 323.9 307.1 324.5 309.0 325.1 310.8 325.6 312.5 326.2 313.9 326.8 315.2 327.3 316.4 327.9 317.5 328.5 318.6 329.0 319.5 329.6 320.4 330.2 321.1 330.7 321.7 331.3 322.1 331.9 322.6 332.4 323.1 333.0 323.5 333.5 323.8 334.1 324.1 334.7 324.3 335.2 324.4 335.8 324.4 336.4 324.3 336.9 324.2 337.5 324.0 338.1 323.8 338.6 323.5 339.2 323.2 339.8 322.9 340.3 322.6 340.9 322.3 341.5 322.0 342.0 321.6 342.6 321.1 343.2 320.7 343.7 320.1 344.3 319.6 344.8 319.1 345.4 318.5 346.0 318.0 346.5 317.5 347.1 317.1 347.7 316.7 348.2 316.3 348.8 316.0 349.4 315.6 349.9 315.2 350.5 314.8 351.1 314.5 351.6 314.2 352.2 313.9 352.8 313.7 353.3 313.5 353.9 313.4 354.5 313.4 355.0 313.5 355.6 313.6 356.2 313.8 356.7 314.1 357.3 314.3 357.8 314.6 358.4 314.9 359.0 315.2 359.5 315.4 360.1 315.7 360.7 316.0 361.2 316.3 361.8 316.7 362.4 317.0 362.9 317.4 363.5 317.7 364.1 318.1 364.6 318.4 365.2 318.6 365.8 318.8 366.3 319.0 366.9 319.2 367.5 319.3 368.0 319.5 368.6 319.6 369.2 319.8 369.7 319.9 370.3 319.9 370.8 320.0 371.4 320.0 372.0 320.0 372.5 320.0 373.1 319.9 373.7 319.8 374.2 319.6 374.8 319.5 375.4 319.3 375.9 319.2 376.5 319.0 377.1 318.8 377.6 318.7 378.2 318.5 378.8 318.4 379.3 318.2 379.9 318.0 380.5 317.8 381.0 317.6 381.6 317.5 382.1 317.3 382.7 317.2 383.3 317.1 383.8 317.0 384.4 317.0 385.0 317.0 385.5 317.0 386.1 317.0 386.7 317.0 387.2 317.0 387.8 317.0 388.4 317.0 388.9 317.0 389.5 317.0 390.1 317.0 390.6 317.0 391.2 317.0 391.8 317.0 392.3 317.0 392.9 317.1 393.5 317.1 394.0 317.1 394.6 317.2 395.1 317.2 395.7 317.3 396.3 317.3 396.8 317.3 397.4 317.4 398.0 317.4" stroke="#2a7fd8" stroke-width="2.2" stroke-opacity="0.5"/>
<path d="M302.5 345.2L303.0 345.2 303.6 345.2 304.2 345.2 304.7 345.2 305.3 345.2 305.9 345.2 306.4 345.2 307.0 345.2 307.5 345.2 308.1 345.2 308.7 345.2 309.2 345.2 309.8 345.1 310.4 344.7 310.9 344.0 311.5 341.7 312.1 337.4 312.6 332.2 313.2 325.8 313.8 317.1 314.3 308.3 314.9 300.8 315.5 293.5 316.0 288.5 316.6 285.6 317.2 283.6 317.7 283.3 318.3 284.4 318.9 286.1 319.4 287.9 320.0 290.0 320.5 292.5 321.1 295.3 321.7 298.1 322.2 300.7 322.8 302.9 323.4 305.0 323.9 307.1 324.5 309.0 325.1 310.9 325.6 312.5 326.2 314.0 326.8 315.2 327.3 316.4 327.9 317.6 328.5 318.6 329.0 319.6 329.6 320.4 330.2 321.1 330.7 321.7 331.3 322.2 331.9 322.7 332.4 323.1 333.0 323.5 333.5 323.9 334.1 324.1 334.7 324.3 335.2 324.5 335.8 324.5 336.4 324.4 336.9 324.2 337.5 324.1 338.1 323.8 338.6 323.5 339.2 323.3 339.8 322.9 340.3 322.6 340.9 322.3 341.5 322.0 342.0 321.6 342.6 321.1 343.2 320.7 343.7 320.1 344.3 319.6 344.8 319.1 345.4 318.5 346.0 318.0 346.5 317.5 347.1 317.1 347.7 316.7 348.2 316.3 348.8 315.9 349.4 315.6 349.9 315.2 350.5 314.8 351.1 314.5 351.6 314.2 352.2 313.9 352.8 313.7 353.3 313.5 353.9 313.4 354.5 313.4 355.0 313.5 355.6 313.6 356.2 313.8 356.7 314.0 357.3 314.3 357.8 314.6 358.4 314.9 359.0 315.2 359.5 315.4 360.1 315.7 360.7 316.0 361.2 316.3 361.8 316.7 362.4 317.1 362.9 317.4 363.5 317.8 364.1 318.1 364.6 318.4 365.2 318.6 365.8 318.9 366.3 319.0 366.9 319.2 367.5 319.4 368.0 319.5 368.6 319.6 369.2 319.8 369.7 319.9 370.3 320.0 370.8 320.0 371.4 320.0 372.0 320.0 372.5 320.0 373.1 319.9 373.7 319.8 374.2 319.6 374.8 319.5 375.4 319.3 375.9 319.2 376.5 319.0 377.1 318.8 377.6 318.7 378.2 318.5 378.8 318.4 379.3 318.2 379.9 318.0 380.5 317.8 381.0 317.6 381.6 317.5 382.1 317.3 382.7 317.2 383.3 317.1 383.8 317.0 384.4 317.0 385.0 317.0 385.5 317.0 386.1 317.0 386.7 317.0 387.2 317.0 387.8 317.0 388.4 317.0 388.9 317.0 389.5 317.0 390.1 317.0 390.6 317.0 391.2 317.0 391.8 317.0 392.3 317.0 392.9 317.1 393.5 317.1 394.0 317.1 394.6 317.2 395.1 317.2 395.7 317.3 396.3 317.3 396.8 317.3 397.4 317.4 398.0 317.4" stroke="#2a7fd8" stroke-width="2.2" stroke-opacity="0.5"/>
<path d="M302.5 345.2L303.0 345.2 303.6 345.2 304.2 345.2 304.7 345.2 305.3 345.2 305.9 345.2 306.4 345.2 307.0 345.2 307.5 345.2 308.1 345.2 308.7 345.2 309.2 345.2 309.8 345.1 310.4 344.7 310.9 344.0 311.5 341.6 312.1 337.3 312.6 332.1 313.2 325.5 313.8 316.7 314.3 307.9 314.9 300.3 315.5 293.1 316.0 288.2 316.6 285.3 317.2 283.3 317.7 283.1 318.3 284.2 318.9 285.9 319.4 287.7 320.0 289.9 320.5 292.4 321.1 295.2 321.7 298.0 322.2 300.7 322.8 302.9 323.4 305.0 323.9 307.1 324.5 309.1 325.1 310.9 325.6 312.5 326.2 314.0 326.8 315.2 327.3 316.5 327.9 317.6 328.5 318.7 329.0 319.6 329.6 320.5 330.2 321.2 330.7 321.7 331.3 322.2 331.9 322.7 332.4 323.1 333.0 323.6 333.5 323.9 334.1 324.2 334.7 324.4 335.2 324.5 335.8 324.5 336.4 324.4 336.9 324.3 337.5 324.1 338.1 323.8 338.6 323.6 339.2 323.3 339.8 323.0 340.3 322.6 340.9 322.3 341.5 322.0 342.0 321.6 342.6 321.2 343.2 320.7 343.7 320.1 344.3 319.6 344.8 319.0 345.4 318.5 346.0 318.0 346.5 317.5 347.1 317.1 347.7 316.7 348.2 316.3 348.8 315.9 349.4 315.5 349.9 315.1 350.5 314.8 351.1 314.4 351.6 314.1 352.2 313.8 352.8 313.6 353.3 313.5 353.9 313.4 354.5 313.4 355.0 313.5 355.6 313.6 356.2 313.8 356.7 314.0 357.3 314.3 357.8 314.6 358.4 314.9 359.0 315.1 359.5 315.4 360.1 315.7 360.7 316.0 361.2 316.4 361.8 316.7 362.4 317.1 362.9 317.4 363.5 317.8 364.1 318.1 364.6 318.4 365.2 318.7 365.8 318.9 366.3 319.0 366.9 319.2 367.5 319.4 368.0 319.5 368.6 319.7 369.2 319.8 369.7 319.9 370.3 320.0 370.8 320.0 371.4 320.1 372.0 320.0 372.5 320.0 373.1 319.9 373.7 319.8 374.2 319.6 374.8 319.5 375.4 319.3 375.9 319.2 376.5 319.0 377.1 318.8 377.6 318.7 378.2 318.5 378.8 318.4 379.3 318.2 379.9 318.0 380.5 317.8 381.0 317.6 381.6 317.5 382.1 317.3 382.7 317.2 383.3 317.1 383.8 317.0 384.4 317.0 385.0 317.0 385.5 317.0 386.1 317.0 386.7 317.0 387.2 317.0 387.8 317.0 388.4 317.0 388.9 317.0 389.5 317.0 390.1 317.0 390.6 317.0 391.2 317.0 391.8 317.0 392.3 317.0 392.9 317.1 393.5 317.1 394.0 317.1 394.6 317.2 395.1 317.2 395.7 317.3 396.3 317.3 396.8 317.3 397.4 317.4 398.0 317.4" stroke="#2a7fd8" stroke-width="2.2" stroke-opacity="0.5"/>
<path d="M302.5 345.2L303.0 345.2 303.6 345.2 304.2 345.2 304.7 345.2 305.3 345.2 305.9 345.2 306.4 345.2 307.0 345.2 307.5 345.2 308.1 345.2 308.7 345.2 309.2 345.2 309.8 345.1 310.4 344.7 310.9 344.0 311.5 341.5 312.1 337.2 312.6 332.0 313.2 325.2 313.8 316.4 314.3 307.5 314.9 299.9 315.5 292.7 316.0 287.8 316.6 284.9 317.2 283.0 317.7 282.8 318.3 283.9 318.9 285.7 319.4 287.6 320.0 289.7 320.5 292.3 321.1 295.2 321.7 298.0 322.2 300.6 322.8 302.9 323.4 305.0 323.9 307.1 324.5 309.1 325.1 310.9 325.6 312.6 326.2 314.0 326.8 315.3 327.3 316.5 327.9 317.6 328.5 318.7 329.0 319.7 329.6 320.5 330.2 321.2 330.7 321.8 331.3 322.3 331.9 322.7 332.4 323.2 333.0 323.6 333.5 324.0 334.1 324.2 334.7 324.4 335.2 324.5 335.8 324.5 336.4 324.4 336.9 324.3 337.5 324.1 338.1 323.9 338.6 323.6 339.2 323.3 339.8 323.0 340.3 322.7 340.9 322.3 341.5 322.0 342.0 321.6 342.6 321.2 343.2 320.7 343.7 320.1 344.3 319.6 344.8 319.0 345.4 318.5 346.0 318.0 346.5 317.5 347.1 317.0 347.7 316.7 348.2 316.3 348.8 315.9 349.4 315.5 349.9 315.1 350.5 314.7 351.1 314.4 351.6 314.1 352.2 313.8 352.8 313.6 353.3 313.4 353.9 313.4 354.5 313.4 355.0 313.4 355.6 313.6 356.2 313.8 356.7 314.0 357.3 314.3 357.8 314.6 358.4 314.9 359.0 315.1 359.5 315.4 360.1 315.7 360.7 316.0 361.2 316.4 361.8 316.7 362.4 317.1 362.9 317.4 363.5 317.8 364.1 318.1 364.6 318.4 365.2 318.7 365.8 318.9 366.3 319.1 366.9 319.2 367.5 319.4 368.0 319.5 368.6 319.7 369.2 319.8 369.7 319.9 370.3 320.0 370.8 320.0 371.4 320.1 372.0 320.0 372.5 320.0 373.1 319.9 373.7 319.8 374.2 319.6 374.8 319.5 375.4 319.3 375.9 319.2 376.5 319.0 377.1 318.8 377.6 318.7 378.2 318.5 378.8 318.4 379.3 318.2 379.9 318.0 380.5 317.8 381.0 317.6 381.6 317.5 382.1 317.3 382.7 317.2 383.3 317.1 383.8 317.0 384.4 317.0 385.0 317.0 385.5 317.0 386.1 317.0 386.7 317.0 387.2 317.0 387.8 317.0 388.4 317.0 388.9 317.0 389.5 317.0 390.1 317.0 390.6 317.0 391.2 317.0 391.8 317.0 392.3 317.0 392.9 317.1 393.5 317.1 394.0 317.1 394.6 317.2 395.1 317.2 395.7 317.3 396.3 317.3 396.8 317.3 397.4 317.4 398.0 317.4" stroke="#2a7fd8" stroke-width="2.2" stroke-opacity="0.5"/>
<path d="M302.5 345.2L303.0 345.2 303.6 345.2 304.2 345.2 304.7 345.2 305.3 345.2 305.9 345.2 306.4 345.2 307.0 345.2 307.5 345.2 308.1 345.2 308.7 345.2 309.2 345.2 309.8 345.1 310.4 344.6 310.9 343.9 311.5 341.4 312.1 337.0 312.6 331.8 313.2 325.0 313.8 316.0 314.3 307.2 314.9 299.5 315.5 292.2 316.0 287.5 316.6 284.5 317.2 282.6 317.7 282.5 318.3 283.7 318.9 285.5 319.4 287.4 320.0 289.6 320.5 292.3 321.1 295.1 321.7 298.0 322.2 300.6 322.8 302.9 323.4 305.0 323.9 307.1 324.5 309.1 325.1 310.9 325.6 312.6 326.2 314.0 326.8 315.3 327.3 316.5 327.9 317.7 328.5 318.7 329.0 319.7 329.6 320.5 330.2 321.3 330.7 321.8 331.3 322.3 331.9 322.8 332.4 323.2 333.0 323.6 333.5 324.0 334.1 324.3 334.7 324.5 335.2 324.6 335.8 324.6 336.4 324.5 336.9 324.3 337.5 324.1 338.1 323.9 338.6 323.6 339.2 323.3 339.8 323.0 340.3 322.7 340.9 322.4 341.5 322.0 342.0 321.6 342.6 321.2 343.2 320.6 343.7 320.1 344.3 319.6 344.8 319.0 345.4 318.5 346.0 317.9 346.5 317.5 347.1 317.0 347.7 316.6 348.2 316.3 348.8 315.9 349.4 315.5 349.9 315.1 350.5 314.7 351.1 314.4 351.6 314.1 352.2 313.8 352.8 313.6 353.3 313.4 353.9 313.3 354.5 313.3 355.0 313.4 355.6 313.6 356.2 313.8 356.7 314.0 357.3 314.3 357.8 314.6 358.4 314.9 359.0 315.1 359.5 315.4 360.1 315.7 360.7 316.0 361.2 316.4 361.8 316.7 362.4 317.1 362.9 317.5 363.5 317.8 364.1 318.1 364.6 318.4 365.2 318.7 365.8 318.9 366.3 319.1 366.9 319.2 367.5 319.4 368.0 319.6 368.6 319.7 369.2 319.8 369.7 319.9 370.3 320.0 370.8 320.1 371.4 320.1 372.0 320.1 372.5 320.0 373.1 319.9 373.7 319.8 374.2 319.7 374.8 319.5 375.4 319.3 375.9 319.2 376.5 319.0 377.1 318.8 377.6 318.7 378.2 318.5 378.8 318.4 379.3 318.2 379.9 318.0 380.5 317.8 381.0 317.6 381.6 317.4 382.1 317.3 382.7 317.2 383.3 317.1 383.8 317.0 384.4 317.0 385.0 317.0 385.5 317.0 386.1 317.0 386.7 317.0 387.2 317.0 387.8 317.0 388.4 317.0 388.9 317.0 389.5 317.0 390.1 317.0 390.6 317.0 391.2 317.0 391.8 317.0 392.3 317.0 392.9 317.1 393.5 317.1 394.0 317.1 394.6 317.2 395.1 317.2 395.7 317.3 396.3 317.3 396.8 317.3 397.4 317.4 398.0 317.5" stroke="#2a7fd8" stroke-width="2.2" stroke-opacity="0.5"/>
<path d="M302.5 345.2L303.0 345.2 303.6 345.2 304.2 345.2 304.7 345.2 305.3 345.2 305.9 345.2 306.4 345.2 307.0 345.2 307.5 345.2 308.1 345.2 308.7 345.2 309.2 345.2 309.8 345.1 310.4 344.6 310.9 343.9 311.5 341.3 312.1 336.9 312.6 331.7 313.2 324.7 313.8 315.7 314.3 306.8 314.9 299.1 315.5 291.8 316.0 287.1 316.6 284.2 317.2 282.3 317.7 282.3 318.3 283.5 318.9 285.3 319.4 287.2 320.0 289.5 320.5 292.2 321.1 295.0 321.7 297.9 322.2 300.6 322.8 302.9 323.4 305.0 323.9 307.1 324.5 309.1 325.1 311.0 325.6 312.6 326.2 314.1 326.8 315.3 327.3 316.6 327.9 317.7 328.5 318.8 329.0 319.7 329.6 320.6 330.2 321.3 330.7 321.9 331.3 322.4 331.9 322.8 332.4 323.3 333.0 323.7 333.5 324.0 334.1 324.3 334.7 324.5 335.2 324.6 335.8 324.6 336.4 324.5 336.9 324.3 337.5 324.1 338.1 323.9 338.6 323.6 339.2 323.3 339.8 323.0 340.3 322.7 340.9 322.4 341.5 322.0 342.0 321.6 342.6 321.2 343.2 320.6 343.7 320.1 344.3 319.6 344.8 319.0 345.4 318.5 346.0 317.9 346.5 317.4 347.1 317.0 347.7 316.6 348.2 316.2 348.8 315.8 349.4 315.4 349.9 315.1 350.5 314.7 351.1 314.3 351.6 314.0 352.2 313.8 352.8 313.5 353.3 313.4 353.9 313.3 354.5 313.3 355.0 313.4 355.6 313.5 356.2 313.7 356.7 314.0 357.3 314.3 357.8 314.6 358.4 314.9 359.0 315.1 359.5 315.4 360.1 315.7 360.7 316.0 361.2 316.4 361.8 316.7 362.4 317.1 362.9 317.5 363.5 317.8 364.1 318.1 364.6 318.4 365.2 318.7 365.8 318.9 366.3 319.1 366.9 319.3 367.5 319.4 368.0 319.6 368.6 319.7 369.2 319.8 369.7 319.9 370.3 320.0 370.8 320.1 371.4 320.1 372.0 320.1 372.5 320.0 373.1 319.9 373.7 319.8 374.2 319.7 374.8 319.5 375.4 319.3 375.9 319.2 376.5 319.0 377.1 318.8 377.6 318.7 378.2 318.5 378.8 318.4 379.3 318.2 379.9 318.0 380.5 317.8 381.0 317.6 381.6 317.4 382.1 317.3 382.7 317.2 383.3 317.1 383.8 317.0 384.4 317.0 385.0 317.0 385.5 317.0 386.1 317.0 386.7 317.0 387.2 317.0 387.8 317.0 388.4 317.0 388.9 317.0 389.5 317.0 390.1 317.0 390.6 317.0 391.2 317.0 391.8 317.0 392.3 317.0 392.9 317.1 393.5 317.1 394.0 317.1 394.6 317.2 395.1 317.2 395.7 317.3 396.3 317.3 396.8 317.3 397.4 317.4 398.0 317.5" stroke="#2a7fd8" stroke-width="2.2" stroke-opacity="0.5"/>
<path d="M302.5 345.2L303.0 345.2 303.6 345.2 304.2 345.2 304.7 345.2 305.3 345.2 305.9 345.2 306.4 345.2 307.0 345.2 307.5 345.2 308.1 345.2 308.7 345.2 309.2 345.2 309.8 345.1 310.4 344.6 310.9 343.9 311.5 341.2 312.1 336.8 312.6 331.5 313.2 324.4 313.8 315.3 314.3 306.4 314.9 298.7 315.5 291.4 316.0 286.8 316.6 283.8 317.2 282.0 317.7 282.0 318.3 283.3 318.9 285.2 319.4 287.1 320.0 289.4 320.5 292.1 321.1 295.0 321.7 297.9 322.2 300.6 322.8 302.8 323.4 305.0 323.9 307.1 324.5 309.1 325.1 311.0 325.6 312.7 326.2 314.1 326.8 315.4 327.3 316.6 327.9 317.8 328.5 318.8 329.0 319.8 329.6 320.6 330.2 321.3 330.7 321.9 331.3 322.4 331.9 322.9 332.4 323.3 333.0 323.7 333.5 324.1 334.1 324.4 334.7 324.5 335.2 324.6 335.8 324.6 336.4 324.5 336.9 324.4 337.5 324.2 338.1 323.9 338.6 323.6 339.2 323.3 339.8 323.0 340.3 322.7 340.9 322.4 341.5 322.0 342.0 321.6 342.6 321.2 343.2 320.6 343.7 320.1 344.3 319.5 344.8 319.0 345.4 318.4 346.0 317.9 346.5 317.4 347.1 317.0 347.7 316.6 348.2 316.2 348.8 315.8 349.4 315.4 349.9 315.0 350.5 314.7 351.1 314.3 351.6 314.0 352.2 313.7 352.8 313.5 353.3 313.4 353.9 313.3 354.5 313.3 355.0 313.4 355.6 313.5 356.2 313.7 356.7 314.0 357.3 314.3 357.8 314.6 358.4 314.8 359.0 315.1 359.5 315.4 360.1 315.7 360.7 316.0 361.2 316.4 361.8 316.7 362.4 317.1 362.9 317.5 363.5 317.8 364.1 318.2 364.6 318.5 365.2 318.7 365.8 318.9 366.3 319.1 366.9 319.3 367.5 319.4 368.0 319.6 368.6 319.7 369.2 319.9 369.7 320.0 370.3 320.0 370.8 320.1 371.4 320.1 372.0 320.1 372.5 320.0 373.1 319.9 373.7 319.8 374.2 319.7 374.8 319.5 375.4 319.3 375.9 319.2 376.5 319.0 377.1 318.8 377.6 318.7 378.2 318.5 378.8 318.4 379.3 318.2 379.9 318.0 380.5 317.8 381.0 317.6 381.6 317.4 382.1 317.3 382.7 317.1 383.3 317.1 383.8 317.0 384.4 317.0 385.0 317.0 385.5 317.0 386.1 317.0 386.7 317.0 387.2 317.0 387.8 317.0 388.4 317.0 388.9 317.0 389.5 317.0 390.1 317.0 390.6 317.0 391.2 317.0 391.8 317.0 392.3 317.0 392.9 317.1 393.5 317.1 394.0 317.1 394.6 317.2 395.1 317.2 395.7 317.3 396.3 317.3 396.8 317.3 397.4 317.4 398.0 317.5" stroke="#2a7fd8" stroke-width="2.2" stroke-opacity="0.5"/>
<path d="M302.5 345.2L303.0 345.2 303.6 345.2 304.2 345.2 304.7 345.2 305.3 345.2 305.9 345.2 306.4 345.2 307.0 345.2 307.5 345.2 308.1 345.2 308.7 345.2 309.2 345.2 309.8 345.1 310.4 344.7 310.9 344.0 311.5 341.8 312.1 337.6 312.6 332.4 313.2 326.0 313.8 317.4 314.3 308.6 314.9 301.1 315.5 293.8 316.0 288.7 316.6 285.8 317.2 283.7 317.7 283.4 318.3 284.4 318.9 286.1 319.4 287.9 320.0 290.0 320.5 292.5 321.1 295.2 321.7 298.0 322.2 300.6 322.8 302.9 323.4 305.0 323.9 307.0 324.5 309.0 325.1 310.8 325.6 312.5 326.2 313.9 326.8 315.2 327.3 316.4 327.9 317.5 328.5 318.6 329.0 319.5 329.6 320.4 330.2 321.1 330.7 321.7 331.3 322.2 331.9 322.6 332.4 323.1 333.0 323.5 333.5 323.8 334.1 324.1 334.7 324.3 335.2 324.4 335.8 324.4 336.4 324.4 336.9 324.2 337.5 324.1 338.1 323.8 338.6 323.5 339.2 323.3 339.8 322.9 340.3 322.6 340.9 322.3 341.5 322.0 342.0 321.6 342.6 321.2 343.2 320.7 343.7 320.2 344.3 319.6 344.8 319.1 345.4 318.5 346.0 318.0 346.5 317.5 347.1 317.1 347.7 316.7 348.2 316.3 348.8 316.0 349.4 315.6 349.9 315.2 350.5 314.8 351.1 314.5 351.6 314.2 352.2 313.9 352.8 313.7 353.3 313.5 353.9 313.4 354.5 313.4 355.0 313.5 355.6 313.6 356.2 313.8 356.7 314.0 357.3 314.3 357.8 314.6 358.4 314.9 359.0 315.1 359.5 315.4 360.1 315.7 360.7 316.0 361.2 316.3 361.8 316.7 362.4 317.0 362.9 317.4 363.5 317.8 364.1 318.1 364.6 318.4 365.2 318.6 365.8 318.9 366.3 319.0 366.9 319.2 367.5 319.3 368.0 319.5 368.6 319.6 369.2 319.8 369.7 319.9 370.3 320.0 370.8 320.0 371.4 320.0 372.0 320.0 372.5 320.0 373.1 319.9 373.7 319.8 374.2 319.6 374.8 319.5 375.4 319.3 375.9 319.2 376.5 319.0 377.1 318.8 377.6 318.7 378.2 318.5 378.8 318.4 379.3 318.2 379.9 318.0 380.5 317.8 381.0 317.7 381.6 317.5 382.1 317.3 382.7 317.2 383.3 317.1 383.8 317.0 384.4 317.0 385.0 317.0 385.5 317.0 386.1 317.0 386.7 317.0 387.2 317.0 387.8 317.0 388.4 317.0 388.9 317.0 389.5 317.0 390.1 317.0 390.6 317.0 391.2 317.0 391.8 317.0 392.3 317.0 392.9 317.1 393.5 317.1 394.0 317.1 394.6 317.2 395.1 317.2 395.7 317.2 396.3 317.3 396.8 317.3 397.4 317.4 398.0 317.4" stroke="#c8234f" stroke-width="2" stroke-dasharray="7.4 3.2"/>
</g>
<path d="M313.48 350.70 v-3.50 M313.48 262.30 v3.50 M350.22 350.70 v-3.50 M350.22 262.30 v3.50 M386.95 350.70 v-3.50 M386.95 262.30 v3.50 M306.14 350.70 v-2.00 M306.14 262.30 v2.00 M320.83 350.70 v-2.00 M320.83 262.30 v2.00 M328.18 350.70 v-2.00 M328.18 262.30 v2.00 M335.52 350.70 v-2.00 M335.52 262.30 v2.00 M342.87 350.70 v-2.00 M342.87 262.30 v2.00 M357.57 350.70 v-2.00 M357.57 262.30 v2.00 M364.91 350.70 v-2.00 M364.91 262.30 v2.00 M372.26 350.70 v-2.00 M372.26 262.30 v2.00 M379.61 350.70 v-2.00 M379.61 262.30 v2.00 M394.30 350.70 v-2.00 M394.30 262.30 v2.00 M304.30 345.18 h3.50 M394.30 345.18 h-3.50 M304.30 289.93 h3.50 M394.30 289.93 h-3.50 M304.30 331.36 h2.00 M394.30 331.36 h-2.00 M304.30 317.55 h2.00 M394.30 317.55 h-2.00 M304.30 303.74 h2.00 M394.30 303.74 h-2.00 M304.30 276.11 h2.00 M394.30 276.11 h-2.00 M304.30 262.30 h2.00 M394.30 262.30 h-2.00" stroke="#111" stroke-width="0.8" fill="none"/>
<rect x="304.30" y="262.30" width="90.00" height="88.40" fill="none" stroke="#111" stroke-width="1"/>
<text x="313.48" y="362.50" text-anchor="middle" font-size="13.3">1</text>
<text x="350.22" y="362.50" text-anchor="middle" font-size="13.3">2</text>
<text x="386.95" y="362.50" text-anchor="middle" font-size="13.3">3</text>
<text x="302.70" y="350.18" text-anchor="end" font-size="13.3">0</text>
<text x="302.70" y="294.93" text-anchor="end" font-size="13.3">2</text>
<g clip-path="url(#c23)" fill="none" stroke-linejoin="round">
<path d="M434.5 12.1L435.2 80.9 435.8 135.4 436.5 178.6 437.2 212.9 437.9 240.2 438.6 261.8 439.3 278.8 440.0 292.3 440.7 303.0 441.4 311.3 442.1 317.9 442.8 322.1 443.5 324.0 444.2 325.5 444.9 326.6 445.6 327.4 446.2 327.9 446.9 328.3 447.6 328.5 448.3 328.6 449.0 328.6 449.7 328.5 450.4 328.4 451.1 328.2 451.8 328.0 452.5 327.8 453.2 327.5 453.9 327.2 454.6 327.0 455.3 326.7 456.0 326.4 456.7 326.1 457.3 325.8 458.0 325.4 458.7 325.1 459.4 324.8 460.1 324.5 460.8 324.2 461.5 323.9 462.2 323.6 462.9 323.3 463.6 323.0 464.3 322.7 465.0 322.4 465.7 322.2 466.4 321.9 467.1 321.7 467.8 321.5 468.4 321.2 469.1 321.0 469.8 320.8 470.5 320.6 471.2 320.4 471.9 320.3 472.6 320.1 473.3 319.9 474.0 319.7 474.7 319.6 475.4 319.4 476.1 319.3 476.8 319.2 477.5 319.0 478.2 318.9 478.9 318.8 479.5 318.7 480.2 318.6 480.9 318.5 481.6 318.4 482.3 318.3 483.0 318.3 483.7 318.2 484.4 318.2 485.1 318.1 485.8 318.1 486.5 318.1 487.2 318.1 487.9 318.1 488.6 318.1 489.3 318.1 490.0 318.1 490.6 318.1 491.3 318.1 492.0 318.2 492.7 318.2 493.4 318.3 494.1 318.3 494.8 318.4 495.5 318.5 496.2 318.5 496.9 318.6 497.6 318.7 498.3 318.8 499.0 318.8 499.7 318.9 500.4 319.0 501.1 319.1 501.7 319.2 502.4 319.3 503.1 319.4 503.8 319.5 504.5 319.5 505.2 319.6 505.9 319.7 506.6 319.8 507.3 319.9 508.0 320.0 508.7 320.0 509.4 320.1 510.1 320.2 510.8 320.3 511.5 320.3 512.2 320.4 512.8 320.5 513.5 320.5 514.2 320.6 514.9 320.6 515.6 320.7 516.3 320.7 517.0 320.8 517.7 320.8 518.4 320.9 519.1 320.9 519.8 320.9 520.5 321.0 521.2 321.0 521.9 321.0 522.6 321.0 523.2 321.1 523.9 321.1" stroke="#f3a10f" stroke-width="3.4"/>
<path d="M434.5 12.1L435.2 80.9 435.8 135.4 436.5 178.6 437.2 212.9 437.9 240.2 438.6 261.8 439.3 278.8 440.0 292.3 440.7 303.0 441.4 311.3 442.1 317.9 442.8 322.0 443.5 323.8 444.2 325.2 444.9 326.2 445.6 327.0 446.2 327.5 446.9 327.9 447.6 328.1 448.3 328.1 449.0 328.1 449.7 328.1 450.4 328.0 451.1 327.8 451.8 327.6 452.5 327.4 453.2 327.2 453.9 327.0 454.6 326.7 455.3 326.5 456.0 326.2 456.7 326.0 457.3 325.7 458.0 325.5 458.7 325.2 459.4 325.0 460.1 324.8 460.8 324.5 461.5 324.3 462.2 324.1 462.9 323.9 463.6 323.7 464.3 323.5 465.0 323.3 465.7 323.1 466.4 322.9 467.1 322.8 467.8 322.6 468.4 322.5 469.1 322.3 469.8 322.2 470.5 322.1 471.2 322.0 471.9 321.8 472.6 321.7 473.3 321.6 474.0 321.5 474.7 321.4 475.4 321.3 476.1 321.2 476.8 321.1 477.5 321.1 478.2 321.0 478.9 320.9 479.5 320.8 480.2 320.8 480.9 320.7 481.6 320.7 482.3 320.6 483.0 320.6 483.7 320.5 484.4 320.5 485.1 320.4 485.8 320.4 486.5 320.4 487.2 320.4 487.9 320.4 488.6 320.3 489.3 320.3 490.0 320.3 490.6 320.3 491.3 320.3 492.0 320.3 492.7 320.3 493.4 320.3 494.1 320.4 494.8 320.4 495.5 320.4 496.2 320.4 496.9 320.4 497.6 320.4 498.3 320.5 499.0 320.5 499.7 320.5 500.4 320.5 501.1 320.6 501.7 320.6 502.4 320.6 503.1 320.7 503.8 320.7 504.5 320.7 505.2 320.7 505.9 320.8 506.6 320.8 507.3 320.8 508.0 320.9 508.7 320.9 509.4 320.9 510.1 320.9 510.8 321.0 511.5 321.0 512.2 321.0 512.8 321.0 513.5 321.0 514.2 321.1 514.9 321.1 515.6 321.1 516.3 321.1 517.0 321.1 517.7 321.1 518.4 321.2 519.1 321.2 519.8 321.2 520.5 321.2 521.2 321.2 521.9 321.2 522.6 321.2 523.2 321.2 523.9 321.2" stroke="#f3a10f" stroke-width="3.4"/>
<path d="M434.5 225.9L435.2 250.5 435.8 269.9 436.5 285.3 437.2 297.4 437.9 307.0 438.6 314.5 439.3 320.3 440.0 325.8 440.7 330.3 441.4 333.6 442.1 336.1 442.8 337.9 443.5 339.1 444.2 339.8 444.9 340.2 445.6 340.4 446.2 340.3 446.9 340.1 447.6 339.7 448.3 339.2 449.0 338.7 449.7 338.2 450.4 337.5 451.1 336.9 451.8 336.2 452.5 335.5 453.2 334.8 453.9 334.0 454.6 333.3 455.3 332.5 456.0 331.7 456.7 330.8 457.3 330.0 458.0 329.1 458.7 328.1 459.4 327.2 460.1 326.2 460.8 325.2 461.5 324.1 462.2 323.0 462.9 322.0 463.6 320.9 464.3 319.8 465.0 318.8 465.7 317.8 466.4 316.8 467.1 315.9 467.8 315.1 468.4 314.4 469.1 313.6 469.8 312.9 470.5 312.2 471.2 311.6 471.9 310.9 472.6 310.3 473.3 309.8 474.0 309.2 474.7 308.7 475.4 308.3 476.1 307.9 476.8 307.5 477.5 307.2 478.2 306.9 478.9 306.7 479.5 306.5 480.2 306.4 480.9 306.4 481.6 306.3 482.3 306.4 483.0 306.4 483.7 306.6 484.4 306.7 485.1 306.9 485.8 307.2 486.5 307.5 487.2 307.8 487.9 308.1 488.6 308.5 489.3 308.9 490.0 309.4 490.6 309.8 491.3 310.3 492.0 310.7 492.7 311.2 493.4 311.7 494.1 312.2 494.8 312.7 495.5 313.2 496.2 313.7 496.9 314.2 497.6 314.6 498.3 315.1 499.0 315.5 499.7 315.9 500.4 316.4 501.1 316.8 501.7 317.1 502.4 317.5 503.1 317.8 503.8 318.1 504.5 318.4 505.2 318.7 505.9 319.0 506.6 319.2 507.3 319.5 508.0 319.7 508.7 319.9 509.4 320.0 510.1 320.2 510.8 320.3 511.5 320.5 512.2 320.6 512.8 320.7 513.5 320.8 514.2 320.9 514.9 320.9 515.6 321.0 516.3 321.1 517.0 321.1 517.7 321.2 518.4 321.2 519.1 321.2 519.8 321.3 520.5 321.3 521.2 321.3 521.9 321.3 522.6 321.3 523.2 321.3 523.9 321.4" stroke="#2a7fd8" stroke-width="1.3" stroke-opacity="0.5"/>
<path d="M434.5 225.9L435.2 250.5 435.8 269.9 436.5 285.3 437.2 297.4 437.9 307.0 438.6 314.5 439.3 320.3 440.0 326.4 440.7 331.3 441.4 335.1 442.1 337.8 442.8 339.8 443.5 341.1 444.2 342.0 444.9 342.4 445.6 342.6 446.2 342.5 446.9 342.2 447.6 341.8 448.3 341.3 449.0 340.7 449.7 340.1 450.4 339.4 451.1 338.7 451.8 338.0 452.5 337.2 453.2 336.4 453.9 335.6 454.6 334.8 455.3 334.0 456.0 333.2 456.7 332.4 457.3 331.5 458.0 330.6 458.7 329.7 459.4 328.8 460.1 327.9 460.8 326.9 461.5 326.0 462.2 325.0 462.9 324.0 463.6 323.0 464.3 322.1 465.0 321.2 465.7 320.3 466.4 319.4 467.1 318.6 467.8 317.9 468.4 317.2 469.1 316.6 469.8 315.9 470.5 315.3 471.2 314.7 471.9 314.2 472.6 313.6 473.3 313.1 474.0 312.6 474.7 312.2 475.4 311.8 476.1 311.4 476.8 311.1 477.5 310.8 478.2 310.6 478.9 310.3 479.5 310.2 480.2 310.1 480.9 310.0 481.6 309.9 482.3 309.9 483.0 310.0 483.7 310.0 484.4 310.1 485.1 310.3 485.8 310.5 486.5 310.7 487.2 310.9 487.9 311.2 488.6 311.5 489.3 311.8 490.0 312.1 490.6 312.5 491.3 312.8 492.0 313.2 492.7 313.5 493.4 313.9 494.1 314.3 494.8 314.7 495.5 315.1 496.2 315.5 496.9 315.8 497.6 316.2 498.3 316.5 499.0 316.9 499.7 317.2 500.4 317.5 501.1 317.8 501.7 318.1 502.4 318.4 503.1 318.7 503.8 318.9 504.5 319.2 505.2 319.4 505.9 319.6 506.6 319.8 507.3 320.0 508.0 320.1 508.7 320.3 509.4 320.4 510.1 320.5 510.8 320.6 511.5 320.7 512.2 320.8 512.8 320.9 513.5 321.0 514.2 321.0 514.9 321.1 515.6 321.1 516.3 321.2 517.0 321.2 517.7 321.3 518.4 321.3 519.1 321.3 519.8 321.3 520.5 321.4 521.2 321.4 521.9 321.4 522.6 321.4 523.2 321.4 523.9 321.4" stroke="#2a7fd8" stroke-width="1.3" stroke-opacity="0.5"/>
<path d="M434.5 225.9L435.2 250.5 435.8 269.9 436.5 285.3 437.2 297.4 437.9 307.0 438.6 314.5 439.3 320.3 440.0 326.0 440.7 330.6 441.4 334.1 442.1 336.7 442.8 338.5 443.5 339.8 444.2 340.6 444.9 341.0 445.6 341.1 446.2 341.0 446.9 340.8 447.6 340.4 448.3 339.9 449.0 339.4 449.7 338.8 450.4 338.2 451.1 337.5 451.8 336.8 452.5 336.1 453.2 335.4 453.9 334.7 454.6 333.9 455.3 333.2 456.0 332.4 456.7 331.7 457.3 330.9 458.0 330.1 458.7 329.3 459.4 328.4 460.1 327.6 460.8 326.7 461.5 325.9 462.2 325.0 462.9 324.1 463.6 323.3 464.3 322.4 465.0 321.6 465.7 320.8 466.4 320.0 467.1 319.3 467.8 318.7 468.4 318.1 469.1 317.5 469.8 316.9 470.5 316.4 471.2 315.8 471.9 315.3 472.6 314.9 473.3 314.4 474.0 314.0 474.7 313.6 475.4 313.2 476.1 312.9 476.8 312.6 477.5 312.3 478.2 312.1 478.9 311.9 479.5 311.8 480.2 311.7 480.9 311.6 481.6 311.5 482.3 311.5 483.0 311.6 483.7 311.6 484.4 311.7 485.1 311.8 485.8 312.0 486.5 312.2 487.2 312.4 487.9 312.6 488.6 312.8 489.3 313.1 490.0 313.4 490.6 313.7 491.3 314.0 492.0 314.3 492.7 314.6 493.4 314.9 494.1 315.3 494.8 315.6 495.5 315.9 496.2 316.3 496.9 316.6 497.6 316.9 498.3 317.2 499.0 317.5 499.7 317.8 500.4 318.1 501.1 318.3 501.7 318.6 502.4 318.8 503.1 319.1 503.8 319.3 504.5 319.5 505.2 319.7 505.9 319.8 506.6 320.0 507.3 320.2 508.0 320.3 508.7 320.4 509.4 320.5 510.1 320.6 510.8 320.7 511.5 320.8 512.2 320.9 512.8 321.0 513.5 321.0 514.2 321.1 514.9 321.1 515.6 321.2 516.3 321.2 517.0 321.3 517.7 321.3 518.4 321.3 519.1 321.3 519.8 321.3 520.5 321.4 521.2 321.4 521.9 321.4 522.6 321.4 523.2 321.4 523.9 321.4" stroke="#2a7fd8" stroke-width="1.3" stroke-opacity="0.5"/>
<path d="M434.5 225.9L435.2 250.5 435.8 269.9 436.5 285.3 437.2 297.4 437.9 307.0 438.6 314.5 439.3 320.3 440.0 326.7 440.7 332.0 441.4 336.0 442.1 339.0 442.8 341.1 443.5 342.5 444.2 343.4 444.9 343.9 445.6 344.1 446.2 344.0 446.9 343.7 447.6 343.3 448.3 342.7 449.0 342.1 449.7 341.4 450.4 340.7 451.1 339.9 451.8 339.1 452.5 338.4 453.2 337.6 453.9 336.7 454.6 335.9 455.3 335.1 456.0 334.3 456.7 333.5 457.3 332.7 458.0 331.9 458.7 331.0 459.4 330.2 460.1 329.3 460.8 328.5 461.5 327.7 462.2 326.8 462.9 326.0 463.6 325.1 464.3 324.3 465.0 323.5 465.7 322.8 466.4 322.1 467.1 321.4 467.8 320.8 468.4 320.2 469.1 319.6 469.8 319.1 470.5 318.6 471.2 318.1 471.9 317.6 472.6 317.2 473.3 316.7 474.0 316.3 474.7 316.0 475.4 315.6 476.1 315.3 476.8 315.0 477.5 314.8 478.2 314.5 478.9 314.3 479.5 314.2 480.2 314.1 480.9 314.0 481.6 313.9 482.3 313.9 483.0 313.9 483.7 313.9 484.4 313.9 485.1 314.0 485.8 314.1 486.5 314.2 487.2 314.4 487.9 314.5 488.6 314.7 489.3 314.9 490.0 315.1 490.6 315.4 491.3 315.6 492.0 315.9 492.7 316.1 493.4 316.4 494.1 316.6 494.8 316.9 495.5 317.2 496.2 317.4 496.9 317.7 497.6 317.9 498.3 318.2 499.0 318.4 499.7 318.6 500.4 318.8 501.1 319.1 501.7 319.3 502.4 319.4 503.1 319.6 503.8 319.8 504.5 320.0 505.2 320.1 505.9 320.2 506.6 320.4 507.3 320.5 508.0 320.6 508.7 320.7 509.4 320.8 510.1 320.9 510.8 321.0 511.5 321.0 512.2 321.1 512.8 321.1 513.5 321.2 514.2 321.2 514.9 321.3 515.6 321.3 516.3 321.3 517.0 321.3 517.7 321.4 518.4 321.4 519.1 321.4 519.8 321.4 520.5 321.4 521.2 321.4 521.9 321.4 522.6 321.4 523.2 321.4 523.9 321.4" stroke="#2a7fd8" stroke-width="1.3" stroke-opacity="0.5"/>
<path d="M434.5 225.9L435.2 250.5 435.8 269.9 436.5 285.3 437.2 297.4 437.9 307.0 438.6 314.5 439.3 320.3 440.0 325.7 440.7 329.9 441.4 333.2 442.1 335.5 442.8 337.2 443.5 338.4 444.2 339.1 444.9 339.5 445.6 339.6 446.2 339.6 446.9 339.3 447.6 339.0 448.3 338.6 449.0 338.1 449.7 337.5 450.4 336.9 451.1 336.3 451.8 335.7 452.5 335.0 453.2 334.4 453.9 333.8 454.6 333.1 455.3 332.5 456.0 331.8 456.7 331.2 457.3 330.5 458.0 329.9 458.7 329.2 459.4 328.5 460.1 327.9 460.8 327.2 461.5 326.5 462.2 325.9 462.9 325.2 463.6 324.6 464.3 323.9 465.0 323.3 465.7 322.7 466.4 322.2 467.1 321.7 467.8 321.2 468.4 320.7 469.1 320.3 469.8 319.9 470.5 319.5 471.2 319.1 471.9 318.7 472.6 318.3 473.3 318.0 474.0 317.7 474.7 317.4 475.4 317.1 476.1 316.9 476.8 316.7 477.5 316.5 478.2 316.3 478.9 316.1 479.5 316.0 480.2 315.9 480.9 315.8 481.6 315.8 482.3 315.8 483.0 315.7 483.7 315.8 484.4 315.8 485.1 315.8 485.8 315.9 486.5 316.0 487.2 316.1 487.9 316.2 488.6 316.4 489.3 316.5 490.0 316.7 490.6 316.9 491.3 317.0 492.0 317.2 492.7 317.4 493.4 317.6 494.1 317.8 494.8 318.0 495.5 318.2 496.2 318.4 496.9 318.6 497.6 318.8 498.3 318.9 499.0 319.1 499.7 319.3 500.4 319.5 501.1 319.6 501.7 319.8 502.4 319.9 503.1 320.1 503.8 320.2 504.5 320.3 505.2 320.4 505.9 320.5 506.6 320.6 507.3 320.7 508.0 320.8 508.7 320.9 509.4 320.9 510.1 321.0 510.8 321.0 511.5 321.1 512.2 321.1 512.8 321.2 513.5 321.2 514.2 321.2 514.9 321.3 515.6 321.3 516.3 321.3 517.0 321.3 517.7 321.3 518.4 321.4 519.1 321.4 519.8 321.4 520.5 321.4 521.2 321.4 521.9 321.4 522.6 321.4 523.2 321.4 523.9 321.4" stroke="#2a7fd8" stroke-width="1.3" stroke-opacity="0.5"/>
<path d="M434.5 225.9L435.2 250.5 435.8 269.9 436.5 285.3 437.2 297.4 437.9 307.0 438.6 314.5 439.3 320.3 440.0 327.1 440.7 332.7 441.4 337.0 442.1 340.1 442.8 342.3 443.5 343.9 444.2 344.8 444.9 345.4 445.6 345.5 446.2 345.4 446.9 345.1 447.6 344.7 448.3 344.1 449.0 343.4 449.7 342.7 450.4 341.9 451.1 341.1 451.8 340.3 452.5 339.5 453.2 338.7 453.9 337.9 454.6 337.1 455.3 336.3 456.0 335.5 456.7 334.7 457.3 333.9 458.0 333.2 458.7 332.4 459.4 331.7 460.1 330.9 460.8 330.2 461.5 329.5 462.2 328.8 462.9 328.1 463.6 327.5 464.3 326.8 465.0 326.2 465.7 325.6 466.4 325.1 467.1 324.5 467.8 324.0 468.4 323.6 469.1 323.1 469.8 322.7 470.5 322.3 471.2 321.9 471.9 321.5 472.6 321.2 473.3 320.9 474.0 320.5 474.7 320.2 475.4 320.0 476.1 319.7 476.8 319.5 477.5 319.3 478.2 319.1 478.9 318.9 479.5 318.8 480.2 318.6 480.9 318.5 481.6 318.4 482.3 318.4 483.0 318.3 483.7 318.3 484.4 318.3 485.1 318.3 485.8 318.3 486.5 318.3 487.2 318.4 487.9 318.4 488.6 318.5 489.3 318.6 490.0 318.6 490.6 318.7 491.3 318.8 492.0 318.9 492.7 319.1 493.4 319.2 494.1 319.3 494.8 319.4 495.5 319.5 496.2 319.7 496.9 319.8 497.6 319.9 498.3 320.0 499.0 320.1 499.7 320.2 500.4 320.3 501.1 320.4 501.7 320.5 502.4 320.6 503.1 320.7 503.8 320.8 504.5 320.9 505.2 320.9 505.9 321.0 506.6 321.1 507.3 321.1 508.0 321.2 508.7 321.2 509.4 321.3 510.1 321.3 510.8 321.3 511.5 321.3 512.2 321.4 512.8 321.4 513.5 321.4 514.2 321.4 514.9 321.4 515.6 321.5 516.3 321.5 517.0 321.5 517.7 321.5 518.4 321.5 519.1 321.5 519.8 321.5 520.5 321.5 521.2 321.5 521.9 321.5 522.6 321.5 523.2 321.5 523.9 321.5" stroke="#2a7fd8" stroke-width="1.3" stroke-opacity="0.5"/>
<path d="M434.5 225.9L435.2 250.5 435.8 269.9 436.5 285.3 437.2 297.4 437.9 307.0 438.6 314.5 439.3 320.3 440.0 327.4 440.7 333.4 441.4 337.9 442.1 341.3 442.8 343.6 443.5 345.2 444.2 346.3 444.9 346.8 445.6 347.0 446.2 346.9 446.9 346.6 447.6 346.1 448.3 345.5 449.0 344.8 449.7 344.0 450.4 343.2 451.1 342.4 451.8 341.5 452.5 340.6 453.2 339.8 453.9 338.9 454.6 338.1 455.3 337.3 456.0 336.5 456.7 335.7 457.3 335.0 458.0 334.2 458.7 333.5 459.4 332.8 460.1 332.2 460.8 331.5 461.5 330.9 462.2 330.2 462.9 329.7 463.6 329.1 464.3 328.5 465.0 328.0 465.7 327.5 466.4 327.0 467.1 326.6 467.8 326.2 468.4 325.8 469.1 325.4 469.8 325.0 470.5 324.7 471.2 324.3 471.9 324.0 472.6 323.7 473.3 323.4 474.0 323.2 474.7 322.9 475.4 322.7 476.1 322.5 476.8 322.3 477.5 322.1 478.2 321.9 478.9 321.7 479.5 321.6 480.2 321.5 480.9 321.3 481.6 321.2 482.3 321.1 483.0 321.0 483.7 321.0 484.4 320.9 485.1 320.9 485.8 320.8 486.5 320.8 487.2 320.8 487.9 320.8 488.6 320.8 489.3 320.8 490.0 320.8 490.6 320.8 491.3 320.8 492.0 320.8 492.7 320.9 493.4 320.9 494.1 320.9 494.8 321.0 495.5 321.0 496.2 321.0 496.9 321.1 497.6 321.1 498.3 321.1 499.0 321.2 499.7 321.2 500.4 321.3 501.1 321.3 501.7 321.3 502.4 321.3 503.1 321.4 503.8 321.4 504.5 321.4 505.2 321.4 505.9 321.5 506.6 321.5 507.3 321.5 508.0 321.5 508.7 321.5 509.4 321.5 510.1 321.5 510.8 321.6 511.5 321.6 512.2 321.6 512.8 321.6 513.5 321.6 514.2 321.6 514.9 321.6 515.6 321.6 516.3 321.6 517.0 321.6 517.7 321.6 518.4 321.5 519.1 321.5 519.8 321.5 520.5 321.5 521.2 321.5 521.9 321.5 522.6 321.5 523.2 321.5 523.9 321.5" stroke="#2a7fd8" stroke-width="1.3" stroke-opacity="0.5"/>
<path d="M434.5 225.9L435.2 250.5 435.8 269.9 436.5 285.3 437.2 297.4 437.9 307.0 438.6 314.5 439.3 320.3 440.0 327.8 440.7 334.1 441.4 338.9 442.1 342.4 442.8 344.9 443.5 346.6 444.2 347.7 444.9 348.3 445.6 348.5 446.2 348.4 446.9 348.0 447.6 347.5 448.3 346.9 449.0 346.1 449.7 345.3 450.4 344.5 451.1 343.6 451.8 342.7 452.5 341.8 453.2 340.9 453.9 340.0 454.6 339.2 455.3 338.3 456.0 337.5 456.7 336.8 457.3 336.0 458.0 335.3 458.7 334.6 459.4 334.0 460.1 333.4 460.8 332.8 461.5 332.2 462.2 331.7 462.9 331.2 463.6 330.7 464.3 330.2 465.0 329.8 465.7 329.4 466.4 329.0 467.1 328.6 467.8 328.3 468.4 327.9 469.1 327.6 469.8 327.3 470.5 327.0 471.2 326.8 471.9 326.5 472.6 326.3 473.3 326.0 474.0 325.8 474.7 325.6 475.4 325.4 476.1 325.2 476.8 325.0 477.5 324.9 478.2 324.7 478.9 324.6 479.5 324.4 480.2 324.3 480.9 324.1 481.6 324.0 482.3 323.9 483.0 323.8 483.7 323.7 484.4 323.6 485.1 323.5 485.8 323.4 486.5 323.3 487.2 323.2 487.9 323.1 488.6 323.1 489.3 323.0 490.0 322.9 490.6 322.8 491.3 322.8 492.0 322.7 492.7 322.7 493.4 322.6 494.1 322.6 494.8 322.5 495.5 322.5 496.2 322.4 496.9 322.4 497.6 322.3 498.3 322.3 499.0 322.2 499.7 322.2 500.4 322.2 501.1 322.1 501.7 322.1 502.4 322.1 503.1 322.0 503.8 322.0 504.5 322.0 505.2 322.0 505.9 321.9 506.6 321.9 507.3 321.9 508.0 321.9 508.7 321.8 509.4 321.8 510.1 321.8 510.8 321.8 511.5 321.8 512.2 321.7 512.8 321.7 513.5 321.7 514.2 321.7 514.9 321.7 515.6 321.7 516.3 321.7 517.0 321.6 517.7 321.6 518.4 321.6 519.1 321.6 519.8 321.6 520.5 321.6 521.2 321.6 521.9 321.6 522.6 321.6 523.2 321.5 523.9 321.5" stroke="#2a7fd8" stroke-width="1.3" stroke-opacity="0.5"/>
<path d="M434.5 225.9L435.2 250.5 435.8 269.9 436.5 285.3 437.2 297.4 437.9 307.0 438.6 314.5 439.3 320.3 440.0 326.4 440.7 331.3 441.4 335.1 442.1 337.8 442.8 339.8 443.5 341.1 444.2 342.0 444.9 342.4 445.6 342.6 446.2 342.5 446.9 342.2 447.6 341.8 448.3 341.3 449.0 340.7 449.7 340.1 450.4 339.4 451.1 338.7 451.8 338.0 452.5 337.3 453.2 336.7 453.9 336.0 454.6 335.3 455.3 334.7 456.0 334.1 456.7 333.5 457.3 332.9 458.0 332.4 458.7 331.9 459.4 331.4 460.1 330.9 460.8 330.5 461.5 330.1 462.2 329.7 462.9 329.3 463.6 329.0 464.3 328.7 465.0 328.4 465.7 328.1 466.4 327.8 467.1 327.6 467.8 327.3 468.4 327.1 469.1 326.9 469.8 326.6 470.5 326.5 471.2 326.3 471.9 326.1 472.6 325.9 473.3 325.8 474.0 325.6 474.7 325.5 475.4 325.3 476.1 325.2 476.8 325.1 477.5 324.9 478.2 324.8 478.9 324.7 479.5 324.6 480.2 324.5 480.9 324.4 481.6 324.3 482.3 324.2 483.0 324.1 483.7 324.0 484.4 323.9 485.1 323.8 485.8 323.7 486.5 323.6 487.2 323.6 487.9 323.5 488.6 323.4 489.3 323.3 490.0 323.2 490.6 323.2 491.3 323.1 492.0 323.0 492.7 322.9 493.4 322.9 494.1 322.8 494.8 322.7 495.5 322.7 496.2 322.6 496.9 322.5 497.6 322.5 498.3 322.4 499.0 322.4 499.7 322.3 500.4 322.3 501.1 322.2 501.7 322.2 502.4 322.1 503.1 322.1 503.8 322.0 504.5 322.0 505.2 322.0 505.9 321.9 506.6 321.9 507.3 321.9 508.0 321.8 508.7 321.8 509.4 321.8 510.1 321.8 510.8 321.7 511.5 321.7 512.2 321.7 512.8 321.7 513.5 321.7 514.2 321.6 514.9 321.6 515.6 321.6 516.3 321.6 517.0 321.6 517.7 321.6 518.4 321.5 519.1 321.5 519.8 321.5 520.5 321.5 521.2 321.5 521.9 321.5 522.6 321.5 523.2 321.5 523.9 321.5" stroke="#2a7fd8" stroke-width="1.3" stroke-opacity="0.5"/>
<path d="M434.5 225.9L435.2 250.5 435.8 269.9 436.5 285.3 437.2 297.4 437.9 307.0 438.6 314.5 439.3 320.3 440.0 325.2 440.7 329.0 441.4 331.9 442.1 334.0 442.8 335.6 443.5 336.6 444.2 337.3 444.9 337.6 445.6 337.7 446.2 337.7 446.9 337.5 447.6 337.1 448.3 336.8 449.0 336.3 449.7 335.8 450.4 335.3 451.1 334.7 451.8 334.2 452.5 333.6 453.2 333.1 453.9 332.5 454.6 332.0 455.3 331.4 456.0 330.9 456.7 330.3 457.3 329.8 458.0 329.3 458.7 328.8 459.4 328.3 460.1 327.8 460.8 327.3 461.5 326.8 462.2 326.3 462.9 325.8 463.6 325.4 464.3 324.9 465.0 324.5 465.7 324.1 466.4 323.7 467.1 323.3 467.8 323.0 468.4 322.7 469.1 322.4 469.8 322.1 470.5 321.8 471.2 321.5 471.9 321.3 472.6 321.0 473.3 320.8 474.0 320.6 474.7 320.4 475.4 320.2 476.1 320.0 476.8 319.8 477.5 319.7 478.2 319.5 478.9 319.4 479.5 319.3 480.2 319.2 480.9 319.2 481.6 319.1 482.3 319.1 483.0 319.0 483.7 319.0 484.4 319.0 485.1 319.0 485.8 319.0 486.5 319.0 487.2 319.1 487.9 319.1 488.6 319.2 489.3 319.2 490.0 319.3 490.6 319.4 491.3 319.4 492.0 319.5 492.7 319.6 493.4 319.7 494.1 319.8 494.8 319.9 495.5 320.0 496.2 320.1 496.9 320.1 497.6 320.2 498.3 320.3 499.0 320.4 499.7 320.5 500.4 320.5 501.1 320.6 501.7 320.7 502.4 320.8 503.1 320.8 503.8 320.9 504.5 320.9 505.2 321.0 505.9 321.0 506.6 321.1 507.3 321.1 508.0 321.2 508.7 321.2 509.4 321.2 510.1 321.3 510.8 321.3 511.5 321.3 512.2 321.3 512.8 321.3 513.5 321.3 514.2 321.4 514.9 321.4 515.6 321.4 516.3 321.4 517.0 321.4 517.7 321.4 518.4 321.4 519.1 321.4 519.8 321.4 520.5 321.4 521.2 321.4 521.9 321.4 522.6 321.4 523.2 321.4 523.9 321.4" stroke="#2a7fd8" stroke-width="1.3" stroke-opacity="0.5"/>
<path d="M434.5 162.3L435.2 200.0 435.8 229.9 436.5 253.6 437.2 272.4 437.9 287.3 438.6 299.0 439.3 308.2 440.0 315.4 440.7 321.0 441.4 325.3 442.1 328.6 442.8 331.1 443.5 332.9 444.2 334.2 444.9 335.1 445.6 335.6 446.2 335.9 446.9 336.0 447.6 335.9 448.3 335.7 449.0 335.4 449.7 335.0 450.4 334.6 451.1 334.2 451.8 333.7 452.5 333.2 453.2 332.8 453.9 332.3 454.6 331.8 455.3 331.3 456.0 330.9 456.7 330.4 457.3 330.0 458.0 329.6 458.7 329.2 459.4 328.8 460.1 328.4 460.8 328.1 461.5 327.7 462.2 327.4 462.9 327.1 463.6 326.8 464.3 326.6 465.0 326.3 465.7 326.1 466.4 325.8 467.1 325.6 467.8 325.4 468.4 325.2 469.1 325.0 469.8 324.8 470.5 324.7 471.2 324.5 471.9 324.3 472.6 324.2 473.3 324.1 474.0 323.9 474.7 323.8 475.4 323.7 476.1 323.6 476.8 323.5 477.5 323.4 478.2 323.3 478.9 323.2 479.5 323.1 480.2 323.0 480.9 322.9 481.6 322.9 482.3 322.8 483.0 322.7 483.7 322.7 484.4 322.6 485.1 322.5 485.8 322.5 486.5 322.4 487.2 322.4 487.9 322.3 488.6 322.3 489.3 322.3 490.0 322.2 490.6 322.2 491.3 322.1 492.0 322.1 492.7 322.1 493.4 322.0 494.1 322.0 494.8 322.0 495.5 321.9 496.2 321.9 496.9 321.9 497.6 321.9 498.3 321.8 499.0 321.8 499.7 321.8 500.4 321.8 501.1 321.8 501.7 321.7 502.4 321.7 503.1 321.7 503.8 321.7 504.5 321.7 505.2 321.7 505.9 321.6 506.6 321.6 507.3 321.6 508.0 321.6 508.7 321.6 509.4 321.6 510.1 321.6 510.8 321.6 511.5 321.5 512.2 321.5 512.8 321.5 513.5 321.5 514.2 321.5 514.9 321.5 515.6 321.5 516.3 321.5 517.0 321.5 517.7 321.5 518.4 321.5 519.1 321.4 519.8 321.4 520.5 321.4 521.2 321.4 521.9 321.4 522.6 321.4 523.2 321.4 523.9 321.4" stroke="#c8234f" stroke-width="2" stroke-dasharray="7.4 3.2"/>
</g>
<path d="M441.66 350.70 v-3.50 M441.66 262.30 v3.50 M493.09 350.70 v-3.50 M493.09 262.30 v3.50 M431.37 350.70 v-2.00 M431.37 262.30 v2.00 M451.94 350.70 v-2.00 M451.94 262.30 v2.00 M462.23 350.70 v-2.00 M462.23 262.30 v2.00 M472.51 350.70 v-2.00 M472.51 262.30 v2.00 M482.80 350.70 v-2.00 M482.80 262.30 v2.00 M503.37 350.70 v-2.00 M503.37 262.30 v2.00 M513.66 350.70 v-2.00 M513.66 262.30 v2.00 M428.80 350.70 h3.50 M518.80 350.70 h-3.50 M428.80 321.23 h3.50 M518.80 321.23 h-3.50 M428.80 291.77 h3.50 M518.80 291.77 h-3.50 M428.80 262.30 h3.50 M518.80 262.30 h-3.50 M428.80 343.33 h2.00 M518.80 343.33 h-2.00 M428.80 335.97 h2.00 M518.80 335.97 h-2.00 M428.80 328.60 h2.00 M518.80 328.60 h-2.00 M428.80 313.87 h2.00 M518.80 313.87 h-2.00 M428.80 306.50 h2.00 M518.80 306.50 h-2.00 M428.80 299.13 h2.00 M518.80 299.13 h-2.00 M428.80 284.40 h2.00 M518.80 284.40 h-2.00 M428.80 277.03 h2.00 M518.80 277.03 h-2.00 M428.80 269.67 h2.00 M518.80 269.67 h-2.00" stroke="#111" stroke-width="0.8" fill="none"/>
<rect x="428.80" y="262.30" width="90.00" height="88.40" fill="none" stroke="#111" stroke-width="1"/>
<text x="441.66" y="362.50" text-anchor="middle" font-size="13.3">1</text>
<text x="493.09" y="362.50" text-anchor="middle" font-size="13.3">2</text>
<text x="427.20" y="355.70" text-anchor="end" font-size="13.3">2</text>
<text x="409.41" y="355.70" font-size="13.30" textLength="10.07" lengthAdjust="spacingAndGlyphs">−</text>
<text x="427.20" y="326.23" text-anchor="end" font-size="13.3">0</text>
<text x="427.20" y="296.77" text-anchor="end" font-size="13.3">2</text>
<text x="427.20" y="267.30" text-anchor="end" font-size="13.3">4</text>
<line x1="451.5" y1="159.0" x2="474.2" y2="159.0" stroke="#f3a10f" stroke-width="3.4"/>
<line x1="452.5" y1="172.4" x2="473.2" y2="172.4" stroke="#2a7fd8" stroke-width="1" stroke-opacity="0.45"/>
<line x1="453.0" y1="185.9" x2="474.2" y2="185.9" stroke="#c8234f" stroke-width="2" stroke-dasharray="7.4 3.2"/>
<text x="480.28" y="163.30" font-size="9.80" textLength="12.22" lengthAdjust="spacingAndGlyphs">IBI</text>
<text x="480.35" y="176.20" font-size="9.80" textLength="7.32" lengthAdjust="spacingAndGlyphs">fit</text>
<text x="480.51" y="189.30" font-size="9.80" textLength="21.37" lengthAdjust="spacingAndGlyphs">target</text>
<text x="75.51" y="11.50" font-size="13.90" font-style="italic" textLength="7.78" lengthAdjust="spacingAndGlyphs">ρ</text>
<text x="86.72" y="11.50" font-size="13.90" textLength="12.13" lengthAdjust="spacingAndGlyphs">=</text>
<text x="103.84" y="11.50" font-size="13.90" textLength="20.51" lengthAdjust="spacingAndGlyphs">0.3</text>
<text x="200.01" y="11.50" font-size="13.90" font-style="italic" textLength="7.78" lengthAdjust="spacingAndGlyphs">ρ</text>
<text x="211.22" y="11.50" font-size="13.90" textLength="12.13" lengthAdjust="spacingAndGlyphs">=</text>
<text x="228.34" y="11.50" font-size="13.90" textLength="20.51" lengthAdjust="spacingAndGlyphs">0.5</text>
<text x="324.61" y="11.50" font-size="13.90" font-style="italic" textLength="7.78" lengthAdjust="spacingAndGlyphs">ρ</text>
<text x="335.82" y="11.50" font-size="13.90" textLength="12.13" lengthAdjust="spacingAndGlyphs">=</text>
<text x="352.95" y="11.50" font-size="13.90" textLength="20.34" lengthAdjust="spacingAndGlyphs">0.7</text>
<text x="444.05" y="11.70" font-size="14.60" textLength="58.37" lengthAdjust="spacingAndGlyphs">potential</text>
<text transform="translate(11.40 100.92) rotate(-90)" font-size="13.30" font-weight="bold" textLength="34.65" lengthAdjust="spacingAndGlyphs">Train</text>
<text transform="translate(11.80 60.36) rotate(-90)" font-size="14.10" font-weight="bold" font-style="italic" textLength="6.94" lengthAdjust="spacingAndGlyphs">ρ</text>
<text transform="translate(11.40 50.01) rotate(-90)" font-size="13.30" font-weight="bold" textLength="10.42" lengthAdjust="spacingAndGlyphs">=</text>
<text transform="translate(11.40 34.88) rotate(-90)" font-size="13.30" font-weight="bold" textLength="18.09" lengthAdjust="spacingAndGlyphs">0.3</text>
<text transform="translate(41.80 70.44) rotate(-90)" font-size="14.00" textLength="21.37" lengthAdjust="spacingAndGlyphs">g(r)</text>
<text transform="translate(11.40 224.57) rotate(-90)" font-size="13.30" font-weight="bold" textLength="34.65" lengthAdjust="spacingAndGlyphs">Train</text>
<text transform="translate(11.80 184.01) rotate(-90)" font-size="14.10" font-weight="bold" font-style="italic" textLength="6.94" lengthAdjust="spacingAndGlyphs">ρ</text>
<text transform="translate(11.40 173.66) rotate(-90)" font-size="13.30" font-weight="bold" textLength="10.42" lengthAdjust="spacingAndGlyphs">=</text>
<text transform="translate(11.40 158.53) rotate(-90)" font-size="13.30" font-weight="bold" textLength="18.09" lengthAdjust="spacingAndGlyphs">0.5</text>
<text transform="translate(41.80 194.09) rotate(-90)" font-size="14.00" textLength="21.37" lengthAdjust="spacingAndGlyphs">g(r)</text>
<text transform="translate(11.40 348.12) rotate(-90)" font-size="13.30" font-weight="bold" textLength="34.65" lengthAdjust="spacingAndGlyphs">Train</text>
<text transform="translate(11.80 307.56) rotate(-90)" font-size="14.10" font-weight="bold" font-style="italic" textLength="6.94" lengthAdjust="spacingAndGlyphs">ρ</text>
<text transform="translate(11.40 297.21) rotate(-90)" font-size="13.30" font-weight="bold" textLength="10.42" lengthAdjust="spacingAndGlyphs">=</text>
<text transform="translate(11.40 282.07) rotate(-90)" font-size="13.30" font-weight="bold" textLength="17.93" lengthAdjust="spacingAndGlyphs">0.7</text>
<text transform="translate(41.80 317.64) rotate(-90)" font-size="14.00" textLength="21.37" lengthAdjust="spacingAndGlyphs">g(r)</text>
<text x="96.64" y="378.00" font-size="15.00" font-style="italic" textLength="6.45" lengthAdjust="spacingAndGlyphs">r</text>
<text x="221.14" y="378.00" font-size="15.00" font-style="italic" textLength="6.45" lengthAdjust="spacingAndGlyphs">r</text>
<text x="345.74" y="378.00" font-size="15.00" font-style="italic" textLength="6.45" lengthAdjust="spacingAndGlyphs">r</text>
<text x="470.24" y="378.00" font-size="15.00" font-style="italic" textLength="6.45" lengthAdjust="spacingAndGlyphs">r</text>
<line x1="0" y1="126.0" x2="520" y2="126.0" stroke="#858585" stroke-width="1.4" stroke-dasharray="2.9 2.0"/>
<line x1="0" y1="248.9" x2="520" y2="248.9" stroke="#858585" stroke-width="1.4" stroke-dasharray="2.9 2.0"/>
</svg>
</body></html>
